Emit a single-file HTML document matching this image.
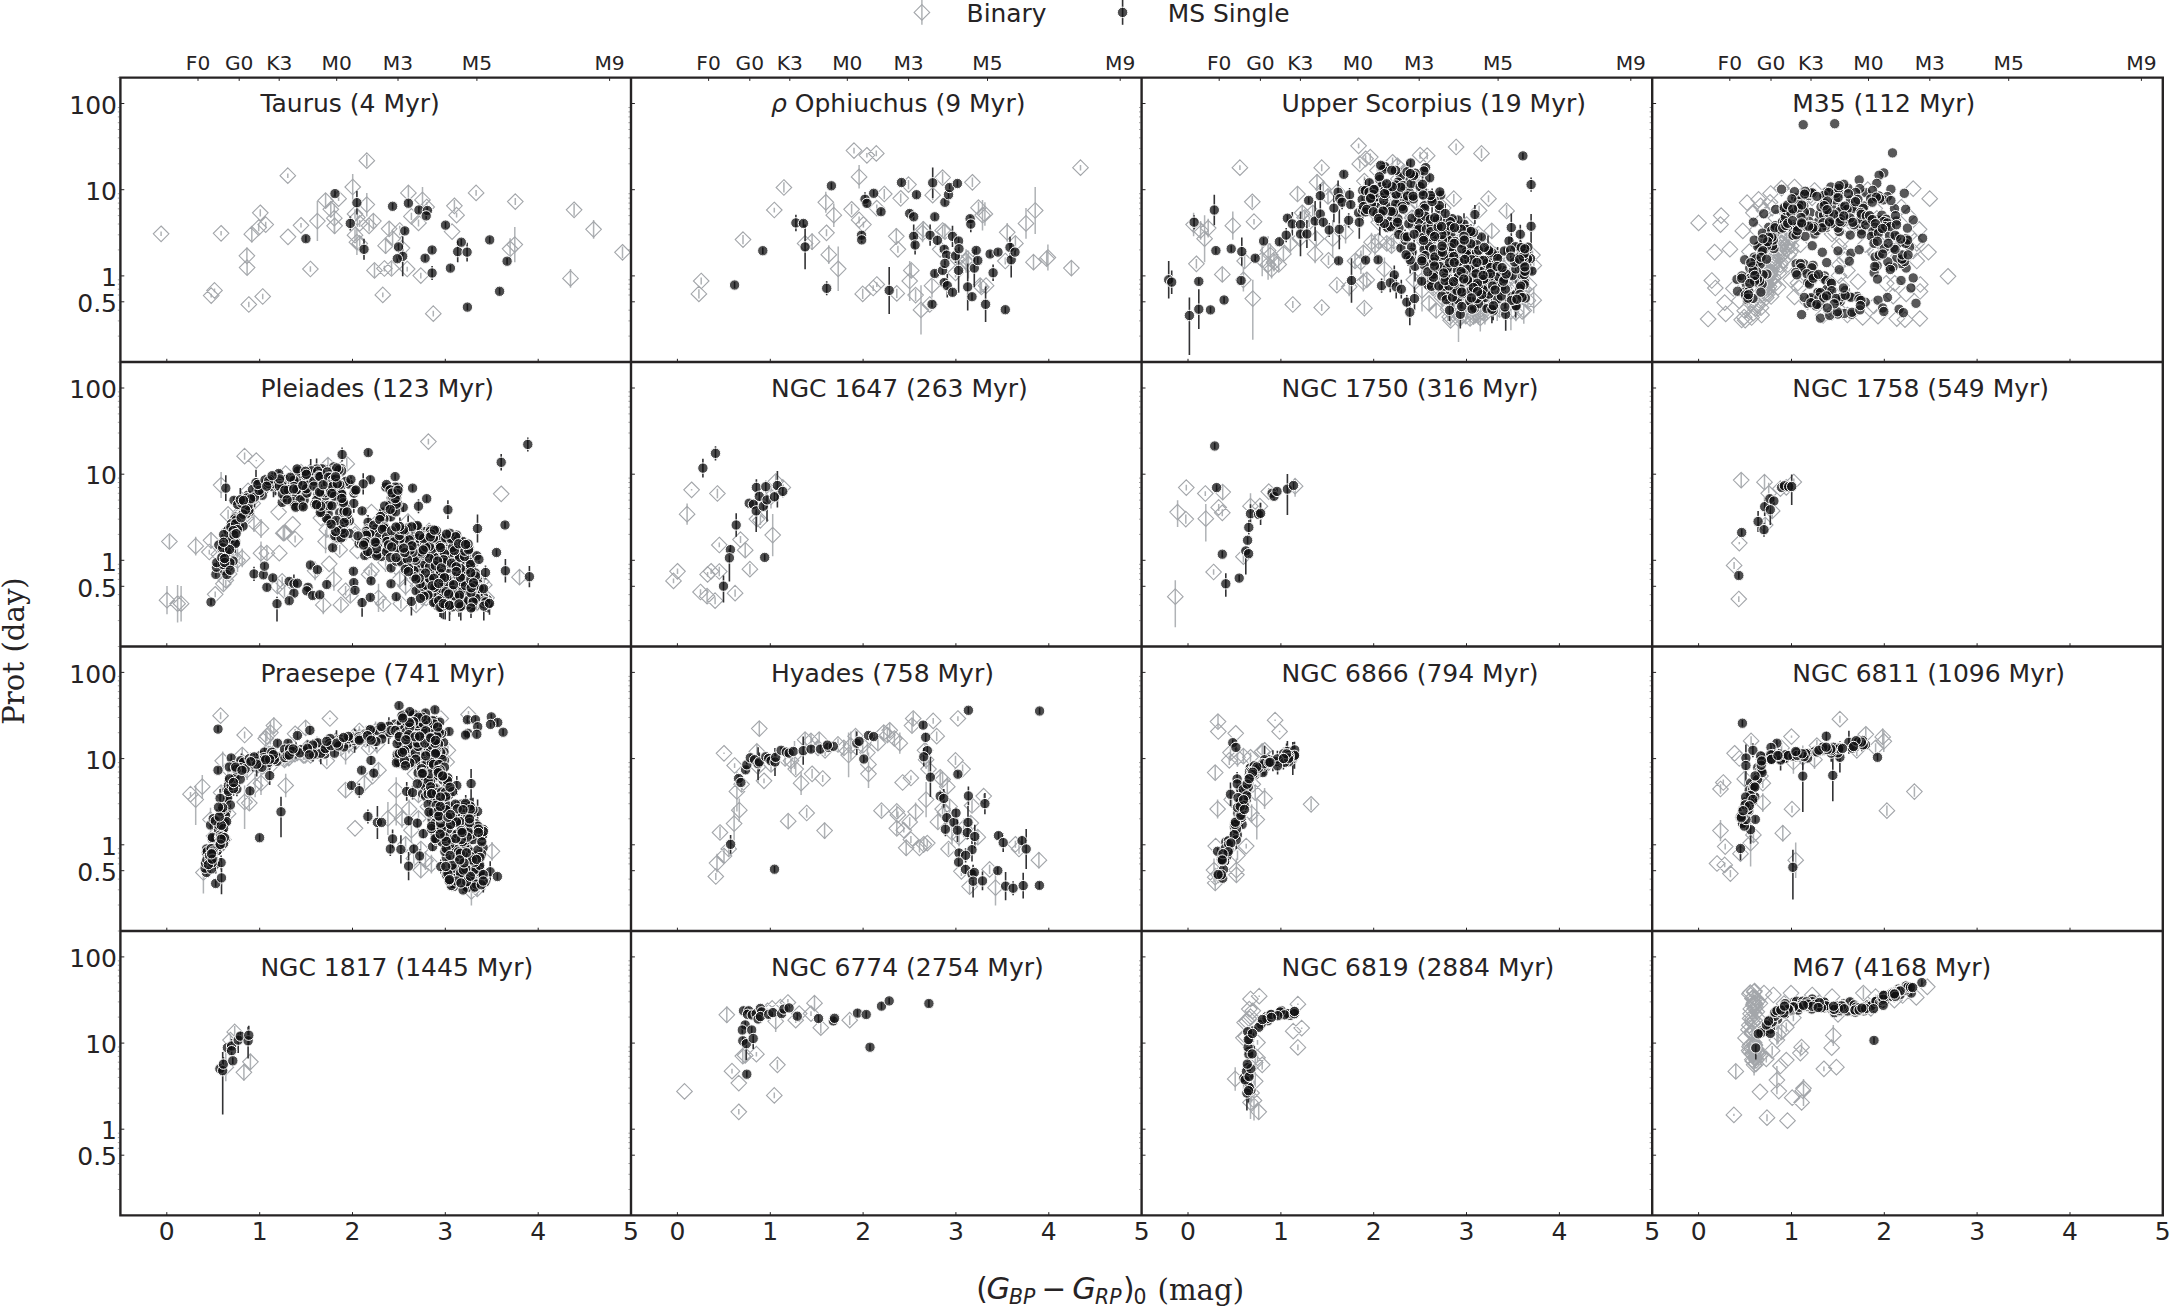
<!DOCTYPE html><html><head><meta charset="utf-8"><title>Prot vs colour</title><style>html,body{margin:0;padding:0;background:#fff}svg{display:block}text{font-family:"DejaVu Sans","Liberation Sans",sans-serif;fill:#262324}.s{font-family:"DejaVu Serif","Liberation Serif",serif}.i{font-style:italic}</style></head><body>
<svg width="2170" height="1306" viewBox="0 0 2170 1306">
<rect width="2170" height="1306" fill="#fff"/>
<path d="M161.1 231.4V236.1M221.1 230.9V235.6M211.2 293.7V297.4M214.5 288.5V292.3M248.8 301.7V307.3M262.7 293.7V299.3M246.9 247.6V264.1M247.1 260.5V274.6M251.8 226V242.4M258.7 224.1V231.2M260.3 209.3V216.4M265.7 221.8V227.4M287.8 173.4V178.1M301 222.9V227.6M310.4 266.2V271.8M317.4 201.1V241M325.6 193.6V207.7M330.8 201.1V217.5M334.3 204.1V232.3M334.6 217.5V234M338.6 196.4V201.1M352.7 174.1V199.9M355 209.3V218.7M357.4 208.1V226.9M359.7 219.9V226.9M355 229.3V241M356.9 229.3V255.1M359.7 236.3V250.4M366.8 154.8V166.5M366.8 192.9V216.4M369.1 219.9V231.6M373.4 214V228.1M374.5 263.4V277.5M382.8 292.5V297.2M384.4 265.7V271.4M385.6 237.5V254M389.1 221.8V235.9M391.5 261.5V275.6M392.6 231.6V245.7M399.7 225.8V235.2M402 243.4V252.8M407.2 266.7V271.4M408.4 185.8V199.9M411.4 212.8V219.9M418.5 219.4V226.5M420.8 272.8V278.4M422.5 187V212.8M426.7 202.3V211.7M433.3 310.8V316.5M454.4 199.9V211.7M456.6 212.8V217.5M476.1 190V195.7M510.1 238.2V259.4M515.3 198V205.1M514.8 226.9V262.2M574.1 203.9V215.7M570.5 269V287.8M593.6 219.9V238.7M622.5 246.4V258.2" stroke="#b0b3b6" stroke-width="1.5" fill="none"/><path d="M161.1 226l7.8 7.8l-7.8 7.8l-7.8 -7.8zM221.1 225.5l7.8 7.8l-7.8 7.8l-7.8 -7.8zM211.2 287.8l7.8 7.8l-7.8 7.8l-7.8 -7.8zM214.5 282.6l7.8 7.8l-7.8 7.8l-7.8 -7.8zM248.8 296.7l7.8 7.8l-7.8 7.8l-7.8 -7.8zM262.7 288.7l7.8 7.8l-7.8 7.8l-7.8 -7.8zM246.9 248l7.8 7.8l-7.8 7.8l-7.8 -7.8zM247.1 259.8l7.8 7.8l-7.8 7.8l-7.8 -7.8zM251.8 226.4l7.8 7.8l-7.8 7.8l-7.8 -7.8zM258.7 219.8l7.8 7.8l-7.8 7.8l-7.8 -7.8zM260.3 205l7.8 7.8l-7.8 7.8l-7.8 -7.8zM265.7 216.8l7.8 7.8l-7.8 7.8l-7.8 -7.8zM287.8 167.9l7.8 7.8l-7.8 7.8l-7.8 -7.8zM288 229l7.8 7.8l-7.8 7.8l-7.8 -7.8zM301 217.5l7.8 7.8l-7.8 7.8l-7.8 -7.8zM310.4 261.2l7.8 7.8l-7.8 7.8l-7.8 -7.8zM317.4 213.3l7.8 7.8l-7.8 7.8l-7.8 -7.8zM325.6 192.8l7.8 7.8l-7.8 7.8l-7.8 -7.8zM330.8 201.5l7.8 7.8l-7.8 7.8l-7.8 -7.8zM334.3 210.4l7.8 7.8l-7.8 7.8l-7.8 -7.8zM334.6 218l7.8 7.8l-7.8 7.8l-7.8 -7.8zM338.6 190.9l7.8 7.8l-7.8 7.8l-7.8 -7.8zM352.7 179.2l7.8 7.8l-7.8 7.8l-7.8 -7.8zM355 206.2l7.8 7.8l-7.8 7.8l-7.8 -7.8zM357.4 209.7l7.8 7.8l-7.8 7.8l-7.8 -7.8zM359.7 215.6l7.8 7.8l-7.8 7.8l-7.8 -7.8zM355 227.4l7.8 7.8l-7.8 7.8l-7.8 -7.8zM356.9 234.4l7.8 7.8l-7.8 7.8l-7.8 -7.8zM359.7 235.6l7.8 7.8l-7.8 7.8l-7.8 -7.8zM366.8 152.9l7.8 7.8l-7.8 7.8l-7.8 -7.8zM366.8 196.8l7.8 7.8l-7.8 7.8l-7.8 -7.8zM369.1 218l7.8 7.8l-7.8 7.8l-7.8 -7.8zM373.4 213.3l7.8 7.8l-7.8 7.8l-7.8 -7.8zM374.5 262.6l7.8 7.8l-7.8 7.8l-7.8 -7.8zM382.8 287.1l7.8 7.8l-7.8 7.8l-7.8 -7.8zM384.4 260.7l7.8 7.8l-7.8 7.8l-7.8 -7.8zM385.6 237.9l7.8 7.8l-7.8 7.8l-7.8 -7.8zM389.1 221l7.8 7.8l-7.8 7.8l-7.8 -7.8zM391.5 260.7l7.8 7.8l-7.8 7.8l-7.8 -7.8zM392.6 230.9l7.8 7.8l-7.8 7.8l-7.8 -7.8zM399.7 222.7l7.8 7.8l-7.8 7.8l-7.8 -7.8zM402 240.3l7.8 7.8l-7.8 7.8l-7.8 -7.8zM407.2 261.2l7.8 7.8l-7.8 7.8l-7.8 -7.8zM408.4 185.1l7.8 7.8l-7.8 7.8l-7.8 -7.8zM411.4 208.6l7.8 7.8l-7.8 7.8l-7.8 -7.8zM418.5 215.1l7.8 7.8l-7.8 7.8l-7.8 -7.8zM420.8 267.8l7.8 7.8l-7.8 7.8l-7.8 -7.8zM422.5 192.1l7.8 7.8l-7.8 7.8l-7.8 -7.8zM426.7 199.2l7.8 7.8l-7.8 7.8l-7.8 -7.8zM433.3 305.9l7.8 7.8l-7.8 7.8l-7.8 -7.8zM452.1 223.8l7.8 7.8l-7.8 7.8l-7.8 -7.8zM454.4 198l7.8 7.8l-7.8 7.8l-7.8 -7.8zM456.6 207.4l7.8 7.8l-7.8 7.8l-7.8 -7.8zM476.1 185.1l7.8 7.8l-7.8 7.8l-7.8 -7.8zM510.1 241l7.8 7.8l-7.8 7.8l-7.8 -7.8zM515.3 193.8l7.8 7.8l-7.8 7.8l-7.8 -7.8zM514.8 236.8l7.8 7.8l-7.8 7.8l-7.8 -7.8zM574.1 202l7.8 7.8l-7.8 7.8l-7.8 -7.8zM570.5 270.6l7.8 7.8l-7.8 7.8l-7.8 -7.8zM593.6 221.5l7.8 7.8l-7.8 7.8l-7.8 -7.8zM622.5 244.5l7.8 7.8l-7.8 7.8l-7.8 -7.8z" stroke="#a3a6aa" stroke-width="1.1" fill="none"/><path d="M335 190.4V196.8M356.9 191V214.5M350.3 216.4V230.5M305.9 235.5V241.9M364 238.7V259.8M392.6 203.1V209.5M408.4 200V206.4M418.9 206.8V213.2M427.4 207.3V213.7M426.2 212.7V219.1M404.8 227.7V234.1M398.5 243.7V250.1M402.7 236.3V276.3M397.3 255.5V261.9M425.1 255V261.4M432.1 246.8V253.2M432.1 265.9V280.1M445.5 221.9V228.3M450.4 264.9V271.3M457.7 241V262.2M461.3 239V245.4M467.1 242.7V261.5M467.4 303.9V310.3M489.7 236.7V243.1M499.6 288.1V294.5M507.1 258V264.4" stroke="#333335" stroke-width="1.6" fill="none"/><g fill="#111113" fill-opacity="0.75" stroke="#fff" stroke-width="1"><circle cx="335" cy="193.6" r="5.2"/><circle cx="356.9" cy="202.7" r="5.2"/><circle cx="350.3" cy="223.4" r="5.2"/><circle cx="305.9" cy="238.7" r="5.2"/><circle cx="364" cy="249.3" r="5.2"/><circle cx="392.6" cy="206.3" r="5.2"/><circle cx="408.4" cy="203.2" r="5.2"/><circle cx="418.9" cy="210" r="5.2"/><circle cx="427.4" cy="210.5" r="5.2"/><circle cx="426.2" cy="215.9" r="5.2"/><circle cx="404.8" cy="230.9" r="5.2"/><circle cx="398.5" cy="246.9" r="5.2"/><circle cx="402.7" cy="256.3" r="5.2"/><circle cx="397.3" cy="258.7" r="5.2"/><circle cx="425.1" cy="258.2" r="5.2"/><circle cx="432.1" cy="250" r="5.2"/><circle cx="432.1" cy="273" r="5.2"/><circle cx="445.5" cy="225.1" r="5.2"/><circle cx="450.4" cy="268.1" r="5.2"/><circle cx="457.7" cy="251.6" r="5.2"/><circle cx="461.3" cy="242.2" r="5.2"/><circle cx="467.1" cy="252.1" r="5.2"/><circle cx="467.4" cy="307.1" r="5.2"/><circle cx="489.7" cy="239.9" r="5.2"/><circle cx="499.6" cy="291.3" r="5.2"/><circle cx="507.1" cy="261.2" r="5.2"/></g>
<path d="M701.2 277.5V284.5M698.9 289.2V298.6M743 234.9V244.3M774.3 207.7V212.4M783.9 182.3V192.6M805.1 238.7V248.1M812.1 233.5V250M825.8 191.7V212.8M826.5 229.3V236.3M833.8 203.4V226.9M828.8 245.3V264.1M838.2 246.4V291.1M854 147.7V153.4M866.9 152.9V157.6M876.3 150.6V156.2M859.1 165.1V188.6M851.6 204.1V214.5M859.1 216.4V223.4M863.4 221.8V227.4M876.8 204.6V211.7M884.3 188.9V199.2M862.7 288.7V299.1M873.2 285.2V290.9M876.8 282.2V286.9M896.8 288.7V298.1M896.3 228.1V244.6M897.9 245.7V252.8M900.7 193.6V203M908.5 179.9V189.3M911.3 263.4V277.5M909.7 261V301M915.6 289.2V301M921 285.2V334.6M923.3 221.1V237.5M922.6 223.4V242.2M932 273.9V297.4M929.7 302.1V306.8M932.7 190.5V199.9M942.6 171.7V183.5M942.6 224.6V236.3M944.9 224.6V238.7M940.2 245.7V252.8M956.7 251.6V265.7M955.5 268.1V277.5M966.1 249.3V272.8M968.4 250.4V278.6M967.3 254V263.4M972.4 177.6V187M978.5 201.8V213.5M982.5 199.9V230.5M984.9 202.3V225.8M980.2 278.6V292.7M981.4 282.2V291.6M986.1 283.3V288M1007.2 222.9V241.7M1015.4 236.3V250.4M1005.3 257.5V264.5M1026 208.1V238.7M1035.2 187V234M1033.5 255.1V269.2M1046.7 251.6V265.7M1047.9 244.6V270.4M1071.4 261V275.1M1080.5 164.9V170.5" stroke="#b0b3b6" stroke-width="1.5" fill="none"/><path d="M701.2 273.2l7.8 7.8l-7.8 7.8l-7.8 -7.8zM698.9 286.1l7.8 7.8l-7.8 7.8l-7.8 -7.8zM743 231.8l7.8 7.8l-7.8 7.8l-7.8 -7.8zM774.3 202.2l7.8 7.8l-7.8 7.8l-7.8 -7.8zM783.9 179.7l7.8 7.8l-7.8 7.8l-7.8 -7.8zM805.1 235.6l7.8 7.8l-7.8 7.8l-7.8 -7.8zM812.1 233.9l7.8 7.8l-7.8 7.8l-7.8 -7.8zM825.8 194.5l7.8 7.8l-7.8 7.8l-7.8 -7.8zM826.5 225l7.8 7.8l-7.8 7.8l-7.8 -7.8zM833.8 207.4l7.8 7.8l-7.8 7.8l-7.8 -7.8zM828.8 246.9l7.8 7.8l-7.8 7.8l-7.8 -7.8zM838.2 261l7.8 7.8l-7.8 7.8l-7.8 -7.8zM854 142.8l7.8 7.8l-7.8 7.8l-7.8 -7.8zM866.9 147.5l7.8 7.8l-7.8 7.8l-7.8 -7.8zM876.3 145.6l7.8 7.8l-7.8 7.8l-7.8 -7.8zM859.1 169.1l7.8 7.8l-7.8 7.8l-7.8 -7.8zM851.6 201.5l7.8 7.8l-7.8 7.8l-7.8 -7.8zM859.1 212.1l7.8 7.8l-7.8 7.8l-7.8 -7.8zM863.4 216.8l7.8 7.8l-7.8 7.8l-7.8 -7.8zM876.8 200.3l7.8 7.8l-7.8 7.8l-7.8 -7.8zM884.3 186.2l7.8 7.8l-7.8 7.8l-7.8 -7.8zM862.7 286.1l7.8 7.8l-7.8 7.8l-7.8 -7.8zM873.2 280.2l7.8 7.8l-7.8 7.8l-7.8 -7.8zM876.8 276.7l7.8 7.8l-7.8 7.8l-7.8 -7.8zM896.8 285.6l7.8 7.8l-7.8 7.8l-7.8 -7.8zM896.3 228.5l7.8 7.8l-7.8 7.8l-7.8 -7.8zM897.9 241.5l7.8 7.8l-7.8 7.8l-7.8 -7.8zM900.7 190.5l7.8 7.8l-7.8 7.8l-7.8 -7.8zM908.5 176.8l7.8 7.8l-7.8 7.8l-7.8 -7.8zM911.3 262.6l7.8 7.8l-7.8 7.8l-7.8 -7.8zM909.7 273.2l7.8 7.8l-7.8 7.8l-7.8 -7.8zM915.6 287.3l7.8 7.8l-7.8 7.8l-7.8 -7.8zM921 302.1l7.8 7.8l-7.8 7.8l-7.8 -7.8zM923.3 221.5l7.8 7.8l-7.8 7.8l-7.8 -7.8zM922.6 225l7.8 7.8l-7.8 7.8l-7.8 -7.8zM932 277.9l7.8 7.8l-7.8 7.8l-7.8 -7.8zM929.7 296.7l7.8 7.8l-7.8 7.8l-7.8 -7.8zM932.7 187.4l7.8 7.8l-7.8 7.8l-7.8 -7.8zM942.6 169.8l7.8 7.8l-7.8 7.8l-7.8 -7.8zM942.6 222.7l7.8 7.8l-7.8 7.8l-7.8 -7.8zM944.9 223.8l7.8 7.8l-7.8 7.8l-7.8 -7.8zM940.2 241.5l7.8 7.8l-7.8 7.8l-7.8 -7.8zM956.7 250.9l7.8 7.8l-7.8 7.8l-7.8 -7.8zM955.5 265l7.8 7.8l-7.8 7.8l-7.8 -7.8zM966.1 253.2l7.8 7.8l-7.8 7.8l-7.8 -7.8zM968.4 256.7l7.8 7.8l-7.8 7.8l-7.8 -7.8zM967.3 250.9l7.8 7.8l-7.8 7.8l-7.8 -7.8zM972.4 174.5l7.8 7.8l-7.8 7.8l-7.8 -7.8zM978.5 199.9l7.8 7.8l-7.8 7.8l-7.8 -7.8zM982.5 207.4l7.8 7.8l-7.8 7.8l-7.8 -7.8zM984.9 206.2l7.8 7.8l-7.8 7.8l-7.8 -7.8zM980.2 277.9l7.8 7.8l-7.8 7.8l-7.8 -7.8zM981.4 279.1l7.8 7.8l-7.8 7.8l-7.8 -7.8zM986.1 277.9l7.8 7.8l-7.8 7.8l-7.8 -7.8zM1007.2 224.5l7.8 7.8l-7.8 7.8l-7.8 -7.8zM1015.4 235.6l7.8 7.8l-7.8 7.8l-7.8 -7.8zM1005.3 253.2l7.8 7.8l-7.8 7.8l-7.8 -7.8zM1026 215.6l7.8 7.8l-7.8 7.8l-7.8 -7.8zM1035.2 202.7l7.8 7.8l-7.8 7.8l-7.8 -7.8zM1033.5 254.4l7.8 7.8l-7.8 7.8l-7.8 -7.8zM1046.7 250.9l7.8 7.8l-7.8 7.8l-7.8 -7.8zM1047.9 249.7l7.8 7.8l-7.8 7.8l-7.8 -7.8zM1071.4 260.3l7.8 7.8l-7.8 7.8l-7.8 -7.8zM1080.5 159.9l7.8 7.8l-7.8 7.8l-7.8 -7.8z" stroke="#a3a6aa" stroke-width="1.1" fill="none"/><path d="M734.6 281.8V288.2M762.8 247.5V253.9M795.9 214.7V231.2M803.4 219.9V226.9M805.1 224.6V269.2M826.7 281.2V295.3M831.4 182.6V189M861.5 231.6V238.7M861.7 236.7V243.1M865 192.2V206.3M866.9 199.9V207M873.7 190.1V196.5M881 208.5V214.9M889.2 266.9V313.9M901.5 179.3V185.7M909.7 210.3V216.7M913.7 213.6V220M913.7 224.6V248.1M915.1 235.6V254.4M916.5 191.5V197.9M930.1 224.6V245.7M932 301.1V307.5M932.7 167.5V198M934.8 213.6V220M934.8 270.3V276.7M937.4 235.6V245M942.6 266.9V273.9M944.2 245.7V252.8M944.9 199.1V205.5M946.6 251.6V258.7M944.9 259.8V266.9M944.2 279.1V286.2M947.3 273.9V297.4M948.5 191.5V197.9M949.6 184.3V190.7M952.5 288.7V295.8M952.5 225.8V246.9M955.5 248.8V262.9M957.4 180.3V186.7M958.6 237.5V244.6M959 245.3V252.3M958.6 248.1V292.7M967.7 263.4V310.4M970.1 215.2V222.2M970.8 215.9V232.3M972 293.2V300.3M974.3 249.3V286.9M976.2 247.2V253.6M977.8 257.3V263.7M985.6 286.6V321.9M990.1 250.8V257.2M993.1 264.5V281M998 248.9V255.3M1005.3 306.5V312.9M1010 236.8V258M1011.2 242.2V277.5M1015 248.9V255.3" stroke="#333335" stroke-width="1.6" fill="none"/><g fill="#111113" fill-opacity="0.75" stroke="#fff" stroke-width="1"><circle cx="734.6" cy="285" r="5.2"/><circle cx="762.8" cy="250.7" r="5.2"/><circle cx="795.9" cy="222.9" r="5.2"/><circle cx="803.4" cy="223.4" r="5.2"/><circle cx="805.1" cy="246.9" r="5.2"/><circle cx="826.7" cy="288.3" r="5.2"/><circle cx="831.4" cy="185.8" r="5.2"/><circle cx="861.5" cy="235.2" r="5.2"/><circle cx="861.7" cy="239.9" r="5.2"/><circle cx="865" cy="199.2" r="5.2"/><circle cx="866.9" cy="203.4" r="5.2"/><circle cx="873.7" cy="193.3" r="5.2"/><circle cx="881" cy="211.7" r="5.2"/><circle cx="889.2" cy="290.4" r="5.2"/><circle cx="901.5" cy="182.5" r="5.2"/><circle cx="909.7" cy="213.5" r="5.2"/><circle cx="913.7" cy="216.8" r="5.2"/><circle cx="913.7" cy="236.3" r="5.2"/><circle cx="915.1" cy="245" r="5.2"/><circle cx="916.5" cy="194.7" r="5.2"/><circle cx="930.1" cy="235.2" r="5.2"/><circle cx="932" cy="304.3" r="5.2"/><circle cx="932.7" cy="182.8" r="5.2"/><circle cx="934.8" cy="216.8" r="5.2"/><circle cx="934.8" cy="273.5" r="5.2"/><circle cx="937.4" cy="240.3" r="5.2"/><circle cx="942.6" cy="270.4" r="5.2"/><circle cx="944.2" cy="249.3" r="5.2"/><circle cx="944.9" cy="202.3" r="5.2"/><circle cx="946.6" cy="255.1" r="5.2"/><circle cx="944.9" cy="263.4" r="5.2"/><circle cx="944.2" cy="282.6" r="5.2"/><circle cx="947.3" cy="285.7" r="5.2"/><circle cx="948.5" cy="194.7" r="5.2"/><circle cx="949.6" cy="187.5" r="5.2"/><circle cx="952.5" cy="292.3" r="5.2"/><circle cx="952.5" cy="236.3" r="5.2"/><circle cx="955.5" cy="255.8" r="5.2"/><circle cx="957.4" cy="183.5" r="5.2"/><circle cx="958.6" cy="241" r="5.2"/><circle cx="959" cy="248.8" r="5.2"/><circle cx="958.6" cy="270.4" r="5.2"/><circle cx="967.7" cy="286.9" r="5.2"/><circle cx="970.1" cy="218.7" r="5.2"/><circle cx="970.8" cy="224.1" r="5.2"/><circle cx="972" cy="296.7" r="5.2"/><circle cx="974.3" cy="268.1" r="5.2"/><circle cx="976.2" cy="250.4" r="5.2"/><circle cx="977.8" cy="260.5" r="5.2"/><circle cx="985.6" cy="304.3" r="5.2"/><circle cx="990.1" cy="254" r="5.2"/><circle cx="993.1" cy="272.8" r="5.2"/><circle cx="998" cy="252.1" r="5.2"/><circle cx="1005.3" cy="309.7" r="5.2"/><circle cx="1010" cy="247.4" r="5.2"/><circle cx="1011.2" cy="259.8" r="5.2"/><circle cx="1015" cy="252.1" r="5.2"/></g>
<path d="M1239.9 165.3V170M1252.3 195.9V207.6M1254 218.9V224.6M1232.8 211.6V239.8M1196.4 259.1V268.5M1193.6 212.8V236.3M1200.6 221V239.8M1208.2 218.7V237.5M1204.6 215.2V262.2M1222.3 267.3V281.4M1243.4 268V291.5M1252.8 279.8V339.7M1244.6 253.9V268M1262.2 243.4V276.3M1268.1 236.3V264.5M1270.4 243.4V266.9M1274 252.8V271.6M1268.1 249.2V279.8M1271.6 259.8V278.6M1278.7 257.5V271.6M1283.4 246.9V261M1292.8 300.9V308M1321.7 304V311.1M1364.4 302.4V314.1M1336.9 280.5V289.9M1328.5 255.6V265M1315.1 244.5V263.3M1316.3 231.6V245.7M1297.5 187V201.1M1302.2 205.8V219.9M1317 174V190.5M1321.7 164.2V171.2M1323.3 179.9V198.7M1328 189.3V203.4M1337.4 184.6V198.7M1358.6 143.5V148.2M1359.7 159.2V168.6M1365.6 155.2V162.3M1370.3 153.6V160.6M1364.4 176.4V185.8M1392.6 157.6V167M1397.4 159.9V171.7M1377.4 165.8V175.2M1420.1 151.7V158.8M1427.2 152.2V159.2M1456.1 143.5V150.5M1481.5 148.6V158.1M1453.8 194V203.4M1488.5 195.2V202.2M1506.6 205.1V216.8M1479.1 205.8V215.2M1443.2 203.4V212.8M1466.7 219.9V229.3M1491.8 223.9V238M1478.4 229.3V238.7M1532.5 250.4V259.8M1533.7 287.3V313.2M1526.6 262.2V276.3M1518.4 276.3V290.4M1516 281V295.1M1436.1 303.3V317.4M1429.1 296.2V310.3M1422 269.2V311.5M1413.8 270.4V289.2M1458.5 295.1V342.1M1478.4 305.6V324.4M1483.1 305.6V319.7M1497.2 292.7V320.9M1510.9 292.7V330.3M1447.9 297.4V320.9M1442 288V306.8M1438.5 278.6V297.4M1349.2 277.4V296.2M1363.3 272.7V291.5M1366.8 272.7V286.8M1355 253.9V268M1360.9 250.4V273.9M1363.3 245.7V259.8M1384.4 257.5V281M1371.5 232.8V251.6M1375 234V257.5M1378.5 234V248.1M1386.8 236.3V250.4M1391.5 238.7V252.8M1393.8 234V248.1M1332.7 219.9V257.5M1345.6 219.9V243.4M1290.4 234V252.8M1299.8 231.6V245.7M1309.2 217.5V226.9M1312.7 205.8V219.9M1304.5 210.5V224.6M1381.3 208.5V225.2M1427.7 191.3V202.7M1379.3 194.8V211.6M1397.4 187.3V203.5M1417 214.5V236.4M1369.3 197.9V214.5M1391 208.7V220.2M1394.7 184.9V207.2M1401.9 197.4V212.2M1373.7 206.2V217.5M1420.4 217.9V229.9M1399.9 184V194.7M1416.7 176.2V196M1415.1 221.5V233.6M1377.3 187.4V208M1398.3 170.6V187.3M1416.7 193.9V209.2M1385.1 199.6V217.3M1393.7 195.6V206M1380.2 213V226.1M1411.7 174.7V184.3M1379.6 183.3V192.8M1456.8 223.2V233.5M1462 270.8V291.5M1424.8 231.7V253.5M1434.1 236.3V259.6M1471.6 230.7V242.2M1450 234.7V247.3M1455.9 237.7V254.7M1503.1 257.4V277.7M1490.7 281.3V298M1503.3 276.3V292.3M1439 228.9V240.4M1432.9 269.2V281M1462.6 281.9V292.5M1480.9 254.4V270.8M1444.7 247V266.5M1493.3 281.4V298.7M1483 260.1V279M1484 273.7V284.9M1485.5 266.2V287.4M1445.1 255.6V272.8M1475 260.2V279.2M1484.3 244.6V254M1460.2 228.8V239.9M1465.5 230.8V252.2M1533.8 260.4V270.3M1516.5 267.2V278.2M1450.2 269.3V281.1M1487.4 283.5V299.4M1516.9 268.4V286.1M1529 278.4V291.5M1473.5 307.6V324.7M1457.5 272.2V295.2M1523.8 297.3V323.7M1456.2 277.9V287.9M1480.3 304.3V331.6M1468.2 273.7V283.7M1459.7 296.8V318.2M1453.9 298.1V315.8M1474 269.1V285.4M1460.9 307.2V317.1M1459.8 286V304.8M1497.1 261.7V280.4M1523.9 279.7V298.7M1489.1 297.3V309.5M1439 269.8V296M1474.9 289.1V303.5M1476.9 271.4V280.8M1478.4 266.4V277.6M1499.6 302.7V316M1449.7 312.2V321.6M1494.5 280.9V291M1460.9 309.4V325.6M1498.1 264V278.2M1462.1 286.1V295.9M1454.5 301.1V319.9M1450.6 314V326.6M1433.2 281.5V294.7M1515.9 303.6V321.2M1466.2 296.7V310M1476.8 306V320.9M1484.9 303.8V324.6M1527.9 294.3V306.4M1475.3 309.3V321M1517.2 259.3V283.5M1423.7 272.9V284.4M1465.8 308.2V324.1M1470.1 311.1V325.5M1432 265.6V293.6M1455.4 269.3V279.8" stroke="#b0b3b6" stroke-width="1.5" fill="none"/><path d="M1239.9 159.9l7.8 7.8l-7.8 7.8l-7.8 -7.8zM1252.3 194l7.8 7.8l-7.8 7.8l-7.8 -7.8zM1254 213.9l7.8 7.8l-7.8 7.8l-7.8 -7.8zM1232.8 217.9l7.8 7.8l-7.8 7.8l-7.8 -7.8zM1196.4 256l7.8 7.8l-7.8 7.8l-7.8 -7.8zM1193.6 216.8l7.8 7.8l-7.8 7.8l-7.8 -7.8zM1200.6 222.6l7.8 7.8l-7.8 7.8l-7.8 -7.8zM1208.2 220.3l7.8 7.8l-7.8 7.8l-7.8 -7.8zM1204.6 230.9l7.8 7.8l-7.8 7.8l-7.8 -7.8zM1222.3 266.6l7.8 7.8l-7.8 7.8l-7.8 -7.8zM1243.4 272l7.8 7.8l-7.8 7.8l-7.8 -7.8zM1252.8 290.8l7.8 7.8l-7.8 7.8l-7.8 -7.8zM1244.6 253.2l7.8 7.8l-7.8 7.8l-7.8 -7.8zM1262.2 252l7.8 7.8l-7.8 7.8l-7.8 -7.8zM1268.1 242.6l7.8 7.8l-7.8 7.8l-7.8 -7.8zM1270.4 247.3l7.8 7.8l-7.8 7.8l-7.8 -7.8zM1274 254.4l7.8 7.8l-7.8 7.8l-7.8 -7.8zM1268.1 256.7l7.8 7.8l-7.8 7.8l-7.8 -7.8zM1271.6 261.4l7.8 7.8l-7.8 7.8l-7.8 -7.8zM1278.7 256.7l7.8 7.8l-7.8 7.8l-7.8 -7.8zM1283.4 246.1l7.8 7.8l-7.8 7.8l-7.8 -7.8zM1292.8 296.7l7.8 7.8l-7.8 7.8l-7.8 -7.8zM1321.7 299.7l7.8 7.8l-7.8 7.8l-7.8 -7.8zM1364.4 300.4l7.8 7.8l-7.8 7.8l-7.8 -7.8zM1336.9 277.4l7.8 7.8l-7.8 7.8l-7.8 -7.8zM1328.5 252.5l7.8 7.8l-7.8 7.8l-7.8 -7.8zM1315.1 246.1l7.8 7.8l-7.8 7.8l-7.8 -7.8zM1316.3 230.9l7.8 7.8l-7.8 7.8l-7.8 -7.8zM1297.5 186.2l7.8 7.8l-7.8 7.8l-7.8 -7.8zM1302.2 205l7.8 7.8l-7.8 7.8l-7.8 -7.8zM1317 174.5l7.8 7.8l-7.8 7.8l-7.8 -7.8zM1321.7 159.9l7.8 7.8l-7.8 7.8l-7.8 -7.8zM1323.3 181.5l7.8 7.8l-7.8 7.8l-7.8 -7.8zM1328 188.6l7.8 7.8l-7.8 7.8l-7.8 -7.8zM1337.4 183.9l7.8 7.8l-7.8 7.8l-7.8 -7.8zM1358.6 138l7.8 7.8l-7.8 7.8l-7.8 -7.8zM1359.7 156.1l7.8 7.8l-7.8 7.8l-7.8 -7.8zM1365.6 151l7.8 7.8l-7.8 7.8l-7.8 -7.8zM1370.3 149.3l7.8 7.8l-7.8 7.8l-7.8 -7.8zM1364.4 173.3l7.8 7.8l-7.8 7.8l-7.8 -7.8zM1392.6 154.5l7.8 7.8l-7.8 7.8l-7.8 -7.8zM1397.4 158l7.8 7.8l-7.8 7.8l-7.8 -7.8zM1377.4 162.7l7.8 7.8l-7.8 7.8l-7.8 -7.8zM1420.1 147.4l7.8 7.8l-7.8 7.8l-7.8 -7.8zM1427.2 147.9l7.8 7.8l-7.8 7.8l-7.8 -7.8zM1456.1 139.2l7.8 7.8l-7.8 7.8l-7.8 -7.8zM1481.5 145.6l7.8 7.8l-7.8 7.8l-7.8 -7.8zM1453.8 190.9l7.8 7.8l-7.8 7.8l-7.8 -7.8zM1488.5 190.9l7.8 7.8l-7.8 7.8l-7.8 -7.8zM1506.6 203.1l7.8 7.8l-7.8 7.8l-7.8 -7.8zM1479.1 202.7l7.8 7.8l-7.8 7.8l-7.8 -7.8zM1443.2 200.3l7.8 7.8l-7.8 7.8l-7.8 -7.8zM1466.7 216.8l7.8 7.8l-7.8 7.8l-7.8 -7.8zM1491.8 223.1l7.8 7.8l-7.8 7.8l-7.8 -7.8zM1478.4 226.2l7.8 7.8l-7.8 7.8l-7.8 -7.8zM1532.5 247.3l7.8 7.8l-7.8 7.8l-7.8 -7.8zM1533.7 292.4l7.8 7.8l-7.8 7.8l-7.8 -7.8zM1526.6 261.4l7.8 7.8l-7.8 7.8l-7.8 -7.8zM1518.4 275.5l7.8 7.8l-7.8 7.8l-7.8 -7.8zM1516 280.2l7.8 7.8l-7.8 7.8l-7.8 -7.8zM1436.1 302.5l7.8 7.8l-7.8 7.8l-7.8 -7.8zM1429.1 295.5l7.8 7.8l-7.8 7.8l-7.8 -7.8zM1422 282.6l7.8 7.8l-7.8 7.8l-7.8 -7.8zM1413.8 272l7.8 7.8l-7.8 7.8l-7.8 -7.8zM1458.5 310.8l7.8 7.8l-7.8 7.8l-7.8 -7.8zM1478.4 307.2l7.8 7.8l-7.8 7.8l-7.8 -7.8zM1483.1 304.9l7.8 7.8l-7.8 7.8l-7.8 -7.8zM1497.2 299l7.8 7.8l-7.8 7.8l-7.8 -7.8zM1510.9 303.7l7.8 7.8l-7.8 7.8l-7.8 -7.8zM1447.9 301.4l7.8 7.8l-7.8 7.8l-7.8 -7.8zM1442 289.6l7.8 7.8l-7.8 7.8l-7.8 -7.8zM1438.5 280.2l7.8 7.8l-7.8 7.8l-7.8 -7.8zM1349.2 279l7.8 7.8l-7.8 7.8l-7.8 -7.8zM1363.3 274.3l7.8 7.8l-7.8 7.8l-7.8 -7.8zM1366.8 272l7.8 7.8l-7.8 7.8l-7.8 -7.8zM1355 253.2l7.8 7.8l-7.8 7.8l-7.8 -7.8zM1360.9 254.4l7.8 7.8l-7.8 7.8l-7.8 -7.8zM1363.3 245l7.8 7.8l-7.8 7.8l-7.8 -7.8zM1384.4 261.4l7.8 7.8l-7.8 7.8l-7.8 -7.8zM1371.5 234.4l7.8 7.8l-7.8 7.8l-7.8 -7.8zM1375 237.9l7.8 7.8l-7.8 7.8l-7.8 -7.8zM1378.5 233.2l7.8 7.8l-7.8 7.8l-7.8 -7.8zM1386.8 235.6l7.8 7.8l-7.8 7.8l-7.8 -7.8zM1391.5 237.9l7.8 7.8l-7.8 7.8l-7.8 -7.8zM1393.8 233.2l7.8 7.8l-7.8 7.8l-7.8 -7.8zM1332.7 230.9l7.8 7.8l-7.8 7.8l-7.8 -7.8zM1345.6 223.8l7.8 7.8l-7.8 7.8l-7.8 -7.8zM1290.4 235.6l7.8 7.8l-7.8 7.8l-7.8 -7.8zM1299.8 230.9l7.8 7.8l-7.8 7.8l-7.8 -7.8zM1309.2 214.4l7.8 7.8l-7.8 7.8l-7.8 -7.8zM1312.7 205l7.8 7.8l-7.8 7.8l-7.8 -7.8zM1304.5 209.7l7.8 7.8l-7.8 7.8l-7.8 -7.8zM1381.3 209l7.8 7.8l-7.8 7.8l-7.8 -7.8zM1400.6 190.1l7.8 7.8l-7.8 7.8l-7.8 -7.8zM1422 174.5l7.8 7.8l-7.8 7.8l-7.8 -7.8zM1403.7 166.5l7.8 7.8l-7.8 7.8l-7.8 -7.8zM1427.7 189.2l7.8 7.8l-7.8 7.8l-7.8 -7.8zM1379.3 195.4l7.8 7.8l-7.8 7.8l-7.8 -7.8zM1412 174.6l7.8 7.8l-7.8 7.8l-7.8 -7.8zM1397.4 187.6l7.8 7.8l-7.8 7.8l-7.8 -7.8zM1413.5 210.5l7.8 7.8l-7.8 7.8l-7.8 -7.8zM1390.2 196.1l7.8 7.8l-7.8 7.8l-7.8 -7.8zM1417 217.7l7.8 7.8l-7.8 7.8l-7.8 -7.8zM1369.3 198.4l7.8 7.8l-7.8 7.8l-7.8 -7.8zM1391 206.6l7.8 7.8l-7.8 7.8l-7.8 -7.8zM1394.7 188.2l7.8 7.8l-7.8 7.8l-7.8 -7.8zM1401.9 197l7.8 7.8l-7.8 7.8l-7.8 -7.8zM1419.3 205.7l7.8 7.8l-7.8 7.8l-7.8 -7.8zM1407.7 185.4l7.8 7.8l-7.8 7.8l-7.8 -7.8zM1373.7 204l7.8 7.8l-7.8 7.8l-7.8 -7.8zM1420.4 216.1l7.8 7.8l-7.8 7.8l-7.8 -7.8zM1399.9 181.5l7.8 7.8l-7.8 7.8l-7.8 -7.8zM1378.7 214.5l7.8 7.8l-7.8 7.8l-7.8 -7.8zM1416.7 178.3l7.8 7.8l-7.8 7.8l-7.8 -7.8zM1415.1 219.7l7.8 7.8l-7.8 7.8l-7.8 -7.8zM1391.8 188.1l7.8 7.8l-7.8 7.8l-7.8 -7.8zM1411.9 210l7.8 7.8l-7.8 7.8l-7.8 -7.8zM1380.7 201l7.8 7.8l-7.8 7.8l-7.8 -7.8zM1377.3 189.9l7.8 7.8l-7.8 7.8l-7.8 -7.8zM1398.3 171.1l7.8 7.8l-7.8 7.8l-7.8 -7.8zM1404 164.4l7.8 7.8l-7.8 7.8l-7.8 -7.8zM1409.7 203.7l7.8 7.8l-7.8 7.8l-7.8 -7.8zM1416.7 193.8l7.8 7.8l-7.8 7.8l-7.8 -7.8zM1371.5 191.6l7.8 7.8l-7.8 7.8l-7.8 -7.8zM1381.5 187.5l7.8 7.8l-7.8 7.8l-7.8 -7.8zM1385.1 200.6l7.8 7.8l-7.8 7.8l-7.8 -7.8zM1382.3 189.1l7.8 7.8l-7.8 7.8l-7.8 -7.8zM1420.5 174l7.8 7.8l-7.8 7.8l-7.8 -7.8zM1393.7 193l7.8 7.8l-7.8 7.8l-7.8 -7.8zM1380.2 211.7l7.8 7.8l-7.8 7.8l-7.8 -7.8zM1411.7 171.7l7.8 7.8l-7.8 7.8l-7.8 -7.8zM1379.6 180.3l7.8 7.8l-7.8 7.8l-7.8 -7.8zM1456.1 252l7.8 7.8l-7.8 7.8l-7.8 -7.8zM1456.8 220.6l7.8 7.8l-7.8 7.8l-7.8 -7.8zM1504.1 280.1l7.8 7.8l-7.8 7.8l-7.8 -7.8zM1467.6 232.5l7.8 7.8l-7.8 7.8l-7.8 -7.8zM1424.6 251.7l7.8 7.8l-7.8 7.8l-7.8 -7.8zM1462 273.3l7.8 7.8l-7.8 7.8l-7.8 -7.8zM1424.8 234.8l7.8 7.8l-7.8 7.8l-7.8 -7.8zM1421.8 230l7.8 7.8l-7.8 7.8l-7.8 -7.8zM1434.1 240.2l7.8 7.8l-7.8 7.8l-7.8 -7.8zM1486.1 238.9l7.8 7.8l-7.8 7.8l-7.8 -7.8zM1471.6 228.6l7.8 7.8l-7.8 7.8l-7.8 -7.8zM1500.1 265.9l7.8 7.8l-7.8 7.8l-7.8 -7.8zM1495 247.2l7.8 7.8l-7.8 7.8l-7.8 -7.8zM1469.2 265.8l7.8 7.8l-7.8 7.8l-7.8 -7.8zM1504.8 268.8l7.8 7.8l-7.8 7.8l-7.8 -7.8zM1450 233.2l7.8 7.8l-7.8 7.8l-7.8 -7.8zM1434 213.2l7.8 7.8l-7.8 7.8l-7.8 -7.8zM1455.9 238.4l7.8 7.8l-7.8 7.8l-7.8 -7.8zM1503.1 259.8l7.8 7.8l-7.8 7.8l-7.8 -7.8zM1433.3 253.9l7.8 7.8l-7.8 7.8l-7.8 -7.8zM1490.7 281.9l7.8 7.8l-7.8 7.8l-7.8 -7.8zM1503.3 276.5l7.8 7.8l-7.8 7.8l-7.8 -7.8zM1439 226.8l7.8 7.8l-7.8 7.8l-7.8 -7.8zM1445.6 263.3l7.8 7.8l-7.8 7.8l-7.8 -7.8zM1432.9 267.3l7.8 7.8l-7.8 7.8l-7.8 -7.8zM1462.6 279.4l7.8 7.8l-7.8 7.8l-7.8 -7.8zM1480.9 254.8l7.8 7.8l-7.8 7.8l-7.8 -7.8zM1444.7 248.9l7.8 7.8l-7.8 7.8l-7.8 -7.8zM1493.3 282.2l7.8 7.8l-7.8 7.8l-7.8 -7.8zM1483 261.8l7.8 7.8l-7.8 7.8l-7.8 -7.8zM1497.3 252.9l7.8 7.8l-7.8 7.8l-7.8 -7.8zM1445.1 245l7.8 7.8l-7.8 7.8l-7.8 -7.8zM1440.9 275.5l7.8 7.8l-7.8 7.8l-7.8 -7.8zM1430.1 240.8l7.8 7.8l-7.8 7.8l-7.8 -7.8zM1484 271.5l7.8 7.8l-7.8 7.8l-7.8 -7.8zM1430.9 219.4l7.8 7.8l-7.8 7.8l-7.8 -7.8zM1485.5 269l7.8 7.8l-7.8 7.8l-7.8 -7.8zM1506 256.8l7.8 7.8l-7.8 7.8l-7.8 -7.8zM1445.1 256.4l7.8 7.8l-7.8 7.8l-7.8 -7.8zM1491.4 260l7.8 7.8l-7.8 7.8l-7.8 -7.8zM1465.2 254.6l7.8 7.8l-7.8 7.8l-7.8 -7.8zM1428.1 240.1l7.8 7.8l-7.8 7.8l-7.8 -7.8zM1481.6 286.3l7.8 7.8l-7.8 7.8l-7.8 -7.8zM1475 261.9l7.8 7.8l-7.8 7.8l-7.8 -7.8zM1446.4 243.6l7.8 7.8l-7.8 7.8l-7.8 -7.8zM1417.5 216.1l7.8 7.8l-7.8 7.8l-7.8 -7.8zM1484.3 241.5l7.8 7.8l-7.8 7.8l-7.8 -7.8zM1432.1 267.9l7.8 7.8l-7.8 7.8l-7.8 -7.8zM1460.2 226.5l7.8 7.8l-7.8 7.8l-7.8 -7.8zM1465.5 233.7l7.8 7.8l-7.8 7.8l-7.8 -7.8zM1522.2 303.5l7.8 7.8l-7.8 7.8l-7.8 -7.8zM1533.8 257.6l7.8 7.8l-7.8 7.8l-7.8 -7.8zM1516.5 264.9l7.8 7.8l-7.8 7.8l-7.8 -7.8zM1444.7 275l7.8 7.8l-7.8 7.8l-7.8 -7.8zM1450.2 267.4l7.8 7.8l-7.8 7.8l-7.8 -7.8zM1487.4 283.6l7.8 7.8l-7.8 7.8l-7.8 -7.8zM1516.9 269.5l7.8 7.8l-7.8 7.8l-7.8 -7.8zM1529 277.1l7.8 7.8l-7.8 7.8l-7.8 -7.8zM1473.5 308.3l7.8 7.8l-7.8 7.8l-7.8 -7.8zM1457.5 275.9l7.8 7.8l-7.8 7.8l-7.8 -7.8zM1523.8 302.7l7.8 7.8l-7.8 7.8l-7.8 -7.8zM1456.2 275.1l7.8 7.8l-7.8 7.8l-7.8 -7.8zM1480.3 310.1l7.8 7.8l-7.8 7.8l-7.8 -7.8zM1468.2 270.9l7.8 7.8l-7.8 7.8l-7.8 -7.8zM1459.7 299.7l7.8 7.8l-7.8 7.8l-7.8 -7.8zM1453.9 299.2l7.8 7.8l-7.8 7.8l-7.8 -7.8zM1474 269.4l7.8 7.8l-7.8 7.8l-7.8 -7.8zM1460.9 304.3l7.8 7.8l-7.8 7.8l-7.8 -7.8zM1459.8 287.6l7.8 7.8l-7.8 7.8l-7.8 -7.8zM1497.1 263.3l7.8 7.8l-7.8 7.8l-7.8 -7.8zM1523.9 281.4l7.8 7.8l-7.8 7.8l-7.8 -7.8zM1489.1 295.6l7.8 7.8l-7.8 7.8l-7.8 -7.8zM1439 275.1l7.8 7.8l-7.8 7.8l-7.8 -7.8zM1474.9 288.5l7.8 7.8l-7.8 7.8l-7.8 -7.8zM1476.9 268.3l7.8 7.8l-7.8 7.8l-7.8 -7.8zM1521.7 287.2l7.8 7.8l-7.8 7.8l-7.8 -7.8zM1478.4 264.2l7.8 7.8l-7.8 7.8l-7.8 -7.8zM1499.6 301.5l7.8 7.8l-7.8 7.8l-7.8 -7.8zM1498.3 278.9l7.8 7.8l-7.8 7.8l-7.8 -7.8zM1524.1 281.2l7.8 7.8l-7.8 7.8l-7.8 -7.8zM1449.7 309.1l7.8 7.8l-7.8 7.8l-7.8 -7.8zM1494.5 278.1l7.8 7.8l-7.8 7.8l-7.8 -7.8zM1460.9 309.7l7.8 7.8l-7.8 7.8l-7.8 -7.8zM1498.1 263.3l7.8 7.8l-7.8 7.8l-7.8 -7.8zM1462.1 283.2l7.8 7.8l-7.8 7.8l-7.8 -7.8zM1454.5 302.7l7.8 7.8l-7.8 7.8l-7.8 -7.8zM1450.6 312.5l7.8 7.8l-7.8 7.8l-7.8 -7.8zM1433.2 280.3l7.8 7.8l-7.8 7.8l-7.8 -7.8zM1515.9 304.6l7.8 7.8l-7.8 7.8l-7.8 -7.8zM1466.2 295.6l7.8 7.8l-7.8 7.8l-7.8 -7.8zM1503.8 276.2l7.8 7.8l-7.8 7.8l-7.8 -7.8zM1476.8 305.6l7.8 7.8l-7.8 7.8l-7.8 -7.8zM1484.9 306.4l7.8 7.8l-7.8 7.8l-7.8 -7.8zM1527.9 292.6l7.8 7.8l-7.8 7.8l-7.8 -7.8zM1475.3 307.3l7.8 7.8l-7.8 7.8l-7.8 -7.8zM1506.3 298.1l7.8 7.8l-7.8 7.8l-7.8 -7.8zM1491.8 300l7.8 7.8l-7.8 7.8l-7.8 -7.8zM1514.5 291.9l7.8 7.8l-7.8 7.8l-7.8 -7.8zM1517.2 263.6l7.8 7.8l-7.8 7.8l-7.8 -7.8zM1484.6 301.1l7.8 7.8l-7.8 7.8l-7.8 -7.8zM1423.7 270.9l7.8 7.8l-7.8 7.8l-7.8 -7.8zM1465.8 308.4l7.8 7.8l-7.8 7.8l-7.8 -7.8zM1470.1 310.5l7.8 7.8l-7.8 7.8l-7.8 -7.8zM1432 271.8l7.8 7.8l-7.8 7.8l-7.8 -7.8zM1455.4 266.8l7.8 7.8l-7.8 7.8l-7.8 -7.8z" stroke="#a3a6aa" stroke-width="1.1" fill="none"/><path d="M1168.7 261V298.6M1171.7 270.4V293.9M1189.4 297.4V355M1198.8 278.2V284.6M1198.8 289.2V329.1M1210.5 306.7V313.1M1224.1 296.8V303.2M1194.1 215.2V229.3M1214.3 194.7V225.3M1215.9 247.4V253.8M1231.2 245.6V252M1241.8 237.5V265.7M1241.1 277.3V283.7M1255.2 255V261.4M1263.6 237.8V244.2M1279.4 238.2V245.2M1286.2 228.1V242.2M1287.4 214.7V221.7M1292.3 212.1V235.6M1300.5 215.2V234M1300.5 211.6V256.3M1306.9 219.9V248.1M1308.7 197.2V203.6M1315.1 201.1V241M1320.3 183.9V207.4M1320.3 206.9V221M1323.3 217.5V226.9M1329.2 222.9V237M1333.9 194V222.2M1338.1 180.4V203.9M1339.3 209.3V249.2M1339.8 194V203.4M1342.1 195.2V209.3M1343.8 171.1V177.5M1348.7 213.3V227.4M1349.6 187.9V202M1350.8 201.1V208.1M1338.6 257.6V264M1351.5 258.2V302.8M1358.6 205.8V219.9M1359.3 205.8V238.7M1362.8 187V194M1365.6 256.9V263.3M1378.1 256.6V263M1381.6 278.6V292.7M1394.3 265.5V284.3M1390.3 273.4V292.2M1396.2 275.1V298.6M1401.3 279.8V298.6M1406.8 295.1V309.2M1414.5 286.8V310.3M1409.8 299.3V325.2M1400.9 244.9V251.3M1522.9 152.7V159.1M1531.1 177.6V191.7M1531.1 214V244.5M1511.3 213.5V241.7M1520.3 224.8V243.6M1509 236.3V245.7M1474.9 205.1V223.9M1532 267.9V274.3M1525.4 294.6V301.6M1515.6 293.9V317.4M1505.7 297.9V330.8M1493.2 301.4V320.2M1460.3 300.2V328.4M1449.5 299.8V320.9M1503.9 268.6V275M1412.2 249V255.4M1433.5 217.1V223.5M1453.2 224.8V231.2M1439.4 205.8V212.2M1362.7 199.5V220.5M1497.1 268.4V274.8M1491.3 276.7V283.1M1450.8 231.6V238M1445.7 283V289.4M1512.1 293.2V299.6M1457.3 296.3V302.7M1415 251.1V281.5M1481.4 233.8V240.2M1471.9 246.3V252.7M1521 240.8V268.9M1484.8 284.5V310.7M1406.1 192V198.4M1432.1 259.8V278M1362.2 196.4V202.8M1385.9 185.5V191.9M1425.6 164.4V170.8M1384.9 163.4V169.8M1465.6 263.9V281.7M1491.8 269.2V275.6M1490 287.6V294M1440.8 191.8V198.2M1413.6 173.3V179.7M1464 213.3V235.2M1383 162V177.3M1399 224.8V231.2M1461.4 251.8V258.2M1432.1 233.1V247.4M1429.7 174.6V181M1400.5 168V184.2M1516.2 302.8V309.2M1434 234.8V241.2M1422.3 236V242.4M1376.2 203.9V210.3M1437.1 219.7V226.1M1371.4 200.7V207.1M1458 216.8V223.2M1379.7 165V193.8M1470.1 302.3V308.7M1493.7 266.7V273.1M1420.8 226.7V233.1M1405.3 237.1V243.5M1524.6 278.9V285.3M1398.9 231.4V237.8M1432.9 260.1V266.5M1460.5 275.1V293.2M1530.5 250V267.2M1448.4 265.5V271.9M1462.1 283.3V304.2M1442.5 218.8V225.2M1521.5 264V270.4M1488.2 257V263.4M1474.6 304.9V311.3M1482.3 290.8V297.2M1522.6 267.6V274M1516 280.2V308.2M1488 235.5V263.1M1434.1 196.1V202.5M1439.8 188.7V195.1M1443 283.8V290.2M1405 229.5V244M1489.1 275.9V282.3M1476 276.3V282.7M1382 182.4V188.8M1439.4 194.5V216.4M1452.1 215.4V221.8M1471.5 230.7V237.1M1471 277.6V284M1426.6 237.7V244.1M1497.3 252.5V258.9M1398.9 199.6V206M1424.5 212.7V219.1M1387.5 224.4V230.8M1514.2 296.5V302.9M1469.8 297.7V304.1M1375.9 184.6V209.2M1428.2 281.8V288.2M1511.4 297.2V303.6M1478.6 300.6V307M1521.3 271.2V277.6M1409.3 251.5V257.9M1422.5 204.7V236.4M1420.1 229.6V236M1380.7 162.1V168.5M1512.2 272.5V278.9M1408.1 248.3V265.8M1383.3 188.6V195M1431.7 195.5V201.9M1401.4 194V200.4M1417.1 214V220.4M1369.3 179.6V186M1433.3 267.6V288.9M1492.2 249.7V256.1M1441 251.1V257.5M1504.3 247.8V254.2M1476.8 290.1V307.4M1377 206.3V221.4M1527.5 243.7V273.8M1477.2 282.5V303.1M1377.4 185V201M1424.5 251.6V258M1515.8 265.8V272.2M1424.2 202.6V209M1497.3 280V286.4M1480.1 249.2V271M1393.7 187.1V193.5M1470.8 252V258.4M1501.7 283.6V290M1365.2 178.8V202.4M1409.3 189.3V195.7M1515.5 243.5V249.9M1437.8 247.7V272.9M1395.9 208V214.4M1492.9 262.2V268.6M1436.4 226.3V232.7M1465.7 257V263.4M1410.6 159.8V166.2M1393 205V211.4M1418.2 224.2V230.6M1423.9 167.7V174.1M1517.6 254.9V261.3M1497.8 290.3V307.5M1510.6 246.8V253.2M1395.6 167.2V173.6M1426.6 223.5V229.9M1426.7 229.3V235.7M1396 191.6V198M1523 249.9V275.2M1428.4 228V249M1449 275.6V282M1481.2 264.5V278.7M1383.2 206.3V212.7M1473.4 229.1V235.5M1420.3 209.1V215.5M1523.4 253.6V260M1452.5 249.6V256M1431.5 272.9V287.2M1461.7 303.3V309.7M1399.2 180.2V199.1M1448.6 237.3V243.7M1432.8 227.1V233.5M1527.9 243.9V250.3M1435.1 223.7V230.1M1497.6 247.1V269.9M1380.8 201.3V226.5M1432.1 188.5V214.8M1524.2 281.4V287.8M1363.4 203.4V209.8M1457.5 251.6V277M1455.3 238.3V244.7M1524.2 271.4V277.8M1446.5 293V299.4M1467.1 226.3V232.7M1465.8 273.1V279.5M1421.7 278V284.4M1429 255.2V261.6M1514.5 258.7V265.1M1463.8 257.2V285.6M1415.2 170V176.4M1444.4 259.7V277.4M1441.8 292.9V299.3M1510.8 254V260.4M1387.4 203.5V209.9M1457.4 267.1V273.5M1407.2 233.7V240.1M1429.1 229V235.4M1389.9 187.7V194.1M1519.4 284.8V291.2M1390.7 217.4V223.8M1411.6 243.8V250.2M1450.2 278.1V284.5M1394.8 212.6V235.1M1365.4 208.7V215.1M1385.3 192.3V198.7M1469 278.9V285.3M1379.3 173.5V179.9M1446.3 296.5V302.9M1524.2 250.3V256.7M1525 260.4V282.2M1469.7 266.1V272.5M1486.9 305.5V311.9M1501.3 292.9V299.3M1458 269.4V287.1M1374.3 186V192.4M1519.5 256.1V262.5M1431.8 267.9V284.6M1452.5 283V311.4M1473.7 251.3V257.7M1418.5 217.1V223.5M1398 178.9V185.3M1520.7 278.5V293.7M1424.7 199.9V216.6M1404.9 189.2V210.3M1431 230.6V237M1491.9 295.5V323.2M1450.2 244.4V250.8M1519.9 291.2V297.6M1445.8 228.6V235M1500.3 268.4V274.8M1486.7 249.7V276.9M1485 277V283.4M1521.2 244.3V250.7M1407 188.8V212.1M1470.9 224.3V238.6M1435.9 259.5V265.9M1366.8 206.2V212.6M1397.9 215.5V221.9M1410.2 246.3V273.6M1431.5 283.1V289.5M1472 272V278.4M1522.1 294.3V300.7M1483.9 285.3V291.7M1475.3 256.8V263.2M1400.8 190.4V196.8M1524.8 245.6V252M1395.7 189.8V217.8M1456.9 256.2V262.6M1493.4 302.5V308.9M1432.6 247.4V268.8M1438.8 249.2V255.6M1423.8 256V262.4M1393.5 208.7V215.1M1516.9 296.1V302.5M1498.9 273.7V280.1M1472.1 305.9V312.3M1504.9 303.8V310.2M1387.8 187.1V193.5M1505.4 286V292.4M1406.1 251.6V258M1424.1 234.9V263.9M1435.6 231V237.4M1438.4 222.5V228.9M1474.5 264.7V271.1M1470.5 278.9V303.1M1450.3 213.2V230.2M1489 290.9V297.3M1433.8 267.8V274.2M1369 189V195.4M1445.2 203.8V223.2M1454.6 280.6V297.6M1442.5 236.7V243.1M1450.4 255.7V262.1M1438.8 278.3V293.7M1391.1 208.2V214.6M1464.9 249.4V255.8M1370.3 195.5V201.9M1524.8 253.1V280.8M1391.8 167.1V173.5M1443.1 248.9V255.3M1407.5 192.8V199.2M1403 182.3V188.7M1422.8 188.2V194.6M1413.5 195.7V202.1M1425.4 213.1V219.5M1430.5 192.2V198.6M1408.8 220.6V227M1419.1 225.8V232.2M1411.1 180.5V186.9M1390.6 223.5V229.9M1373.5 208.6V215M1383.7 197.3V203.7M1420.1 183.4V189.8M1402.2 203.2V209.6M1396.1 191V197.4M1373.1 191.4V197.8M1413.7 172.2V178.6M1397.5 219V225.4M1403.2 205.9V212.3M1379.8 206.9V235.3M1412 214.9V221.3M1383.1 207.9V214.3M1384.6 190.3V196.7M1384.3 216.4V230.5M1378.6 215.3V221.7M1419 209.8V216.2M1407 162.3V181.4M1374 186.3V192.7M1413.1 193V199.4M1370.6 187.5V208.9M1423.2 191.8V198.2M1395.7 181.8V188.2M1400.8 184V190.4M1392.2 183.5V189.9M1386.7 180.6V187M1410.3 165.8V181.4M1422.5 168.6V199.9M1461.3 239.8V246.2M1439.3 253V259.4M1471.2 278.8V285.2M1461.3 226V232.4M1467.8 256.1V262.5M1423.1 234.2V240.6M1476.1 260.3V287.3M1460.7 285.9V292.3M1466.5 248.2V254.6M1487.5 270.1V276.5M1440.1 263.4V269.8M1461.7 274.6V281M1457 287.5V293.9M1443.4 244.9V251.3M1483.1 286.6V293M1466.4 265.9V272.3M1466.5 251.2V257.6M1426.4 225.9V232.3M1454.1 236.2V250.5M1436.1 218.2V224.6M1429.6 243.6V250M1478.2 282.5V288.9M1431.2 221.9V228.3M1445.6 274.3V280.7M1476.8 241.6V248M1458.8 258.2V264.6M1441.9 231.4V237.8M1433.7 246.2V252.6M1423.6 230.1V250.9M1424.6 256.9V263.3M1449.6 253.6V260M1483.6 269.2V289.3M1477.4 280V286.4M1504.5 275.7V282.1M1490.7 264.3V270.7M1467.5 276.8V283.2M1454.4 279.9V286.3M1481.7 291.3V297.7M1430.8 222V241.3M1448.9 276.7V295.1M1450.1 222.9V229.3M1439.1 217.5V233.4M1414.1 221.3V247.1M1483.4 257.2V263.6M1433.6 258.7V265.1M1433.4 271V277.4M1461.7 245.8V252.2M1444.1 252.4V258.8M1447.2 265.1V271.5M1503.1 267.2V273.6M1425.2 252.4V258.8M1440.7 248.7V255.1M1488.7 243.5V257.8M1470.8 240.6V247M1438 218.1V236.1M1454.5 224.5V230.9M1433.4 274.1V280.5M1430.3 216.1V222.5M1463.1 269.8V276.2M1445.1 277.5V283.9M1424.2 261.8V268.2M1434.6 233.3V239.7M1422.1 255.6V262M1434.8 253.8V260.2M1437.4 215.9V222.3M1473.3 284.3V290.7M1427.8 268.6V275M1463.9 233.1V239.5M1492.5 282.8V289.2M1453.7 242.5V270.6M1503.4 277.9V284.3M1471.8 256.5V262.9M1456.9 270.8V285.1M1434.5 262.8V269.2M1464.7 256.3V262.7M1458.5 273.4V279.8M1443.7 269.8V276.2M1434.7 214.5V220.9M1453.5 278.4V284.8M1476.9 259.3V265.7M1442.4 249.1V255.5M1441.5 223.3V229.7M1464.3 236.9V243.3M1478.7 247.1V253.5M1490.5 270.5V276.9M1449.4 251.2V274.4M1506.2 270.8V277.2M1421.9 257.7V264.1M1477.5 288.4V294.8M1461.8 288.9V295.3M1497.1 263.3V269.7M1471.4 294.7V301.1M1454.2 259.3V265.7M1461.1 268.3V274.7M1502.1 264.4V270.8M1495.1 286.8V293.2M1484.3 244.2V250.6M1463.8 275.8V282.2M1442.1 242.8V249.2M1483.1 272.2V278.6" stroke="#333335" stroke-width="1.6" fill="none"/><g fill="#111113" fill-opacity="0.75" stroke="#fff" stroke-width="1"><circle cx="1168.7" cy="279.8" r="5.2"/><circle cx="1171.7" cy="282.1" r="5.2"/><circle cx="1189.4" cy="315.5" r="5.2"/><circle cx="1198.8" cy="281.4" r="5.2"/><circle cx="1198.8" cy="309.2" r="5.2"/><circle cx="1210.5" cy="309.9" r="5.2"/><circle cx="1224.1" cy="300" r="5.2"/><circle cx="1194.1" cy="222.2" r="5.2"/><circle cx="1214.3" cy="210" r="5.2"/><circle cx="1215.9" cy="250.6" r="5.2"/><circle cx="1231.2" cy="248.8" r="5.2"/><circle cx="1241.8" cy="251.6" r="5.2"/><circle cx="1241.1" cy="280.5" r="5.2"/><circle cx="1255.2" cy="258.2" r="5.2"/><circle cx="1263.6" cy="241" r="5.2"/><circle cx="1279.4" cy="241.7" r="5.2"/><circle cx="1286.2" cy="235.1" r="5.2"/><circle cx="1287.4" cy="218.2" r="5.2"/><circle cx="1292.3" cy="223.9" r="5.2"/><circle cx="1300.5" cy="224.6" r="5.2"/><circle cx="1300.5" cy="234" r="5.2"/><circle cx="1306.9" cy="234" r="5.2"/><circle cx="1308.7" cy="200.4" r="5.2"/><circle cx="1315.1" cy="221" r="5.2"/><circle cx="1320.3" cy="195.7" r="5.2"/><circle cx="1320.3" cy="214" r="5.2"/><circle cx="1323.3" cy="222.2" r="5.2"/><circle cx="1329.2" cy="230" r="5.2"/><circle cx="1333.9" cy="208.1" r="5.2"/><circle cx="1338.1" cy="192.1" r="5.2"/><circle cx="1339.3" cy="229.3" r="5.2"/><circle cx="1339.8" cy="198.7" r="5.2"/><circle cx="1342.1" cy="202.2" r="5.2"/><circle cx="1343.8" cy="174.3" r="5.2"/><circle cx="1348.7" cy="220.3" r="5.2"/><circle cx="1349.6" cy="194.9" r="5.2"/><circle cx="1350.8" cy="204.6" r="5.2"/><circle cx="1338.6" cy="260.8" r="5.2"/><circle cx="1351.5" cy="280.5" r="5.2"/><circle cx="1358.6" cy="212.8" r="5.2"/><circle cx="1359.3" cy="222.2" r="5.2"/><circle cx="1362.8" cy="190.5" r="5.2"/><circle cx="1365.6" cy="260.1" r="5.2"/><circle cx="1378.1" cy="259.8" r="5.2"/><circle cx="1381.6" cy="285.7" r="5.2"/><circle cx="1394.3" cy="274.9" r="5.2"/><circle cx="1390.3" cy="282.8" r="5.2"/><circle cx="1396.2" cy="286.8" r="5.2"/><circle cx="1401.3" cy="289.2" r="5.2"/><circle cx="1406.8" cy="302.1" r="5.2"/><circle cx="1414.5" cy="298.6" r="5.2"/><circle cx="1409.8" cy="312.2" r="5.2"/><circle cx="1400.9" cy="248.1" r="5.2"/><circle cx="1522.9" cy="155.9" r="5.2"/><circle cx="1531.1" cy="184.6" r="5.2"/><circle cx="1531.1" cy="226.2" r="5.2"/><circle cx="1511.3" cy="227.6" r="5.2"/><circle cx="1520.3" cy="234.2" r="5.2"/><circle cx="1509" cy="241" r="5.2"/><circle cx="1474.9" cy="214.5" r="5.2"/><circle cx="1532" cy="271.1" r="5.2"/><circle cx="1525.4" cy="298.1" r="5.2"/><circle cx="1515.6" cy="305.6" r="5.2"/><circle cx="1505.7" cy="314.3" r="5.2"/><circle cx="1493.2" cy="310.8" r="5.2"/><circle cx="1460.3" cy="314.3" r="5.2"/><circle cx="1449.5" cy="310.3" r="5.2"/><circle cx="1503.9" cy="271.8" r="5.2"/><circle cx="1412.2" cy="252.2" r="5.2"/><circle cx="1433.5" cy="220.3" r="5.2"/><circle cx="1453.2" cy="228" r="5.2"/><circle cx="1439.4" cy="209" r="5.2"/><circle cx="1362.7" cy="210" r="5.2"/><circle cx="1497.1" cy="271.6" r="5.2"/><circle cx="1491.3" cy="279.9" r="5.2"/><circle cx="1450.8" cy="234.8" r="5.2"/><circle cx="1445.7" cy="286.2" r="5.2"/><circle cx="1512.1" cy="296.4" r="5.2"/><circle cx="1457.3" cy="299.5" r="5.2"/><circle cx="1415" cy="266.3" r="5.2"/><circle cx="1481.4" cy="237" r="5.2"/><circle cx="1471.9" cy="249.5" r="5.2"/><circle cx="1521" cy="254.9" r="5.2"/><circle cx="1484.8" cy="297.6" r="5.2"/><circle cx="1406.1" cy="195.2" r="5.2"/><circle cx="1432.1" cy="268.9" r="5.2"/><circle cx="1362.2" cy="199.6" r="5.2"/><circle cx="1385.9" cy="188.7" r="5.2"/><circle cx="1425.6" cy="167.6" r="5.2"/><circle cx="1384.9" cy="166.6" r="5.2"/><circle cx="1465.6" cy="272.8" r="5.2"/><circle cx="1491.8" cy="272.4" r="5.2"/><circle cx="1490" cy="290.8" r="5.2"/><circle cx="1440.8" cy="195" r="5.2"/><circle cx="1413.6" cy="176.5" r="5.2"/><circle cx="1464" cy="224.2" r="5.2"/><circle cx="1383" cy="169.6" r="5.2"/><circle cx="1399" cy="228" r="5.2"/><circle cx="1461.4" cy="255" r="5.2"/><circle cx="1432.1" cy="240.3" r="5.2"/><circle cx="1429.7" cy="177.8" r="5.2"/><circle cx="1400.5" cy="176.1" r="5.2"/><circle cx="1516.2" cy="306" r="5.2"/><circle cx="1434" cy="238" r="5.2"/><circle cx="1422.3" cy="239.2" r="5.2"/><circle cx="1376.2" cy="207.1" r="5.2"/><circle cx="1437.1" cy="222.9" r="5.2"/><circle cx="1371.4" cy="203.9" r="5.2"/><circle cx="1458" cy="220" r="5.2"/><circle cx="1379.7" cy="179.4" r="5.2"/><circle cx="1470.1" cy="305.5" r="5.2"/><circle cx="1493.7" cy="269.9" r="5.2"/><circle cx="1420.8" cy="229.9" r="5.2"/><circle cx="1405.3" cy="240.3" r="5.2"/><circle cx="1524.6" cy="282.1" r="5.2"/><circle cx="1398.9" cy="234.6" r="5.2"/><circle cx="1432.9" cy="263.3" r="5.2"/><circle cx="1460.5" cy="284.1" r="5.2"/><circle cx="1530.5" cy="258.6" r="5.2"/><circle cx="1448.4" cy="268.7" r="5.2"/><circle cx="1462.1" cy="293.7" r="5.2"/><circle cx="1442.5" cy="222" r="5.2"/><circle cx="1521.5" cy="267.2" r="5.2"/><circle cx="1488.2" cy="260.2" r="5.2"/><circle cx="1474.6" cy="308.1" r="5.2"/><circle cx="1482.3" cy="294" r="5.2"/><circle cx="1522.6" cy="270.8" r="5.2"/><circle cx="1516" cy="294.2" r="5.2"/><circle cx="1488" cy="249.3" r="5.2"/><circle cx="1434.1" cy="199.3" r="5.2"/><circle cx="1439.8" cy="191.9" r="5.2"/><circle cx="1443" cy="287" r="5.2"/><circle cx="1405" cy="236.7" r="5.2"/><circle cx="1489.1" cy="279.1" r="5.2"/><circle cx="1476" cy="279.5" r="5.2"/><circle cx="1382" cy="185.6" r="5.2"/><circle cx="1439.4" cy="205.5" r="5.2"/><circle cx="1452.1" cy="218.6" r="5.2"/><circle cx="1471.5" cy="233.9" r="5.2"/><circle cx="1471" cy="280.8" r="5.2"/><circle cx="1426.6" cy="240.9" r="5.2"/><circle cx="1497.3" cy="255.7" r="5.2"/><circle cx="1398.9" cy="202.8" r="5.2"/><circle cx="1424.5" cy="215.9" r="5.2"/><circle cx="1387.5" cy="227.6" r="5.2"/><circle cx="1514.2" cy="299.7" r="5.2"/><circle cx="1469.8" cy="300.9" r="5.2"/><circle cx="1375.9" cy="196.9" r="5.2"/><circle cx="1428.2" cy="285" r="5.2"/><circle cx="1511.4" cy="300.4" r="5.2"/><circle cx="1478.6" cy="303.8" r="5.2"/><circle cx="1521.3" cy="274.4" r="5.2"/><circle cx="1409.3" cy="254.7" r="5.2"/><circle cx="1422.5" cy="220.5" r="5.2"/><circle cx="1420.1" cy="232.8" r="5.2"/><circle cx="1380.7" cy="165.3" r="5.2"/><circle cx="1512.2" cy="275.7" r="5.2"/><circle cx="1408.1" cy="257" r="5.2"/><circle cx="1383.3" cy="191.8" r="5.2"/><circle cx="1431.7" cy="198.7" r="5.2"/><circle cx="1401.4" cy="197.2" r="5.2"/><circle cx="1417.1" cy="217.2" r="5.2"/><circle cx="1369.3" cy="182.8" r="5.2"/><circle cx="1433.3" cy="278.2" r="5.2"/><circle cx="1492.2" cy="252.9" r="5.2"/><circle cx="1441" cy="254.3" r="5.2"/><circle cx="1504.3" cy="251" r="5.2"/><circle cx="1476.8" cy="298.7" r="5.2"/><circle cx="1377" cy="213.8" r="5.2"/><circle cx="1527.5" cy="258.8" r="5.2"/><circle cx="1477.2" cy="292.8" r="5.2"/><circle cx="1377.4" cy="193" r="5.2"/><circle cx="1424.5" cy="254.8" r="5.2"/><circle cx="1515.8" cy="269" r="5.2"/><circle cx="1424.2" cy="205.8" r="5.2"/><circle cx="1497.3" cy="283.2" r="5.2"/><circle cx="1480.1" cy="260.1" r="5.2"/><circle cx="1393.7" cy="190.3" r="5.2"/><circle cx="1470.8" cy="255.2" r="5.2"/><circle cx="1501.7" cy="286.8" r="5.2"/><circle cx="1365.2" cy="190.6" r="5.2"/><circle cx="1409.3" cy="192.5" r="5.2"/><circle cx="1515.5" cy="246.7" r="5.2"/><circle cx="1437.8" cy="260.3" r="5.2"/><circle cx="1395.9" cy="211.2" r="5.2"/><circle cx="1492.9" cy="265.4" r="5.2"/><circle cx="1436.4" cy="229.5" r="5.2"/><circle cx="1465.7" cy="260.2" r="5.2"/><circle cx="1410.6" cy="163" r="5.2"/><circle cx="1393" cy="208.2" r="5.2"/><circle cx="1418.2" cy="227.4" r="5.2"/><circle cx="1423.9" cy="170.9" r="5.2"/><circle cx="1517.6" cy="258.1" r="5.2"/><circle cx="1497.8" cy="298.9" r="5.2"/><circle cx="1510.6" cy="250" r="5.2"/><circle cx="1395.6" cy="170.4" r="5.2"/><circle cx="1426.6" cy="226.7" r="5.2"/><circle cx="1426.7" cy="232.5" r="5.2"/><circle cx="1396" cy="194.8" r="5.2"/><circle cx="1523" cy="262.6" r="5.2"/><circle cx="1428.4" cy="238.5" r="5.2"/><circle cx="1449" cy="278.8" r="5.2"/><circle cx="1481.2" cy="271.6" r="5.2"/><circle cx="1383.2" cy="209.5" r="5.2"/><circle cx="1473.4" cy="232.3" r="5.2"/><circle cx="1420.3" cy="212.3" r="5.2"/><circle cx="1523.4" cy="256.8" r="5.2"/><circle cx="1452.5" cy="252.8" r="5.2"/><circle cx="1431.5" cy="280" r="5.2"/><circle cx="1461.7" cy="306.5" r="5.2"/><circle cx="1399.2" cy="189.7" r="5.2"/><circle cx="1448.6" cy="240.5" r="5.2"/><circle cx="1432.8" cy="230.3" r="5.2"/><circle cx="1527.9" cy="247.1" r="5.2"/><circle cx="1435.1" cy="226.9" r="5.2"/><circle cx="1497.6" cy="258.5" r="5.2"/><circle cx="1380.8" cy="213.9" r="5.2"/><circle cx="1432.1" cy="201.6" r="5.2"/><circle cx="1524.2" cy="284.6" r="5.2"/><circle cx="1363.4" cy="206.6" r="5.2"/><circle cx="1457.5" cy="264.3" r="5.2"/><circle cx="1455.3" cy="241.5" r="5.2"/><circle cx="1524.2" cy="274.6" r="5.2"/><circle cx="1446.5" cy="296.2" r="5.2"/><circle cx="1467.1" cy="229.5" r="5.2"/><circle cx="1465.8" cy="276.3" r="5.2"/><circle cx="1421.7" cy="281.2" r="5.2"/><circle cx="1429" cy="258.4" r="5.2"/><circle cx="1514.5" cy="261.9" r="5.2"/><circle cx="1463.8" cy="271.4" r="5.2"/><circle cx="1415.2" cy="173.2" r="5.2"/><circle cx="1444.4" cy="268.5" r="5.2"/><circle cx="1441.8" cy="296.1" r="5.2"/><circle cx="1510.8" cy="257.2" r="5.2"/><circle cx="1387.4" cy="206.7" r="5.2"/><circle cx="1457.4" cy="270.3" r="5.2"/><circle cx="1407.2" cy="236.9" r="5.2"/><circle cx="1429.1" cy="232.2" r="5.2"/><circle cx="1389.9" cy="190.9" r="5.2"/><circle cx="1519.4" cy="288" r="5.2"/><circle cx="1390.7" cy="220.6" r="5.2"/><circle cx="1411.6" cy="247" r="5.2"/><circle cx="1450.2" cy="281.3" r="5.2"/><circle cx="1394.8" cy="223.8" r="5.2"/><circle cx="1365.4" cy="211.9" r="5.2"/><circle cx="1385.3" cy="195.5" r="5.2"/><circle cx="1469" cy="282.1" r="5.2"/><circle cx="1379.3" cy="176.7" r="5.2"/><circle cx="1446.3" cy="299.7" r="5.2"/><circle cx="1524.2" cy="253.5" r="5.2"/><circle cx="1525" cy="271.3" r="5.2"/><circle cx="1469.7" cy="269.3" r="5.2"/><circle cx="1486.9" cy="308.7" r="5.2"/><circle cx="1501.3" cy="296.1" r="5.2"/><circle cx="1458" cy="278.3" r="5.2"/><circle cx="1374.3" cy="189.2" r="5.2"/><circle cx="1519.5" cy="259.3" r="5.2"/><circle cx="1431.8" cy="276.3" r="5.2"/><circle cx="1452.5" cy="297.2" r="5.2"/><circle cx="1473.7" cy="254.5" r="5.2"/><circle cx="1418.5" cy="220.3" r="5.2"/><circle cx="1398" cy="182.1" r="5.2"/><circle cx="1520.7" cy="286.1" r="5.2"/><circle cx="1424.7" cy="208.3" r="5.2"/><circle cx="1404.9" cy="199.7" r="5.2"/><circle cx="1431" cy="233.8" r="5.2"/><circle cx="1491.9" cy="309.3" r="5.2"/><circle cx="1450.2" cy="247.6" r="5.2"/><circle cx="1519.9" cy="294.4" r="5.2"/><circle cx="1445.8" cy="231.8" r="5.2"/><circle cx="1500.3" cy="271.6" r="5.2"/><circle cx="1486.7" cy="263.3" r="5.2"/><circle cx="1485" cy="280.2" r="5.2"/><circle cx="1521.2" cy="247.5" r="5.2"/><circle cx="1407" cy="200.5" r="5.2"/><circle cx="1470.9" cy="231.4" r="5.2"/><circle cx="1435.9" cy="262.7" r="5.2"/><circle cx="1366.8" cy="209.4" r="5.2"/><circle cx="1397.9" cy="218.7" r="5.2"/><circle cx="1410.2" cy="260" r="5.2"/><circle cx="1431.5" cy="286.3" r="5.2"/><circle cx="1472" cy="275.2" r="5.2"/><circle cx="1522.1" cy="297.5" r="5.2"/><circle cx="1483.9" cy="288.5" r="5.2"/><circle cx="1475.3" cy="260" r="5.2"/><circle cx="1400.8" cy="193.6" r="5.2"/><circle cx="1524.8" cy="248.8" r="5.2"/><circle cx="1395.7" cy="203.8" r="5.2"/><circle cx="1456.9" cy="259.4" r="5.2"/><circle cx="1493.4" cy="305.7" r="5.2"/><circle cx="1432.6" cy="258.1" r="5.2"/><circle cx="1438.8" cy="252.4" r="5.2"/><circle cx="1423.8" cy="259.2" r="5.2"/><circle cx="1393.5" cy="211.9" r="5.2"/><circle cx="1516.9" cy="299.3" r="5.2"/><circle cx="1498.9" cy="276.9" r="5.2"/><circle cx="1472.1" cy="309.1" r="5.2"/><circle cx="1504.9" cy="307" r="5.2"/><circle cx="1387.8" cy="190.3" r="5.2"/><circle cx="1505.4" cy="289.2" r="5.2"/><circle cx="1406.1" cy="254.8" r="5.2"/><circle cx="1424.1" cy="249.4" r="5.2"/><circle cx="1435.6" cy="234.2" r="5.2"/><circle cx="1438.4" cy="225.7" r="5.2"/><circle cx="1474.5" cy="267.9" r="5.2"/><circle cx="1470.5" cy="291" r="5.2"/><circle cx="1450.3" cy="221.7" r="5.2"/><circle cx="1489" cy="294.1" r="5.2"/><circle cx="1433.8" cy="271" r="5.2"/><circle cx="1369" cy="192.2" r="5.2"/><circle cx="1445.2" cy="213.5" r="5.2"/><circle cx="1454.6" cy="289.1" r="5.2"/><circle cx="1442.5" cy="239.9" r="5.2"/><circle cx="1450.4" cy="258.9" r="5.2"/><circle cx="1438.8" cy="286" r="5.2"/><circle cx="1391.1" cy="211.4" r="5.2"/><circle cx="1464.9" cy="252.6" r="5.2"/><circle cx="1370.3" cy="198.7" r="5.2"/><circle cx="1524.8" cy="266.9" r="5.2"/><circle cx="1391.8" cy="170.3" r="5.2"/><circle cx="1443.1" cy="252.1" r="5.2"/><circle cx="1407.5" cy="196" r="5.2"/><circle cx="1403" cy="185.5" r="5.2"/><circle cx="1422.8" cy="191.4" r="5.2"/><circle cx="1413.5" cy="198.9" r="5.2"/><circle cx="1425.4" cy="216.3" r="5.2"/><circle cx="1430.5" cy="195.4" r="5.2"/><circle cx="1408.8" cy="223.8" r="5.2"/><circle cx="1419.1" cy="229" r="5.2"/><circle cx="1411.1" cy="183.7" r="5.2"/><circle cx="1390.6" cy="226.7" r="5.2"/><circle cx="1373.5" cy="211.8" r="5.2"/><circle cx="1383.7" cy="200.5" r="5.2"/><circle cx="1420.1" cy="186.6" r="5.2"/><circle cx="1402.2" cy="206.4" r="5.2"/><circle cx="1396.1" cy="194.2" r="5.2"/><circle cx="1373.1" cy="194.6" r="5.2"/><circle cx="1413.7" cy="175.4" r="5.2"/><circle cx="1397.5" cy="222.2" r="5.2"/><circle cx="1403.2" cy="209.1" r="5.2"/><circle cx="1379.8" cy="221.1" r="5.2"/><circle cx="1412" cy="218.1" r="5.2"/><circle cx="1383.1" cy="211.1" r="5.2"/><circle cx="1384.6" cy="193.5" r="5.2"/><circle cx="1384.3" cy="223.4" r="5.2"/><circle cx="1378.6" cy="218.5" r="5.2"/><circle cx="1419" cy="213" r="5.2"/><circle cx="1407" cy="171.8" r="5.2"/><circle cx="1374" cy="189.5" r="5.2"/><circle cx="1413.1" cy="196.2" r="5.2"/><circle cx="1370.6" cy="198.2" r="5.2"/><circle cx="1423.2" cy="195" r="5.2"/><circle cx="1395.7" cy="185" r="5.2"/><circle cx="1400.8" cy="187.2" r="5.2"/><circle cx="1392.2" cy="186.7" r="5.2"/><circle cx="1386.7" cy="183.8" r="5.2"/><circle cx="1410.3" cy="173.6" r="5.2"/><circle cx="1422.5" cy="184.2" r="5.2"/><circle cx="1461.3" cy="243" r="5.2"/><circle cx="1439.3" cy="256.2" r="5.2"/><circle cx="1471.2" cy="282" r="5.2"/><circle cx="1461.3" cy="229.2" r="5.2"/><circle cx="1467.8" cy="259.3" r="5.2"/><circle cx="1423.1" cy="237.4" r="5.2"/><circle cx="1476.1" cy="273.8" r="5.2"/><circle cx="1460.7" cy="289.1" r="5.2"/><circle cx="1466.5" cy="251.4" r="5.2"/><circle cx="1487.5" cy="273.3" r="5.2"/><circle cx="1440.1" cy="266.6" r="5.2"/><circle cx="1461.7" cy="277.8" r="5.2"/><circle cx="1457" cy="290.7" r="5.2"/><circle cx="1443.4" cy="248.1" r="5.2"/><circle cx="1483.1" cy="289.8" r="5.2"/><circle cx="1466.4" cy="269.1" r="5.2"/><circle cx="1466.5" cy="254.4" r="5.2"/><circle cx="1426.4" cy="229.1" r="5.2"/><circle cx="1454.1" cy="243.4" r="5.2"/><circle cx="1436.1" cy="221.4" r="5.2"/><circle cx="1429.6" cy="246.8" r="5.2"/><circle cx="1478.2" cy="285.7" r="5.2"/><circle cx="1431.2" cy="225.1" r="5.2"/><circle cx="1445.6" cy="277.5" r="5.2"/><circle cx="1476.8" cy="244.8" r="5.2"/><circle cx="1458.8" cy="261.4" r="5.2"/><circle cx="1441.9" cy="234.6" r="5.2"/><circle cx="1433.7" cy="249.4" r="5.2"/><circle cx="1423.6" cy="240.5" r="5.2"/><circle cx="1424.6" cy="260.1" r="5.2"/><circle cx="1449.6" cy="256.8" r="5.2"/><circle cx="1483.6" cy="279.3" r="5.2"/><circle cx="1477.4" cy="283.2" r="5.2"/><circle cx="1504.5" cy="278.9" r="5.2"/><circle cx="1490.7" cy="267.5" r="5.2"/><circle cx="1467.5" cy="280" r="5.2"/><circle cx="1454.4" cy="283.1" r="5.2"/><circle cx="1481.7" cy="294.5" r="5.2"/><circle cx="1430.8" cy="231.7" r="5.2"/><circle cx="1448.9" cy="285.9" r="5.2"/><circle cx="1450.1" cy="226.1" r="5.2"/><circle cx="1439.1" cy="225.4" r="5.2"/><circle cx="1414.1" cy="234.2" r="5.2"/><circle cx="1483.4" cy="260.4" r="5.2"/><circle cx="1433.6" cy="261.9" r="5.2"/><circle cx="1433.4" cy="274.2" r="5.2"/><circle cx="1461.7" cy="249" r="5.2"/><circle cx="1444.1" cy="255.6" r="5.2"/><circle cx="1447.2" cy="268.3" r="5.2"/><circle cx="1503.1" cy="270.4" r="5.2"/><circle cx="1425.2" cy="255.6" r="5.2"/><circle cx="1440.7" cy="251.9" r="5.2"/><circle cx="1488.7" cy="250.6" r="5.2"/><circle cx="1470.8" cy="243.8" r="5.2"/><circle cx="1438" cy="227.1" r="5.2"/><circle cx="1454.5" cy="227.7" r="5.2"/><circle cx="1433.4" cy="277.3" r="5.2"/><circle cx="1430.3" cy="219.3" r="5.2"/><circle cx="1463.1" cy="273" r="5.2"/><circle cx="1445.1" cy="280.7" r="5.2"/><circle cx="1424.2" cy="265" r="5.2"/><circle cx="1434.6" cy="236.5" r="5.2"/><circle cx="1422.1" cy="258.8" r="5.2"/><circle cx="1434.8" cy="257" r="5.2"/><circle cx="1437.4" cy="219.1" r="5.2"/><circle cx="1473.3" cy="287.5" r="5.2"/><circle cx="1427.8" cy="271.8" r="5.2"/><circle cx="1463.9" cy="236.3" r="5.2"/><circle cx="1492.5" cy="286" r="5.2"/><circle cx="1453.7" cy="256.5" r="5.2"/><circle cx="1503.4" cy="281.1" r="5.2"/><circle cx="1471.8" cy="259.7" r="5.2"/><circle cx="1456.9" cy="278" r="5.2"/><circle cx="1434.5" cy="266" r="5.2"/><circle cx="1464.7" cy="259.5" r="5.2"/><circle cx="1458.5" cy="276.6" r="5.2"/><circle cx="1443.7" cy="273" r="5.2"/><circle cx="1434.7" cy="217.7" r="5.2"/><circle cx="1453.5" cy="281.6" r="5.2"/><circle cx="1476.9" cy="262.5" r="5.2"/><circle cx="1442.4" cy="252.3" r="5.2"/><circle cx="1441.5" cy="226.5" r="5.2"/><circle cx="1464.3" cy="240.1" r="5.2"/><circle cx="1478.7" cy="250.3" r="5.2"/><circle cx="1490.5" cy="273.7" r="5.2"/><circle cx="1449.4" cy="262.8" r="5.2"/><circle cx="1506.2" cy="274" r="5.2"/><circle cx="1421.9" cy="260.9" r="5.2"/><circle cx="1477.5" cy="291.6" r="5.2"/><circle cx="1461.8" cy="292.1" r="5.2"/><circle cx="1497.1" cy="266.5" r="5.2"/><circle cx="1471.4" cy="297.9" r="5.2"/><circle cx="1454.2" cy="262.5" r="5.2"/><circle cx="1461.1" cy="271.5" r="5.2"/><circle cx="1502.1" cy="267.6" r="5.2"/><circle cx="1495.1" cy="290" r="5.2"/><circle cx="1484.3" cy="247.4" r="5.2"/><circle cx="1463.8" cy="279" r="5.2"/><circle cx="1442.1" cy="246" r="5.2"/><circle cx="1483.1" cy="275.4" r="5.2"/></g>
<path d="" stroke="#b0b3b6" stroke-width="1.5" fill="none"/><path d="M1698.6 215.1l7.8 7.8l-7.8 7.8l-7.8 -7.8zM1721.2 207.8l7.8 7.8l-7.8 7.8l-7.8 -7.8zM1720.5 216.8l7.8 7.8l-7.8 7.8l-7.8 -7.8zM1714.6 244.3l7.8 7.8l-7.8 7.8l-7.8 -7.8zM1729.9 241.4l7.8 7.8l-7.8 7.8l-7.8 -7.8zM1742.8 223.1l7.8 7.8l-7.8 7.8l-7.8 -7.8zM1747.1 194.9l7.8 7.8l-7.8 7.8l-7.8 -7.8zM1758.6 191.6l7.8 7.8l-7.8 7.8l-7.8 -7.8zM1760.5 198l7.8 7.8l-7.8 7.8l-7.8 -7.8zM1753.4 205l7.8 7.8l-7.8 7.8l-7.8 -7.8zM1764 202.7l7.8 7.8l-7.8 7.8l-7.8 -7.8zM1772.2 200.3l7.8 7.8l-7.8 7.8l-7.8 -7.8zM1781.6 180.3l7.8 7.8l-7.8 7.8l-7.8 -7.8zM1794.5 179.2l7.8 7.8l-7.8 7.8l-7.8 -7.8zM1711.8 272.7l7.8 7.8l-7.8 7.8l-7.8 -7.8zM1715.3 280.2l7.8 7.8l-7.8 7.8l-7.8 -7.8zM1733.4 280.7l7.8 7.8l-7.8 7.8l-7.8 -7.8zM1724.7 294.8l7.8 7.8l-7.8 7.8l-7.8 -7.8zM1725.7 306.1l7.8 7.8l-7.8 7.8l-7.8 -7.8zM1708.1 311.2l7.8 7.8l-7.8 7.8l-7.8 -7.8zM1739.3 293.1l7.8 7.8l-7.8 7.8l-7.8 -7.8zM1745.2 312.4l7.8 7.8l-7.8 7.8l-7.8 -7.8zM1761.6 307.2l7.8 7.8l-7.8 7.8l-7.8 -7.8zM1766.3 289.6l7.8 7.8l-7.8 7.8l-7.8 -7.8zM1794.5 289.1l7.8 7.8l-7.8 7.8l-7.8 -7.8zM1913.2 180.8l7.8 7.8l-7.8 7.8l-7.8 -7.8zM1929.7 190.9l7.8 7.8l-7.8 7.8l-7.8 -7.8zM1919.1 221.5l7.8 7.8l-7.8 7.8l-7.8 -7.8zM1928.5 244.3l7.8 7.8l-7.8 7.8l-7.8 -7.8zM1916.8 253.2l7.8 7.8l-7.8 7.8l-7.8 -7.8zM1920.3 276.7l7.8 7.8l-7.8 7.8l-7.8 -7.8zM1948 268.5l7.8 7.8l-7.8 7.8l-7.8 -7.8zM1919.8 310.8l7.8 7.8l-7.8 7.8l-7.8 -7.8zM1905 311.9l7.8 7.8l-7.8 7.8l-7.8 -7.8zM1896.8 310.8l7.8 7.8l-7.8 7.8l-7.8 -7.8zM1878 308.4l7.8 7.8l-7.8 7.8l-7.8 -7.8zM1862.7 309.6l7.8 7.8l-7.8 7.8l-7.8 -7.8zM1847.4 307.2l7.8 7.8l-7.8 7.8l-7.8 -7.8zM1858 273.9l7.8 7.8l-7.8 7.8l-7.8 -7.8zM1886.2 275.5l7.8 7.8l-7.8 7.8l-7.8 -7.8zM1893.2 288.4l7.8 7.8l-7.8 7.8l-7.8 -7.8zM1906.2 286.1l7.8 7.8l-7.8 7.8l-7.8 -7.8zM1847.4 262.6l7.8 7.8l-7.8 7.8l-7.8 -7.8zM1832.1 226.2l7.8 7.8l-7.8 7.8l-7.8 -7.8zM1839.2 238.4l7.8 7.8l-7.8 7.8l-7.8 -7.8zM1914.4 233.2l7.8 7.8l-7.8 7.8l-7.8 -7.8zM1916.8 235.6l7.8 7.8l-7.8 7.8l-7.8 -7.8zM1814.5 182.7l7.8 7.8l-7.8 7.8l-7.8 -7.8zM1751.6 309.7l7.8 7.8l-7.8 7.8l-7.8 -7.8zM1753.2 305.4l7.8 7.8l-7.8 7.8l-7.8 -7.8zM1755.2 300.9l7.8 7.8l-7.8 7.8l-7.8 -7.8zM1757 296.6l7.8 7.8l-7.8 7.8l-7.8 -7.8zM1759.1 292.2l7.8 7.8l-7.8 7.8l-7.8 -7.8zM1760.9 287.6l7.8 7.8l-7.8 7.8l-7.8 -7.8zM1762.5 283l7.8 7.8l-7.8 7.8l-7.8 -7.8zM1764.6 278.6l7.8 7.8l-7.8 7.8l-7.8 -7.8zM1765.9 274.7l7.8 7.8l-7.8 7.8l-7.8 -7.8zM1768.3 270.5l7.8 7.8l-7.8 7.8l-7.8 -7.8zM1769.7 266l7.8 7.8l-7.8 7.8l-7.8 -7.8zM1771.8 261.4l7.8 7.8l-7.8 7.8l-7.8 -7.8zM1773.7 257.5l7.8 7.8l-7.8 7.8l-7.8 -7.8zM1775.3 252.7l7.8 7.8l-7.8 7.8l-7.8 -7.8zM1777.4 248.4l7.8 7.8l-7.8 7.8l-7.8 -7.8zM1779.4 244l7.8 7.8l-7.8 7.8l-7.8 -7.8zM1780.9 239.8l7.8 7.8l-7.8 7.8l-7.8 -7.8zM1782.5 235.4l7.8 7.8l-7.8 7.8l-7.8 -7.8zM1784.3 231l7.8 7.8l-7.8 7.8l-7.8 -7.8zM1786.3 226.4l7.8 7.8l-7.8 7.8l-7.8 -7.8zM1788.6 222.5l7.8 7.8l-7.8 7.8l-7.8 -7.8zM1783 252.9l7.8 7.8l-7.8 7.8l-7.8 -7.8zM1783.6 244.7l7.8 7.8l-7.8 7.8l-7.8 -7.8zM1741.7 312l7.8 7.8l-7.8 7.8l-7.8 -7.8zM1791.9 228.7l7.8 7.8l-7.8 7.8l-7.8 -7.8zM1758.6 270.6l7.8 7.8l-7.8 7.8l-7.8 -7.8zM1757.7 297.8l7.8 7.8l-7.8 7.8l-7.8 -7.8zM1787.8 256.7l7.8 7.8l-7.8 7.8l-7.8 -7.8zM1769.8 264.9l7.8 7.8l-7.8 7.8l-7.8 -7.8zM1750.8 295.6l7.8 7.8l-7.8 7.8l-7.8 -7.8zM1769.1 278.8l7.8 7.8l-7.8 7.8l-7.8 -7.8zM1773.2 252.1l7.8 7.8l-7.8 7.8l-7.8 -7.8zM1765.8 285.9l7.8 7.8l-7.8 7.8l-7.8 -7.8zM1768.5 261.8l7.8 7.8l-7.8 7.8l-7.8 -7.8zM1791.2 238l7.8 7.8l-7.8 7.8l-7.8 -7.8zM1781.4 247.9l7.8 7.8l-7.8 7.8l-7.8 -7.8zM1767.1 277.8l7.8 7.8l-7.8 7.8l-7.8 -7.8zM1790.4 244.2l7.8 7.8l-7.8 7.8l-7.8 -7.8zM1800.5 236.9l7.8 7.8l-7.8 7.8l-7.8 -7.8zM1767.9 281.3l7.8 7.8l-7.8 7.8l-7.8 -7.8zM1744.2 309.4l7.8 7.8l-7.8 7.8l-7.8 -7.8zM1788.2 234.9l7.8 7.8l-7.8 7.8l-7.8 -7.8zM1764.8 279.7l7.8 7.8l-7.8 7.8l-7.8 -7.8zM1761 299.9l7.8 7.8l-7.8 7.8l-7.8 -7.8zM1767.9 285.8l7.8 7.8l-7.8 7.8l-7.8 -7.8zM1765.2 272.2l7.8 7.8l-7.8 7.8l-7.8 -7.8zM1780.3 256.9l7.8 7.8l-7.8 7.8l-7.8 -7.8zM1778.7 265.4l7.8 7.8l-7.8 7.8l-7.8 -7.8zM1760.3 276.6l7.8 7.8l-7.8 7.8l-7.8 -7.8zM1773.8 256.5l7.8 7.8l-7.8 7.8l-7.8 -7.8zM1787.4 237.3l7.8 7.8l-7.8 7.8l-7.8 -7.8zM1772.4 271.6l7.8 7.8l-7.8 7.8l-7.8 -7.8zM1779.6 260l7.8 7.8l-7.8 7.8l-7.8 -7.8zM1785.3 239l7.8 7.8l-7.8 7.8l-7.8 -7.8zM1773.8 277.2l7.8 7.8l-7.8 7.8l-7.8 -7.8zM1764.3 276.8l7.8 7.8l-7.8 7.8l-7.8 -7.8zM1744.7 302.9l7.8 7.8l-7.8 7.8l-7.8 -7.8zM1760.1 267.8l7.8 7.8l-7.8 7.8l-7.8 -7.8zM1762.1 273.6l7.8 7.8l-7.8 7.8l-7.8 -7.8zM1786.4 241l7.8 7.8l-7.8 7.8l-7.8 -7.8zM1778 242.7l7.8 7.8l-7.8 7.8l-7.8 -7.8zM1794.4 228.7l7.8 7.8l-7.8 7.8l-7.8 -7.8zM1799.5 217.4l7.8 7.8l-7.8 7.8l-7.8 -7.8zM1771.1 288.7l7.8 7.8l-7.8 7.8l-7.8 -7.8zM1777.2 251.1l7.8 7.8l-7.8 7.8l-7.8 -7.8zM1773.3 269.7l7.8 7.8l-7.8 7.8l-7.8 -7.8zM1842.4 231.3l7.8 7.8l-7.8 7.8l-7.8 -7.8zM1759.4 253.1l7.8 7.8l-7.8 7.8l-7.8 -7.8zM1797.9 275.2l7.8 7.8l-7.8 7.8l-7.8 -7.8zM1770.9 232.5l7.8 7.8l-7.8 7.8l-7.8 -7.8zM1775.3 234.3l7.8 7.8l-7.8 7.8l-7.8 -7.8zM1845 195.3l7.8 7.8l-7.8 7.8l-7.8 -7.8zM1749.4 243.8l7.8 7.8l-7.8 7.8l-7.8 -7.8zM1776.3 246.8l7.8 7.8l-7.8 7.8l-7.8 -7.8zM1770 194.5l7.8 7.8l-7.8 7.8l-7.8 -7.8zM1837.8 300.8l7.8 7.8l-7.8 7.8l-7.8 -7.8zM1898.5 248.1l7.8 7.8l-7.8 7.8l-7.8 -7.8zM1812.1 190.1l7.8 7.8l-7.8 7.8l-7.8 -7.8zM1790 222.1l7.8 7.8l-7.8 7.8l-7.8 -7.8zM1913.1 243.1l7.8 7.8l-7.8 7.8l-7.8 -7.8zM1818.9 215.4l7.8 7.8l-7.8 7.8l-7.8 -7.8zM1844 247.5l7.8 7.8l-7.8 7.8l-7.8 -7.8zM1775.9 210.3l7.8 7.8l-7.8 7.8l-7.8 -7.8zM1920 283.7l7.8 7.8l-7.8 7.8l-7.8 -7.8zM1873.8 298.2l7.8 7.8l-7.8 7.8l-7.8 -7.8zM1757.4 272.5l7.8 7.8l-7.8 7.8l-7.8 -7.8zM1876.9 210.6l7.8 7.8l-7.8 7.8l-7.8 -7.8zM1823.1 307.5l7.8 7.8l-7.8 7.8l-7.8 -7.8zM1799.2 280.1l7.8 7.8l-7.8 7.8l-7.8 -7.8zM1769.6 267.8l7.8 7.8l-7.8 7.8l-7.8 -7.8zM1788.7 247.3l7.8 7.8l-7.8 7.8l-7.8 -7.8zM1807.6 294l7.8 7.8l-7.8 7.8l-7.8 -7.8zM1875.9 246.7l7.8 7.8l-7.8 7.8l-7.8 -7.8zM1865.3 236.8l7.8 7.8l-7.8 7.8l-7.8 -7.8zM1886.7 214.8l7.8 7.8l-7.8 7.8l-7.8 -7.8zM1839.1 257.2l7.8 7.8l-7.8 7.8l-7.8 -7.8zM1810.5 187.5l7.8 7.8l-7.8 7.8l-7.8 -7.8zM1770.5 264.3l7.8 7.8l-7.8 7.8l-7.8 -7.8zM1778.1 279.5l7.8 7.8l-7.8 7.8l-7.8 -7.8zM1831.9 304.7l7.8 7.8l-7.8 7.8l-7.8 -7.8zM1894.7 275.5l7.8 7.8l-7.8 7.8l-7.8 -7.8zM1807.6 187.1l7.8 7.8l-7.8 7.8l-7.8 -7.8zM1841.4 277.9l7.8 7.8l-7.8 7.8l-7.8 -7.8zM1908.2 207.7l7.8 7.8l-7.8 7.8l-7.8 -7.8zM1874.9 244.2l7.8 7.8l-7.8 7.8l-7.8 -7.8zM1874.7 200.8l7.8 7.8l-7.8 7.8l-7.8 -7.8zM1839 267.9l7.8 7.8l-7.8 7.8l-7.8 -7.8zM1850 202.3l7.8 7.8l-7.8 7.8l-7.8 -7.8zM1764.4 262.3l7.8 7.8l-7.8 7.8l-7.8 -7.8zM1901.4 199.4l7.8 7.8l-7.8 7.8l-7.8 -7.8zM1883.3 232l7.8 7.8l-7.8 7.8l-7.8 -7.8zM1851.3 215.5l7.8 7.8l-7.8 7.8l-7.8 -7.8zM1867.8 181.8l7.8 7.8l-7.8 7.8l-7.8 -7.8zM1790.9 271.8l7.8 7.8l-7.8 7.8l-7.8 -7.8zM1770.6 185.7l7.8 7.8l-7.8 7.8l-7.8 -7.8zM1834.3 223.9l7.8 7.8l-7.8 7.8l-7.8 -7.8zM1886.4 231.7l7.8 7.8l-7.8 7.8l-7.8 -7.8zM1887 239l7.8 7.8l-7.8 7.8l-7.8 -7.8zM1861.7 223.7l7.8 7.8l-7.8 7.8l-7.8 -7.8zM1780.5 240l7.8 7.8l-7.8 7.8l-7.8 -7.8zM1886 226.1l7.8 7.8l-7.8 7.8l-7.8 -7.8zM1781.5 235.3l7.8 7.8l-7.8 7.8l-7.8 -7.8zM1756.9 222.3l7.8 7.8l-7.8 7.8l-7.8 -7.8zM1844.3 252l7.8 7.8l-7.8 7.8l-7.8 -7.8zM1848.8 219l7.8 7.8l-7.8 7.8l-7.8 -7.8zM1801.5 206.9l7.8 7.8l-7.8 7.8l-7.8 -7.8z" stroke="#a3a6aa" stroke-width="1.1" fill="none"/><path d="" stroke="#333335" stroke-width="1.6" fill="none"/><g fill="#111113" fill-opacity="0.7" stroke="#fff" stroke-width="1"><circle cx="1803.2" cy="124.7" r="5.2"/><circle cx="1834.7" cy="123.7" r="5.2"/><circle cx="1892.5" cy="152.9" r="5.2"/><circle cx="1883.8" cy="172.9" r="5.2"/><circle cx="1879.1" cy="175.2" r="5.2"/><circle cx="1876.8" cy="183.4" r="5.2"/><circle cx="1859.2" cy="179.9" r="5.2"/><circle cx="1890.9" cy="189.3" r="5.2"/><circle cx="1904.3" cy="193.3" r="5.2"/><circle cx="1905.7" cy="209.3" r="5.2"/><circle cx="1913.2" cy="219.9" r="5.2"/><circle cx="1907.4" cy="228.1" r="5.2"/><circle cx="1922.6" cy="238.2" r="5.2"/><circle cx="1909.7" cy="246.9" r="5.2"/><circle cx="1906.2" cy="238.7" r="5.2"/><circle cx="1902.6" cy="259.8" r="5.2"/><circle cx="1906.2" cy="268" r="5.2"/><circle cx="1913.2" cy="277.9" r="5.2"/><circle cx="1910.9" cy="288" r="5.2"/><circle cx="1901" cy="280.5" r="5.2"/><circle cx="1916" cy="303.3" r="5.2"/><circle cx="1899.1" cy="309.2" r="5.2"/><circle cx="1903.4" cy="312.7" r="5.2"/><circle cx="1887.4" cy="297.4" r="5.2"/><circle cx="1878" cy="300.2" r="5.2"/><circle cx="1882.7" cy="308" r="5.2"/><circle cx="1883.8" cy="311.5" r="5.2"/><circle cx="1801.6" cy="314.6" r="5.2"/><circle cx="1820.4" cy="318.1" r="5.2"/><circle cx="1737" cy="279.3" r="5.2"/><circle cx="1744.7" cy="259.8" r="5.2"/><circle cx="1753.4" cy="222.2" r="5.2"/><circle cx="1781.6" cy="189.3" r="5.2"/><circle cx="1814.5" cy="234" r="5.2"/><circle cx="1812.2" cy="245.7" r="5.2"/><circle cx="1822.3" cy="252.3" r="5.2"/><circle cx="1826.7" cy="262.6" r="5.2"/><circle cx="1838" cy="250.9" r="5.2"/><circle cx="1850.9" cy="253.2" r="5.2"/><circle cx="1859.2" cy="249.7" r="5.2"/><circle cx="1849.3" cy="261.2" r="5.2"/><circle cx="1839.2" cy="269.7" r="5.2"/><circle cx="1850.2" cy="235.1" r="5.2"/><circle cx="1839.2" cy="231.6" r="5.2"/><circle cx="1838" cy="228.1" r="5.2"/><circle cx="1861.5" cy="230.4" r="5.2"/><circle cx="1861.5" cy="234" r="5.2"/><circle cx="1846.2" cy="221" r="5.2"/><circle cx="1826.3" cy="218.7" r="5.2"/><circle cx="1818" cy="222.2" r="5.2"/><circle cx="1811" cy="226.9" r="5.2"/><circle cx="1805.1" cy="236.3" r="5.2"/><circle cx="1748.5" cy="275.8" r="5.2"/><circle cx="1764.1" cy="243.7" r="5.2"/><circle cx="1747.5" cy="292.6" r="5.2"/><circle cx="1759.4" cy="277.4" r="5.2"/><circle cx="1768.7" cy="227.3" r="5.2"/><circle cx="1741.8" cy="275.9" r="5.2"/><circle cx="1762" cy="244" r="5.2"/><circle cx="1746.3" cy="284.2" r="5.2"/><circle cx="1767" cy="274.1" r="5.2"/><circle cx="1759.1" cy="245.7" r="5.2"/><circle cx="1774.9" cy="233.2" r="5.2"/><circle cx="1762.4" cy="233.1" r="5.2"/><circle cx="1781.1" cy="224.6" r="5.2"/><circle cx="1758.1" cy="277.6" r="5.2"/><circle cx="1764.4" cy="249.3" r="5.2"/><circle cx="1754.7" cy="270.3" r="5.2"/><circle cx="1771.4" cy="242.1" r="5.2"/><circle cx="1791.3" cy="205.8" r="5.2"/><circle cx="1773.9" cy="248.6" r="5.2"/><circle cx="1788.3" cy="211.8" r="5.2"/><circle cx="1772.6" cy="245.7" r="5.2"/><circle cx="1779.6" cy="224.7" r="5.2"/><circle cx="1771.7" cy="230.5" r="5.2"/><circle cx="1757.5" cy="261.8" r="5.2"/><circle cx="1744.5" cy="292.2" r="5.2"/><circle cx="1764.9" cy="245.2" r="5.2"/><circle cx="1763.7" cy="213.8" r="5.2"/><circle cx="1763.1" cy="274.7" r="5.2"/><circle cx="1747.3" cy="299.7" r="5.2"/><circle cx="1766.6" cy="245.9" r="5.2"/><circle cx="1772.8" cy="236.3" r="5.2"/><circle cx="1775.3" cy="225.7" r="5.2"/><circle cx="1757.8" cy="246.6" r="5.2"/><circle cx="1754.2" cy="240.1" r="5.2"/><circle cx="1754.2" cy="257.1" r="5.2"/><circle cx="1748.8" cy="291.4" r="5.2"/><circle cx="1761.6" cy="252" r="5.2"/><circle cx="1758.8" cy="261.3" r="5.2"/><circle cx="1755.6" cy="258.9" r="5.2"/><circle cx="1753" cy="298.4" r="5.2"/><circle cx="1782.4" cy="221.9" r="5.2"/><circle cx="1762.8" cy="250.7" r="5.2"/><circle cx="1751.8" cy="276.4" r="5.2"/><circle cx="1749.7" cy="278.6" r="5.2"/><circle cx="1737.5" cy="291.2" r="5.2"/><circle cx="1758.3" cy="280.9" r="5.2"/><circle cx="1755.8" cy="282.5" r="5.2"/><circle cx="1773.3" cy="240" r="5.2"/><circle cx="1760.3" cy="264.1" r="5.2"/><circle cx="1779.8" cy="229" r="5.2"/><circle cx="1771.9" cy="237.3" r="5.2"/><circle cx="1757.7" cy="282.8" r="5.2"/><circle cx="1768.8" cy="237.2" r="5.2"/><circle cx="1745.4" cy="295" r="5.2"/><circle cx="1752.1" cy="279.3" r="5.2"/><circle cx="1749.7" cy="268" r="5.2"/><circle cx="1762.2" cy="284" r="5.2"/><circle cx="1784.5" cy="222.4" r="5.2"/><circle cx="1785.3" cy="215.3" r="5.2"/><circle cx="1761.1" cy="257.2" r="5.2"/><circle cx="1759.6" cy="281.1" r="5.2"/><circle cx="1756.6" cy="271.8" r="5.2"/><circle cx="1775.7" cy="209.4" r="5.2"/><circle cx="1785.3" cy="217.4" r="5.2"/><circle cx="1752.9" cy="266.5" r="5.2"/><circle cx="1766.6" cy="259.2" r="5.2"/><circle cx="1757.4" cy="279.2" r="5.2"/><circle cx="1741.7" cy="278.3" r="5.2"/><circle cx="1753.2" cy="270.7" r="5.2"/><circle cx="1774.9" cy="227.8" r="5.2"/><circle cx="1767.6" cy="241.7" r="5.2"/><circle cx="1754.5" cy="281.2" r="5.2"/><circle cx="1750.8" cy="262.7" r="5.2"/><circle cx="1747.9" cy="298.2" r="5.2"/><circle cx="1760.9" cy="292.2" r="5.2"/><circle cx="1782.8" cy="228.1" r="5.2"/><circle cx="1754.8" cy="275.4" r="5.2"/><circle cx="1762.9" cy="238.8" r="5.2"/><circle cx="1749.8" cy="283.4" r="5.2"/><circle cx="1748.4" cy="294.7" r="5.2"/><circle cx="1826.3" cy="227.4" r="5.2"/><circle cx="1854.8" cy="206.6" r="5.2"/><circle cx="1825.4" cy="210.2" r="5.2"/><circle cx="1864.2" cy="206" r="5.2"/><circle cx="1863.2" cy="208.3" r="5.2"/><circle cx="1810.4" cy="212.5" r="5.2"/><circle cx="1831.5" cy="206.3" r="5.2"/><circle cx="1874.6" cy="197" r="5.2"/><circle cx="1836.2" cy="189.2" r="5.2"/><circle cx="1877.2" cy="219.6" r="5.2"/><circle cx="1885.9" cy="227" r="5.2"/><circle cx="1860.1" cy="223.6" r="5.2"/><circle cx="1847.9" cy="188.1" r="5.2"/><circle cx="1798.5" cy="225.9" r="5.2"/><circle cx="1793.3" cy="231.9" r="5.2"/><circle cx="1880.8" cy="220.2" r="5.2"/><circle cx="1785.9" cy="225.5" r="5.2"/><circle cx="1841.7" cy="222.6" r="5.2"/><circle cx="1794.2" cy="224.5" r="5.2"/><circle cx="1819.7" cy="214.1" r="5.2"/><circle cx="1878.9" cy="195.9" r="5.2"/><circle cx="1802.7" cy="196.4" r="5.2"/><circle cx="1854" cy="224.8" r="5.2"/><circle cx="1827.9" cy="203" r="5.2"/><circle cx="1830.8" cy="187" r="5.2"/><circle cx="1830.1" cy="224.4" r="5.2"/><circle cx="1800.5" cy="221.2" r="5.2"/><circle cx="1870.5" cy="220.3" r="5.2"/><circle cx="1842.4" cy="209.5" r="5.2"/><circle cx="1842.4" cy="207.2" r="5.2"/><circle cx="1866.1" cy="192.8" r="5.2"/><circle cx="1813" cy="193.5" r="5.2"/><circle cx="1850.4" cy="200" r="5.2"/><circle cx="1808.9" cy="221.2" r="5.2"/><circle cx="1881.9" cy="215.2" r="5.2"/><circle cx="1784.3" cy="209.3" r="5.2"/><circle cx="1826.6" cy="192" r="5.2"/><circle cx="1824" cy="200.4" r="5.2"/><circle cx="1872.6" cy="190.4" r="5.2"/><circle cx="1852" cy="208.7" r="5.2"/><circle cx="1879.7" cy="228.6" r="5.2"/><circle cx="1847.1" cy="209.4" r="5.2"/><circle cx="1828.6" cy="223.6" r="5.2"/><circle cx="1894.5" cy="208.6" r="5.2"/><circle cx="1808.6" cy="195.5" r="5.2"/><circle cx="1865.9" cy="220.4" r="5.2"/><circle cx="1810.1" cy="193" r="5.2"/><circle cx="1812" cy="192.8" r="5.2"/><circle cx="1887.3" cy="196.6" r="5.2"/><circle cx="1883.3" cy="199.9" r="5.2"/><circle cx="1831.4" cy="223.4" r="5.2"/><circle cx="1879.6" cy="198.7" r="5.2"/><circle cx="1823.5" cy="215" r="5.2"/><circle cx="1821" cy="206.9" r="5.2"/><circle cx="1838.7" cy="194.1" r="5.2"/><circle cx="1827.6" cy="213" r="5.2"/><circle cx="1795.6" cy="197.8" r="5.2"/><circle cx="1859.8" cy="188.6" r="5.2"/><circle cx="1793" cy="235.4" r="5.2"/><circle cx="1825.6" cy="225.8" r="5.2"/><circle cx="1870.6" cy="198.9" r="5.2"/><circle cx="1861" cy="219.2" r="5.2"/><circle cx="1876.3" cy="197.2" r="5.2"/><circle cx="1860.7" cy="212.5" r="5.2"/><circle cx="1794.9" cy="210.1" r="5.2"/><circle cx="1823" cy="222.8" r="5.2"/><circle cx="1861.3" cy="214.2" r="5.2"/><circle cx="1803" cy="218.7" r="5.2"/><circle cx="1855.7" cy="192.4" r="5.2"/><circle cx="1886.2" cy="219.2" r="5.2"/><circle cx="1796.1" cy="234.8" r="5.2"/><circle cx="1798.2" cy="201" r="5.2"/><circle cx="1866.3" cy="216" r="5.2"/><circle cx="1846.8" cy="218.8" r="5.2"/><circle cx="1835.4" cy="199.9" r="5.2"/><circle cx="1865.7" cy="224.8" r="5.2"/><circle cx="1823.8" cy="197.3" r="5.2"/><circle cx="1786.6" cy="210.7" r="5.2"/><circle cx="1810.7" cy="225.6" r="5.2"/><circle cx="1829" cy="212.8" r="5.2"/><circle cx="1872.3" cy="202.2" r="5.2"/><circle cx="1794.9" cy="226.2" r="5.2"/><circle cx="1803.8" cy="205.8" r="5.2"/><circle cx="1869.6" cy="215.6" r="5.2"/><circle cx="1798.8" cy="204.7" r="5.2"/><circle cx="1804.4" cy="212" r="5.2"/><circle cx="1848.4" cy="193.7" r="5.2"/><circle cx="1850.1" cy="218" r="5.2"/><circle cx="1896.4" cy="221" r="5.2"/><circle cx="1816.8" cy="230.8" r="5.2"/><circle cx="1838.5" cy="216.2" r="5.2"/><circle cx="1872.2" cy="219.6" r="5.2"/><circle cx="1839.4" cy="211.8" r="5.2"/><circle cx="1835.7" cy="193.2" r="5.2"/><circle cx="1843.8" cy="184.3" r="5.2"/><circle cx="1840.4" cy="218.7" r="5.2"/><circle cx="1833.8" cy="214.2" r="5.2"/><circle cx="1797.5" cy="227" r="5.2"/><circle cx="1823.9" cy="195.4" r="5.2"/><circle cx="1790.8" cy="212.7" r="5.2"/><circle cx="1890.9" cy="200.5" r="5.2"/><circle cx="1883.9" cy="221.4" r="5.2"/><circle cx="1797.4" cy="230.7" r="5.2"/><circle cx="1822" cy="227.8" r="5.2"/><circle cx="1838.6" cy="188.4" r="5.2"/><circle cx="1805.2" cy="191.3" r="5.2"/><circle cx="1840" cy="221.7" r="5.2"/><circle cx="1844.8" cy="206.1" r="5.2"/><circle cx="1857.9" cy="199.4" r="5.2"/><circle cx="1828.8" cy="192.4" r="5.2"/><circle cx="1887.3" cy="222.9" r="5.2"/><circle cx="1824.7" cy="203.2" r="5.2"/><circle cx="1843.8" cy="215.9" r="5.2"/><circle cx="1806.2" cy="226.4" r="5.2"/><circle cx="1798.5" cy="208.2" r="5.2"/><circle cx="1804.6" cy="194.1" r="5.2"/><circle cx="1801.7" cy="205" r="5.2"/><circle cx="1794.5" cy="191.7" r="5.2"/><circle cx="1839.2" cy="185.6" r="5.2"/><circle cx="1784.2" cy="207.5" r="5.2"/><circle cx="1829.5" cy="221.9" r="5.2"/><circle cx="1787.6" cy="205" r="5.2"/><circle cx="1792.7" cy="209" r="5.2"/><circle cx="1801" cy="217.4" r="5.2"/><circle cx="1787.7" cy="223.3" r="5.2"/><circle cx="1813.9" cy="226.7" r="5.2"/><circle cx="1816.9" cy="196.4" r="5.2"/><circle cx="1812.8" cy="228.2" r="5.2"/><circle cx="1855.5" cy="201.7" r="5.2"/><circle cx="1792.6" cy="220.7" r="5.2"/><circle cx="1895.5" cy="215.7" r="5.2"/><circle cx="1791.9" cy="198.8" r="5.2"/><circle cx="1827.4" cy="201.1" r="5.2"/><circle cx="1802.1" cy="224" r="5.2"/><circle cx="1824.2" cy="205.7" r="5.2"/><circle cx="1808.6" cy="226.2" r="5.2"/><circle cx="1838.1" cy="197.5" r="5.2"/><circle cx="1801.6" cy="222.9" r="5.2"/><circle cx="1852.8" cy="222.3" r="5.2"/><circle cx="1827.1" cy="209.7" r="5.2"/><circle cx="1877.1" cy="265.6" r="5.2"/><circle cx="1901.2" cy="263.6" r="5.2"/><circle cx="1874.8" cy="236.7" r="5.2"/><circle cx="1904.6" cy="261.5" r="5.2"/><circle cx="1900.2" cy="242.6" r="5.2"/><circle cx="1885.7" cy="226.6" r="5.2"/><circle cx="1875.1" cy="257" r="5.2"/><circle cx="1875.3" cy="227.2" r="5.2"/><circle cx="1896.9" cy="236.9" r="5.2"/><circle cx="1872.9" cy="231.5" r="5.2"/><circle cx="1896.7" cy="258" r="5.2"/><circle cx="1871.4" cy="236.3" r="5.2"/><circle cx="1893.4" cy="247.9" r="5.2"/><circle cx="1902.1" cy="259.1" r="5.2"/><circle cx="1902.4" cy="254.9" r="5.2"/><circle cx="1878.4" cy="233.1" r="5.2"/><circle cx="1874.1" cy="272.7" r="5.2"/><circle cx="1875.4" cy="223.7" r="5.2"/><circle cx="1889.5" cy="235.8" r="5.2"/><circle cx="1905.7" cy="243.4" r="5.2"/><circle cx="1895" cy="249.4" r="5.2"/><circle cx="1879.2" cy="255.2" r="5.2"/><circle cx="1889.5" cy="266.7" r="5.2"/><circle cx="1874" cy="243.4" r="5.2"/><circle cx="1890.3" cy="226.6" r="5.2"/><circle cx="1893" cy="267.1" r="5.2"/><circle cx="1887.8" cy="261.8" r="5.2"/><circle cx="1895.1" cy="235.3" r="5.2"/><circle cx="1884.3" cy="248.5" r="5.2"/><circle cx="1877.5" cy="279.1" r="5.2"/><circle cx="1908.1" cy="254.9" r="5.2"/><circle cx="1890.3" cy="269.5" r="5.2"/><circle cx="1907.7" cy="240.1" r="5.2"/><circle cx="1874.8" cy="266.4" r="5.2"/><circle cx="1882.7" cy="254" r="5.2"/><circle cx="1896.5" cy="224.7" r="5.2"/><circle cx="1900.7" cy="239.1" r="5.2"/><circle cx="1888.2" cy="243.3" r="5.2"/><circle cx="1882.4" cy="228.5" r="5.2"/><circle cx="1877.4" cy="241.3" r="5.2"/><circle cx="1809.3" cy="279.5" r="5.2"/><circle cx="1812.9" cy="274" r="5.2"/><circle cx="1812.4" cy="279.8" r="5.2"/><circle cx="1796.1" cy="263.8" r="5.2"/><circle cx="1823.7" cy="294.4" r="5.2"/><circle cx="1803.8" cy="263.9" r="5.2"/><circle cx="1813" cy="265.3" r="5.2"/><circle cx="1802.6" cy="270.3" r="5.2"/><circle cx="1824.5" cy="275.9" r="5.2"/><circle cx="1800.3" cy="263.6" r="5.2"/><circle cx="1807.8" cy="282.8" r="5.2"/><circle cx="1818.8" cy="292.2" r="5.2"/><circle cx="1823.9" cy="278.9" r="5.2"/><circle cx="1825.8" cy="280.3" r="5.2"/><circle cx="1801.1" cy="267.7" r="5.2"/><circle cx="1809.5" cy="284.1" r="5.2"/><circle cx="1830.1" cy="288.9" r="5.2"/><circle cx="1815.6" cy="275.8" r="5.2"/><circle cx="1811.8" cy="267.8" r="5.2"/><circle cx="1806.9" cy="273.7" r="5.2"/><circle cx="1795.6" cy="272.5" r="5.2"/><circle cx="1812" cy="275.7" r="5.2"/><circle cx="1826.7" cy="289.4" r="5.2"/><circle cx="1830.3" cy="282.3" r="5.2"/><circle cx="1813.2" cy="278.2" r="5.2"/><circle cx="1818.5" cy="274.4" r="5.2"/><circle cx="1831.5" cy="283.3" r="5.2"/><circle cx="1796.8" cy="274.8" r="5.2"/><circle cx="1857.3" cy="296.4" r="5.2"/><circle cx="1828.6" cy="295.3" r="5.2"/><circle cx="1817.9" cy="292.5" r="5.2"/><circle cx="1808" cy="303.6" r="5.2"/><circle cx="1851.7" cy="314.2" r="5.2"/><circle cx="1844.3" cy="313.5" r="5.2"/><circle cx="1820.4" cy="302.1" r="5.2"/><circle cx="1820.4" cy="304.3" r="5.2"/><circle cx="1845.3" cy="290.5" r="5.2"/><circle cx="1838" cy="298.7" r="5.2"/><circle cx="1809.8" cy="299" r="5.2"/><circle cx="1811.1" cy="297.7" r="5.2"/><circle cx="1818.9" cy="297.7" r="5.2"/><circle cx="1865.3" cy="302.2" r="5.2"/><circle cx="1849.1" cy="296.3" r="5.2"/><circle cx="1804.2" cy="297.4" r="5.2"/><circle cx="1852" cy="312.3" r="5.2"/><circle cx="1840.2" cy="301.5" r="5.2"/><circle cx="1838.2" cy="300.7" r="5.2"/><circle cx="1837.9" cy="314.1" r="5.2"/><circle cx="1816" cy="305.9" r="5.2"/><circle cx="1820.3" cy="292.6" r="5.2"/><circle cx="1829.7" cy="315.4" r="5.2"/><circle cx="1837.3" cy="311.8" r="5.2"/><circle cx="1831.8" cy="290.7" r="5.2"/><circle cx="1842.3" cy="296.7" r="5.2"/><circle cx="1836.1" cy="298.4" r="5.2"/><circle cx="1823.7" cy="297.9" r="5.2"/><circle cx="1810.9" cy="302.7" r="5.2"/><circle cx="1850.9" cy="297.3" r="5.2"/><circle cx="1845.2" cy="295.3" r="5.2"/><circle cx="1834.2" cy="303.8" r="5.2"/><circle cx="1843.4" cy="288" r="5.2"/><circle cx="1859" cy="298.8" r="5.2"/><circle cx="1816.9" cy="304.4" r="5.2"/><circle cx="1860.9" cy="300.4" r="5.2"/><circle cx="1859.9" cy="309.9" r="5.2"/><circle cx="1826.6" cy="295.9" r="5.2"/><circle cx="1827.3" cy="307.9" r="5.2"/><circle cx="1860.4" cy="305.6" r="5.2"/></g>
<path d="M169.4 534.4V548.5M195.7 536.8V555.6M211 532.1V548.5M209.3 549.7V554.4M218.7 545V563.8M167 586.1V614.3M177.6 584.9V622.5M181.1 586.1V621.4M215.2 591.5V597.2M223.4 576.7V590.8M225.8 573.2V587.3M244.6 452.6V459.7M256.3 459.9V461.3M221.1 472.1V498M248.1 488.6V493.3M228.1 509.7V519.1M428.4 438.8V444.4M519.5 570.1V584.2M295.1 535.6V542.6M284.5 524.5V541M283.3 526.2V540.3M261 519.1V537.9M254 513.3V532.1M261 541.5V565M266.9 546.2V560.3M232.8 543.8V572M237.5 548.5V572M242.2 548.5V567.3M228.1 550.9V574.4M325.6 529.7V553.2M326.8 522.7V536.8M339.7 545V554.4M315.1 561.4V580.2M333.9 567.3V590.8M282.2 576.7V586.1M277.5 579.1V593.2M284.5 584.9V596.7M323.3 595.5V614.3M340.9 599V610.8M378.5 583.8V612M383.2 599V608.4M400.9 599V608.4M416.1 600.2V609.6M345.6 586.1V595.5M350.3 588.5V602.6M371.5 563.8V577.9M369.1 569.7V579.1M385.6 553.2V572M399.7 569.7V588.5M405.6 576.7V595.5M407.9 516.8V526.2M429.1 527.4V534.4M484.3 573.2V596.7M328 458V472.1M346.8 456.9V471M355 529.7V539.1M486.6 586.3V609.2M457.4 568V579.4M451.8 584.4V606.3M422.4 591.4V603.6M415.4 551.8V561.3M470.9 590.3V611.4M424.3 587.4V603.7M436.9 571.2V582.5M453 541.7V555.9M418.2 572.1V585.6M436.8 563.8V581.4M469.9 579.1V602M444 588.8V600.5M404.1 540V557.7M459 571.1V582.7M430.3 588.5V599.2M440.3 575.5V591.9M437.6 554.8V564.2M427.2 567.3V588.7M419.8 563.2V584.5M425.1 572V584.6M410.3 528.7V547.8M432.9 579.6V599.3M481.5 570.1V592.9M421 552.7V564.3M228.6 539.3V549.3M228 550.4V568.3M226.7 548.8V567M228.3 524.8V537.2M302.6 474.2V484.1M236 519.1V536M228.1 531.4V550M245.9 507.5V528.8M286 479.7V491.4M309.2 470.3V491.6M249.4 494.7V504.8M228.5 539.3V548.8M249.7 496.5V508M244.5 499.4V509.3M300.4 474.9V491.2M312.2 471.6V482.4M246.9 501.6V511.5M328.4 471.7V485.3M231.3 555.1V567.2M338.3 473.1V486.8M240 505.9V519.6M309.5 465.6V479.5M308.3 467.3V485.7" stroke="#b0b3b6" stroke-width="1.5" fill="none"/><path d="M169.4 533.7l7.8 7.8l-7.8 7.8l-7.8 -7.8zM195.7 538.4l7.8 7.8l-7.8 7.8l-7.8 -7.8zM211 532.5l7.8 7.8l-7.8 7.8l-7.8 -7.8zM209.3 544.2l7.8 7.8l-7.8 7.8l-7.8 -7.8zM218.7 546.6l7.8 7.8l-7.8 7.8l-7.8 -7.8zM167 592.4l7.8 7.8l-7.8 7.8l-7.8 -7.8zM177.6 595.9l7.8 7.8l-7.8 7.8l-7.8 -7.8zM181.1 595.9l7.8 7.8l-7.8 7.8l-7.8 -7.8zM215.2 586.5l7.8 7.8l-7.8 7.8l-7.8 -7.8zM223.4 576l7.8 7.8l-7.8 7.8l-7.8 -7.8zM225.8 572.4l7.8 7.8l-7.8 7.8l-7.8 -7.8zM244.6 448.4l7.8 7.8l-7.8 7.8l-7.8 -7.8zM256.3 452.8l7.8 7.8l-7.8 7.8l-7.8 -7.8zM221.1 477.3l7.8 7.8l-7.8 7.8l-7.8 -7.8zM248.1 483.1l7.8 7.8l-7.8 7.8l-7.8 -7.8zM228.1 506.6l7.8 7.8l-7.8 7.8l-7.8 -7.8zM428.4 433.8l7.8 7.8l-7.8 7.8l-7.8 -7.8zM501.2 486l7.8 7.8l-7.8 7.8l-7.8 -7.8zM519.5 569.4l7.8 7.8l-7.8 7.8l-7.8 -7.8zM295.1 531.3l7.8 7.8l-7.8 7.8l-7.8 -7.8zM284.5 525l7.8 7.8l-7.8 7.8l-7.8 -7.8zM283.3 525.4l7.8 7.8l-7.8 7.8l-7.8 -7.8zM292.7 516.5l7.8 7.8l-7.8 7.8l-7.8 -7.8zM278.6 504.3l7.8 7.8l-7.8 7.8l-7.8 -7.8zM261 520.7l7.8 7.8l-7.8 7.8l-7.8 -7.8zM254 514.9l7.8 7.8l-7.8 7.8l-7.8 -7.8zM261 545.4l7.8 7.8l-7.8 7.8l-7.8 -7.8zM266.9 545.4l7.8 7.8l-7.8 7.8l-7.8 -7.8zM279.3 545.4l7.8 7.8l-7.8 7.8l-7.8 -7.8zM232.8 550.1l7.8 7.8l-7.8 7.8l-7.8 -7.8zM237.5 552.5l7.8 7.8l-7.8 7.8l-7.8 -7.8zM242.2 550.1l7.8 7.8l-7.8 7.8l-7.8 -7.8zM228.1 554.8l7.8 7.8l-7.8 7.8l-7.8 -7.8zM329.2 556l7.8 7.8l-7.8 7.8l-7.8 -7.8zM325.6 533.7l7.8 7.8l-7.8 7.8l-7.8 -7.8zM326.8 521.9l7.8 7.8l-7.8 7.8l-7.8 -7.8zM339.7 541.9l7.8 7.8l-7.8 7.8l-7.8 -7.8zM357.4 543.1l7.8 7.8l-7.8 7.8l-7.8 -7.8zM315.1 563l7.8 7.8l-7.8 7.8l-7.8 -7.8zM333.9 571.3l7.8 7.8l-7.8 7.8l-7.8 -7.8zM282.2 573.6l7.8 7.8l-7.8 7.8l-7.8 -7.8zM277.5 578.3l7.8 7.8l-7.8 7.8l-7.8 -7.8zM284.5 583l7.8 7.8l-7.8 7.8l-7.8 -7.8zM323.3 597.1l7.8 7.8l-7.8 7.8l-7.8 -7.8zM340.9 597.1l7.8 7.8l-7.8 7.8l-7.8 -7.8zM378.5 590.1l7.8 7.8l-7.8 7.8l-7.8 -7.8zM383.2 595.9l7.8 7.8l-7.8 7.8l-7.8 -7.8zM400.9 595.9l7.8 7.8l-7.8 7.8l-7.8 -7.8zM416.1 597.1l7.8 7.8l-7.8 7.8l-7.8 -7.8zM345.6 583l7.8 7.8l-7.8 7.8l-7.8 -7.8zM350.3 587.7l7.8 7.8l-7.8 7.8l-7.8 -7.8zM371.5 563l7.8 7.8l-7.8 7.8l-7.8 -7.8zM369.1 566.6l7.8 7.8l-7.8 7.8l-7.8 -7.8zM385.6 554.8l7.8 7.8l-7.8 7.8l-7.8 -7.8zM399.7 571.3l7.8 7.8l-7.8 7.8l-7.8 -7.8zM405.6 578.3l7.8 7.8l-7.8 7.8l-7.8 -7.8zM407.9 513.7l7.8 7.8l-7.8 7.8l-7.8 -7.8zM429.1 523.1l7.8 7.8l-7.8 7.8l-7.8 -7.8zM484.3 577.1l7.8 7.8l-7.8 7.8l-7.8 -7.8zM301 464.3l7.8 7.8l-7.8 7.8l-7.8 -7.8zM328 457.3l7.8 7.8l-7.8 7.8l-7.8 -7.8zM346.8 456.1l7.8 7.8l-7.8 7.8l-7.8 -7.8zM371.5 504.3l7.8 7.8l-7.8 7.8l-7.8 -7.8zM320.9 510.2l7.8 7.8l-7.8 7.8l-7.8 -7.8zM352.7 521.9l7.8 7.8l-7.8 7.8l-7.8 -7.8zM355 526.6l7.8 7.8l-7.8 7.8l-7.8 -7.8zM428.6 555.6l7.8 7.8l-7.8 7.8l-7.8 -7.8zM486.6 590l7.8 7.8l-7.8 7.8l-7.8 -7.8zM455.3 554.4l7.8 7.8l-7.8 7.8l-7.8 -7.8zM457.4 565.9l7.8 7.8l-7.8 7.8l-7.8 -7.8zM418 578l7.8 7.8l-7.8 7.8l-7.8 -7.8zM451.8 587.5l7.8 7.8l-7.8 7.8l-7.8 -7.8zM422.4 589.7l7.8 7.8l-7.8 7.8l-7.8 -7.8zM432.1 571.2l7.8 7.8l-7.8 7.8l-7.8 -7.8zM415.4 548.8l7.8 7.8l-7.8 7.8l-7.8 -7.8zM410.8 541.4l7.8 7.8l-7.8 7.8l-7.8 -7.8zM417.8 548.2l7.8 7.8l-7.8 7.8l-7.8 -7.8zM470.9 593l7.8 7.8l-7.8 7.8l-7.8 -7.8zM460.2 575.7l7.8 7.8l-7.8 7.8l-7.8 -7.8zM424.3 587.7l7.8 7.8l-7.8 7.8l-7.8 -7.8zM437.6 574.6l7.8 7.8l-7.8 7.8l-7.8 -7.8zM410.9 535.3l7.8 7.8l-7.8 7.8l-7.8 -7.8zM472.1 555.1l7.8 7.8l-7.8 7.8l-7.8 -7.8zM436.9 569l7.8 7.8l-7.8 7.8l-7.8 -7.8zM453 541l7.8 7.8l-7.8 7.8l-7.8 -7.8zM395.9 559l7.8 7.8l-7.8 7.8l-7.8 -7.8zM434.8 556.8l7.8 7.8l-7.8 7.8l-7.8 -7.8zM418.2 571l7.8 7.8l-7.8 7.8l-7.8 -7.8zM452.9 592.7l7.8 7.8l-7.8 7.8l-7.8 -7.8zM416.7 525.6l7.8 7.8l-7.8 7.8l-7.8 -7.8zM436.8 564.8l7.8 7.8l-7.8 7.8l-7.8 -7.8zM469.9 582.7l7.8 7.8l-7.8 7.8l-7.8 -7.8zM444 586.8l7.8 7.8l-7.8 7.8l-7.8 -7.8zM441.2 590.5l7.8 7.8l-7.8 7.8l-7.8 -7.8zM426.2 571.2l7.8 7.8l-7.8 7.8l-7.8 -7.8zM426.1 590.1l7.8 7.8l-7.8 7.8l-7.8 -7.8zM404.1 541l7.8 7.8l-7.8 7.8l-7.8 -7.8zM459 569.1l7.8 7.8l-7.8 7.8l-7.8 -7.8zM430.3 586l7.8 7.8l-7.8 7.8l-7.8 -7.8zM441.6 576.2l7.8 7.8l-7.8 7.8l-7.8 -7.8zM440.3 575.9l7.8 7.8l-7.8 7.8l-7.8 -7.8zM437.6 551.7l7.8 7.8l-7.8 7.8l-7.8 -7.8zM415.4 535.8l7.8 7.8l-7.8 7.8l-7.8 -7.8zM429.4 573.5l7.8 7.8l-7.8 7.8l-7.8 -7.8zM407.5 527l7.8 7.8l-7.8 7.8l-7.8 -7.8zM455 581.5l7.8 7.8l-7.8 7.8l-7.8 -7.8zM446 562.9l7.8 7.8l-7.8 7.8l-7.8 -7.8zM441.4 532.4l7.8 7.8l-7.8 7.8l-7.8 -7.8zM427.2 570.2l7.8 7.8l-7.8 7.8l-7.8 -7.8zM419.8 566.1l7.8 7.8l-7.8 7.8l-7.8 -7.8zM431.8 559l7.8 7.8l-7.8 7.8l-7.8 -7.8zM431.9 544.5l7.8 7.8l-7.8 7.8l-7.8 -7.8zM425.1 570.5l7.8 7.8l-7.8 7.8l-7.8 -7.8zM431.1 576.3l7.8 7.8l-7.8 7.8l-7.8 -7.8zM457.3 545.6l7.8 7.8l-7.8 7.8l-7.8 -7.8zM440.8 538.4l7.8 7.8l-7.8 7.8l-7.8 -7.8zM406.4 546.2l7.8 7.8l-7.8 7.8l-7.8 -7.8zM461.2 555.4l7.8 7.8l-7.8 7.8l-7.8 -7.8zM470.1 583.2l7.8 7.8l-7.8 7.8l-7.8 -7.8zM424.6 573.1l7.8 7.8l-7.8 7.8l-7.8 -7.8zM410.3 530.4l7.8 7.8l-7.8 7.8l-7.8 -7.8zM432.9 581.6l7.8 7.8l-7.8 7.8l-7.8 -7.8zM481.5 573.7l7.8 7.8l-7.8 7.8l-7.8 -7.8zM416.7 549.4l7.8 7.8l-7.8 7.8l-7.8 -7.8zM421 550.7l7.8 7.8l-7.8 7.8l-7.8 -7.8zM406.1 557.5l7.8 7.8l-7.8 7.8l-7.8 -7.8zM228.6 536.5l7.8 7.8l-7.8 7.8l-7.8 -7.8zM228 551.5l7.8 7.8l-7.8 7.8l-7.8 -7.8zM285.6 465.8l7.8 7.8l-7.8 7.8l-7.8 -7.8zM226.7 550.1l7.8 7.8l-7.8 7.8l-7.8 -7.8zM228.3 523.2l7.8 7.8l-7.8 7.8l-7.8 -7.8zM302.6 471.4l7.8 7.8l-7.8 7.8l-7.8 -7.8zM236 519.8l7.8 7.8l-7.8 7.8l-7.8 -7.8zM228.4 532.5l7.8 7.8l-7.8 7.8l-7.8 -7.8zM228.1 532.9l7.8 7.8l-7.8 7.8l-7.8 -7.8zM328 465.1l7.8 7.8l-7.8 7.8l-7.8 -7.8zM245.9 510.4l7.8 7.8l-7.8 7.8l-7.8 -7.8zM320.4 466.3l7.8 7.8l-7.8 7.8l-7.8 -7.8zM286 477.8l7.8 7.8l-7.8 7.8l-7.8 -7.8zM309.2 473.1l7.8 7.8l-7.8 7.8l-7.8 -7.8zM249.4 491.9l7.8 7.8l-7.8 7.8l-7.8 -7.8zM228.5 536.2l7.8 7.8l-7.8 7.8l-7.8 -7.8zM324.6 464.4l7.8 7.8l-7.8 7.8l-7.8 -7.8zM317.5 470.7l7.8 7.8l-7.8 7.8l-7.8 -7.8zM277.3 475.4l7.8 7.8l-7.8 7.8l-7.8 -7.8zM249.7 494.4l7.8 7.8l-7.8 7.8l-7.8 -7.8zM244.5 496.5l7.8 7.8l-7.8 7.8l-7.8 -7.8zM300.4 475.2l7.8 7.8l-7.8 7.8l-7.8 -7.8zM243.1 498.7l7.8 7.8l-7.8 7.8l-7.8 -7.8zM230.4 522.9l7.8 7.8l-7.8 7.8l-7.8 -7.8zM301.9 469.7l7.8 7.8l-7.8 7.8l-7.8 -7.8zM243.1 493l7.8 7.8l-7.8 7.8l-7.8 -7.8zM312.2 469.2l7.8 7.8l-7.8 7.8l-7.8 -7.8zM241.9 505.3l7.8 7.8l-7.8 7.8l-7.8 -7.8zM229.1 566.1l7.8 7.8l-7.8 7.8l-7.8 -7.8zM275.5 478.9l7.8 7.8l-7.8 7.8l-7.8 -7.8zM246.9 498.8l7.8 7.8l-7.8 7.8l-7.8 -7.8zM328.4 470.7l7.8 7.8l-7.8 7.8l-7.8 -7.8zM231.3 553.3l7.8 7.8l-7.8 7.8l-7.8 -7.8zM252.7 495.6l7.8 7.8l-7.8 7.8l-7.8 -7.8zM334 463.5l7.8 7.8l-7.8 7.8l-7.8 -7.8zM338.3 472.2l7.8 7.8l-7.8 7.8l-7.8 -7.8zM296.4 473.4l7.8 7.8l-7.8 7.8l-7.8 -7.8zM240 504.9l7.8 7.8l-7.8 7.8l-7.8 -7.8zM309.5 464.7l7.8 7.8l-7.8 7.8l-7.8 -7.8zM308.3 468.7l7.8 7.8l-7.8 7.8l-7.8 -7.8z" stroke="#a3a6aa" stroke-width="1.1" fill="none"/><path d="M254 566.8V580.9M263.4 571.6V578M272.8 574.7V581.1M266.9 584.1V590.5M289.2 578.2V584.6M293.9 574.4V593.2M297.4 580.1V586.5M308 584.1V590.5M306.8 587.6V594M312.7 592.3V598.7M319.8 591.6V598M326.8 581.3V587.7M293.9 590V596.4M289.2 597.5V603.9M277 596.7V621.4M211 598.9V605.3M215.9 571.2V577.6M223.4 561.8V568.2M224.6 567.6V574M264.5 562.9V569.3M310.4 561.8V568.2M317.4 566.5V572.9M332.7 544.6V551M353.4 568.1V574.5M353.8 579.4V585.8M355 587.2V593.6M362.1 597.9V616.7M370.3 594.2V600.6M371 577.7V584.1M391 564.8V571.2M391 580.6V587M396.2 593.5V599.9M411.4 596.7V615.5M416.1 587.6V594M342.1 447.5V461.6M368.2 449.4V455.8M527.8 437.4V451.5M501.2 454V470.5M505 521.8V528.2M477.5 514.4V542.6M496.5 549.3V555.7M505.4 559.1V582.6M529.4 566.1V587.3M485.5 565.4V579.5M447.9 500.3V519.1M426.7 495.5V501.9M412.6 484.9V491.3M398.5 484.2V490.6M418.5 499.2V513.3M403.2 502.7V512.1M370.3 476.1V483.2M363.2 473.3V494.5M362.1 507.7V514.1M353.8 494V512.8M225.8 475.2V501M234 497.1V503.5M235.6 513.8V520.2M257.1 480.9V497.4M230 544.4V550.8M227.5 558.9V565.3M226.6 534.9V541.3M249.6 508.6V515M266.7 479.4V489.7M263.7 487V493.4M225.3 528.8V546.6M258.2 491.1V497.5M216.5 564V570.4M240.2 513.4V519.8M230.6 529.1V535.5M228.4 564V570.4M232.3 526.3V532.7M243.6 509.3V515.7M221.3 544.8V551.2M234.3 516.6V537.3M229.5 535.6V542M234.7 515.7V522.1M218.8 541.7V548.1M246.2 510.6V517M228.7 530.3V536.7M239.3 523.1V529.5M234.3 526.5V532.9M225.7 563.5V569.9M265.3 481.4V487.8M231.4 520.4V526.8M241.8 503V509.4M226 557.4V563.8M237.7 501.3V507.7M256 469.7V495.5M262.3 492.1V498.5M248.9 506.9V513.3M225.3 546.9V558.1M233.1 557.8V564.2M248.1 491.9V498.3M227.8 527.1V533.5M248.1 502.4V508.8M222.8 558.5V570.4M236.2 516.9V523.3M242 500.3V506.7M231.7 529.4V535.8M230.9 524.1V530.5M249.4 494.5V500.9M273.5 473.2V497.2M259.7 489.7V496.1M247 492.5V503.2M227.1 548.8V555.2M252.3 495.6V502M243.1 520.6V531.7M252.6 486.3V492.7M254.5 487V507.2M216.8 559.4V565.8M243 511V517.4M259.1 487.2V493.6M235.6 520.6V527M235.8 539V545.4M240.3 488.1V511.6M237.3 516.4V542.7M222.7 544.6V551M250.7 494V503.7M230.5 529.4V548.4M235.3 534.6V552.7M233.2 523.4V537.7M243.5 497.2V503.6M229.6 546.3V552.7M241.1 504.2V531.3M230 559.5V565.9M223.7 531.4V537.8M257.8 481.2V487.6M226.9 571.4V577.8M221.8 554.3V560.7M234 531.6V538M224.7 559.3V565.7M236.1 530.4V536.8M245.6 506.6V513M223.6 539.1V545.5M230.2 567.1V573.5M224.6 555.3V561.7M322 465.6V472M271.5 483V489.4M269.8 476.2V482.6M306 472.2V487.5M288.7 478.1V488.1M278.7 470.3V476.7M316.5 466.8V473.2M314.4 468.4V474.8M324.5 471.4V477.8M323.7 477.3V483.7M332.3 475V481.4M285.1 476.2V482.6M317.4 470V476.4M299.2 473V479.4M301.5 475.8V482.2M313.4 469.5V475.9M300.6 474.4V480.8M335.2 471.6V478M341.1 465.3V471.7M291.9 477.3V483.7M333.7 463.7V470.1M282.2 480.5V486.9M298 467.8V474.2M335.9 483.4V489.8M277.5 483.3V489.7M332.8 468.9V475.3M349.1 480.9V487.3M327.2 476.7V483.1M345.5 476.3V487M305.6 479V485.4M279.8 471V490.8M316.6 458.6V479.3M312.9 473.3V479.7M312.8 477.7V484.1M275.5 471.8V495.3M310.7 459V485.6M341.7 467.8V474.2M278.8 480.1V486.5M329.8 479.3V485.7M297.1 465.7V472.1M266.4 478.4V484.8M297.7 471.8V494.1M265 474.6V485.3M354 485.4V500.8M274.2 480.6V487M308.1 478.7V485.1M294 477.1V483.5M329.4 477.8V484.2M313 470.8V477.2M337.1 469.3V475.7M268.3 480.2V486.6M332.8 474.1V480.5M317.9 475.9V482.3M322 470.8V477.2M305.7 472.2V478.6M335.8 478.1V484.5M338.3 481V487.4M290.4 474V480.4M334.2 477.7V484.1M308 481.9V488.3M311.6 467.6V474M326.9 465.5V486.4M320.9 470.3V476.7M336.5 466.5V472.9M305.4 468.1V474.5M354.8 487.5V493.9M332.4 467.7V474.1M306.4 471.1V477.5M338.9 466.6V473M313.9 478V484.4M268.7 477.6V484M281.9 482.3V488.7M336.7 464.8V471.2M266.7 483V489.4M317.7 467.9V474.3M318.9 470V481.9M355.9 486.8V493.2M279.3 482.8V489.2M319.9 473.4V479.8M331.8 472.1V497.6M329.9 471.6V478M279.7 472.8V485.2M350.9 476.3V482.7M272.1 472.5V478.9M327.3 468.7V475.1M296.8 496.7V503.1M282.2 499.2V505.6M295.9 490.6V497M293.9 483.3V489.7M284.6 494.6V501M302 495.7V502.1M305.5 491.5V497.9M304.2 496.9V503.3M289.3 486.6V493M301.9 502.4V508.8M286.4 490.2V496.6M282.4 490.7V497.1M288.1 486.5V492.9M296.8 486.4V492.8M292.3 498.4V504.8M284.8 486.9V493.3M300.2 496.5V502.9M293.6 485.8V492.2M294.8 502.6V509M306.9 489.9V496.3M306.4 485.6V492M295.8 504V510.4M287.1 496.6V503M302.8 482.3V488.7M303.2 503.7V510.1M323.7 485.5V491.9M341.1 498.4V504.8M336 531.6V538M318 491V497.4M332.3 522.2V528.6M335.6 486.4V492.8M313.9 483V489.4M336.9 535V541.4M345.2 504.6V511M341 492.4V498.8M331.8 472.2V485.5M329.8 480V486.4M338.7 525.3V534.9M321.8 491.1V517.3M326 507.5V513.9M337.1 492.6V499M328.2 507.8V519.3M340.7 529.1V535.5M325.6 483.2V489.6M316.5 497.1V503.5M338.2 534.6V541M342.5 515.5V533M321.8 509V515.4M327.9 517.3V523.7M349.4 530.2V536.6M349.3 517.6V524M326.6 515.2V521.6M339.6 492.9V499.3M330.2 470.2V484M340.7 483.2V489.6M327.2 470V496M346.5 511.2V530.3M344.5 507.7V529.6M343.2 498.2V504.6M324.7 488.4V494.8M325.7 492.5V498.9M330.1 502.1V508.5M342.8 533.5V539.9M341.5 527.7V534.1M347.4 511.3V517.7M334.8 532.7V539.1M341.1 484.9V501.8M341.7 482.8V505.9M315 501.1V507.5M340.8 522.7V533M339.3 515.8V534.3M325.5 489.5V495.9M339.7 509.6V516M321 489.5V495.9M328.5 502.4V508.8M328.4 474V480.4M332.1 484V490.4M330.6 488.9V495.3M319.5 488.9V495.3M338.9 479.6V486M343.6 509.1V515.5M337.1 525.3V531.7M344.1 507.7V514.1M338.4 525V531.4M332.5 476.4V482.8M339.7 481.6V488M331.2 480.4V486.8M331.9 502.5V508.9M342.7 529.7V539.8M341.1 531.8V543.9M320.3 509.3V515.7M320.7 502.9V509.3M334.6 492.9V499.3M333.7 479.6V486M343.4 492.5V513.1M341.7 526.4V532.8M336.1 517.2V523.6M344.2 515.3V529.7M344.2 530V536.4M341.8 495.2V501.6M335.7 475.8V482.2M332.7 483.2V489.6M347.1 508.7V515.1M316.5 501.5V507.9M337.3 480.5V486.9M335.6 473.6V480M331.9 490.2V496.6M323.1 481.5V487.9M335.6 528.3V534.7M331.1 521V527.4M383.4 524.1V530.5M391.2 494.7V501.1M397.1 490.7V497.1M390.8 511.8V521.8M383.1 508.8V515.2M389.6 500.9V507.3M389.9 502V508.4M392.3 507.5V513.9M395.4 483.8V490.2M384.6 502.8V509.2M376.7 546.8V553.2M369.6 539.1V550.2M368.1 515V529.6M391.4 486.6V493M367.9 525.6V532M368.9 526.8V533.2M366.3 528.1V534.5M397.2 488V499.4M368.7 548.4V554.8M385.8 483.9V490.3M359.1 540.3V546.7M392.9 494V500.4M397.7 500.5V506.9M376.5 525.5V531.9M379.8 517V523.4M396.8 495V501.4M370.6 542.1V548.5M383.9 515.7V522.1M386.5 481.3V487.7M395.7 508.6V515M395.1 473.4V479.8M361.5 539V545.4M371.1 542.6V549M396.6 494.7V501.1M396.2 499.1V509.4M367.7 537.5V543.9M390 486.6V493M380.5 508.6V524.4M395.2 495.4V501.8M392.1 489.8V496.2M366.8 540.9V547.3M373.1 527.3V537.1M373.7 522.1V528.5M379.8 516.4V522.8M398 487V493.4M390.2 506.2V512.6M364.8 552.3V558.7M370.3 531.1V537.5M376.5 537.3V543.7M370.7 550.1V556.5M365.9 530.7V537.1M384.8 532V538.4M384.2 523.6V530M366.4 532V538.4M384.8 536.4V542.8M379.5 533.2V539.6M374 540.3V546.7M366.3 538.5V544.9M365.3 540.3V546.7M381.3 553.3V559.7M382.8 538.9V545.3M375.1 549.4V555.8M377.7 540.8V547.2M387.3 545.6V552M378.1 550.8V557.2M376.7 552.6V559M386.5 548.6V555M384.3 524.9V531.3M358 532.7V539.1M364.8 539.4V545.8M376.3 539.5V545.9M382.4 526.1V532.5M376.5 545.6V552M386.6 533.8V540.2M375.2 538.9V545.3M367.7 548.3V554.7M387 538.2V544.6M363.5 541.8V548.2M441.3 548.9V555.3M450 552V570.8M453.7 577.8V584.2M425 528.3V534.7M436.9 585.2V591.6M472.1 596.2V602.6M417.9 533V553.3M475.1 603.1V609.5M477.5 576.9V583.3M430.3 553.5V559.9M428.8 535.2V549.5M416.9 532.2V558.2M431.3 547.5V553.9M411.4 546.7V553.1M440 553.2V559.6M458.5 575.9V582.3M438.3 574.8V581.2M449.8 551.2V557.6M435.1 594.8V609.8M443.4 553V576.8M415.9 531.5V537.9M442.2 593.5V599.9M454.6 559.3V565.7M459.8 587.8V594.2M426.3 547.8V554.2M472 583.2V589.6M454.8 566.3V572.7M429 575V596.6M417.8 523.7V530.1M469.1 562.6V569M477.7 580V586.4M439.2 550.3V556.7M488.1 597.9V604.3M417.5 573.1V579.5M432.5 526.5V532.9M450 594.2V600.6M483.9 596.5V611.3M423.1 565.8V572.2M466 559.8V566.2M460.3 598.2V604.6M467.9 567.8V574.2M427.2 552V558.4M463.9 575.9V582.3M438.8 586V592.4M481.9 585.7V592.1M472.5 603.9V610.3M408.8 529.5V535.9M477.9 589V595.4M432.7 568.5V574.9M435.2 549.7V556.1M461.3 567.5V577.7M426.7 556V562.4M458.4 599V605.4M440.2 556.7V582.5M416 566.9V573.3M452.4 585.9V597.8M449.9 578.4V588.3M425.4 526.9V559.7M462.9 579.4V585.8M479.1 583.9V590.3M437.9 538.2V544.6M444.3 581.5V594.1M416.1 554V560.4M447.1 599.5V605.9M471.3 564.8V571.2M418.9 538.7V545.1M420.1 550V556.4M440.3 533.7V540.1M438.8 584.3V601.2M448.7 556.5V566.7M487.5 596.5V602.9M426.6 587.8V594.2M458.5 547.1V557.9M448.7 538.6V545M440.2 571.4V577.8M414.8 561.1V567.5M436.8 544.2V550.6M412.9 544.2V554.1M407.6 542.3V548.7M442.5 577.3V601.1M403 535.2V541.6M448.3 565.2V571.6M408.2 515.5V539.6M447.7 551.6V558M421.1 552.6V559M467.2 601.7V608.1M434.4 577.8V584.2M475.4 587.8V594.2M439.8 541.1V547.5M421.6 568.4V586.9M433.4 547.3V575.8M437.7 570.4V576.8M442.4 534.5V540.9M457.7 553.7V560.1M437.7 533.3V539.7M424.3 575.4V581.8M423.7 532.7V539.1M432 554V560.4M454.8 553.5V568M446.8 575.4V581.8M457.6 563.1V587.4M483.6 593.8V600.2M465.6 562.3V584.3M405.6 527.7V541M453.1 539.5V545.9M478.7 593.7V600.1M443 547.4V553.8M444 580.4V586.8M418.3 535V541.4M475.2 590.5V596.9M430.2 530.9V537.3M463.5 552.2V558.6M469 598.1V604.5M410.8 524.8V553.1M431.9 591V597.4M422.5 548.2V554.6M433.2 584.7V591.1M427.2 550.5V556.9M479.2 585.3V591.7M451.1 546.3V559.6M472.2 587.8V594.2M443.9 596.5V611.9M435.3 568.6V575M423 562V568.4M458.8 548.7V560.7M461.1 578.6V585M467.8 597.3V603.7M472 589.5V595.9M444.4 550.5V556.9M461.9 589V595.4M465.5 580.4V590.7M449.3 560.4V566.8M423.2 583.4V589.8M430.4 526.4V532.8M446.5 535.9V542.3M447.8 592.8V604.3M405.8 525.8V532.2M426.2 582.1V588.5M448.9 596.8V603.2M438.3 561.3V567.7M424.3 540.6V550.5M412 553.3V559.7M469.9 554.4V570.1M424.5 538.9V545.3M404.1 526.6V538.2M454.5 590V608M473.4 577.5V583.9M426.5 541.9V548.3M452.2 537.5V543.9M415.6 554.7V581.8M434.4 541V573.8M429.7 576.9V583.3M446.5 551.7V568.7M452.6 587.3V593.7M458.8 594.1V600.5M462.6 572.8V579.2M425.7 544.7V561.5M441.1 578.3V584.7M424.1 534.1V540.5M484.2 597.7V604.1M431.7 546V552.4M404 541V547.4M419.8 570.1V576.5M473.2 589.9V609.1M439.4 567.4V573.8M460.3 566.5V587.8M486.3 599V605.4M475.9 595.1V601.5M444.7 559.5V565.9M455.8 541.3V552.1M440.5 570.2V576.6M466.8 566.2V572.6M404.7 537V543.4M415.9 557V563.4M429.4 563.8V570.2M429.3 555.1V561.5M430.3 528V534.4M470.8 576.5V582.9M434.8 584.1V590.5M429.3 531.2V561.6M435.3 562.6V569M470.9 589.7V596.1M429.6 570.5V586.7M452.3 603.7V610.1M440.2 534.8V556M414.7 550.4V565.3M459.5 554.4V560.8M421.3 550.5V556.9M470.6 561.3V567.7M453.5 579V590.4M441.5 574.3V580.7M475.3 561.4V584.6M421.2 548.8V555.2M475.5 572.8V579.2M441.8 595.3V601.7M433.6 596.8V608.2M454.6 592.8V599.2M452.7 544.2V550.6M454 562.1V568.5M425.5 569.9V576.3M411.1 541.3V547.7M433.8 575V581.4M433.4 534.8V541.2M425.7 544V550.4M423.2 546.7V553.1M409.2 536.7V543.1M405.3 548.5V554.9M443.6 556.5V562.9M423.5 535.4V541.8M445.3 534.7V541.1M409.7 536.9V569.7M414 567.5V573.9M410.6 547.8V554.2M437.6 557.8V564.2M454.4 547.3V553.7M412.9 543.2V561.5M438.7 597.5V603.9M459.4 603.9V610.3M446 585V598.4M440.4 544.4V550.8M474.8 582.6V589M464.6 544.3V568.6M471.2 584.6V591M444.5 574.4V580.8M420.1 568.3V599.3M460.8 592.2V620.5M451.5 559.9V566.3M470.8 569.5V575.9M441.4 560.2V575.8M410.1 539V561.3M417.2 522.3V528.7M473.5 579.6V586M436.3 527.4V533.8M460.3 565.2V571.6M411.7 523.6V530M431.2 530.8V537.2M432.1 582.7V589.1M456.2 563.6V570M430.3 533.7V540.1M464.8 548V554.4M428 591.8V598.2M419.2 573V583.5M483.6 585.5V591.9M419.6 532.3V538.7M434.3 526.9V533.3M412 542.6V549M456.3 568.4V574.8M438.7 576V590.9M448.7 590.8V597.2M459.5 591.9V598.3M397.8 545.6V552M414 571.4V582M394.9 535.2V541.6M415.9 575.8V582.2M396.3 558V564.4M400 535.7V542.1M393.9 533.4V550.3M399.2 532.3V538.7M424 593V599.4M401.3 558.7V565.1M407.4 556.1V562.5M408.5 564.9V571.3M405.3 553.4V585.3M420.4 595.2V601.6M399.9 517.6V541.1M403.5 526.6V533M388.5 541.7V548.1M391.7 539.9V553.9M399.6 523.3V529.7M390.4 554.4V560.8M408.4 568.4V574.8M391.5 527.5V533.9M396 554.4V560.8M395.9 523.8V530.2M404.8 546.9V558.3M403.6 545V551.4M451.7 534.5V540.9M476.8 552.6V559M462.7 538.2V544.6M451.1 535.7V542.1M456.7 531.9V538.3M449.9 530.1V536.5M469.3 545.7V552.1M455.7 533.5V539.9M468.5 546.6V553M478.9 556.2V562.6M458.6 540.6V547M468.1 540.7V547.1M446.5 530.9V537.3M465.7 541.3V547.7M441.5 604.2V618.3M473.1 598.8V609.4M489.5 599.9V614.7M488.1 600.8V612.5M449.8 601.5V614.8M471 604.8V618M440 604.2V617.1M485.8 598.6V612M445.2 601.8V619.5M443.3 600.3V619.2M483.8 602.9V620.5M489.4 600.2V612.1M449.5 602.3V620.9M458.9 600.7V616.8" stroke="#333335" stroke-width="1.6" fill="none"/><g fill="#111113" fill-opacity="0.75" stroke="#fff" stroke-width="1"><circle cx="254" cy="573.9" r="5.2"/><circle cx="263.4" cy="574.8" r="5.2"/><circle cx="272.8" cy="577.9" r="5.2"/><circle cx="266.9" cy="587.3" r="5.2"/><circle cx="289.2" cy="581.4" r="5.2"/><circle cx="293.9" cy="583.8" r="5.2"/><circle cx="297.4" cy="583.3" r="5.2"/><circle cx="308" cy="587.3" r="5.2"/><circle cx="306.8" cy="590.8" r="5.2"/><circle cx="312.7" cy="595.5" r="5.2"/><circle cx="319.8" cy="594.8" r="5.2"/><circle cx="326.8" cy="584.5" r="5.2"/><circle cx="293.9" cy="593.2" r="5.2"/><circle cx="289.2" cy="600.7" r="5.2"/><circle cx="277" cy="603.7" r="5.2"/><circle cx="211" cy="602.1" r="5.2"/><circle cx="215.9" cy="574.4" r="5.2"/><circle cx="223.4" cy="565" r="5.2"/><circle cx="224.6" cy="570.8" r="5.2"/><circle cx="264.5" cy="566.1" r="5.2"/><circle cx="310.4" cy="565" r="5.2"/><circle cx="317.4" cy="569.7" r="5.2"/><circle cx="332.7" cy="547.8" r="5.2"/><circle cx="353.4" cy="571.3" r="5.2"/><circle cx="353.8" cy="582.6" r="5.2"/><circle cx="355" cy="590.4" r="5.2"/><circle cx="362.1" cy="602.6" r="5.2"/><circle cx="370.3" cy="597.4" r="5.2"/><circle cx="371" cy="580.9" r="5.2"/><circle cx="391" cy="568" r="5.2"/><circle cx="391" cy="583.8" r="5.2"/><circle cx="396.2" cy="596.7" r="5.2"/><circle cx="411.4" cy="601.4" r="5.2"/><circle cx="416.1" cy="590.8" r="5.2"/><circle cx="342.1" cy="454.5" r="5.2"/><circle cx="368.2" cy="452.6" r="5.2"/><circle cx="527.8" cy="444.4" r="5.2"/><circle cx="501.2" cy="462.3" r="5.2"/><circle cx="505" cy="525" r="5.2"/><circle cx="477.5" cy="528.5" r="5.2"/><circle cx="496.5" cy="552.5" r="5.2"/><circle cx="505.4" cy="570.8" r="5.2"/><circle cx="529.4" cy="576.7" r="5.2"/><circle cx="485.5" cy="572.5" r="5.2"/><circle cx="447.9" cy="509.7" r="5.2"/><circle cx="426.7" cy="498.7" r="5.2"/><circle cx="412.6" cy="488.1" r="5.2"/><circle cx="398.5" cy="487.4" r="5.2"/><circle cx="418.5" cy="506.2" r="5.2"/><circle cx="403.2" cy="507.4" r="5.2"/><circle cx="370.3" cy="479.7" r="5.2"/><circle cx="363.2" cy="483.9" r="5.2"/><circle cx="362.1" cy="510.9" r="5.2"/><circle cx="353.8" cy="503.4" r="5.2"/><circle cx="225.8" cy="488.1" r="5.2"/><circle cx="234" cy="500.3" r="5.2"/><circle cx="235.6" cy="517" r="5.2"/><circle cx="257.1" cy="489.1" r="5.2"/><circle cx="230" cy="547.6" r="5.2"/><circle cx="227.5" cy="562.1" r="5.2"/><circle cx="226.6" cy="538.1" r="5.2"/><circle cx="249.6" cy="511.8" r="5.2"/><circle cx="266.7" cy="484.5" r="5.2"/><circle cx="263.7" cy="490.2" r="5.2"/><circle cx="225.3" cy="537.7" r="5.2"/><circle cx="258.2" cy="494.3" r="5.2"/><circle cx="216.5" cy="567.2" r="5.2"/><circle cx="240.2" cy="516.6" r="5.2"/><circle cx="230.6" cy="532.3" r="5.2"/><circle cx="228.4" cy="567.2" r="5.2"/><circle cx="232.3" cy="529.5" r="5.2"/><circle cx="243.6" cy="512.5" r="5.2"/><circle cx="221.3" cy="548" r="5.2"/><circle cx="234.3" cy="527" r="5.2"/><circle cx="229.5" cy="538.8" r="5.2"/><circle cx="234.7" cy="518.9" r="5.2"/><circle cx="218.8" cy="544.9" r="5.2"/><circle cx="246.2" cy="513.8" r="5.2"/><circle cx="228.7" cy="533.5" r="5.2"/><circle cx="239.3" cy="526.3" r="5.2"/><circle cx="234.3" cy="529.7" r="5.2"/><circle cx="225.7" cy="566.7" r="5.2"/><circle cx="265.3" cy="484.6" r="5.2"/><circle cx="231.4" cy="523.6" r="5.2"/><circle cx="241.8" cy="506.2" r="5.2"/><circle cx="226" cy="560.6" r="5.2"/><circle cx="237.7" cy="504.5" r="5.2"/><circle cx="256" cy="482.6" r="5.2"/><circle cx="262.3" cy="495.3" r="5.2"/><circle cx="248.9" cy="510.1" r="5.2"/><circle cx="225.3" cy="552.5" r="5.2"/><circle cx="233.1" cy="561" r="5.2"/><circle cx="248.1" cy="495.1" r="5.2"/><circle cx="227.8" cy="530.3" r="5.2"/><circle cx="248.1" cy="505.6" r="5.2"/><circle cx="222.8" cy="564.4" r="5.2"/><circle cx="236.2" cy="520.1" r="5.2"/><circle cx="242" cy="503.5" r="5.2"/><circle cx="231.7" cy="532.6" r="5.2"/><circle cx="230.9" cy="527.3" r="5.2"/><circle cx="249.4" cy="497.7" r="5.2"/><circle cx="273.5" cy="485.2" r="5.2"/><circle cx="259.7" cy="492.9" r="5.2"/><circle cx="247" cy="497.9" r="5.2"/><circle cx="227.1" cy="552" r="5.2"/><circle cx="252.3" cy="498.8" r="5.2"/><circle cx="243.1" cy="526.1" r="5.2"/><circle cx="252.6" cy="489.5" r="5.2"/><circle cx="254.5" cy="497.1" r="5.2"/><circle cx="216.8" cy="562.6" r="5.2"/><circle cx="243" cy="514.2" r="5.2"/><circle cx="259.1" cy="490.4" r="5.2"/><circle cx="235.6" cy="523.8" r="5.2"/><circle cx="235.8" cy="542.2" r="5.2"/><circle cx="240.3" cy="499.8" r="5.2"/><circle cx="237.3" cy="529.6" r="5.2"/><circle cx="222.7" cy="547.8" r="5.2"/><circle cx="250.7" cy="498.8" r="5.2"/><circle cx="230.5" cy="538.9" r="5.2"/><circle cx="235.3" cy="543.6" r="5.2"/><circle cx="233.2" cy="530.5" r="5.2"/><circle cx="243.5" cy="500.4" r="5.2"/><circle cx="229.6" cy="549.5" r="5.2"/><circle cx="241.1" cy="517.8" r="5.2"/><circle cx="230" cy="562.7" r="5.2"/><circle cx="223.7" cy="534.6" r="5.2"/><circle cx="257.8" cy="484.4" r="5.2"/><circle cx="226.9" cy="574.6" r="5.2"/><circle cx="221.8" cy="557.5" r="5.2"/><circle cx="234" cy="534.8" r="5.2"/><circle cx="224.7" cy="562.5" r="5.2"/><circle cx="236.1" cy="533.6" r="5.2"/><circle cx="245.6" cy="509.8" r="5.2"/><circle cx="223.6" cy="542.3" r="5.2"/><circle cx="230.2" cy="570.3" r="5.2"/><circle cx="224.6" cy="558.5" r="5.2"/><circle cx="322" cy="468.8" r="5.2"/><circle cx="271.5" cy="486.2" r="5.2"/><circle cx="269.8" cy="479.4" r="5.2"/><circle cx="306" cy="479.9" r="5.2"/><circle cx="288.7" cy="483.1" r="5.2"/><circle cx="278.7" cy="473.5" r="5.2"/><circle cx="316.5" cy="470" r="5.2"/><circle cx="314.4" cy="471.6" r="5.2"/><circle cx="324.5" cy="474.6" r="5.2"/><circle cx="323.7" cy="480.5" r="5.2"/><circle cx="332.3" cy="478.2" r="5.2"/><circle cx="285.1" cy="479.4" r="5.2"/><circle cx="317.4" cy="473.2" r="5.2"/><circle cx="299.2" cy="476.2" r="5.2"/><circle cx="301.5" cy="479" r="5.2"/><circle cx="313.4" cy="472.7" r="5.2"/><circle cx="300.6" cy="477.6" r="5.2"/><circle cx="335.2" cy="474.8" r="5.2"/><circle cx="341.1" cy="468.5" r="5.2"/><circle cx="291.9" cy="480.5" r="5.2"/><circle cx="333.7" cy="466.9" r="5.2"/><circle cx="282.2" cy="483.7" r="5.2"/><circle cx="298" cy="471" r="5.2"/><circle cx="335.9" cy="486.6" r="5.2"/><circle cx="277.5" cy="486.5" r="5.2"/><circle cx="332.8" cy="472.1" r="5.2"/><circle cx="349.1" cy="484.1" r="5.2"/><circle cx="327.2" cy="479.9" r="5.2"/><circle cx="345.5" cy="481.6" r="5.2"/><circle cx="305.6" cy="482.2" r="5.2"/><circle cx="279.8" cy="480.9" r="5.2"/><circle cx="316.6" cy="469" r="5.2"/><circle cx="312.9" cy="476.5" r="5.2"/><circle cx="312.8" cy="480.9" r="5.2"/><circle cx="275.5" cy="483.5" r="5.2"/><circle cx="310.7" cy="472.3" r="5.2"/><circle cx="341.7" cy="471" r="5.2"/><circle cx="278.8" cy="483.3" r="5.2"/><circle cx="329.8" cy="482.5" r="5.2"/><circle cx="297.1" cy="468.9" r="5.2"/><circle cx="266.4" cy="481.6" r="5.2"/><circle cx="297.7" cy="483" r="5.2"/><circle cx="265" cy="479.9" r="5.2"/><circle cx="354" cy="493.1" r="5.2"/><circle cx="274.2" cy="483.8" r="5.2"/><circle cx="308.1" cy="481.9" r="5.2"/><circle cx="294" cy="480.3" r="5.2"/><circle cx="329.4" cy="481" r="5.2"/><circle cx="313" cy="474" r="5.2"/><circle cx="337.1" cy="472.5" r="5.2"/><circle cx="268.3" cy="483.4" r="5.2"/><circle cx="332.8" cy="477.3" r="5.2"/><circle cx="317.9" cy="479.1" r="5.2"/><circle cx="322" cy="474" r="5.2"/><circle cx="305.7" cy="475.4" r="5.2"/><circle cx="335.8" cy="481.3" r="5.2"/><circle cx="338.3" cy="484.2" r="5.2"/><circle cx="290.4" cy="477.2" r="5.2"/><circle cx="334.2" cy="480.9" r="5.2"/><circle cx="308" cy="485.1" r="5.2"/><circle cx="311.6" cy="470.8" r="5.2"/><circle cx="326.9" cy="475.9" r="5.2"/><circle cx="320.9" cy="473.5" r="5.2"/><circle cx="336.5" cy="469.7" r="5.2"/><circle cx="305.4" cy="471.3" r="5.2"/><circle cx="354.8" cy="490.7" r="5.2"/><circle cx="332.4" cy="470.9" r="5.2"/><circle cx="306.4" cy="474.3" r="5.2"/><circle cx="338.9" cy="469.8" r="5.2"/><circle cx="313.9" cy="481.2" r="5.2"/><circle cx="268.7" cy="480.8" r="5.2"/><circle cx="281.9" cy="485.5" r="5.2"/><circle cx="336.7" cy="468" r="5.2"/><circle cx="266.7" cy="486.2" r="5.2"/><circle cx="317.7" cy="471.1" r="5.2"/><circle cx="318.9" cy="476" r="5.2"/><circle cx="355.9" cy="490" r="5.2"/><circle cx="279.3" cy="486" r="5.2"/><circle cx="319.9" cy="476.6" r="5.2"/><circle cx="331.8" cy="484.9" r="5.2"/><circle cx="329.9" cy="474.8" r="5.2"/><circle cx="279.7" cy="479" r="5.2"/><circle cx="350.9" cy="479.5" r="5.2"/><circle cx="272.1" cy="475.7" r="5.2"/><circle cx="327.3" cy="471.9" r="5.2"/><circle cx="296.8" cy="499.9" r="5.2"/><circle cx="282.2" cy="502.4" r="5.2"/><circle cx="295.9" cy="493.8" r="5.2"/><circle cx="293.9" cy="486.5" r="5.2"/><circle cx="284.6" cy="497.8" r="5.2"/><circle cx="302" cy="498.9" r="5.2"/><circle cx="305.5" cy="494.7" r="5.2"/><circle cx="304.2" cy="500.1" r="5.2"/><circle cx="289.3" cy="489.8" r="5.2"/><circle cx="301.9" cy="505.6" r="5.2"/><circle cx="286.4" cy="493.4" r="5.2"/><circle cx="282.4" cy="493.9" r="5.2"/><circle cx="288.1" cy="489.7" r="5.2"/><circle cx="296.8" cy="489.6" r="5.2"/><circle cx="292.3" cy="501.6" r="5.2"/><circle cx="284.8" cy="490.1" r="5.2"/><circle cx="300.2" cy="499.7" r="5.2"/><circle cx="293.6" cy="489" r="5.2"/><circle cx="294.8" cy="505.8" r="5.2"/><circle cx="306.9" cy="493.1" r="5.2"/><circle cx="306.4" cy="488.8" r="5.2"/><circle cx="295.8" cy="507.2" r="5.2"/><circle cx="287.1" cy="499.8" r="5.2"/><circle cx="302.8" cy="485.5" r="5.2"/><circle cx="303.2" cy="506.9" r="5.2"/><circle cx="323.7" cy="488.7" r="5.2"/><circle cx="341.1" cy="501.6" r="5.2"/><circle cx="336" cy="534.8" r="5.2"/><circle cx="318" cy="494.2" r="5.2"/><circle cx="332.3" cy="525.4" r="5.2"/><circle cx="335.6" cy="489.6" r="5.2"/><circle cx="313.9" cy="486.2" r="5.2"/><circle cx="336.9" cy="538.2" r="5.2"/><circle cx="345.2" cy="507.8" r="5.2"/><circle cx="341" cy="495.6" r="5.2"/><circle cx="331.8" cy="478.9" r="5.2"/><circle cx="329.8" cy="483.2" r="5.2"/><circle cx="338.7" cy="530.1" r="5.2"/><circle cx="321.8" cy="504.2" r="5.2"/><circle cx="326" cy="510.7" r="5.2"/><circle cx="337.1" cy="495.8" r="5.2"/><circle cx="328.2" cy="513.6" r="5.2"/><circle cx="340.7" cy="532.3" r="5.2"/><circle cx="325.6" cy="486.4" r="5.2"/><circle cx="316.5" cy="500.3" r="5.2"/><circle cx="338.2" cy="537.8" r="5.2"/><circle cx="342.5" cy="524.2" r="5.2"/><circle cx="321.8" cy="512.2" r="5.2"/><circle cx="327.9" cy="520.5" r="5.2"/><circle cx="349.4" cy="533.4" r="5.2"/><circle cx="349.3" cy="520.8" r="5.2"/><circle cx="326.6" cy="518.4" r="5.2"/><circle cx="339.6" cy="496.1" r="5.2"/><circle cx="330.2" cy="477.1" r="5.2"/><circle cx="340.7" cy="486.4" r="5.2"/><circle cx="327.2" cy="483" r="5.2"/><circle cx="346.5" cy="520.8" r="5.2"/><circle cx="344.5" cy="518.7" r="5.2"/><circle cx="343.2" cy="501.4" r="5.2"/><circle cx="324.7" cy="491.6" r="5.2"/><circle cx="325.7" cy="495.7" r="5.2"/><circle cx="330.1" cy="505.3" r="5.2"/><circle cx="342.8" cy="536.7" r="5.2"/><circle cx="341.5" cy="530.9" r="5.2"/><circle cx="347.4" cy="514.5" r="5.2"/><circle cx="334.8" cy="535.9" r="5.2"/><circle cx="341.1" cy="493.3" r="5.2"/><circle cx="341.7" cy="494.3" r="5.2"/><circle cx="315" cy="504.3" r="5.2"/><circle cx="340.8" cy="527.9" r="5.2"/><circle cx="339.3" cy="525" r="5.2"/><circle cx="325.5" cy="492.7" r="5.2"/><circle cx="339.7" cy="512.8" r="5.2"/><circle cx="321" cy="492.7" r="5.2"/><circle cx="328.5" cy="505.6" r="5.2"/><circle cx="328.4" cy="477.2" r="5.2"/><circle cx="332.1" cy="487.2" r="5.2"/><circle cx="330.6" cy="492.1" r="5.2"/><circle cx="319.5" cy="492.1" r="5.2"/><circle cx="338.9" cy="482.8" r="5.2"/><circle cx="343.6" cy="512.3" r="5.2"/><circle cx="337.1" cy="528.5" r="5.2"/><circle cx="344.1" cy="510.9" r="5.2"/><circle cx="338.4" cy="528.2" r="5.2"/><circle cx="332.5" cy="479.6" r="5.2"/><circle cx="339.7" cy="484.8" r="5.2"/><circle cx="331.2" cy="483.6" r="5.2"/><circle cx="331.9" cy="505.7" r="5.2"/><circle cx="342.7" cy="534.8" r="5.2"/><circle cx="341.1" cy="537.9" r="5.2"/><circle cx="320.3" cy="512.5" r="5.2"/><circle cx="320.7" cy="506.1" r="5.2"/><circle cx="334.6" cy="496.1" r="5.2"/><circle cx="333.7" cy="482.8" r="5.2"/><circle cx="343.4" cy="502.8" r="5.2"/><circle cx="341.7" cy="529.6" r="5.2"/><circle cx="336.1" cy="520.4" r="5.2"/><circle cx="344.2" cy="522.5" r="5.2"/><circle cx="344.2" cy="533.2" r="5.2"/><circle cx="341.8" cy="498.4" r="5.2"/><circle cx="335.7" cy="479" r="5.2"/><circle cx="332.7" cy="486.4" r="5.2"/><circle cx="347.1" cy="511.9" r="5.2"/><circle cx="316.5" cy="504.7" r="5.2"/><circle cx="337.3" cy="483.7" r="5.2"/><circle cx="335.6" cy="476.8" r="5.2"/><circle cx="331.9" cy="493.4" r="5.2"/><circle cx="323.1" cy="484.7" r="5.2"/><circle cx="335.6" cy="531.5" r="5.2"/><circle cx="331.1" cy="524.2" r="5.2"/><circle cx="383.4" cy="527.3" r="5.2"/><circle cx="391.2" cy="497.9" r="5.2"/><circle cx="397.1" cy="493.9" r="5.2"/><circle cx="390.8" cy="516.8" r="5.2"/><circle cx="383.1" cy="512" r="5.2"/><circle cx="389.6" cy="504.1" r="5.2"/><circle cx="389.9" cy="505.2" r="5.2"/><circle cx="392.3" cy="510.7" r="5.2"/><circle cx="395.4" cy="487" r="5.2"/><circle cx="384.6" cy="506" r="5.2"/><circle cx="376.7" cy="550" r="5.2"/><circle cx="369.6" cy="544.6" r="5.2"/><circle cx="368.1" cy="522.3" r="5.2"/><circle cx="391.4" cy="489.8" r="5.2"/><circle cx="367.9" cy="528.8" r="5.2"/><circle cx="368.9" cy="530" r="5.2"/><circle cx="366.3" cy="531.3" r="5.2"/><circle cx="397.2" cy="493.7" r="5.2"/><circle cx="368.7" cy="551.6" r="5.2"/><circle cx="385.8" cy="487.1" r="5.2"/><circle cx="359.1" cy="543.5" r="5.2"/><circle cx="392.9" cy="497.2" r="5.2"/><circle cx="397.7" cy="503.7" r="5.2"/><circle cx="376.5" cy="528.7" r="5.2"/><circle cx="379.8" cy="520.2" r="5.2"/><circle cx="396.8" cy="498.2" r="5.2"/><circle cx="370.6" cy="545.3" r="5.2"/><circle cx="383.9" cy="518.9" r="5.2"/><circle cx="386.5" cy="484.5" r="5.2"/><circle cx="395.7" cy="511.8" r="5.2"/><circle cx="395.1" cy="476.6" r="5.2"/><circle cx="361.5" cy="542.2" r="5.2"/><circle cx="371.1" cy="545.8" r="5.2"/><circle cx="396.6" cy="497.9" r="5.2"/><circle cx="396.2" cy="504.2" r="5.2"/><circle cx="367.7" cy="540.7" r="5.2"/><circle cx="390" cy="489.8" r="5.2"/><circle cx="380.5" cy="516.5" r="5.2"/><circle cx="395.2" cy="498.6" r="5.2"/><circle cx="392.1" cy="493" r="5.2"/><circle cx="366.8" cy="544.1" r="5.2"/><circle cx="373.1" cy="532.2" r="5.2"/><circle cx="373.7" cy="525.3" r="5.2"/><circle cx="379.8" cy="519.6" r="5.2"/><circle cx="398" cy="490.2" r="5.2"/><circle cx="390.2" cy="509.4" r="5.2"/><circle cx="364.8" cy="555.5" r="5.2"/><circle cx="370.3" cy="534.3" r="5.2"/><circle cx="376.5" cy="540.5" r="5.2"/><circle cx="370.7" cy="553.3" r="5.2"/><circle cx="365.9" cy="533.9" r="5.2"/><circle cx="384.8" cy="535.2" r="5.2"/><circle cx="384.2" cy="526.8" r="5.2"/><circle cx="366.4" cy="535.2" r="5.2"/><circle cx="384.8" cy="539.6" r="5.2"/><circle cx="379.5" cy="536.4" r="5.2"/><circle cx="374" cy="543.5" r="5.2"/><circle cx="366.3" cy="541.7" r="5.2"/><circle cx="365.3" cy="543.5" r="5.2"/><circle cx="381.3" cy="556.5" r="5.2"/><circle cx="382.8" cy="542.1" r="5.2"/><circle cx="375.1" cy="552.6" r="5.2"/><circle cx="377.7" cy="544" r="5.2"/><circle cx="387.3" cy="548.8" r="5.2"/><circle cx="378.1" cy="554" r="5.2"/><circle cx="376.7" cy="555.8" r="5.2"/><circle cx="386.5" cy="551.8" r="5.2"/><circle cx="384.3" cy="528.1" r="5.2"/><circle cx="358" cy="535.9" r="5.2"/><circle cx="364.8" cy="542.6" r="5.2"/><circle cx="376.3" cy="542.7" r="5.2"/><circle cx="382.4" cy="529.3" r="5.2"/><circle cx="376.5" cy="548.8" r="5.2"/><circle cx="386.6" cy="537" r="5.2"/><circle cx="375.2" cy="542.1" r="5.2"/><circle cx="367.7" cy="551.5" r="5.2"/><circle cx="387" cy="541.4" r="5.2"/><circle cx="363.5" cy="545" r="5.2"/><circle cx="441.3" cy="552.1" r="5.2"/><circle cx="450" cy="561.4" r="5.2"/><circle cx="453.7" cy="581" r="5.2"/><circle cx="425" cy="531.5" r="5.2"/><circle cx="436.9" cy="588.4" r="5.2"/><circle cx="472.1" cy="599.4" r="5.2"/><circle cx="417.9" cy="543.2" r="5.2"/><circle cx="475.1" cy="606.3" r="5.2"/><circle cx="477.5" cy="580.1" r="5.2"/><circle cx="430.3" cy="556.7" r="5.2"/><circle cx="428.8" cy="542.4" r="5.2"/><circle cx="416.9" cy="545.2" r="5.2"/><circle cx="431.3" cy="550.7" r="5.2"/><circle cx="411.4" cy="549.9" r="5.2"/><circle cx="440" cy="556.4" r="5.2"/><circle cx="458.5" cy="579.1" r="5.2"/><circle cx="438.3" cy="578" r="5.2"/><circle cx="449.8" cy="554.4" r="5.2"/><circle cx="435.1" cy="602.3" r="5.2"/><circle cx="443.4" cy="564.9" r="5.2"/><circle cx="415.9" cy="534.7" r="5.2"/><circle cx="442.2" cy="596.7" r="5.2"/><circle cx="454.6" cy="562.5" r="5.2"/><circle cx="459.8" cy="591" r="5.2"/><circle cx="426.3" cy="551" r="5.2"/><circle cx="472" cy="586.4" r="5.2"/><circle cx="454.8" cy="569.5" r="5.2"/><circle cx="429" cy="585.8" r="5.2"/><circle cx="417.8" cy="526.9" r="5.2"/><circle cx="469.1" cy="565.8" r="5.2"/><circle cx="477.7" cy="583.2" r="5.2"/><circle cx="439.2" cy="553.5" r="5.2"/><circle cx="488.1" cy="601.1" r="5.2"/><circle cx="417.5" cy="576.3" r="5.2"/><circle cx="432.5" cy="529.7" r="5.2"/><circle cx="450" cy="597.4" r="5.2"/><circle cx="483.9" cy="603.9" r="5.2"/><circle cx="423.1" cy="569" r="5.2"/><circle cx="466" cy="563" r="5.2"/><circle cx="460.3" cy="601.4" r="5.2"/><circle cx="467.9" cy="571" r="5.2"/><circle cx="427.2" cy="555.2" r="5.2"/><circle cx="463.9" cy="579.1" r="5.2"/><circle cx="438.8" cy="589.2" r="5.2"/><circle cx="481.9" cy="588.9" r="5.2"/><circle cx="472.5" cy="607.1" r="5.2"/><circle cx="408.8" cy="532.7" r="5.2"/><circle cx="477.9" cy="592.2" r="5.2"/><circle cx="432.7" cy="571.7" r="5.2"/><circle cx="435.2" cy="552.9" r="5.2"/><circle cx="461.3" cy="572.6" r="5.2"/><circle cx="426.7" cy="559.2" r="5.2"/><circle cx="458.4" cy="602.2" r="5.2"/><circle cx="440.2" cy="569.6" r="5.2"/><circle cx="416" cy="570.1" r="5.2"/><circle cx="452.4" cy="591.9" r="5.2"/><circle cx="449.9" cy="583.3" r="5.2"/><circle cx="425.4" cy="543.3" r="5.2"/><circle cx="462.9" cy="582.6" r="5.2"/><circle cx="479.1" cy="587.1" r="5.2"/><circle cx="437.9" cy="541.4" r="5.2"/><circle cx="444.3" cy="587.8" r="5.2"/><circle cx="416.1" cy="557.2" r="5.2"/><circle cx="447.1" cy="602.7" r="5.2"/><circle cx="471.3" cy="568" r="5.2"/><circle cx="418.9" cy="541.9" r="5.2"/><circle cx="420.1" cy="553.2" r="5.2"/><circle cx="440.3" cy="536.9" r="5.2"/><circle cx="438.8" cy="592.7" r="5.2"/><circle cx="448.7" cy="561.6" r="5.2"/><circle cx="487.5" cy="599.7" r="5.2"/><circle cx="426.6" cy="591" r="5.2"/><circle cx="458.5" cy="552.5" r="5.2"/><circle cx="448.7" cy="541.8" r="5.2"/><circle cx="440.2" cy="574.6" r="5.2"/><circle cx="414.8" cy="564.3" r="5.2"/><circle cx="436.8" cy="547.4" r="5.2"/><circle cx="412.9" cy="549.1" r="5.2"/><circle cx="407.6" cy="545.5" r="5.2"/><circle cx="442.5" cy="589.2" r="5.2"/><circle cx="403" cy="538.4" r="5.2"/><circle cx="448.3" cy="568.4" r="5.2"/><circle cx="408.2" cy="527.5" r="5.2"/><circle cx="447.7" cy="554.8" r="5.2"/><circle cx="421.1" cy="555.8" r="5.2"/><circle cx="467.2" cy="604.9" r="5.2"/><circle cx="434.4" cy="581" r="5.2"/><circle cx="475.4" cy="591" r="5.2"/><circle cx="439.8" cy="544.3" r="5.2"/><circle cx="421.6" cy="577.6" r="5.2"/><circle cx="433.4" cy="561.6" r="5.2"/><circle cx="437.7" cy="573.6" r="5.2"/><circle cx="442.4" cy="537.7" r="5.2"/><circle cx="457.7" cy="556.9" r="5.2"/><circle cx="437.7" cy="536.5" r="5.2"/><circle cx="424.3" cy="578.6" r="5.2"/><circle cx="423.7" cy="535.9" r="5.2"/><circle cx="432" cy="557.2" r="5.2"/><circle cx="454.8" cy="560.7" r="5.2"/><circle cx="446.8" cy="578.6" r="5.2"/><circle cx="457.6" cy="575.2" r="5.2"/><circle cx="483.6" cy="597" r="5.2"/><circle cx="465.6" cy="573.3" r="5.2"/><circle cx="405.6" cy="534.3" r="5.2"/><circle cx="453.1" cy="542.7" r="5.2"/><circle cx="478.7" cy="596.9" r="5.2"/><circle cx="443" cy="550.6" r="5.2"/><circle cx="444" cy="583.6" r="5.2"/><circle cx="418.3" cy="538.2" r="5.2"/><circle cx="475.2" cy="593.7" r="5.2"/><circle cx="430.2" cy="534.1" r="5.2"/><circle cx="463.5" cy="555.4" r="5.2"/><circle cx="469" cy="601.3" r="5.2"/><circle cx="410.8" cy="539" r="5.2"/><circle cx="431.9" cy="594.2" r="5.2"/><circle cx="422.5" cy="551.4" r="5.2"/><circle cx="433.2" cy="587.9" r="5.2"/><circle cx="427.2" cy="553.7" r="5.2"/><circle cx="479.2" cy="588.5" r="5.2"/><circle cx="451.1" cy="552.9" r="5.2"/><circle cx="472.2" cy="591" r="5.2"/><circle cx="443.9" cy="604.2" r="5.2"/><circle cx="435.3" cy="571.8" r="5.2"/><circle cx="423" cy="565.2" r="5.2"/><circle cx="458.8" cy="554.7" r="5.2"/><circle cx="461.1" cy="581.8" r="5.2"/><circle cx="467.8" cy="600.5" r="5.2"/><circle cx="472" cy="592.7" r="5.2"/><circle cx="444.4" cy="553.7" r="5.2"/><circle cx="461.9" cy="592.2" r="5.2"/><circle cx="465.5" cy="585.6" r="5.2"/><circle cx="449.3" cy="563.6" r="5.2"/><circle cx="423.2" cy="586.6" r="5.2"/><circle cx="430.4" cy="529.6" r="5.2"/><circle cx="446.5" cy="539.1" r="5.2"/><circle cx="447.8" cy="598.6" r="5.2"/><circle cx="405.8" cy="529" r="5.2"/><circle cx="426.2" cy="585.3" r="5.2"/><circle cx="448.9" cy="600" r="5.2"/><circle cx="438.3" cy="564.5" r="5.2"/><circle cx="424.3" cy="545.6" r="5.2"/><circle cx="412" cy="556.5" r="5.2"/><circle cx="469.9" cy="562.2" r="5.2"/><circle cx="424.5" cy="542.1" r="5.2"/><circle cx="404.1" cy="532.4" r="5.2"/><circle cx="454.5" cy="599" r="5.2"/><circle cx="473.4" cy="580.7" r="5.2"/><circle cx="426.5" cy="545.1" r="5.2"/><circle cx="452.2" cy="540.7" r="5.2"/><circle cx="415.6" cy="568.2" r="5.2"/><circle cx="434.4" cy="557.4" r="5.2"/><circle cx="429.7" cy="580.1" r="5.2"/><circle cx="446.5" cy="560.2" r="5.2"/><circle cx="452.6" cy="590.5" r="5.2"/><circle cx="458.8" cy="597.3" r="5.2"/><circle cx="462.6" cy="576" r="5.2"/><circle cx="425.7" cy="553.1" r="5.2"/><circle cx="441.1" cy="581.5" r="5.2"/><circle cx="424.1" cy="537.3" r="5.2"/><circle cx="484.2" cy="600.9" r="5.2"/><circle cx="431.7" cy="549.2" r="5.2"/><circle cx="404" cy="544.2" r="5.2"/><circle cx="419.8" cy="573.3" r="5.2"/><circle cx="473.2" cy="599.5" r="5.2"/><circle cx="439.4" cy="570.6" r="5.2"/><circle cx="460.3" cy="577.2" r="5.2"/><circle cx="486.3" cy="602.2" r="5.2"/><circle cx="475.9" cy="598.3" r="5.2"/><circle cx="444.7" cy="562.7" r="5.2"/><circle cx="455.8" cy="546.7" r="5.2"/><circle cx="440.5" cy="573.4" r="5.2"/><circle cx="466.8" cy="569.4" r="5.2"/><circle cx="404.7" cy="540.2" r="5.2"/><circle cx="415.9" cy="560.2" r="5.2"/><circle cx="429.4" cy="567" r="5.2"/><circle cx="429.3" cy="558.3" r="5.2"/><circle cx="430.3" cy="531.2" r="5.2"/><circle cx="470.8" cy="579.7" r="5.2"/><circle cx="434.8" cy="587.3" r="5.2"/><circle cx="429.3" cy="546.4" r="5.2"/><circle cx="435.3" cy="565.8" r="5.2"/><circle cx="470.9" cy="592.9" r="5.2"/><circle cx="429.6" cy="578.6" r="5.2"/><circle cx="452.3" cy="606.9" r="5.2"/><circle cx="440.2" cy="545.4" r="5.2"/><circle cx="414.7" cy="557.8" r="5.2"/><circle cx="459.5" cy="557.6" r="5.2"/><circle cx="421.3" cy="553.7" r="5.2"/><circle cx="470.6" cy="564.5" r="5.2"/><circle cx="453.5" cy="584.7" r="5.2"/><circle cx="441.5" cy="577.5" r="5.2"/><circle cx="475.3" cy="573" r="5.2"/><circle cx="421.2" cy="552" r="5.2"/><circle cx="475.5" cy="576" r="5.2"/><circle cx="441.8" cy="598.5" r="5.2"/><circle cx="433.6" cy="602.5" r="5.2"/><circle cx="454.6" cy="596" r="5.2"/><circle cx="452.7" cy="547.4" r="5.2"/><circle cx="454" cy="565.3" r="5.2"/><circle cx="425.5" cy="573.1" r="5.2"/><circle cx="411.1" cy="544.5" r="5.2"/><circle cx="433.8" cy="578.2" r="5.2"/><circle cx="433.4" cy="538" r="5.2"/><circle cx="425.7" cy="547.2" r="5.2"/><circle cx="423.2" cy="549.9" r="5.2"/><circle cx="409.2" cy="539.9" r="5.2"/><circle cx="405.3" cy="551.7" r="5.2"/><circle cx="443.6" cy="559.7" r="5.2"/><circle cx="423.5" cy="538.6" r="5.2"/><circle cx="445.3" cy="537.9" r="5.2"/><circle cx="409.7" cy="553.3" r="5.2"/><circle cx="414" cy="570.7" r="5.2"/><circle cx="410.6" cy="551" r="5.2"/><circle cx="437.6" cy="561" r="5.2"/><circle cx="454.4" cy="550.5" r="5.2"/><circle cx="412.9" cy="552.3" r="5.2"/><circle cx="438.7" cy="600.7" r="5.2"/><circle cx="459.4" cy="607.1" r="5.2"/><circle cx="446" cy="591.7" r="5.2"/><circle cx="440.4" cy="547.6" r="5.2"/><circle cx="474.8" cy="585.8" r="5.2"/><circle cx="464.6" cy="556.5" r="5.2"/><circle cx="471.2" cy="587.8" r="5.2"/><circle cx="444.5" cy="577.6" r="5.2"/><circle cx="420.1" cy="583.8" r="5.2"/><circle cx="460.8" cy="606.3" r="5.2"/><circle cx="451.5" cy="563.1" r="5.2"/><circle cx="470.8" cy="572.7" r="5.2"/><circle cx="441.4" cy="568" r="5.2"/><circle cx="410.1" cy="550.2" r="5.2"/><circle cx="417.2" cy="525.5" r="5.2"/><circle cx="473.5" cy="582.8" r="5.2"/><circle cx="436.3" cy="530.6" r="5.2"/><circle cx="460.3" cy="568.4" r="5.2"/><circle cx="411.7" cy="526.8" r="5.2"/><circle cx="431.2" cy="534" r="5.2"/><circle cx="432.1" cy="585.9" r="5.2"/><circle cx="456.2" cy="566.8" r="5.2"/><circle cx="430.3" cy="536.9" r="5.2"/><circle cx="464.8" cy="551.2" r="5.2"/><circle cx="428" cy="595" r="5.2"/><circle cx="419.2" cy="578.2" r="5.2"/><circle cx="483.6" cy="588.7" r="5.2"/><circle cx="419.6" cy="535.5" r="5.2"/><circle cx="434.3" cy="530.1" r="5.2"/><circle cx="412" cy="545.8" r="5.2"/><circle cx="456.3" cy="571.6" r="5.2"/><circle cx="438.7" cy="583.5" r="5.2"/><circle cx="448.7" cy="594" r="5.2"/><circle cx="459.5" cy="595.1" r="5.2"/><circle cx="397.8" cy="548.8" r="5.2"/><circle cx="414" cy="576.7" r="5.2"/><circle cx="394.9" cy="538.4" r="5.2"/><circle cx="415.9" cy="579" r="5.2"/><circle cx="396.3" cy="561.2" r="5.2"/><circle cx="400" cy="538.9" r="5.2"/><circle cx="393.9" cy="541.9" r="5.2"/><circle cx="399.2" cy="535.5" r="5.2"/><circle cx="424" cy="596.2" r="5.2"/><circle cx="401.3" cy="561.9" r="5.2"/><circle cx="407.4" cy="559.3" r="5.2"/><circle cx="408.5" cy="568.1" r="5.2"/><circle cx="405.3" cy="569.3" r="5.2"/><circle cx="420.4" cy="598.4" r="5.2"/><circle cx="399.9" cy="529.3" r="5.2"/><circle cx="403.5" cy="529.8" r="5.2"/><circle cx="388.5" cy="544.9" r="5.2"/><circle cx="391.7" cy="546.9" r="5.2"/><circle cx="399.6" cy="526.5" r="5.2"/><circle cx="390.4" cy="557.6" r="5.2"/><circle cx="408.4" cy="571.6" r="5.2"/><circle cx="391.5" cy="530.7" r="5.2"/><circle cx="396" cy="557.6" r="5.2"/><circle cx="395.9" cy="527" r="5.2"/><circle cx="404.8" cy="552.6" r="5.2"/><circle cx="403.6" cy="548.2" r="5.2"/><circle cx="451.7" cy="537.7" r="5.2"/><circle cx="476.8" cy="555.8" r="5.2"/><circle cx="462.7" cy="541.4" r="5.2"/><circle cx="451.1" cy="538.9" r="5.2"/><circle cx="456.7" cy="535.1" r="5.2"/><circle cx="449.9" cy="533.3" r="5.2"/><circle cx="469.3" cy="548.9" r="5.2"/><circle cx="455.7" cy="536.7" r="5.2"/><circle cx="468.5" cy="549.8" r="5.2"/><circle cx="478.9" cy="559.4" r="5.2"/><circle cx="458.6" cy="543.8" r="5.2"/><circle cx="468.1" cy="543.9" r="5.2"/><circle cx="446.5" cy="534.1" r="5.2"/><circle cx="465.7" cy="544.5" r="5.2"/><circle cx="441.5" cy="607.4" r="5.2"/><circle cx="473.1" cy="602" r="5.2"/><circle cx="489.5" cy="603.1" r="5.2"/><circle cx="488.1" cy="604" r="5.2"/><circle cx="449.8" cy="604.7" r="5.2"/><circle cx="471" cy="608" r="5.2"/><circle cx="440" cy="607.4" r="5.2"/><circle cx="485.8" cy="601.8" r="5.2"/><circle cx="445.2" cy="605" r="5.2"/><circle cx="443.3" cy="603.5" r="5.2"/><circle cx="483.8" cy="606.1" r="5.2"/><circle cx="489.4" cy="603.4" r="5.2"/><circle cx="449.5" cy="605.5" r="5.2"/><circle cx="458.9" cy="603.9" r="5.2"/></g>
<path d="M691.6 489.1V490.5M717.4 488.8V498.2M687.1 503.6V524.8M677.5 568.5V574.1M673.5 578.6V583.3M707.6 572V576.7M711.1 568.5V574.1M719.3 566.8V576.2M700.5 589.2V594.8M707.1 589.2V603.3M715.1 597.2V604.2M735.1 589.6V596.7M719.3 542.6V547.3M740.5 536.1V543.1M745.2 543.1V557.2M749.9 564V574.4M772.7 514V556.3M760.4 515.6V525M756.9 512.1V526.2M775.7 474.5V488.6M782.8 483.9V490.9M771 485.1V508.6M761.6 499.2V508.6" stroke="#b0b3b6" stroke-width="1.5" fill="none"/><path d="M691.6 482l7.8 7.8l-7.8 7.8l-7.8 -7.8zM717.4 485.7l7.8 7.8l-7.8 7.8l-7.8 -7.8zM687.1 506.4l7.8 7.8l-7.8 7.8l-7.8 -7.8zM677.5 563.5l7.8 7.8l-7.8 7.8l-7.8 -7.8zM673.5 573.1l7.8 7.8l-7.8 7.8l-7.8 -7.8zM707.6 566.6l7.8 7.8l-7.8 7.8l-7.8 -7.8zM711.1 563.5l7.8 7.8l-7.8 7.8l-7.8 -7.8zM719.3 563.7l7.8 7.8l-7.8 7.8l-7.8 -7.8zM700.5 584.2l7.8 7.8l-7.8 7.8l-7.8 -7.8zM707.1 588.4l7.8 7.8l-7.8 7.8l-7.8 -7.8zM715.1 592.9l7.8 7.8l-7.8 7.8l-7.8 -7.8zM735.1 585.4l7.8 7.8l-7.8 7.8l-7.8 -7.8zM719.3 537.2l7.8 7.8l-7.8 7.8l-7.8 -7.8zM740.5 531.8l7.8 7.8l-7.8 7.8l-7.8 -7.8zM745.2 542.4l7.8 7.8l-7.8 7.8l-7.8 -7.8zM749.9 561.4l7.8 7.8l-7.8 7.8l-7.8 -7.8zM772.7 527.3l7.8 7.8l-7.8 7.8l-7.8 -7.8zM760.4 512.5l7.8 7.8l-7.8 7.8l-7.8 -7.8zM756.9 511.3l7.8 7.8l-7.8 7.8l-7.8 -7.8zM775.7 473.7l7.8 7.8l-7.8 7.8l-7.8 -7.8zM782.8 479.6l7.8 7.8l-7.8 7.8l-7.8 -7.8zM771 489l7.8 7.8l-7.8 7.8l-7.8 -7.8zM761.6 496.1l7.8 7.8l-7.8 7.8l-7.8 -7.8z" stroke="#a3a6aa" stroke-width="1.1" fill="none"/><path d="M702.9 458.7V477.5M715.5 446.3V460.4M736.2 513.3V536.8M730.4 545V554.4M729.4 548.5V581.4M723.5 575.5V602.6M764.7 554.2V560.6M749.2 500V506.4M753.4 500.8V507.9M756.2 501.5V532.1M756.4 479.2V495.6M759.3 491.6V501M763.3 501.5V510.9M765.8 480.8V492.6M767 494V521.5M774.5 492.1V501.5M777.4 471V507.4M782.8 485.5V497.3" stroke="#333335" stroke-width="1.6" fill="none"/><g fill="#111113" fill-opacity="0.75" stroke="#fff" stroke-width="1"><circle cx="702.9" cy="468.1" r="5.2"/><circle cx="715.5" cy="453.3" r="5.2"/><circle cx="736.2" cy="525" r="5.2"/><circle cx="730.4" cy="549.7" r="5.2"/><circle cx="729.4" cy="557.9" r="5.2"/><circle cx="723.5" cy="586.1" r="5.2"/><circle cx="764.7" cy="557.4" r="5.2"/><circle cx="749.2" cy="503.2" r="5.2"/><circle cx="753.4" cy="504.3" r="5.2"/><circle cx="756.2" cy="510.9" r="5.2"/><circle cx="756.4" cy="487.4" r="5.2"/><circle cx="759.3" cy="496.3" r="5.2"/><circle cx="763.3" cy="506.2" r="5.2"/><circle cx="765.8" cy="486.7" r="5.2"/><circle cx="767" cy="499.9" r="5.2"/><circle cx="774.5" cy="496.8" r="5.2"/><circle cx="777.4" cy="485.5" r="5.2"/><circle cx="782.8" cy="491.4" r="5.2"/></g>
<path d="M1186.3 484.8V490.5M1205.3 491.2V495.9M1222.7 485.1V499.2M1218.7 503.9V510.9M1222.3 509.3V516.3M1177.6 500.3V526.9M1185.8 514.4V523.8M1205.8 503.9V541.5M1175.3 580.2V627.2M1213.6 569.2V574.8M1243.4 550.9V562.6M1250.5 493.3V514.4M1259.9 502.7V509.7M1268.8 488.1V495.2M1295.1 479.2V496.8" stroke="#b0b3b6" stroke-width="1.5" fill="none"/><path d="M1186.3 479.8l7.8 7.8l-7.8 7.8l-7.8 -7.8zM1205.3 485.7l7.8 7.8l-7.8 7.8l-7.8 -7.8zM1222.7 484.3l7.8 7.8l-7.8 7.8l-7.8 -7.8zM1218.7 499.6l7.8 7.8l-7.8 7.8l-7.8 -7.8zM1222.3 505l7.8 7.8l-7.8 7.8l-7.8 -7.8zM1177.6 504.3l7.8 7.8l-7.8 7.8l-7.8 -7.8zM1185.8 511.3l7.8 7.8l-7.8 7.8l-7.8 -7.8zM1205.8 510.9l7.8 7.8l-7.8 7.8l-7.8 -7.8zM1175.3 588.9l7.8 7.8l-7.8 7.8l-7.8 -7.8zM1213.6 564.2l7.8 7.8l-7.8 7.8l-7.8 -7.8zM1243.4 548.9l7.8 7.8l-7.8 7.8l-7.8 -7.8zM1250.5 498.4l7.8 7.8l-7.8 7.8l-7.8 -7.8zM1259.9 498.4l7.8 7.8l-7.8 7.8l-7.8 -7.8zM1268.8 483.8l7.8 7.8l-7.8 7.8l-7.8 -7.8zM1295.1 478.4l7.8 7.8l-7.8 7.8l-7.8 -7.8z" stroke="#a3a6aa" stroke-width="1.1" fill="none"/><path d="M1214.7 442.8V449.2M1216.6 484.4V490.8M1222.3 551V557.4M1225.8 573.2V596.7M1239.2 574.9V581.3M1245.8 547.7V574.4M1248.6 550.5V556.9M1247.6 536.8V543.8M1248.8 520.3V534.4M1250.5 504.3V523.1M1258.7 510.9V518M1260.6 502.7V525M1272.1 489.8V496.8M1274 492.8V499.9M1277 488.2V494.6M1287.4 474V515.1M1293.5 482V489.1" stroke="#333335" stroke-width="1.6" fill="none"/><g fill="#111113" fill-opacity="0.75" stroke="#fff" stroke-width="1"><circle cx="1214.7" cy="446" r="5.2"/><circle cx="1216.6" cy="487.6" r="5.2"/><circle cx="1222.3" cy="554.2" r="5.2"/><circle cx="1225.8" cy="583.8" r="5.2"/><circle cx="1239.2" cy="578.1" r="5.2"/><circle cx="1245.8" cy="550.9" r="5.2"/><circle cx="1248.6" cy="553.7" r="5.2"/><circle cx="1247.6" cy="540.3" r="5.2"/><circle cx="1248.8" cy="527.4" r="5.2"/><circle cx="1250.5" cy="513.7" r="5.2"/><circle cx="1258.7" cy="514.4" r="5.2"/><circle cx="1260.6" cy="513.3" r="5.2"/><circle cx="1272.1" cy="493.3" r="5.2"/><circle cx="1274" cy="496.3" r="5.2"/><circle cx="1277" cy="491.4" r="5.2"/><circle cx="1287.4" cy="489.1" r="5.2"/><circle cx="1293.5" cy="485.5" r="5.2"/></g>
<path d="M1741.2 473.1V487.2M1764.5 475.2V489.3M1768.7 482.7V503.9M1793.8 478.5V485.5M1739.3 541.9V544.3M1734.1 561.9V569M1738.8 596.2V601.9M1772.2 503.9V518M1765.2 518V532.1M1780.4 485.1V492.1M1786.3 483.9V490.9" stroke="#b0b3b6" stroke-width="1.5" fill="none"/><path d="M1741.2 472.3l7.8 7.8l-7.8 7.8l-7.8 -7.8zM1764.5 474.4l7.8 7.8l-7.8 7.8l-7.8 -7.8zM1768.7 485.5l7.8 7.8l-7.8 7.8l-7.8 -7.8zM1793.8 474.2l7.8 7.8l-7.8 7.8l-7.8 -7.8zM1739.3 535.3l7.8 7.8l-7.8 7.8l-7.8 -7.8zM1734.1 557.6l7.8 7.8l-7.8 7.8l-7.8 -7.8zM1738.8 591.2l7.8 7.8l-7.8 7.8l-7.8 -7.8zM1772.2 503.1l7.8 7.8l-7.8 7.8l-7.8 -7.8zM1765.2 517.2l7.8 7.8l-7.8 7.8l-7.8 -7.8zM1780.4 480.8l7.8 7.8l-7.8 7.8l-7.8 -7.8zM1786.3 479.6l7.8 7.8l-7.8 7.8l-7.8 -7.8z" stroke="#a3a6aa" stroke-width="1.1" fill="none"/><path d="M1741.7 529.3V535.7M1738.8 572.3V578.7M1758.1 510.9V532.1M1764 522.7V536.8M1764.7 497.3V516.1M1769.9 495.2V502.2M1773.9 497.5V504.6M1770.3 503.9V525M1781.6 483.9V490.9M1784.4 482.2V489.3M1788.7 483.2V490.2M1791.7 474.5V505" stroke="#333335" stroke-width="1.6" fill="none"/><g fill="#111113" fill-opacity="0.75" stroke="#fff" stroke-width="1"><circle cx="1741.7" cy="532.5" r="5.2"/><circle cx="1738.8" cy="575.5" r="5.2"/><circle cx="1758.1" cy="521.5" r="5.2"/><circle cx="1764" cy="529.7" r="5.2"/><circle cx="1764.7" cy="506.7" r="5.2"/><circle cx="1769.9" cy="498.7" r="5.2"/><circle cx="1773.9" cy="501" r="5.2"/><circle cx="1770.3" cy="509.7" r="5.2"/><circle cx="1781.6" cy="487.4" r="5.2"/><circle cx="1784.4" cy="485.8" r="5.2"/><circle cx="1788.7" cy="486.7" r="5.2"/><circle cx="1791.7" cy="486.5" r="5.2"/></g>
<path d="M220.6 712.2V719.2M190.5 791.9V796.6M195.7 785.5V825M202.3 774.9V798.4M222.7 751.4V770.2M244.6 731.5V738.5M266.9 731.5V740.9M273.9 717.4V733.8M270.4 720.9V744.4M265.7 729.1V747.9M305.7 720.9V735M295.1 729.1V738.5M329.9 717.8V719.2M359.3 726.3V735.7M468.5 711V718.1M440.8 716.2V720.9M285.7 773.8V797.3M326.8 756.1V765.5M345.6 740.9V764.4M340.9 740.9V755M369.1 743.2V752.6M378.5 763.2V777.3M372.6 771.4V780.8M364.4 773.8V792.6M345.6 783.2V797.3M396.2 777.3V803.1M396.2 797.3V825.5M387.9 802V834.9M402 809V827.8M409.1 799.6V818.4M411.4 818.4V841.9M418.5 811.4V825.5M405.6 837.2V851.3M420.8 841.9V856M413.8 849V867.8M425.5 851.3V870.1M431.4 854.8V873.6M420.8 863.1V877.2M492 841.9V860.7M477.2 881.9V896M471.4 877.2V905.4M203.4 867.8V893.6M210.5 807.8V831.3M214 826.6V845.4M244.6 785.5V829M249.3 796.1V810.2M255.1 773.8V797.3M261 771.4V794.9M228.1 762V776.1M242.2 747.9V762M447.9 745.6V755M446.7 755V769.1M415 766.7V780.8M418.5 787.9V802M427.9 799.6V813.7M221.1 785.5V799.6M228.1 809V818.4M223.4 832.5V846.6M453.7 813.7V823.1M289.4 753V761.6M377 735.1V753.5M241.2 764.7V776.3M359.4 728.1V746.1M268.8 754.2V768.7M257.5 758.8V768.2M258.5 759.3V770.6M319.9 742.5V756.5M283.5 752.6V765.4M347.7 734.1V750.6M307.2 744.2V751.3M270.9 751.5V766.5M335.6 736.1V745.7M242.6 757.7V766.5M297.3 748.7V757.1M303.4 751.1V759.9M305 751V760.1M375.6 721.6V740.7M326.5 739.6V746.7M284.5 756.2V763.5M296.5 745.9V759.1M355.8 737.4V746M247.1 760.1V780.1M281 748.9V756.5M291.9 750.3V759M308.8 742.3V754.5M317 736.6V757.5M264.6 761.8V769.4M247.1 758.1V774.1M375.8 729.7V741.9M365.8 735.4V743.5M307.3 742.8V756.3M256.9 760.5V769.9M269.1 754.1V766.9M348.9 735V753.4" stroke="#b0b3b6" stroke-width="1.5" fill="none"/><path d="M220.6 707.9l7.8 7.8l-7.8 7.8l-7.8 -7.8zM190.5 786.4l7.8 7.8l-7.8 7.8l-7.8 -7.8zM195.7 791.8l7.8 7.8l-7.8 7.8l-7.8 -7.8zM202.3 778.9l7.8 7.8l-7.8 7.8l-7.8 -7.8zM222.7 753l7.8 7.8l-7.8 7.8l-7.8 -7.8zM244.6 727.2l7.8 7.8l-7.8 7.8l-7.8 -7.8zM266.9 728.4l7.8 7.8l-7.8 7.8l-7.8 -7.8zM273.9 717.8l7.8 7.8l-7.8 7.8l-7.8 -7.8zM270.4 724.8l7.8 7.8l-7.8 7.8l-7.8 -7.8zM265.7 730.7l7.8 7.8l-7.8 7.8l-7.8 -7.8zM305.7 720.1l7.8 7.8l-7.8 7.8l-7.8 -7.8zM295.1 726l7.8 7.8l-7.8 7.8l-7.8 -7.8zM329.9 710.7l7.8 7.8l-7.8 7.8l-7.8 -7.8zM359.3 723.2l7.8 7.8l-7.8 7.8l-7.8 -7.8zM468.5 706.7l7.8 7.8l-7.8 7.8l-7.8 -7.8zM440.8 710.7l7.8 7.8l-7.8 7.8l-7.8 -7.8zM285.7 777.7l7.8 7.8l-7.8 7.8l-7.8 -7.8zM326.8 753l7.8 7.8l-7.8 7.8l-7.8 -7.8zM345.6 744.8l7.8 7.8l-7.8 7.8l-7.8 -7.8zM340.9 740.1l7.8 7.8l-7.8 7.8l-7.8 -7.8zM369.1 740.1l7.8 7.8l-7.8 7.8l-7.8 -7.8zM378.5 762.4l7.8 7.8l-7.8 7.8l-7.8 -7.8zM372.6 768.3l7.8 7.8l-7.8 7.8l-7.8 -7.8zM364.4 775.4l7.8 7.8l-7.8 7.8l-7.8 -7.8zM345.6 782.4l7.8 7.8l-7.8 7.8l-7.8 -7.8zM355 820.5l7.8 7.8l-7.8 7.8l-7.8 -7.8zM396.2 782.4l7.8 7.8l-7.8 7.8l-7.8 -7.8zM396.2 803.6l7.8 7.8l-7.8 7.8l-7.8 -7.8zM387.9 810.6l7.8 7.8l-7.8 7.8l-7.8 -7.8zM402 810.6l7.8 7.8l-7.8 7.8l-7.8 -7.8zM409.1 801.2l7.8 7.8l-7.8 7.8l-7.8 -7.8zM411.4 822.4l7.8 7.8l-7.8 7.8l-7.8 -7.8zM418.5 810.6l7.8 7.8l-7.8 7.8l-7.8 -7.8zM405.6 836.5l7.8 7.8l-7.8 7.8l-7.8 -7.8zM420.8 841.2l7.8 7.8l-7.8 7.8l-7.8 -7.8zM413.8 850.6l7.8 7.8l-7.8 7.8l-7.8 -7.8zM425.5 852.9l7.8 7.8l-7.8 7.8l-7.8 -7.8zM431.4 856.4l7.8 7.8l-7.8 7.8l-7.8 -7.8zM420.8 862.3l7.8 7.8l-7.8 7.8l-7.8 -7.8zM492 843.5l7.8 7.8l-7.8 7.8l-7.8 -7.8zM477.2 881.1l7.8 7.8l-7.8 7.8l-7.8 -7.8zM471.4 883.5l7.8 7.8l-7.8 7.8l-7.8 -7.8zM203.4 864.7l7.8 7.8l-7.8 7.8l-7.8 -7.8zM210.5 811.8l7.8 7.8l-7.8 7.8l-7.8 -7.8zM214 828.2l7.8 7.8l-7.8 7.8l-7.8 -7.8zM244.6 794.2l7.8 7.8l-7.8 7.8l-7.8 -7.8zM249.3 795.3l7.8 7.8l-7.8 7.8l-7.8 -7.8zM255.1 777.7l7.8 7.8l-7.8 7.8l-7.8 -7.8zM261 775.4l7.8 7.8l-7.8 7.8l-7.8 -7.8zM228.1 761.3l7.8 7.8l-7.8 7.8l-7.8 -7.8zM242.2 747.2l7.8 7.8l-7.8 7.8l-7.8 -7.8zM447.9 742.5l7.8 7.8l-7.8 7.8l-7.8 -7.8zM446.7 754.2l7.8 7.8l-7.8 7.8l-7.8 -7.8zM415 766l7.8 7.8l-7.8 7.8l-7.8 -7.8zM418.5 787.1l7.8 7.8l-7.8 7.8l-7.8 -7.8zM427.9 798.9l7.8 7.8l-7.8 7.8l-7.8 -7.8zM221.1 784.8l7.8 7.8l-7.8 7.8l-7.8 -7.8zM228.1 805.9l7.8 7.8l-7.8 7.8l-7.8 -7.8zM223.4 831.8l7.8 7.8l-7.8 7.8l-7.8 -7.8zM453.7 810.6l7.8 7.8l-7.8 7.8l-7.8 -7.8zM289.4 749.5l7.8 7.8l-7.8 7.8l-7.8 -7.8zM377 736.5l7.8 7.8l-7.8 7.8l-7.8 -7.8zM241.2 762.7l7.8 7.8l-7.8 7.8l-7.8 -7.8zM359.4 729.3l7.8 7.8l-7.8 7.8l-7.8 -7.8zM270.2 746.2l7.8 7.8l-7.8 7.8l-7.8 -7.8zM268.8 753.7l7.8 7.8l-7.8 7.8l-7.8 -7.8zM257.5 755.7l7.8 7.8l-7.8 7.8l-7.8 -7.8zM258.5 757.1l7.8 7.8l-7.8 7.8l-7.8 -7.8zM319.9 741.7l7.8 7.8l-7.8 7.8l-7.8 -7.8zM283.5 751.2l7.8 7.8l-7.8 7.8l-7.8 -7.8zM347.7 734.5l7.8 7.8l-7.8 7.8l-7.8 -7.8zM307.2 740l7.8 7.8l-7.8 7.8l-7.8 -7.8zM270.9 751.2l7.8 7.8l-7.8 7.8l-7.8 -7.8zM335.6 733.1l7.8 7.8l-7.8 7.8l-7.8 -7.8zM294.9 746.4l7.8 7.8l-7.8 7.8l-7.8 -7.8zM242.6 754.3l7.8 7.8l-7.8 7.8l-7.8 -7.8zM297.3 745.1l7.8 7.8l-7.8 7.8l-7.8 -7.8zM303.4 747.7l7.8 7.8l-7.8 7.8l-7.8 -7.8zM305 747.7l7.8 7.8l-7.8 7.8l-7.8 -7.8zM248.1 753.8l7.8 7.8l-7.8 7.8l-7.8 -7.8zM288.8 750.4l7.8 7.8l-7.8 7.8l-7.8 -7.8zM317.9 740.8l7.8 7.8l-7.8 7.8l-7.8 -7.8zM375.6 723.3l7.8 7.8l-7.8 7.8l-7.8 -7.8zM326.5 735.3l7.8 7.8l-7.8 7.8l-7.8 -7.8zM284.5 752.1l7.8 7.8l-7.8 7.8l-7.8 -7.8zM296.5 744.7l7.8 7.8l-7.8 7.8l-7.8 -7.8zM355.8 733.9l7.8 7.8l-7.8 7.8l-7.8 -7.8zM247.1 762.3l7.8 7.8l-7.8 7.8l-7.8 -7.8zM281 744.9l7.8 7.8l-7.8 7.8l-7.8 -7.8zM291.9 746.9l7.8 7.8l-7.8 7.8l-7.8 -7.8zM308.8 740.6l7.8 7.8l-7.8 7.8l-7.8 -7.8zM317 739.2l7.8 7.8l-7.8 7.8l-7.8 -7.8zM264.6 757.8l7.8 7.8l-7.8 7.8l-7.8 -7.8zM247.1 758.3l7.8 7.8l-7.8 7.8l-7.8 -7.8zM268.5 746.2l7.8 7.8l-7.8 7.8l-7.8 -7.8zM310.6 747.6l7.8 7.8l-7.8 7.8l-7.8 -7.8zM375.8 728l7.8 7.8l-7.8 7.8l-7.8 -7.8zM365.8 731.7l7.8 7.8l-7.8 7.8l-7.8 -7.8zM373.9 726.5l7.8 7.8l-7.8 7.8l-7.8 -7.8zM307.3 741.7l7.8 7.8l-7.8 7.8l-7.8 -7.8zM256.9 757.4l7.8 7.8l-7.8 7.8l-7.8 -7.8zM269.1 752.7l7.8 7.8l-7.8 7.8l-7.8 -7.8zM262.7 758.5l7.8 7.8l-7.8 7.8l-7.8 -7.8zM271.5 757.2l7.8 7.8l-7.8 7.8l-7.8 -7.8zM348.9 736.4l7.8 7.8l-7.8 7.8l-7.8 -7.8z" stroke="#a3a6aa" stroke-width="1.1" fill="none"/><path d="M399 702.4V708.8M434.9 706.6V713M449 728.3V734.7M467.4 716.5V722.9M475.4 716.5V722.9M477.7 723.6V730M467.8 730.1V736.5M476.8 731.1V737.5M465.5 731.8V738.2M491.3 713.7V720.1M497.7 719.3V725.7M490.6 721.2V727.6M503.1 729V735.4M218 725.9V732.3M218 767V773.4M231.2 754.8V761.2M309.9 725.6V735M297.4 732.3V738.7M277.5 740V746.4M288 740V746.4M269.7 766.2V785M250 786.2V795.6M281 796.8V837.2M259.6 834.5V840.9M371 755.7V765.1M373.8 768.4V777.8M361.6 767V773.4M351.5 782V789M359.3 783.6V797.7M367.9 809.5V823.6M377.4 806V838.9M381.6 819.2V825.6M392.6 829.5V848.3M390.3 841.9V856M400.9 835.3V863.5M408.6 816.1V825.5M417.3 818.4V827.8M413.8 844.3V853.7M419.7 849V863.1M408.6 852V880.2M423.2 829V838.4M406.7 782V800.8M412.6 785.5V799.6M456.8 776.1V794.9M471.1 769.1V802M490.2 861.2V882.3M497.4 873.3V879.7M440.8 859.5V873.6M432.6 841.9V851.3M215.7 880.3V886.7M221.5 861.4V894.3M206.5 869.3V875.7M205.8 859.9V866.3M206.5 845.8V852.2M210.5 821.8V828.2M215.7 854.8V873.6M221.1 855.5V869.6M234.3 762.4V768.8M212.1 835.3V841.7M226.1 808.1V814.5M205.1 865V871.4M210.7 853.1V859.5M218 817.5V823.9M207.5 857.1V867.9M227.1 794.8V804.9M205.4 859.8V866.2M220.8 843.6V850M206.4 849.4V855.8M207.3 848.1V854.5M217.3 847.4V853.8M241.4 753.4V770.5M213.2 815.5V821.9M209 855.7V862.1M218.5 826.4V832.8M236.9 781.8V796.2M225.4 833V844.5M206.8 855.1V864.6M214 839V857.3M225.5 809.9V821.7M222.2 829V835.4M212.3 834.1V840.5M224.9 819.6V826M226.6 818.4V824.8M219.5 831.7V843.5M229.1 777.6V784M232.9 776V782.4M218.7 843.1V849.5M229.3 763.8V770.2M210 846.1V871.5M218.5 821.8V828.2M223.6 840.3V846.7M223.6 825.3V831.7M234.8 779.1V785.5M220.2 831.7V838.1M220.6 832V841.8M235.7 777.8V784.2M209.5 852.3V858.7M222.2 833.1V839.5M222.8 806.5V812.9M227.7 790.5V805.6M224.3 834.4V840.8M240.7 757.5V763.9M227 786.4V792.8M228.4 782.3V788.7M211.1 845.4V851.8M213.4 847.9V854.3M230.4 799.1V810.9M243.5 759V765.4M211.5 865.7V872.1M220.8 801.6V820.8M215.3 817.6V824M228.5 786.1V796.8M220.2 834.3V854.8M231.1 782.1V788.5M240.3 764.5V770.9M212.8 849.9V856.3M221.2 830.8V847.3M235.7 780.9V787.3M213.4 856.1V862.5M212.3 859.5V865.9M220.1 789V807.7M235 774.9V781.3M222.7 804.5V810.9M245.2 765.6V772M221.3 822.2V828.6M219.3 813.6V820M236.5 765.9V772.3M218.5 804V810.4M208.4 861.4V867.8M233.5 781.5V795.7M240.3 776V782.4M235.6 763.9V770.3M229.5 775.6V782M233.5 773.8V791.3M212.2 856V862.4M211.5 850.6V857M242 767.1V773.5M284 754.1V760.5M269.5 750.7V760.6M316.7 745.5V751.9M393.8 725.8V732.2M362 732.7V739.1M284.9 747.9V757.3M331.7 738.7V745.1M300.4 746.4V752.8M312.2 749.2V755.6M314.2 745.7V755.2M371.6 732.6V739M260.5 752.2V758.6M355.6 729.4V749.2M396.2 723.4V729.8M350.6 732.5V746.5M296 742.2V758.5M368.9 726.7V733.1M282 751.9V758.3M268.2 759.4V765.8M313 738.9V761.5M384.2 722.6V733M325.9 748.2V754.6M388.6 719.9V743.9M394.8 720.9V727.3M383.8 730.9V737.3M336.3 741.4V747.8M372.5 727.6V734M355.6 734.9V741.3M281 752.5V758.9M342.1 739.3V745.7M325 750.8V757.2M284.5 746V752.4M296.9 747.6V754M277.1 758.1V764.5M347 740.6V747M394.7 725.3V731.7M330.5 741.1V747.5M259.5 758V764.4M398.6 729.4V735.8M306.8 747.6V754M363 734.1V740.5M277.6 753.3V759.7M308 747.7V757.6M306 748.5V754.9M354.6 728.4V752.8M276.7 753.8V760.2M264.4 746.4V757.9M366.8 729.5V735.9M252.7 753.9V771.5M353 733.1V739.5M377.2 727.4V733.8M249.3 755.5V761.9M271.9 749V755.4M253.9 761V767.4M365.7 734.7V741.1M307.5 740.4V758.6M367.4 734.3V740.7M311 745.6V760.5M351.8 733.6V740M326.2 742.2V748.6M260 759.6V769.1M260.5 757.3V763.7M364.6 728.9V739.1M381.8 735.8V742.2M390 726.5V739M365.6 730.7V737.1M388.9 717.2V734.9M336.5 730.2V750.2M274.3 756.4V762.8M392.7 727.5V733.9M341 736V742.4M273.3 745.6V763.8M382.1 725V731.4M316.7 750.9V757.3M285 754.5V760.9M334.5 750V756.4M347 736.2V742.6M263.8 754.5V760.9M330.1 735.2V741.6M366.5 731.8V738.2M287.2 749.6V761.5M263.3 756.7V763.1M329.5 740.3V746.7M399 722.2V728.6M343.8 743.8V750.2M324 747.7V754.1M391.1 725.6V735.2M320.8 742.4V764.2M351.2 735.1V741.5M251.3 752.5V768.6M381.1 723.3V729.7M349.4 735.5V741.9M255.9 758.1V764.5M289.5 745.8V752.2M353.3 731.7V744.6M358.2 736.4V742.8M376 734V749M317.9 739.6V746M358.8 733.6V740M261.9 764.1V770.5M292.4 743.3V759.6M339.8 738.8V745.2M254.2 753.7V760.1M269.7 756.1V762.5M361.4 735.8V742.2M312.7 741.8V748.2M299.9 749.7V756.1M325.3 745.3V751.7M330.9 742.5V748.9M359.1 735.8V742.2M338 741.4V747.8M265.6 756.5V762.9M396.5 721V738.1M338.6 742.7V749.1M348.3 733.2V739.6M370.2 733.8V740.2M289.2 751.9V758.3M336.8 739.9V746.3M359.3 735.6V745M326.8 738.1V744.5M256.7 751.9V776.5M293.2 745.7V752.1M313.3 750.9V757.3M307.4 745V751.4M370.3 726.5V732.9M250.8 758.5V764.9M309.3 751.6V758M343.6 734.3V740.7M367.5 725.4V746M371.2 737V743.4M398.9 753.8V760.2M399.6 754.6V761M401.2 719.9V726.3M437.7 722.7V729.1M416.4 744.6V751M420.5 732.1V738.5M412.8 755.9V762.3M398.4 728.2V734.6M433.2 734V740.4M436.3 754.4V760.8M437.7 720.8V727.2M419.6 731.4V737.8M408.2 712.7V719.1M397.2 755.4V761.8M437.3 743.8V750.2M425.9 728.6V735M399.1 760V766.4M434.9 717.4V723.8M426.9 722.5V728.9M400.3 727.3V733.7M429.5 744.5V750.9M428.7 755.3V761.7M443.6 739.3V745.7M441.6 730.3V736.7M419.6 742.3V748.7M415.6 718.1V724.5M399.1 755.5V761.9M405.3 746.7V753.1M413.7 743V749.4M429.9 740.6V747M444 748.7V755.1M427.4 716.9V723.3M414.2 752.5V758.9M423.8 751.3V757.7M407.9 745.9V752.3M404.8 725.2V731.6M419.6 727V733.4M402.6 732.3V738.7M411 748V754.4M432.8 741.1V747.5M419.1 757.3V763.7M418.8 712.6V719M430.9 728.6V735M436.4 751V757.4M428.5 740.9V747.3M406.6 742.5V748.9M398.5 758.9V765.3M404.1 711.2V717.6M404.7 760V766.4M431.5 724.1V730.5M439 753.6V760M409.3 745.4V751.8M397.2 751.2V757.6M424.9 748.3V754.7M413 712.4V718.8M421.3 734.4V740.8M401 744.1V750.5M400.6 746.3V752.7M433 753.3V759.7M417.8 745.4V751.8M439.3 729.3V735.7M418 744.2V750.6M399.3 737.3V743.7M430.8 747.2V753.6M437.1 759V765.4M413.7 710.9V717.3M410.6 756.7V763.1M438.9 747.6V754M395.1 727.3V733.7M419 732.4V738.8M439.8 718.9V725.3M423.5 723.4V729.8M435.5 760V766.4M432.5 717.6V724M407.1 731.7V738.1M396.4 759.6V766M430 750.7V757.1M422.9 727.4V733.8M426.5 742.9V749.3M412.2 741.7V748.1M416.9 715.7V722.1M423.4 716.3V722.7M433.6 738.7V745.1M410.3 737V743.4M429.3 742.6V749M412.3 759V765.4M433.9 720.8V727.2M415.3 749.8V756.2M403 738.7V745.1M408.9 736.6V743M399.5 732V738.4M436.9 733.1V739.5M435.9 747.4V753.8M417.3 722.7V729.1M399.2 750.3V756.7M434.8 757.2V763.6M427.4 718.1V724.5M444.4 757.1V763.5M433.3 750.3V756.7M441 760.5V766.9M408.5 741.7V748.1M418.1 720.3V726.7M428.8 746V752.4M425.5 709.8V716.2M397.1 740.4V746.8M415.7 756V762.4M418.1 743.2V749.6M423.3 720.4V726.8M404.4 747.4V753.8M440.2 753.9V760.3M422.3 714V720.4M406.8 718.8V725.2M418.5 714V720.4M413.7 718.6V725M441.9 751.3V757.7M409.9 759.7V766.1M437.6 723.8V730.2M406.1 729V735.4M410.3 720.9V727.3M430.1 748.8V755.2M425.7 727.6V734M431.6 742.1V748.5M438.6 740.9V747.3M399.3 733.4V739.8M440.8 749.1V755.5M442.1 756.1V762.5M417.4 739.8V746.2M436.8 747.9V754.3M409.8 724.1V730.5M407.1 733.6V740M404.4 757V763.4M436.2 749.4V755.8M429.5 734.8V741.2M420 734.1V740.5M409.8 708.4V714.8M408.7 731.5V737.9M409.3 719.3V725.7M435.1 740.1V746.5M405.4 762.5V768.9M402.4 749.1V755.5M415 733.6V740M435.4 750.5V756.9M401.9 712.7V719.1M426 716.6V723M424.8 739.9V746.3M430.7 734.7V741.1M419.6 733.1V739.5M402.7 714.8V721.2M435.6 737.2V743.6M405.9 736.6V743M425.1 777.1V783.5M438.7 804.7V811.1M431.3 793.2V799.6M430.2 784.5V790.9M435.6 784.7V791.1M434.6 771.8V778.2M434.7 792.4V798.8M437.7 800.5V806.9M430.7 773.9V780.3M436 801.2V807.6M428.4 787.9V794.3M434.4 804.3V810.7M435.9 788.1V794.5M431.9 772.7V779.1M441.9 799.4V805.8M437.6 808.5V814.9M426 773.6V780M442.9 791V797.4M421.4 763.3V769.7M427.8 779.3V785.7M422.3 779.5V785.9M418.1 769.6V776M435.7 773.6V780M422.6 790.7V797.1M427.8 789V795.4M436.4 794.1V800.5M438.6 793V799.4M436.8 799.3V805.7M431.9 798.3V804.7M433.4 793.1V799.5M427.5 775V781.4M428.8 764.8V771.2M436.9 799.6V806M425.7 760.3V766.7M424.7 782.6V789M426.9 760.1V766.5M433.3 785.3V791.7M430.6 783.8V790.2M430.4 806.4V812.8M434 784.4V790.8M445.4 809.9V816.3M425.6 793V799.4M434.3 793.1V799.5M431.3 797.4V803.8M433.4 798.9V805.3M432 792.4V798.8M433.7 763.3V769.7M438.2 799.8V806.2M433.7 795.4V801.8M423.8 772.5V778.9M428 788.1V794.5M428.1 790.8V797.2M430.4 778.4V784.8M438.6 803.2V809.6M442.9 796.2V802.6M437.8 796.3V802.7M423.6 772.6V779M428.2 777.4V783.8M431.4 759.2V765.6M431.5 787.4V793.8M430.6 783.6V790M432.1 790.4V796.8M424.6 767V773.4M440.2 803.2V809.6M429.8 770.7V777.1M417.3 780.6V787M433.5 761.2V767.6M421.6 765.5V771.9M425.7 752.7V759.1M422.9 769.5V775.9M436.6 789.6V796M431.5 790.5V796.9M433.5 805.9V812.3M436.8 807.7V814.1M422.2 770.4V776.8M444.9 789.6V796M438.4 772.5V778.9M448.1 782V788.4M448.5 791.9V798.3M448.6 788.1V794.5M446.7 780.2V786.6M446.9 782V788.4M439 761.3V767.7M449.5 788.2V794.6M446.6 789.4V795.8M448.3 788.3V794.7M449.4 791.2V797.6M441.6 788.8V795.2M446.5 791.6V798M445.5 789V795.4M444.5 763.9V770.3M438 769.3V775.7M443.1 776.8V783.2M447.5 780V786.4M447.8 774.5V780.9M447.5 777.5V783.9M440.1 766.6V773M452.6 788.4V794.8M438 767.4V773.8M445.8 793.7V800.1M440.4 793.9V800.3M442.3 773V779.4M450 784V790.4M438.3 769.5V775.9M442.7 772.7V779.1M473.8 884.9V891.3M476.4 873.6V880M437.1 831.4V837.8M450.2 822.5V828.9M468.1 839.5V845.9M455.8 831V837.4M442.1 812.1V818.5M434.8 799V818.8M456.6 855.3V861.7M485.1 878.8V885.2M458.6 830.2V836.6M468.5 846.4V852.8M461.7 810.5V816.9M455.1 847.9V854.3M454.1 840.1V846.5M477.3 869.1V885.4M442.6 815.2V834.6M461.3 801V807.4M462.1 870.4V876.8M474.9 825.3V831.7M452 846.4V852.8M436.6 835.3V845.5M475.9 820.6V827M434.5 827.3V836.7M446.4 871.6V878M464.9 844.1V850.5M471.8 825.8V832.2M464.6 821.4V827.8M471.2 848.9V855.3M453.8 883.2V889.6M477.6 799.5V823.2M468.8 810.4V816.8M442.8 808.5V814.9M472.9 826.2V841.7M464 862.5V868.9M432.1 816.5V822.9M454.5 872.7V879.1M483.1 844.4V850.8M477.2 850.9V857.3M431 807.2V813.6M446.3 835.2V841.6M468.4 856.2V862.6M452.4 878.8V891.2M442.5 803.2V809.6M436.2 835.7V842.1M470.5 819.4V825.8M481.9 873.1V879.5M474 875.7V887.1M465.9 835V845.7M458.4 850.6V857M465.2 849.3V855.7M461.3 814.4V820.8M454.6 874.4V880.8M481.2 837.4V843.8M474.7 856V862.4M466.9 862.7V869.1M461.2 829.8V840.1M465.5 811.8V818.2M435.5 819.4V825.8M431.4 825.4V831.8M428.1 801.2V807.6M446.3 854.6V861M446.6 805.2V811.6M479.3 856.6V877.1M436.2 800.5V810M465.6 883.5V889.9M468.1 821.4V834.4M458.3 841.3V847.7M469.4 875.4V881.8M477.7 880.6V887M450.5 807.2V813.6M472.4 833.6V840M480.3 869.1V875.5M431.6 822.9V829.3M463.3 818V824.4M481.7 850.8V857.2M457.6 861.9V868.3M467.2 884.5V890.9M473.1 836.4V842.8M444.5 809.9V816.3M447.9 817.6V840.8M473.1 868.3V874.7M475.8 866V872.4M457 832.2V846.4M460.9 872.2V878.6M483.3 826.2V832.6M476.1 879.4V888.8M461.8 850.9V857.3M469.6 832.1V838.5M472.1 807V813.4M457.5 853.3V859.7M462.1 846.5V852.9M440.7 823.4V829.8M453 865.4V871.8M466.7 829.1V835.5M458 818.6V825M460.4 869.9V876.3M453 880.3V886.7M472 853.2V862.9M431.1 810.6V817M450.6 832.3V858.1M453.8 836.4V847.9M442.6 830.8V840.7M444.4 804.6V811M450.9 840.4V846.8M474.6 883.9V890.3M464.5 854.9V861.3M471.6 798.5V816.2M459.9 818.3V824.7M481.9 833.5V839.9M449.2 805.8V812.2M450.7 876.8V883.2M465.8 865.6V872M433.3 809.2V815.6M452.7 805.7V829.2M441.4 825.1V831.5M470.9 811.5V817.9M452.2 857.3V873M455.8 846.4V852.8M482.5 832.1V838.5M479.7 862.1V868.5M440 813V822.8M448.9 802.9V809.3M444.9 848.3V854.7M463.1 886.8V893.2M445.9 806.5V812.9M477.9 823V829.4M467.9 812.4V818.8M440.6 819.9V826.3M449.7 841.1V847.5M442 838.9V845.3M451.4 835.9V842.3M462.6 838.5V844.9M481.3 881.5V887.9M464.2 853.1V859.5M439.8 813.7V820.1M474.6 859.1V865.5M472.9 854.3V860.7M456.5 817.3V826.8M465.4 804.2V810.6M466.6 878.5V884.9M471.7 831.5V837.9M475.1 852.7V859.1M437.5 808.5V814.9M478 846.6V853M481.8 838.6V845M451.3 882.3V888.7M456.5 877.8V884.2M480 854.2V860.6M464.3 832.8V839.2M447.9 870.5V876.9M455.4 800.9V807.3M438.8 805.2V826.8M472.3 855.2V864.7M468.1 828.5V834.9M470.4 873.1V879.5M458.4 848.7V855.1M467.3 833.9V840.3M449.1 877.6V884M444.3 823V850.4M483.4 828.3V834.7M465.7 795.1V814.4M457.1 830.7V837.1M460.3 850V856.4M469.5 819.5V825.9M473 797.8V821.5M470.2 802.9V809.3M450.5 821.2V827.6M462 830.3V836.7M460.9 879.7V886.1M478.5 825.9V832.3M461.3 836.3V842.7M464.2 804.4V810.8M455.8 835.4V841.8M447.9 814V820.4M461.3 827.3V833.7M463.3 866.8V873.2M428.9 808.9V815.3M446.1 840.1V857M435.1 835.4V841.8M478.4 829.3V835.7M464 859.7V866.1M446.2 838.1V844.5M449.4 876.4V882.8M483.2 871.3V877.7M466.6 849.6V856M465.5 800.1V806.5M476.5 856.2V862.6M445.8 857.2V875.9M459.7 856.7V863.1M470.3 798.4V820.2M457.3 805.6V812M483.3 869.5V892.5M450.1 852.3V858.7M462.1 829.3V835.7M440.2 830.9V837.3M450.3 811.3V817.7M463 806.5V812.9M469.5 809.3V828.4M440.2 803.3V809.7" stroke="#333335" stroke-width="1.6" fill="none"/><g fill="#111113" fill-opacity="0.75" stroke="#fff" stroke-width="1"><circle cx="399" cy="705.6" r="5.2"/><circle cx="434.9" cy="709.8" r="5.2"/><circle cx="449" cy="731.5" r="5.2"/><circle cx="467.4" cy="719.7" r="5.2"/><circle cx="475.4" cy="719.7" r="5.2"/><circle cx="477.7" cy="726.8" r="5.2"/><circle cx="467.8" cy="733.3" r="5.2"/><circle cx="476.8" cy="734.3" r="5.2"/><circle cx="465.5" cy="735" r="5.2"/><circle cx="491.3" cy="716.9" r="5.2"/><circle cx="497.7" cy="722.5" r="5.2"/><circle cx="490.6" cy="724.4" r="5.2"/><circle cx="503.1" cy="732.2" r="5.2"/><circle cx="218" cy="729.1" r="5.2"/><circle cx="218" cy="770.2" r="5.2"/><circle cx="231.2" cy="758" r="5.2"/><circle cx="309.9" cy="730.3" r="5.2"/><circle cx="297.4" cy="735.5" r="5.2"/><circle cx="277.5" cy="743.2" r="5.2"/><circle cx="288" cy="743.2" r="5.2"/><circle cx="269.7" cy="775.6" r="5.2"/><circle cx="250" cy="790.9" r="5.2"/><circle cx="281" cy="811.8" r="5.2"/><circle cx="259.6" cy="837.7" r="5.2"/><circle cx="371" cy="760.4" r="5.2"/><circle cx="373.8" cy="773.1" r="5.2"/><circle cx="361.6" cy="770.2" r="5.2"/><circle cx="351.5" cy="785.5" r="5.2"/><circle cx="359.3" cy="790.7" r="5.2"/><circle cx="367.9" cy="816.5" r="5.2"/><circle cx="377.4" cy="822.4" r="5.2"/><circle cx="381.6" cy="822.4" r="5.2"/><circle cx="392.6" cy="838.9" r="5.2"/><circle cx="390.3" cy="849" r="5.2"/><circle cx="400.9" cy="849.4" r="5.2"/><circle cx="408.6" cy="820.8" r="5.2"/><circle cx="417.3" cy="823.1" r="5.2"/><circle cx="413.8" cy="849" r="5.2"/><circle cx="419.7" cy="856" r="5.2"/><circle cx="408.6" cy="866.1" r="5.2"/><circle cx="423.2" cy="833.7" r="5.2"/><circle cx="406.7" cy="791.4" r="5.2"/><circle cx="412.6" cy="792.6" r="5.2"/><circle cx="456.8" cy="785.5" r="5.2"/><circle cx="471.1" cy="783.6" r="5.2"/><circle cx="490.2" cy="871.8" r="5.2"/><circle cx="497.4" cy="876.5" r="5.2"/><circle cx="440.8" cy="866.6" r="5.2"/><circle cx="432.6" cy="846.6" r="5.2"/><circle cx="215.7" cy="883.5" r="5.2"/><circle cx="221.5" cy="877.9" r="5.2"/><circle cx="206.5" cy="872.5" r="5.2"/><circle cx="205.8" cy="863.1" r="5.2"/><circle cx="206.5" cy="849" r="5.2"/><circle cx="210.5" cy="825" r="5.2"/><circle cx="215.7" cy="864.2" r="5.2"/><circle cx="221.1" cy="862.6" r="5.2"/><circle cx="234.3" cy="765.6" r="5.2"/><circle cx="212.1" cy="838.5" r="5.2"/><circle cx="226.1" cy="811.3" r="5.2"/><circle cx="205.1" cy="868.2" r="5.2"/><circle cx="210.7" cy="856.3" r="5.2"/><circle cx="218" cy="820.7" r="5.2"/><circle cx="207.5" cy="862.5" r="5.2"/><circle cx="227.1" cy="799.9" r="5.2"/><circle cx="205.4" cy="863" r="5.2"/><circle cx="220.8" cy="846.8" r="5.2"/><circle cx="206.4" cy="852.6" r="5.2"/><circle cx="207.3" cy="851.3" r="5.2"/><circle cx="217.3" cy="850.6" r="5.2"/><circle cx="241.4" cy="762" r="5.2"/><circle cx="213.2" cy="818.7" r="5.2"/><circle cx="209" cy="858.9" r="5.2"/><circle cx="218.5" cy="829.6" r="5.2"/><circle cx="236.9" cy="789" r="5.2"/><circle cx="225.4" cy="838.7" r="5.2"/><circle cx="206.8" cy="859.9" r="5.2"/><circle cx="214" cy="848.2" r="5.2"/><circle cx="225.5" cy="815.8" r="5.2"/><circle cx="222.2" cy="832.2" r="5.2"/><circle cx="212.3" cy="837.3" r="5.2"/><circle cx="224.9" cy="822.8" r="5.2"/><circle cx="226.6" cy="821.6" r="5.2"/><circle cx="219.5" cy="837.6" r="5.2"/><circle cx="229.1" cy="780.8" r="5.2"/><circle cx="232.9" cy="779.2" r="5.2"/><circle cx="218.7" cy="846.3" r="5.2"/><circle cx="229.3" cy="767" r="5.2"/><circle cx="210" cy="858.8" r="5.2"/><circle cx="218.5" cy="825" r="5.2"/><circle cx="223.6" cy="843.5" r="5.2"/><circle cx="223.6" cy="828.5" r="5.2"/><circle cx="234.8" cy="782.3" r="5.2"/><circle cx="220.2" cy="834.9" r="5.2"/><circle cx="220.6" cy="836.9" r="5.2"/><circle cx="235.7" cy="781" r="5.2"/><circle cx="209.5" cy="855.5" r="5.2"/><circle cx="222.2" cy="836.3" r="5.2"/><circle cx="222.8" cy="809.7" r="5.2"/><circle cx="227.7" cy="798.1" r="5.2"/><circle cx="224.3" cy="837.6" r="5.2"/><circle cx="240.7" cy="760.7" r="5.2"/><circle cx="227" cy="789.6" r="5.2"/><circle cx="228.4" cy="785.5" r="5.2"/><circle cx="211.1" cy="848.6" r="5.2"/><circle cx="213.4" cy="851.1" r="5.2"/><circle cx="230.4" cy="805" r="5.2"/><circle cx="243.5" cy="762.2" r="5.2"/><circle cx="211.5" cy="868.9" r="5.2"/><circle cx="220.8" cy="811.2" r="5.2"/><circle cx="215.3" cy="820.8" r="5.2"/><circle cx="228.5" cy="791.4" r="5.2"/><circle cx="220.2" cy="844.5" r="5.2"/><circle cx="231.1" cy="785.3" r="5.2"/><circle cx="240.3" cy="767.7" r="5.2"/><circle cx="212.8" cy="853.1" r="5.2"/><circle cx="221.2" cy="839.1" r="5.2"/><circle cx="235.7" cy="784.1" r="5.2"/><circle cx="213.4" cy="859.3" r="5.2"/><circle cx="212.3" cy="862.7" r="5.2"/><circle cx="220.1" cy="798.3" r="5.2"/><circle cx="235" cy="778.1" r="5.2"/><circle cx="222.7" cy="807.7" r="5.2"/><circle cx="245.2" cy="768.8" r="5.2"/><circle cx="221.3" cy="825.4" r="5.2"/><circle cx="219.3" cy="816.8" r="5.2"/><circle cx="236.5" cy="769.1" r="5.2"/><circle cx="218.5" cy="807.2" r="5.2"/><circle cx="208.4" cy="864.6" r="5.2"/><circle cx="233.5" cy="788.6" r="5.2"/><circle cx="240.3" cy="779.2" r="5.2"/><circle cx="235.6" cy="767.1" r="5.2"/><circle cx="229.5" cy="778.8" r="5.2"/><circle cx="233.5" cy="782.5" r="5.2"/><circle cx="212.2" cy="859.2" r="5.2"/><circle cx="211.5" cy="853.8" r="5.2"/><circle cx="242" cy="770.3" r="5.2"/><circle cx="284" cy="757.3" r="5.2"/><circle cx="269.5" cy="755.7" r="5.2"/><circle cx="316.7" cy="748.7" r="5.2"/><circle cx="393.8" cy="729" r="5.2"/><circle cx="362" cy="735.9" r="5.2"/><circle cx="284.9" cy="752.6" r="5.2"/><circle cx="331.7" cy="741.9" r="5.2"/><circle cx="300.4" cy="749.6" r="5.2"/><circle cx="312.2" cy="752.4" r="5.2"/><circle cx="314.2" cy="750.5" r="5.2"/><circle cx="371.6" cy="735.8" r="5.2"/><circle cx="260.5" cy="755.4" r="5.2"/><circle cx="355.6" cy="739.3" r="5.2"/><circle cx="396.2" cy="726.6" r="5.2"/><circle cx="350.6" cy="739.5" r="5.2"/><circle cx="296" cy="750.3" r="5.2"/><circle cx="368.9" cy="729.9" r="5.2"/><circle cx="282" cy="755.1" r="5.2"/><circle cx="268.2" cy="762.6" r="5.2"/><circle cx="313" cy="750.2" r="5.2"/><circle cx="384.2" cy="727.8" r="5.2"/><circle cx="325.9" cy="751.4" r="5.2"/><circle cx="388.6" cy="731.9" r="5.2"/><circle cx="394.8" cy="724.1" r="5.2"/><circle cx="383.8" cy="734.1" r="5.2"/><circle cx="336.3" cy="744.6" r="5.2"/><circle cx="372.5" cy="730.8" r="5.2"/><circle cx="355.6" cy="738.1" r="5.2"/><circle cx="281" cy="755.7" r="5.2"/><circle cx="342.1" cy="742.5" r="5.2"/><circle cx="325" cy="754" r="5.2"/><circle cx="284.5" cy="749.2" r="5.2"/><circle cx="296.9" cy="750.8" r="5.2"/><circle cx="277.1" cy="761.3" r="5.2"/><circle cx="347" cy="743.8" r="5.2"/><circle cx="394.7" cy="728.5" r="5.2"/><circle cx="330.5" cy="744.3" r="5.2"/><circle cx="259.5" cy="761.2" r="5.2"/><circle cx="398.6" cy="732.6" r="5.2"/><circle cx="306.8" cy="750.8" r="5.2"/><circle cx="363" cy="737.3" r="5.2"/><circle cx="277.6" cy="756.5" r="5.2"/><circle cx="308" cy="752.7" r="5.2"/><circle cx="306" cy="751.7" r="5.2"/><circle cx="354.6" cy="740.6" r="5.2"/><circle cx="276.7" cy="757" r="5.2"/><circle cx="264.4" cy="752.1" r="5.2"/><circle cx="366.8" cy="732.7" r="5.2"/><circle cx="252.7" cy="762.7" r="5.2"/><circle cx="353" cy="736.3" r="5.2"/><circle cx="377.2" cy="730.6" r="5.2"/><circle cx="249.3" cy="758.7" r="5.2"/><circle cx="271.9" cy="752.2" r="5.2"/><circle cx="253.9" cy="764.2" r="5.2"/><circle cx="365.7" cy="737.9" r="5.2"/><circle cx="307.5" cy="749.5" r="5.2"/><circle cx="367.4" cy="737.5" r="5.2"/><circle cx="311" cy="753" r="5.2"/><circle cx="351.8" cy="736.8" r="5.2"/><circle cx="326.2" cy="745.4" r="5.2"/><circle cx="260" cy="764.3" r="5.2"/><circle cx="260.5" cy="760.5" r="5.2"/><circle cx="364.6" cy="734" r="5.2"/><circle cx="381.8" cy="739" r="5.2"/><circle cx="390" cy="732.8" r="5.2"/><circle cx="365.6" cy="733.9" r="5.2"/><circle cx="388.9" cy="726.1" r="5.2"/><circle cx="336.5" cy="740.2" r="5.2"/><circle cx="274.3" cy="759.6" r="5.2"/><circle cx="392.7" cy="730.7" r="5.2"/><circle cx="341" cy="739.2" r="5.2"/><circle cx="273.3" cy="754.7" r="5.2"/><circle cx="382.1" cy="728.2" r="5.2"/><circle cx="316.7" cy="754.1" r="5.2"/><circle cx="285" cy="757.7" r="5.2"/><circle cx="334.5" cy="753.2" r="5.2"/><circle cx="347" cy="739.4" r="5.2"/><circle cx="263.8" cy="757.7" r="5.2"/><circle cx="330.1" cy="738.4" r="5.2"/><circle cx="366.5" cy="735" r="5.2"/><circle cx="287.2" cy="755.5" r="5.2"/><circle cx="263.3" cy="759.9" r="5.2"/><circle cx="329.5" cy="743.5" r="5.2"/><circle cx="399" cy="725.4" r="5.2"/><circle cx="343.8" cy="747" r="5.2"/><circle cx="324" cy="750.9" r="5.2"/><circle cx="391.1" cy="730.4" r="5.2"/><circle cx="320.8" cy="753.3" r="5.2"/><circle cx="351.2" cy="738.3" r="5.2"/><circle cx="251.3" cy="760.6" r="5.2"/><circle cx="381.1" cy="726.5" r="5.2"/><circle cx="349.4" cy="738.7" r="5.2"/><circle cx="255.9" cy="761.3" r="5.2"/><circle cx="289.5" cy="749" r="5.2"/><circle cx="353.3" cy="738.1" r="5.2"/><circle cx="358.2" cy="739.6" r="5.2"/><circle cx="376" cy="741.5" r="5.2"/><circle cx="317.9" cy="742.8" r="5.2"/><circle cx="358.8" cy="736.8" r="5.2"/><circle cx="261.9" cy="767.3" r="5.2"/><circle cx="292.4" cy="751.5" r="5.2"/><circle cx="339.8" cy="742" r="5.2"/><circle cx="254.2" cy="756.9" r="5.2"/><circle cx="269.7" cy="759.3" r="5.2"/><circle cx="361.4" cy="739" r="5.2"/><circle cx="312.7" cy="745" r="5.2"/><circle cx="299.9" cy="752.9" r="5.2"/><circle cx="325.3" cy="748.5" r="5.2"/><circle cx="330.9" cy="745.7" r="5.2"/><circle cx="359.1" cy="739" r="5.2"/><circle cx="338" cy="744.6" r="5.2"/><circle cx="265.6" cy="759.7" r="5.2"/><circle cx="396.5" cy="729.6" r="5.2"/><circle cx="338.6" cy="745.9" r="5.2"/><circle cx="348.3" cy="736.4" r="5.2"/><circle cx="370.2" cy="737" r="5.2"/><circle cx="289.2" cy="755.1" r="5.2"/><circle cx="336.8" cy="743.1" r="5.2"/><circle cx="359.3" cy="740.3" r="5.2"/><circle cx="326.8" cy="741.3" r="5.2"/><circle cx="256.7" cy="764.2" r="5.2"/><circle cx="293.2" cy="748.9" r="5.2"/><circle cx="313.3" cy="754.1" r="5.2"/><circle cx="307.4" cy="748.2" r="5.2"/><circle cx="370.3" cy="729.7" r="5.2"/><circle cx="250.8" cy="761.7" r="5.2"/><circle cx="309.3" cy="754.8" r="5.2"/><circle cx="343.6" cy="737.5" r="5.2"/><circle cx="367.5" cy="735.7" r="5.2"/><circle cx="371.2" cy="740.2" r="5.2"/><circle cx="398.9" cy="757" r="5.2"/><circle cx="399.6" cy="757.8" r="5.2"/><circle cx="401.2" cy="723.1" r="5.2"/><circle cx="437.7" cy="725.9" r="5.2"/><circle cx="416.4" cy="747.8" r="5.2"/><circle cx="420.5" cy="735.3" r="5.2"/><circle cx="412.8" cy="759.1" r="5.2"/><circle cx="398.4" cy="731.4" r="5.2"/><circle cx="433.2" cy="737.2" r="5.2"/><circle cx="436.3" cy="757.6" r="5.2"/><circle cx="437.7" cy="724" r="5.2"/><circle cx="419.6" cy="734.6" r="5.2"/><circle cx="408.2" cy="715.9" r="5.2"/><circle cx="397.2" cy="758.6" r="5.2"/><circle cx="437.3" cy="747" r="5.2"/><circle cx="425.9" cy="731.8" r="5.2"/><circle cx="399.1" cy="763.2" r="5.2"/><circle cx="434.9" cy="720.6" r="5.2"/><circle cx="426.9" cy="725.7" r="5.2"/><circle cx="400.3" cy="730.5" r="5.2"/><circle cx="429.5" cy="747.7" r="5.2"/><circle cx="428.7" cy="758.5" r="5.2"/><circle cx="443.6" cy="742.5" r="5.2"/><circle cx="441.6" cy="733.5" r="5.2"/><circle cx="419.6" cy="745.5" r="5.2"/><circle cx="415.6" cy="721.3" r="5.2"/><circle cx="399.1" cy="758.7" r="5.2"/><circle cx="405.3" cy="749.9" r="5.2"/><circle cx="413.7" cy="746.2" r="5.2"/><circle cx="429.9" cy="743.8" r="5.2"/><circle cx="444" cy="751.9" r="5.2"/><circle cx="427.4" cy="720.1" r="5.2"/><circle cx="414.2" cy="755.7" r="5.2"/><circle cx="423.8" cy="754.5" r="5.2"/><circle cx="407.9" cy="749.1" r="5.2"/><circle cx="404.8" cy="728.4" r="5.2"/><circle cx="419.6" cy="730.2" r="5.2"/><circle cx="402.6" cy="735.5" r="5.2"/><circle cx="411" cy="751.2" r="5.2"/><circle cx="432.8" cy="744.3" r="5.2"/><circle cx="419.1" cy="760.5" r="5.2"/><circle cx="418.8" cy="715.8" r="5.2"/><circle cx="430.9" cy="731.8" r="5.2"/><circle cx="436.4" cy="754.2" r="5.2"/><circle cx="428.5" cy="744.1" r="5.2"/><circle cx="406.6" cy="745.7" r="5.2"/><circle cx="398.5" cy="762.1" r="5.2"/><circle cx="404.1" cy="714.4" r="5.2"/><circle cx="404.7" cy="763.2" r="5.2"/><circle cx="431.5" cy="727.3" r="5.2"/><circle cx="439" cy="756.8" r="5.2"/><circle cx="409.3" cy="748.6" r="5.2"/><circle cx="397.2" cy="754.4" r="5.2"/><circle cx="424.9" cy="751.5" r="5.2"/><circle cx="413" cy="715.6" r="5.2"/><circle cx="421.3" cy="737.6" r="5.2"/><circle cx="401" cy="747.3" r="5.2"/><circle cx="400.6" cy="749.5" r="5.2"/><circle cx="433" cy="756.5" r="5.2"/><circle cx="417.8" cy="748.6" r="5.2"/><circle cx="439.3" cy="732.5" r="5.2"/><circle cx="418" cy="747.4" r="5.2"/><circle cx="399.3" cy="740.5" r="5.2"/><circle cx="430.8" cy="750.4" r="5.2"/><circle cx="437.1" cy="762.2" r="5.2"/><circle cx="413.7" cy="714.1" r="5.2"/><circle cx="410.6" cy="759.9" r="5.2"/><circle cx="438.9" cy="750.8" r="5.2"/><circle cx="395.1" cy="730.5" r="5.2"/><circle cx="419" cy="735.6" r="5.2"/><circle cx="439.8" cy="722.1" r="5.2"/><circle cx="423.5" cy="726.6" r="5.2"/><circle cx="435.5" cy="763.2" r="5.2"/><circle cx="432.5" cy="720.8" r="5.2"/><circle cx="407.1" cy="734.9" r="5.2"/><circle cx="396.4" cy="762.8" r="5.2"/><circle cx="430" cy="753.9" r="5.2"/><circle cx="422.9" cy="730.6" r="5.2"/><circle cx="426.5" cy="746.1" r="5.2"/><circle cx="412.2" cy="744.9" r="5.2"/><circle cx="416.9" cy="718.9" r="5.2"/><circle cx="423.4" cy="719.5" r="5.2"/><circle cx="433.6" cy="741.9" r="5.2"/><circle cx="410.3" cy="740.2" r="5.2"/><circle cx="429.3" cy="745.8" r="5.2"/><circle cx="412.3" cy="762.2" r="5.2"/><circle cx="433.9" cy="724" r="5.2"/><circle cx="415.3" cy="753" r="5.2"/><circle cx="403" cy="741.9" r="5.2"/><circle cx="408.9" cy="739.8" r="5.2"/><circle cx="399.5" cy="735.2" r="5.2"/><circle cx="436.9" cy="736.3" r="5.2"/><circle cx="435.9" cy="750.6" r="5.2"/><circle cx="417.3" cy="725.9" r="5.2"/><circle cx="399.2" cy="753.5" r="5.2"/><circle cx="434.8" cy="760.4" r="5.2"/><circle cx="427.4" cy="721.3" r="5.2"/><circle cx="444.4" cy="760.3" r="5.2"/><circle cx="433.3" cy="753.5" r="5.2"/><circle cx="441" cy="763.7" r="5.2"/><circle cx="408.5" cy="744.9" r="5.2"/><circle cx="418.1" cy="723.5" r="5.2"/><circle cx="428.8" cy="749.2" r="5.2"/><circle cx="425.5" cy="713" r="5.2"/><circle cx="397.1" cy="743.6" r="5.2"/><circle cx="415.7" cy="759.2" r="5.2"/><circle cx="418.1" cy="746.4" r="5.2"/><circle cx="423.3" cy="723.6" r="5.2"/><circle cx="404.4" cy="750.6" r="5.2"/><circle cx="440.2" cy="757.1" r="5.2"/><circle cx="422.3" cy="717.2" r="5.2"/><circle cx="406.8" cy="722" r="5.2"/><circle cx="418.5" cy="717.2" r="5.2"/><circle cx="413.7" cy="721.8" r="5.2"/><circle cx="441.9" cy="754.5" r="5.2"/><circle cx="409.9" cy="762.9" r="5.2"/><circle cx="437.6" cy="727" r="5.2"/><circle cx="406.1" cy="732.2" r="5.2"/><circle cx="410.3" cy="724.1" r="5.2"/><circle cx="430.1" cy="752" r="5.2"/><circle cx="425.7" cy="730.8" r="5.2"/><circle cx="431.6" cy="745.3" r="5.2"/><circle cx="438.6" cy="744.1" r="5.2"/><circle cx="399.3" cy="736.6" r="5.2"/><circle cx="440.8" cy="752.3" r="5.2"/><circle cx="442.1" cy="759.3" r="5.2"/><circle cx="417.4" cy="743" r="5.2"/><circle cx="436.8" cy="751.1" r="5.2"/><circle cx="409.8" cy="727.3" r="5.2"/><circle cx="407.1" cy="736.8" r="5.2"/><circle cx="404.4" cy="760.2" r="5.2"/><circle cx="436.2" cy="752.6" r="5.2"/><circle cx="429.5" cy="738" r="5.2"/><circle cx="420" cy="737.3" r="5.2"/><circle cx="409.8" cy="711.6" r="5.2"/><circle cx="408.7" cy="734.7" r="5.2"/><circle cx="409.3" cy="722.5" r="5.2"/><circle cx="435.1" cy="743.3" r="5.2"/><circle cx="405.4" cy="765.7" r="5.2"/><circle cx="402.4" cy="752.3" r="5.2"/><circle cx="415" cy="736.8" r="5.2"/><circle cx="435.4" cy="753.7" r="5.2"/><circle cx="401.9" cy="715.9" r="5.2"/><circle cx="426" cy="719.8" r="5.2"/><circle cx="424.8" cy="743.1" r="5.2"/><circle cx="430.7" cy="737.9" r="5.2"/><circle cx="419.6" cy="736.3" r="5.2"/><circle cx="402.7" cy="718" r="5.2"/><circle cx="435.6" cy="740.4" r="5.2"/><circle cx="405.9" cy="739.8" r="5.2"/><circle cx="425.1" cy="780.3" r="5.2"/><circle cx="438.7" cy="807.9" r="5.2"/><circle cx="431.3" cy="796.4" r="5.2"/><circle cx="430.2" cy="787.7" r="5.2"/><circle cx="435.6" cy="787.9" r="5.2"/><circle cx="434.6" cy="775" r="5.2"/><circle cx="434.7" cy="795.6" r="5.2"/><circle cx="437.7" cy="803.7" r="5.2"/><circle cx="430.7" cy="777.1" r="5.2"/><circle cx="436" cy="804.4" r="5.2"/><circle cx="428.4" cy="791.1" r="5.2"/><circle cx="434.4" cy="807.5" r="5.2"/><circle cx="435.9" cy="791.3" r="5.2"/><circle cx="431.9" cy="775.9" r="5.2"/><circle cx="441.9" cy="802.6" r="5.2"/><circle cx="437.6" cy="811.7" r="5.2"/><circle cx="426" cy="776.8" r="5.2"/><circle cx="442.9" cy="794.2" r="5.2"/><circle cx="421.4" cy="766.5" r="5.2"/><circle cx="427.8" cy="782.5" r="5.2"/><circle cx="422.3" cy="782.7" r="5.2"/><circle cx="418.1" cy="772.8" r="5.2"/><circle cx="435.7" cy="776.8" r="5.2"/><circle cx="422.6" cy="793.9" r="5.2"/><circle cx="427.8" cy="792.2" r="5.2"/><circle cx="436.4" cy="797.3" r="5.2"/><circle cx="438.6" cy="796.2" r="5.2"/><circle cx="436.8" cy="802.5" r="5.2"/><circle cx="431.9" cy="801.5" r="5.2"/><circle cx="433.4" cy="796.3" r="5.2"/><circle cx="427.5" cy="778.2" r="5.2"/><circle cx="428.8" cy="768" r="5.2"/><circle cx="436.9" cy="802.8" r="5.2"/><circle cx="425.7" cy="763.5" r="5.2"/><circle cx="424.7" cy="785.8" r="5.2"/><circle cx="426.9" cy="763.3" r="5.2"/><circle cx="433.3" cy="788.5" r="5.2"/><circle cx="430.6" cy="787" r="5.2"/><circle cx="430.4" cy="809.6" r="5.2"/><circle cx="434" cy="787.6" r="5.2"/><circle cx="445.4" cy="813.1" r="5.2"/><circle cx="425.6" cy="796.2" r="5.2"/><circle cx="434.3" cy="796.3" r="5.2"/><circle cx="431.3" cy="800.6" r="5.2"/><circle cx="433.4" cy="802.1" r="5.2"/><circle cx="432" cy="795.6" r="5.2"/><circle cx="433.7" cy="766.5" r="5.2"/><circle cx="438.2" cy="803" r="5.2"/><circle cx="433.7" cy="798.6" r="5.2"/><circle cx="423.8" cy="775.7" r="5.2"/><circle cx="428" cy="791.3" r="5.2"/><circle cx="428.1" cy="794" r="5.2"/><circle cx="430.4" cy="781.6" r="5.2"/><circle cx="438.6" cy="806.4" r="5.2"/><circle cx="442.9" cy="799.4" r="5.2"/><circle cx="437.8" cy="799.5" r="5.2"/><circle cx="423.6" cy="775.8" r="5.2"/><circle cx="428.2" cy="780.6" r="5.2"/><circle cx="431.4" cy="762.4" r="5.2"/><circle cx="431.5" cy="790.6" r="5.2"/><circle cx="430.6" cy="786.8" r="5.2"/><circle cx="432.1" cy="793.6" r="5.2"/><circle cx="424.6" cy="770.2" r="5.2"/><circle cx="440.2" cy="806.4" r="5.2"/><circle cx="429.8" cy="773.9" r="5.2"/><circle cx="417.3" cy="783.8" r="5.2"/><circle cx="433.5" cy="764.4" r="5.2"/><circle cx="421.6" cy="768.7" r="5.2"/><circle cx="425.7" cy="755.9" r="5.2"/><circle cx="422.9" cy="772.7" r="5.2"/><circle cx="436.6" cy="792.8" r="5.2"/><circle cx="431.5" cy="793.7" r="5.2"/><circle cx="433.5" cy="809.1" r="5.2"/><circle cx="436.8" cy="810.9" r="5.2"/><circle cx="422.2" cy="773.6" r="5.2"/><circle cx="444.9" cy="792.8" r="5.2"/><circle cx="438.4" cy="775.7" r="5.2"/><circle cx="448.1" cy="785.2" r="5.2"/><circle cx="448.5" cy="795.1" r="5.2"/><circle cx="448.6" cy="791.3" r="5.2"/><circle cx="446.7" cy="783.4" r="5.2"/><circle cx="446.9" cy="785.2" r="5.2"/><circle cx="439" cy="764.5" r="5.2"/><circle cx="449.5" cy="791.4" r="5.2"/><circle cx="446.6" cy="792.6" r="5.2"/><circle cx="448.3" cy="791.5" r="5.2"/><circle cx="449.4" cy="794.4" r="5.2"/><circle cx="441.6" cy="792" r="5.2"/><circle cx="446.5" cy="794.8" r="5.2"/><circle cx="445.5" cy="792.2" r="5.2"/><circle cx="444.5" cy="767.1" r="5.2"/><circle cx="438" cy="772.5" r="5.2"/><circle cx="443.1" cy="780" r="5.2"/><circle cx="447.5" cy="783.2" r="5.2"/><circle cx="447.8" cy="777.7" r="5.2"/><circle cx="447.5" cy="780.7" r="5.2"/><circle cx="440.1" cy="769.8" r="5.2"/><circle cx="452.6" cy="791.6" r="5.2"/><circle cx="438" cy="770.6" r="5.2"/><circle cx="445.8" cy="796.9" r="5.2"/><circle cx="440.4" cy="797.1" r="5.2"/><circle cx="442.3" cy="776.2" r="5.2"/><circle cx="450" cy="787.2" r="5.2"/><circle cx="438.3" cy="772.7" r="5.2"/><circle cx="442.7" cy="775.9" r="5.2"/><circle cx="473.8" cy="888.1" r="5.2"/><circle cx="476.4" cy="876.8" r="5.2"/><circle cx="437.1" cy="834.6" r="5.2"/><circle cx="450.2" cy="825.7" r="5.2"/><circle cx="468.1" cy="842.7" r="5.2"/><circle cx="455.8" cy="834.2" r="5.2"/><circle cx="442.1" cy="815.3" r="5.2"/><circle cx="434.8" cy="808.9" r="5.2"/><circle cx="456.6" cy="858.5" r="5.2"/><circle cx="485.1" cy="882" r="5.2"/><circle cx="458.6" cy="833.4" r="5.2"/><circle cx="468.5" cy="849.6" r="5.2"/><circle cx="461.7" cy="813.7" r="5.2"/><circle cx="455.1" cy="851.1" r="5.2"/><circle cx="454.1" cy="843.3" r="5.2"/><circle cx="477.3" cy="877.2" r="5.2"/><circle cx="442.6" cy="824.9" r="5.2"/><circle cx="461.3" cy="804.2" r="5.2"/><circle cx="462.1" cy="873.6" r="5.2"/><circle cx="474.9" cy="828.5" r="5.2"/><circle cx="452" cy="849.6" r="5.2"/><circle cx="436.6" cy="840.4" r="5.2"/><circle cx="475.9" cy="823.8" r="5.2"/><circle cx="434.5" cy="832" r="5.2"/><circle cx="446.4" cy="874.8" r="5.2"/><circle cx="464.9" cy="847.3" r="5.2"/><circle cx="471.8" cy="829" r="5.2"/><circle cx="464.6" cy="824.6" r="5.2"/><circle cx="471.2" cy="852.1" r="5.2"/><circle cx="453.8" cy="886.4" r="5.2"/><circle cx="477.6" cy="811.4" r="5.2"/><circle cx="468.8" cy="813.6" r="5.2"/><circle cx="442.8" cy="811.7" r="5.2"/><circle cx="472.9" cy="833.9" r="5.2"/><circle cx="464" cy="865.7" r="5.2"/><circle cx="432.1" cy="819.7" r="5.2"/><circle cx="454.5" cy="875.9" r="5.2"/><circle cx="483.1" cy="847.6" r="5.2"/><circle cx="477.2" cy="854.1" r="5.2"/><circle cx="431" cy="810.4" r="5.2"/><circle cx="446.3" cy="838.4" r="5.2"/><circle cx="468.4" cy="859.4" r="5.2"/><circle cx="452.4" cy="885" r="5.2"/><circle cx="442.5" cy="806.4" r="5.2"/><circle cx="436.2" cy="838.9" r="5.2"/><circle cx="470.5" cy="822.6" r="5.2"/><circle cx="481.9" cy="876.3" r="5.2"/><circle cx="474" cy="881.4" r="5.2"/><circle cx="465.9" cy="840.3" r="5.2"/><circle cx="458.4" cy="853.8" r="5.2"/><circle cx="465.2" cy="852.5" r="5.2"/><circle cx="461.3" cy="817.6" r="5.2"/><circle cx="454.6" cy="877.6" r="5.2"/><circle cx="481.2" cy="840.6" r="5.2"/><circle cx="474.7" cy="859.2" r="5.2"/><circle cx="466.9" cy="865.9" r="5.2"/><circle cx="461.2" cy="834.9" r="5.2"/><circle cx="465.5" cy="815" r="5.2"/><circle cx="435.5" cy="822.6" r="5.2"/><circle cx="431.4" cy="828.6" r="5.2"/><circle cx="428.1" cy="804.4" r="5.2"/><circle cx="446.3" cy="857.8" r="5.2"/><circle cx="446.6" cy="808.4" r="5.2"/><circle cx="479.3" cy="866.9" r="5.2"/><circle cx="436.2" cy="805.3" r="5.2"/><circle cx="465.6" cy="886.7" r="5.2"/><circle cx="468.1" cy="827.9" r="5.2"/><circle cx="458.3" cy="844.5" r="5.2"/><circle cx="469.4" cy="878.6" r="5.2"/><circle cx="477.7" cy="883.8" r="5.2"/><circle cx="450.5" cy="810.4" r="5.2"/><circle cx="472.4" cy="836.8" r="5.2"/><circle cx="480.3" cy="872.3" r="5.2"/><circle cx="431.6" cy="826.1" r="5.2"/><circle cx="463.3" cy="821.2" r="5.2"/><circle cx="481.7" cy="854" r="5.2"/><circle cx="457.6" cy="865.1" r="5.2"/><circle cx="467.2" cy="887.7" r="5.2"/><circle cx="473.1" cy="839.6" r="5.2"/><circle cx="444.5" cy="813.1" r="5.2"/><circle cx="447.9" cy="829.2" r="5.2"/><circle cx="473.1" cy="871.5" r="5.2"/><circle cx="475.8" cy="869.2" r="5.2"/><circle cx="457" cy="839.3" r="5.2"/><circle cx="460.9" cy="875.4" r="5.2"/><circle cx="483.3" cy="829.4" r="5.2"/><circle cx="476.1" cy="884.1" r="5.2"/><circle cx="461.8" cy="854.1" r="5.2"/><circle cx="469.6" cy="835.3" r="5.2"/><circle cx="472.1" cy="810.2" r="5.2"/><circle cx="457.5" cy="856.5" r="5.2"/><circle cx="462.1" cy="849.7" r="5.2"/><circle cx="440.7" cy="826.6" r="5.2"/><circle cx="453" cy="868.6" r="5.2"/><circle cx="466.7" cy="832.3" r="5.2"/><circle cx="458" cy="821.8" r="5.2"/><circle cx="460.4" cy="873.1" r="5.2"/><circle cx="453" cy="883.5" r="5.2"/><circle cx="472" cy="858" r="5.2"/><circle cx="431.1" cy="813.8" r="5.2"/><circle cx="450.6" cy="845.2" r="5.2"/><circle cx="453.8" cy="842.1" r="5.2"/><circle cx="442.6" cy="835.8" r="5.2"/><circle cx="444.4" cy="807.8" r="5.2"/><circle cx="450.9" cy="843.6" r="5.2"/><circle cx="474.6" cy="887.1" r="5.2"/><circle cx="464.5" cy="858.1" r="5.2"/><circle cx="471.6" cy="807.4" r="5.2"/><circle cx="459.9" cy="821.5" r="5.2"/><circle cx="481.9" cy="836.7" r="5.2"/><circle cx="449.2" cy="809" r="5.2"/><circle cx="450.7" cy="880" r="5.2"/><circle cx="465.8" cy="868.8" r="5.2"/><circle cx="433.3" cy="812.4" r="5.2"/><circle cx="452.7" cy="817.4" r="5.2"/><circle cx="441.4" cy="828.3" r="5.2"/><circle cx="470.9" cy="814.7" r="5.2"/><circle cx="452.2" cy="865.2" r="5.2"/><circle cx="455.8" cy="849.6" r="5.2"/><circle cx="482.5" cy="835.3" r="5.2"/><circle cx="479.7" cy="865.3" r="5.2"/><circle cx="440" cy="817.9" r="5.2"/><circle cx="448.9" cy="806.1" r="5.2"/><circle cx="444.9" cy="851.5" r="5.2"/><circle cx="463.1" cy="890" r="5.2"/><circle cx="445.9" cy="809.7" r="5.2"/><circle cx="477.9" cy="826.2" r="5.2"/><circle cx="467.9" cy="815.6" r="5.2"/><circle cx="440.6" cy="823.1" r="5.2"/><circle cx="449.7" cy="844.3" r="5.2"/><circle cx="442" cy="842.1" r="5.2"/><circle cx="451.4" cy="839.1" r="5.2"/><circle cx="462.6" cy="841.7" r="5.2"/><circle cx="481.3" cy="884.7" r="5.2"/><circle cx="464.2" cy="856.3" r="5.2"/><circle cx="439.8" cy="816.9" r="5.2"/><circle cx="474.6" cy="862.3" r="5.2"/><circle cx="472.9" cy="857.5" r="5.2"/><circle cx="456.5" cy="822" r="5.2"/><circle cx="465.4" cy="807.4" r="5.2"/><circle cx="466.6" cy="881.7" r="5.2"/><circle cx="471.7" cy="834.7" r="5.2"/><circle cx="475.1" cy="855.9" r="5.2"/><circle cx="437.5" cy="811.7" r="5.2"/><circle cx="478" cy="849.8" r="5.2"/><circle cx="481.8" cy="841.8" r="5.2"/><circle cx="451.3" cy="885.5" r="5.2"/><circle cx="456.5" cy="881" r="5.2"/><circle cx="480" cy="857.4" r="5.2"/><circle cx="464.3" cy="836" r="5.2"/><circle cx="447.9" cy="873.7" r="5.2"/><circle cx="455.4" cy="804.1" r="5.2"/><circle cx="438.8" cy="816" r="5.2"/><circle cx="472.3" cy="860" r="5.2"/><circle cx="468.1" cy="831.7" r="5.2"/><circle cx="470.4" cy="876.3" r="5.2"/><circle cx="458.4" cy="851.9" r="5.2"/><circle cx="467.3" cy="837.1" r="5.2"/><circle cx="449.1" cy="880.8" r="5.2"/><circle cx="444.3" cy="836.7" r="5.2"/><circle cx="483.4" cy="831.5" r="5.2"/><circle cx="465.7" cy="804.8" r="5.2"/><circle cx="457.1" cy="833.9" r="5.2"/><circle cx="460.3" cy="853.2" r="5.2"/><circle cx="469.5" cy="822.7" r="5.2"/><circle cx="473" cy="809.7" r="5.2"/><circle cx="470.2" cy="806.1" r="5.2"/><circle cx="450.5" cy="824.4" r="5.2"/><circle cx="462" cy="833.5" r="5.2"/><circle cx="460.9" cy="882.9" r="5.2"/><circle cx="478.5" cy="829.1" r="5.2"/><circle cx="461.3" cy="839.5" r="5.2"/><circle cx="464.2" cy="807.6" r="5.2"/><circle cx="455.8" cy="838.6" r="5.2"/><circle cx="447.9" cy="817.2" r="5.2"/><circle cx="461.3" cy="830.5" r="5.2"/><circle cx="463.3" cy="870" r="5.2"/><circle cx="428.9" cy="812.1" r="5.2"/><circle cx="446.1" cy="848.6" r="5.2"/><circle cx="435.1" cy="838.6" r="5.2"/><circle cx="478.4" cy="832.5" r="5.2"/><circle cx="464" cy="862.9" r="5.2"/><circle cx="446.2" cy="841.3" r="5.2"/><circle cx="449.4" cy="879.6" r="5.2"/><circle cx="483.2" cy="874.5" r="5.2"/><circle cx="466.6" cy="852.8" r="5.2"/><circle cx="465.5" cy="803.3" r="5.2"/><circle cx="476.5" cy="859.4" r="5.2"/><circle cx="445.8" cy="866.5" r="5.2"/><circle cx="459.7" cy="859.9" r="5.2"/><circle cx="470.3" cy="809.3" r="5.2"/><circle cx="457.3" cy="808.8" r="5.2"/><circle cx="483.3" cy="881" r="5.2"/><circle cx="450.1" cy="855.5" r="5.2"/><circle cx="462.1" cy="832.5" r="5.2"/><circle cx="440.2" cy="834.1" r="5.2"/><circle cx="450.3" cy="814.5" r="5.2"/><circle cx="463" cy="809.7" r="5.2"/><circle cx="469.5" cy="818.9" r="5.2"/><circle cx="440.2" cy="806.5" r="5.2"/></g>
<path d="M724 752.6V754M734.6 763.2V767.9M759.3 721.6V735.7M715.8 872.9V880M717 853.7V872.5M724 849V863.1M728.7 841.9V856M720 826.6V838.4M734.1 807.1V840M739.3 798.4V821.9M736.9 771.4V811.4M741.6 777.3V791.4M756.9 744.4V758.5M758.1 750.3V783.2M764 778.5V783.2M771 757.3V771.4M785.1 751.4V765.5M791 749.1V772.6M794.5 740.9V769.1M795.7 763.2V774.9M801.1 771.4V794.9M805.1 732.6V746.7M811 733.8V747.9M812.1 769.1V778.5M819.2 732.6V746.7M822.7 774.9V782M818 742V753.8M825.1 744.4V756.1M788.2 814.2V828.3M806.7 808.3V817.7M824.6 822.4V838.9M838 738.5V750.3M843.9 740.9V755M848.6 732.6V777.3M850.9 731.5V759.7M855.6 730.3V742M862.7 738.5V752.6M867.4 743.2V762M868.5 752.6V776.1M868.5 759.7V787.9M877.9 736.2V750.3M883.8 725.6V739.7M887.4 727.9V742M889.7 723.2V737.3M894.4 731.5V745.6M899.8 732.6V753.8M913.2 711.5V725.6M912 718.5V732.6M933.2 718.1V723.7M936.7 731.5V740.9M957.9 716.2V720.9M955.5 755.7V765.1M962.6 764.4V773.8M910.9 775.6V780.3M925 740.9V759.7M926.1 750.3V769.1M928.5 759.7V778.5M940.2 770.2V784.3M942.6 772.6V786.7M947.3 777.3V796.1M926.1 782V817.2M915.6 802.4V821.2M896.8 805.5V817.2M897.9 811.4V818.4M881.5 804.8V816.5M909.7 817.2V826.6M896.8 821.2V835.3M903.8 827.8V832.5M910.9 836V843.1M906.2 839.6V856M919.5 843.1V852.5M923.8 838.4V850.1M927.3 839.6V846.6M948.5 843.1V854.8M937.9 814.9V829M942.6 799.6V818.4M944.9 800.8V824.3M949.6 799.6V813.7M952 820.8V844.3M959 827.8V846.6M963.7 818.4V837.2M970.8 816.1V830.2M977.8 830.2V844.3M972 798.4V812.5M983.7 793.7V798.4M989.6 864.7V874.1M969.6 879.5V893.6M961.4 866.6V876M995.5 870.1V905.4M1038.9 852V868.5M1015.4 840.7V847.8M1019 844.3V853.7" stroke="#b0b3b6" stroke-width="1.5" fill="none"/><path d="M724 745.5l7.8 7.8l-7.8 7.8l-7.8 -7.8zM734.6 757.7l7.8 7.8l-7.8 7.8l-7.8 -7.8zM759.3 720.8l7.8 7.8l-7.8 7.8l-7.8 -7.8zM715.8 868.7l7.8 7.8l-7.8 7.8l-7.8 -7.8zM717 855.3l7.8 7.8l-7.8 7.8l-7.8 -7.8zM724 848.2l7.8 7.8l-7.8 7.8l-7.8 -7.8zM728.7 841.2l7.8 7.8l-7.8 7.8l-7.8 -7.8zM720 824.7l7.8 7.8l-7.8 7.8l-7.8 -7.8zM734.1 815.8l7.8 7.8l-7.8 7.8l-7.8 -7.8zM739.3 802.4l7.8 7.8l-7.8 7.8l-7.8 -7.8zM736.9 783.6l7.8 7.8l-7.8 7.8l-7.8 -7.8zM741.6 776.5l7.8 7.8l-7.8 7.8l-7.8 -7.8zM756.9 743.6l7.8 7.8l-7.8 7.8l-7.8 -7.8zM758.1 758.9l7.8 7.8l-7.8 7.8l-7.8 -7.8zM764 773l7.8 7.8l-7.8 7.8l-7.8 -7.8zM771 756.6l7.8 7.8l-7.8 7.8l-7.8 -7.8zM785.1 750.7l7.8 7.8l-7.8 7.8l-7.8 -7.8zM791 753l7.8 7.8l-7.8 7.8l-7.8 -7.8zM794.5 747.2l7.8 7.8l-7.8 7.8l-7.8 -7.8zM795.7 761.3l7.8 7.8l-7.8 7.8l-7.8 -7.8zM801.1 775.4l7.8 7.8l-7.8 7.8l-7.8 -7.8zM805.1 731.9l7.8 7.8l-7.8 7.8l-7.8 -7.8zM811 733.1l7.8 7.8l-7.8 7.8l-7.8 -7.8zM812.1 766l7.8 7.8l-7.8 7.8l-7.8 -7.8zM819.2 731.9l7.8 7.8l-7.8 7.8l-7.8 -7.8zM822.7 770.7l7.8 7.8l-7.8 7.8l-7.8 -7.8zM818 740.1l7.8 7.8l-7.8 7.8l-7.8 -7.8zM825.1 742.5l7.8 7.8l-7.8 7.8l-7.8 -7.8zM788.2 813.4l7.8 7.8l-7.8 7.8l-7.8 -7.8zM806.7 805.2l7.8 7.8l-7.8 7.8l-7.8 -7.8zM824.6 822.8l7.8 7.8l-7.8 7.8l-7.8 -7.8zM838 736.6l7.8 7.8l-7.8 7.8l-7.8 -7.8zM843.9 740.1l7.8 7.8l-7.8 7.8l-7.8 -7.8zM848.6 747.2l7.8 7.8l-7.8 7.8l-7.8 -7.8zM850.9 737.8l7.8 7.8l-7.8 7.8l-7.8 -7.8zM855.6 728.4l7.8 7.8l-7.8 7.8l-7.8 -7.8zM862.7 737.8l7.8 7.8l-7.8 7.8l-7.8 -7.8zM867.4 744.8l7.8 7.8l-7.8 7.8l-7.8 -7.8zM868.5 756.6l7.8 7.8l-7.8 7.8l-7.8 -7.8zM868.5 766l7.8 7.8l-7.8 7.8l-7.8 -7.8zM877.9 735.4l7.8 7.8l-7.8 7.8l-7.8 -7.8zM883.8 724.8l7.8 7.8l-7.8 7.8l-7.8 -7.8zM887.4 727.2l7.8 7.8l-7.8 7.8l-7.8 -7.8zM889.7 722.5l7.8 7.8l-7.8 7.8l-7.8 -7.8zM894.4 730.7l7.8 7.8l-7.8 7.8l-7.8 -7.8zM899.8 735.4l7.8 7.8l-7.8 7.8l-7.8 -7.8zM913.2 710.7l7.8 7.8l-7.8 7.8l-7.8 -7.8zM912 717.8l7.8 7.8l-7.8 7.8l-7.8 -7.8zM933.2 713.1l7.8 7.8l-7.8 7.8l-7.8 -7.8zM936.7 728.4l7.8 7.8l-7.8 7.8l-7.8 -7.8zM957.9 710.7l7.8 7.8l-7.8 7.8l-7.8 -7.8zM955.5 752.6l7.8 7.8l-7.8 7.8l-7.8 -7.8zM962.6 761.3l7.8 7.8l-7.8 7.8l-7.8 -7.8zM910.9 770.2l7.8 7.8l-7.8 7.8l-7.8 -7.8zM902.6 774.7l7.8 7.8l-7.8 7.8l-7.8 -7.8zM925 742.5l7.8 7.8l-7.8 7.8l-7.8 -7.8zM926.1 751.9l7.8 7.8l-7.8 7.8l-7.8 -7.8zM928.5 761.3l7.8 7.8l-7.8 7.8l-7.8 -7.8zM940.2 769.5l7.8 7.8l-7.8 7.8l-7.8 -7.8zM942.6 771.8l7.8 7.8l-7.8 7.8l-7.8 -7.8zM947.3 778.9l7.8 7.8l-7.8 7.8l-7.8 -7.8zM926.1 791.8l7.8 7.8l-7.8 7.8l-7.8 -7.8zM915.6 804l7.8 7.8l-7.8 7.8l-7.8 -7.8zM896.8 803.6l7.8 7.8l-7.8 7.8l-7.8 -7.8zM897.9 807.1l7.8 7.8l-7.8 7.8l-7.8 -7.8zM881.5 802.9l7.8 7.8l-7.8 7.8l-7.8 -7.8zM909.7 814.1l7.8 7.8l-7.8 7.8l-7.8 -7.8zM896.8 820.5l7.8 7.8l-7.8 7.8l-7.8 -7.8zM903.8 822.4l7.8 7.8l-7.8 7.8l-7.8 -7.8zM910.9 831.8l7.8 7.8l-7.8 7.8l-7.8 -7.8zM906.2 840l7.8 7.8l-7.8 7.8l-7.8 -7.8zM919.5 840l7.8 7.8l-7.8 7.8l-7.8 -7.8zM923.8 836.5l7.8 7.8l-7.8 7.8l-7.8 -7.8zM927.3 835.3l7.8 7.8l-7.8 7.8l-7.8 -7.8zM948.5 841.2l7.8 7.8l-7.8 7.8l-7.8 -7.8zM937.9 814.1l7.8 7.8l-7.8 7.8l-7.8 -7.8zM942.6 801.2l7.8 7.8l-7.8 7.8l-7.8 -7.8zM944.9 804.7l7.8 7.8l-7.8 7.8l-7.8 -7.8zM949.6 798.9l7.8 7.8l-7.8 7.8l-7.8 -7.8zM952 824.7l7.8 7.8l-7.8 7.8l-7.8 -7.8zM959 829.4l7.8 7.8l-7.8 7.8l-7.8 -7.8zM963.7 820l7.8 7.8l-7.8 7.8l-7.8 -7.8zM970.8 815.3l7.8 7.8l-7.8 7.8l-7.8 -7.8zM977.8 829.4l7.8 7.8l-7.8 7.8l-7.8 -7.8zM972 797.7l7.8 7.8l-7.8 7.8l-7.8 -7.8zM983.7 788.3l7.8 7.8l-7.8 7.8l-7.8 -7.8zM989.6 861.6l7.8 7.8l-7.8 7.8l-7.8 -7.8zM969.6 878.8l7.8 7.8l-7.8 7.8l-7.8 -7.8zM961.4 863.5l7.8 7.8l-7.8 7.8l-7.8 -7.8zM995.5 879.9l7.8 7.8l-7.8 7.8l-7.8 -7.8zM1038.9 852.4l7.8 7.8l-7.8 7.8l-7.8 -7.8zM1015.4 836.5l7.8 7.8l-7.8 7.8l-7.8 -7.8zM1019 841.2l7.8 7.8l-7.8 7.8l-7.8 -7.8z" stroke="#a3a6aa" stroke-width="1.1" fill="none"/><path d="M730.6 834.9V853.7M774.5 866V872.4M738.6 774.9V782M740.9 779.3V785.7M745.6 766.2V773.3M746.8 761.3V768.4M750.3 754.6V761M754.6 756.1V763.2M758.1 747.2V780.1M759.3 752.6V771.4M765.8 753.3V760.4M768.7 755V762M771 756.1V765.5M775 747.9V776.1M775.7 753.8V760.8M781.1 747.1V753.5M786.3 748.6V755.7M789.1 749.6V756.6M793.3 747.9V755M803.2 736.6V764.8M811 745.6V752.6M820.4 744.4V753.8M828.6 743.9V751M833.3 743.1V749.5M827.4 741.9V748.3M856.8 731.5V755M859.1 737.8V744.9M863.8 755.4V762.5M868.5 732.3V738.7M873.7 733.4V739.8M923.1 721.6V728.6M925.7 732.6V742M927.3 746V755.4M923.8 747.4V766.2M930.4 757.1V797M940.2 790.2V802M943.8 789V807.8M946.8 811.8V823.6M945.4 822.2V836.3M953.9 817.7V827.1M956 807.1V818.9M957.4 818.4V841.9M957.9 771V777.4M968.4 707.1V713.5M1039.6 707.8V714.2M968.4 786.5V805.3M984.9 793V814.2M968 806V838.9M967.3 825.5V839.6M974.8 824.8V848.3M972 837.9V861.4M959 848.3V857.7M965.6 848.3V862.4M958.6 857.4V866.8M965.6 864.7V874.1M972 869.4V878.8M974.3 868.9V876M973.1 864.7V897.6M982.5 871.5V890.3M997.8 867.1V874.1M998.5 832V839.1M1003.2 833.2V852M1022 834.9V846.6M1026.2 829V868.9M1005.6 872V900.2M1013.1 881.2V895.3M1023.2 872.7V898.6M1039.4 881.9V888.9" stroke="#333335" stroke-width="1.6" fill="none"/><g fill="#111113" fill-opacity="0.75" stroke="#fff" stroke-width="1"><circle cx="730.6" cy="844.3" r="5.2"/><circle cx="774.5" cy="869.2" r="5.2"/><circle cx="738.6" cy="778.5" r="5.2"/><circle cx="740.9" cy="782.5" r="5.2"/><circle cx="745.6" cy="769.8" r="5.2"/><circle cx="746.8" cy="764.8" r="5.2"/><circle cx="750.3" cy="757.8" r="5.2"/><circle cx="754.6" cy="759.7" r="5.2"/><circle cx="758.1" cy="763.7" r="5.2"/><circle cx="759.3" cy="762" r="5.2"/><circle cx="765.8" cy="756.8" r="5.2"/><circle cx="768.7" cy="758.5" r="5.2"/><circle cx="771" cy="760.8" r="5.2"/><circle cx="775" cy="762" r="5.2"/><circle cx="775.7" cy="757.3" r="5.2"/><circle cx="781.1" cy="750.3" r="5.2"/><circle cx="786.3" cy="752.1" r="5.2"/><circle cx="789.1" cy="753.1" r="5.2"/><circle cx="793.3" cy="751.4" r="5.2"/><circle cx="803.2" cy="750.7" r="5.2"/><circle cx="811" cy="749.1" r="5.2"/><circle cx="820.4" cy="749.1" r="5.2"/><circle cx="828.6" cy="747.4" r="5.2"/><circle cx="833.3" cy="746.3" r="5.2"/><circle cx="827.4" cy="745.1" r="5.2"/><circle cx="856.8" cy="743.2" r="5.2"/><circle cx="859.1" cy="741.3" r="5.2"/><circle cx="863.8" cy="759" r="5.2"/><circle cx="868.5" cy="735.5" r="5.2"/><circle cx="873.7" cy="736.6" r="5.2"/><circle cx="923.1" cy="725.1" r="5.2"/><circle cx="925.7" cy="737.3" r="5.2"/><circle cx="927.3" cy="750.7" r="5.2"/><circle cx="923.8" cy="756.8" r="5.2"/><circle cx="930.4" cy="777.1" r="5.2"/><circle cx="940.2" cy="796.1" r="5.2"/><circle cx="943.8" cy="798.4" r="5.2"/><circle cx="946.8" cy="817.7" r="5.2"/><circle cx="945.4" cy="829.2" r="5.2"/><circle cx="953.9" cy="822.4" r="5.2"/><circle cx="956" cy="813" r="5.2"/><circle cx="957.4" cy="830.2" r="5.2"/><circle cx="957.9" cy="774.2" r="5.2"/><circle cx="968.4" cy="710.3" r="5.2"/><circle cx="1039.6" cy="711" r="5.2"/><circle cx="968.4" cy="795.9" r="5.2"/><circle cx="984.9" cy="803.6" r="5.2"/><circle cx="968" cy="822.4" r="5.2"/><circle cx="967.3" cy="832.5" r="5.2"/><circle cx="974.8" cy="836.5" r="5.2"/><circle cx="972" cy="849.7" r="5.2"/><circle cx="959" cy="853" r="5.2"/><circle cx="965.6" cy="855.3" r="5.2"/><circle cx="958.6" cy="862.1" r="5.2"/><circle cx="965.6" cy="869.4" r="5.2"/><circle cx="972" cy="874.1" r="5.2"/><circle cx="974.3" cy="872.5" r="5.2"/><circle cx="973.1" cy="881.2" r="5.2"/><circle cx="982.5" cy="880.9" r="5.2"/><circle cx="997.8" cy="870.6" r="5.2"/><circle cx="998.5" cy="835.6" r="5.2"/><circle cx="1003.2" cy="842.6" r="5.2"/><circle cx="1022" cy="840.7" r="5.2"/><circle cx="1026.2" cy="849" r="5.2"/><circle cx="1005.6" cy="886.1" r="5.2"/><circle cx="1013.1" cy="888.2" r="5.2"/><circle cx="1023.2" cy="885.6" r="5.2"/><circle cx="1039.4" cy="885.4" r="5.2"/></g>
<path d="M1218 714.5V728.6M1275.1 719.5V720.9M1279.6 730.8V732.2M1215.2 765.5V779.6M1217.6 799.6V818.4M1311.1 798.4V810.2M1230.5 745.6V759.7M1229.3 755.7V765.1M1237.5 747.9V766.7M1243.4 749.1V763.2M1250.5 752.6V762M1262.2 744.4V758.5M1264.6 745.6V755M1264.6 787.9V809M1256.8 799.6V839.6M1251.6 804.3V823.1M1255.2 785.5V799.6M1252.8 779.6V789M1246.2 843.8V848.5M1237.5 850.6V860M1236.4 858.4V881.9M1236.4 867.8V881.9M1214 858.4V881.9M1215.2 867.8V886.6M1215.2 876V890.1M1218.7 867.8V881.9M1231.7 792.6V806.7" stroke="#b0b3b6" stroke-width="1.5" fill="none"/><path d="M1218 713.8l7.8 7.8l-7.8 7.8l-7.8 -7.8zM1218.3 723.7l7.8 7.8l-7.8 7.8l-7.8 -7.8zM1235.7 725.5l7.8 7.8l-7.8 7.8l-7.8 -7.8zM1275.1 712.4l7.8 7.8l-7.8 7.8l-7.8 -7.8zM1279.6 723.7l7.8 7.8l-7.8 7.8l-7.8 -7.8zM1215.2 764.8l7.8 7.8l-7.8 7.8l-7.8 -7.8zM1217.6 801.2l7.8 7.8l-7.8 7.8l-7.8 -7.8zM1311.1 796.5l7.8 7.8l-7.8 7.8l-7.8 -7.8zM1230.5 744.8l7.8 7.8l-7.8 7.8l-7.8 -7.8zM1229.3 752.6l7.8 7.8l-7.8 7.8l-7.8 -7.8zM1237.5 749.5l7.8 7.8l-7.8 7.8l-7.8 -7.8zM1243.4 748.3l7.8 7.8l-7.8 7.8l-7.8 -7.8zM1250.5 749.5l7.8 7.8l-7.8 7.8l-7.8 -7.8zM1262.2 743.6l7.8 7.8l-7.8 7.8l-7.8 -7.8zM1264.6 742.5l7.8 7.8l-7.8 7.8l-7.8 -7.8zM1264.6 790.6l7.8 7.8l-7.8 7.8l-7.8 -7.8zM1256.8 811.8l7.8 7.8l-7.8 7.8l-7.8 -7.8zM1251.6 805.9l7.8 7.8l-7.8 7.8l-7.8 -7.8zM1255.2 784.8l7.8 7.8l-7.8 7.8l-7.8 -7.8zM1252.8 776.5l7.8 7.8l-7.8 7.8l-7.8 -7.8zM1246.2 838.3l7.8 7.8l-7.8 7.8l-7.8 -7.8zM1237.5 847.5l7.8 7.8l-7.8 7.8l-7.8 -7.8zM1236.4 862.3l7.8 7.8l-7.8 7.8l-7.8 -7.8zM1236.4 867l7.8 7.8l-7.8 7.8l-7.8 -7.8zM1215.7 838.3l7.8 7.8l-7.8 7.8l-7.8 -7.8zM1214 862.3l7.8 7.8l-7.8 7.8l-7.8 -7.8zM1215.2 869.4l7.8 7.8l-7.8 7.8l-7.8 -7.8zM1215.2 875.2l7.8 7.8l-7.8 7.8l-7.8 -7.8zM1218.7 867l7.8 7.8l-7.8 7.8l-7.8 -7.8zM1231.7 791.8l7.8 7.8l-7.8 7.8l-7.8 -7.8z" stroke="#a3a6aa" stroke-width="1.1" fill="none"/><path d="M1232.8 739.5V745.9M1235.9 744.2V750.6M1237.1 771.9V786M1230.5 782.5V806M1217.6 848.1V854.5M1225.8 838.7V845.1M1227 852.8V859.2M1287.4 740.9V762M1292.8 742V774.9M1249.8 775.1V781.5M1224.6 858.1V864.5M1246.7 786.9V793.3M1241.1 811.3V817.7M1244.8 802.4V808.8M1229 846.7V853.1M1249.3 771.4V777.8M1239 801V807.4M1228.6 837.5V843.9M1222.6 854.9V866.8M1242.1 821.3V827.7M1234.3 823.6V830M1225.3 838.7V858M1234.7 820.4V826.8M1223.5 866.4V872.8M1237.4 831.7V838.1M1236.3 830.7V849.1M1228.7 838.1V850M1238.4 809.6V830.9M1218.5 872.6V879M1236.5 825.9V832.3M1241.5 814.3V820.7M1240.2 797.5V803.9M1240.5 780.4V798M1237.8 810V816.4M1234.2 831.4V837.8M1230.9 830.5V855.5M1222.1 857.3V863.7M1221.3 856.3V862.7M1246.7 788.1V794.5M1222.7 875V881.4M1241.9 790.8V804.3M1228.2 838.9V864.5M1240.9 808.5V814.9M1221.4 871.6V878M1218.1 871.3V877.7M1223 850.5V856.9M1245.5 784.1V790.5M1240.2 811.7V818.1M1235 821.3V827.7M1222.3 856.8V863.2M1235.4 819V825.4M1252.3 767.5V773.9M1265.3 755.8V767.8M1266.2 763.3V769.7M1250.6 764.4V770.8M1273.6 757V763.4M1283.5 747.7V759.8M1250.2 764.9V771.3M1264.5 746V773.5M1294.7 746.7V753.1M1279.1 754.7V766.7M1294.5 749.9V762.2M1268.4 760.2V766.6M1264.8 757.3V775.6M1294.5 741.8V768.8M1273.1 755V769.6M1262.9 769.4V775.8M1249.6 768.5V774.9M1251.4 772V778.4M1272.9 750.2V771.3M1287.1 748.6V760.4M1254.8 771.7V778.1M1254 764.1V770.5M1254.1 766.7V780.4M1284.1 748V766.6M1251.4 768.5V774.9M1288.7 758.5V764.9M1254.2 762.6V769M1277.6 751.1V774.6M1268.9 755V771.1M1254.6 766.5V772.9M1262.5 760.3V766.7M1283.4 749.1V769.4M1262.6 762.7V769.1M1258.5 762V774.2M1263.8 755V772.6M1256.8 763.7V770.1M1276.4 758.4V764.8M1252.8 771.4V777.8M1277.4 750.7V767.1M1284.8 759.1V765.5M1250 764.1V790M1289.1 751.9V758.3M1277.5 762.7V769.1M1268.8 759.4V765.8M1289.2 754.3V760.7M1288.5 755.5V761.9M1252.7 769V775.4M1270 755.3V769.3M1286.6 743.5V764.1M1283.6 755.3V761.7M1242 796.7V822.4M1246.3 787V812.8M1237.2 780.7V787.1M1240.9 812.4V818.8M1248.3 780.2V793.7M1239.7 799.3V805.7M1244.2 799.1V805.5M1243.3 782.1V796.5M1240.3 798.5V804.9M1244.1 802.2V808.6M1247.1 777.3V791.2M1249.2 770V787.3M1246.7 792.6V799M1237.5 804.5V810.9M1238 788.7V806.5M1240.2 800.4V812.3M1243.6 796.5V802.9M1244.4 806.2V812.6" stroke="#333335" stroke-width="1.6" fill="none"/><g fill="#111113" fill-opacity="0.75" stroke="#fff" stroke-width="1"><circle cx="1232.8" cy="742.7" r="5.2"/><circle cx="1235.9" cy="747.4" r="5.2"/><circle cx="1237.1" cy="778.9" r="5.2"/><circle cx="1230.5" cy="794.2" r="5.2"/><circle cx="1217.6" cy="851.3" r="5.2"/><circle cx="1225.8" cy="841.9" r="5.2"/><circle cx="1227" cy="856" r="5.2"/><circle cx="1287.4" cy="751.4" r="5.2"/><circle cx="1292.8" cy="758.5" r="5.2"/><circle cx="1249.8" cy="778.3" r="5.2"/><circle cx="1224.6" cy="861.3" r="5.2"/><circle cx="1246.7" cy="790.1" r="5.2"/><circle cx="1241.1" cy="814.5" r="5.2"/><circle cx="1244.8" cy="805.6" r="5.2"/><circle cx="1229" cy="849.9" r="5.2"/><circle cx="1249.3" cy="774.6" r="5.2"/><circle cx="1239" cy="804.2" r="5.2"/><circle cx="1228.6" cy="840.7" r="5.2"/><circle cx="1222.6" cy="860.9" r="5.2"/><circle cx="1242.1" cy="824.5" r="5.2"/><circle cx="1234.3" cy="826.8" r="5.2"/><circle cx="1225.3" cy="848.3" r="5.2"/><circle cx="1234.7" cy="823.6" r="5.2"/><circle cx="1223.5" cy="869.6" r="5.2"/><circle cx="1237.4" cy="834.9" r="5.2"/><circle cx="1236.3" cy="839.9" r="5.2"/><circle cx="1228.7" cy="844.1" r="5.2"/><circle cx="1238.4" cy="820.2" r="5.2"/><circle cx="1218.5" cy="875.8" r="5.2"/><circle cx="1236.5" cy="829.1" r="5.2"/><circle cx="1241.5" cy="817.5" r="5.2"/><circle cx="1240.2" cy="800.7" r="5.2"/><circle cx="1240.5" cy="789.2" r="5.2"/><circle cx="1237.8" cy="813.2" r="5.2"/><circle cx="1234.2" cy="834.6" r="5.2"/><circle cx="1230.9" cy="843" r="5.2"/><circle cx="1222.1" cy="860.5" r="5.2"/><circle cx="1221.3" cy="859.5" r="5.2"/><circle cx="1246.7" cy="791.3" r="5.2"/><circle cx="1222.7" cy="878.2" r="5.2"/><circle cx="1241.9" cy="797.6" r="5.2"/><circle cx="1228.2" cy="851.7" r="5.2"/><circle cx="1240.9" cy="811.7" r="5.2"/><circle cx="1221.4" cy="874.8" r="5.2"/><circle cx="1218.1" cy="874.5" r="5.2"/><circle cx="1223" cy="853.7" r="5.2"/><circle cx="1245.5" cy="787.3" r="5.2"/><circle cx="1240.2" cy="814.9" r="5.2"/><circle cx="1235" cy="824.5" r="5.2"/><circle cx="1222.3" cy="860" r="5.2"/><circle cx="1235.4" cy="822.2" r="5.2"/><circle cx="1252.3" cy="770.7" r="5.2"/><circle cx="1265.3" cy="761.8" r="5.2"/><circle cx="1266.2" cy="766.5" r="5.2"/><circle cx="1250.6" cy="767.6" r="5.2"/><circle cx="1273.6" cy="760.2" r="5.2"/><circle cx="1283.5" cy="753.8" r="5.2"/><circle cx="1250.2" cy="768.1" r="5.2"/><circle cx="1264.5" cy="759.8" r="5.2"/><circle cx="1294.7" cy="749.9" r="5.2"/><circle cx="1279.1" cy="760.7" r="5.2"/><circle cx="1294.5" cy="756.1" r="5.2"/><circle cx="1268.4" cy="763.4" r="5.2"/><circle cx="1264.8" cy="766.4" r="5.2"/><circle cx="1294.5" cy="755.3" r="5.2"/><circle cx="1273.1" cy="762.3" r="5.2"/><circle cx="1262.9" cy="772.6" r="5.2"/><circle cx="1249.6" cy="771.7" r="5.2"/><circle cx="1251.4" cy="775.2" r="5.2"/><circle cx="1272.9" cy="760.8" r="5.2"/><circle cx="1287.1" cy="754.5" r="5.2"/><circle cx="1254.8" cy="774.9" r="5.2"/><circle cx="1254" cy="767.3" r="5.2"/><circle cx="1254.1" cy="773.6" r="5.2"/><circle cx="1284.1" cy="757.3" r="5.2"/><circle cx="1251.4" cy="771.7" r="5.2"/><circle cx="1288.7" cy="761.7" r="5.2"/><circle cx="1254.2" cy="765.8" r="5.2"/><circle cx="1277.6" cy="762.8" r="5.2"/><circle cx="1268.9" cy="763.1" r="5.2"/><circle cx="1254.6" cy="769.7" r="5.2"/><circle cx="1262.5" cy="763.5" r="5.2"/><circle cx="1283.4" cy="759.3" r="5.2"/><circle cx="1262.6" cy="765.9" r="5.2"/><circle cx="1258.5" cy="768.1" r="5.2"/><circle cx="1263.8" cy="763.8" r="5.2"/><circle cx="1256.8" cy="766.9" r="5.2"/><circle cx="1276.4" cy="761.6" r="5.2"/><circle cx="1252.8" cy="774.6" r="5.2"/><circle cx="1277.4" cy="758.9" r="5.2"/><circle cx="1284.8" cy="762.3" r="5.2"/><circle cx="1250" cy="777" r="5.2"/><circle cx="1289.1" cy="755.1" r="5.2"/><circle cx="1277.5" cy="765.9" r="5.2"/><circle cx="1268.8" cy="762.6" r="5.2"/><circle cx="1289.2" cy="757.5" r="5.2"/><circle cx="1288.5" cy="758.7" r="5.2"/><circle cx="1252.7" cy="772.2" r="5.2"/><circle cx="1270" cy="762.3" r="5.2"/><circle cx="1286.6" cy="753.8" r="5.2"/><circle cx="1283.6" cy="758.5" r="5.2"/><circle cx="1242" cy="809.6" r="5.2"/><circle cx="1246.3" cy="799.9" r="5.2"/><circle cx="1237.2" cy="783.9" r="5.2"/><circle cx="1240.9" cy="815.6" r="5.2"/><circle cx="1248.3" cy="787" r="5.2"/><circle cx="1239.7" cy="802.5" r="5.2"/><circle cx="1244.2" cy="802.3" r="5.2"/><circle cx="1243.3" cy="789.3" r="5.2"/><circle cx="1240.3" cy="801.7" r="5.2"/><circle cx="1244.1" cy="805.4" r="5.2"/><circle cx="1247.1" cy="784.2" r="5.2"/><circle cx="1249.2" cy="778.7" r="5.2"/><circle cx="1246.7" cy="795.8" r="5.2"/><circle cx="1237.5" cy="807.7" r="5.2"/><circle cx="1238" cy="797.6" r="5.2"/><circle cx="1240.2" cy="806.4" r="5.2"/><circle cx="1243.6" cy="799.7" r="5.2"/><circle cx="1244.4" cy="809.4" r="5.2"/></g>
<path d="M1839.9 715.7V722.8M1791.5 735.5V737.8M1751.1 736.2V745.6M1723.3 779.6V785.3M1720.5 784.3V793.7M1744.7 771.9V786M1762.8 793.3V812.1M1792 805.7V812.8M1720.5 820.1V841.2M1782.8 825V841.4M1725.2 843.8V849.4M1724.7 862.6V867.3M1730.4 870.1V877.2M1750.6 819.6V866.6M1795.7 842.6V877.9M1740.5 849V858.4M1886.9 805.5V815.8M1914.4 786.5V796.8M1865.8 727.2V741.3M1882.7 728.6V745.1M1883.8 730.8V751.9M1875.6 743.2V752.6M1816.9 739.7V751.4M1802.8 745.6V769.1M1793.4 750.3V773.8M1814.5 750.3V769.1M1856.8 744.4V756.1M1781.6 743.2V752.6M1760.5 769.1V783.2M1762.8 778.5V787.9M1753.4 827.8V841.9" stroke="#b0b3b6" stroke-width="1.5" fill="none"/><path d="M1839.9 711.4l7.8 7.8l-7.8 7.8l-7.8 -7.8zM1791.5 728.8l7.8 7.8l-7.8 7.8l-7.8 -7.8zM1751.1 733.1l7.8 7.8l-7.8 7.8l-7.8 -7.8zM1734.6 745.5l7.8 7.8l-7.8 7.8l-7.8 -7.8zM1739.3 750.7l7.8 7.8l-7.8 7.8l-7.8 -7.8zM1723.3 774.7l7.8 7.8l-7.8 7.8l-7.8 -7.8zM1720.5 781.2l7.8 7.8l-7.8 7.8l-7.8 -7.8zM1744.7 771.1l7.8 7.8l-7.8 7.8l-7.8 -7.8zM1762.8 794.9l7.8 7.8l-7.8 7.8l-7.8 -7.8zM1792 801.4l7.8 7.8l-7.8 7.8l-7.8 -7.8zM1720.5 822.8l7.8 7.8l-7.8 7.8l-7.8 -7.8zM1782.8 825.4l7.8 7.8l-7.8 7.8l-7.8 -7.8zM1725.2 838.8l7.8 7.8l-7.8 7.8l-7.8 -7.8zM1717 855.7l7.8 7.8l-7.8 7.8l-7.8 -7.8zM1724.7 857.1l7.8 7.8l-7.8 7.8l-7.8 -7.8zM1730.4 865.8l7.8 7.8l-7.8 7.8l-7.8 -7.8zM1750.6 835.3l7.8 7.8l-7.8 7.8l-7.8 -7.8zM1795.7 852.4l7.8 7.8l-7.8 7.8l-7.8 -7.8zM1740.5 845.9l7.8 7.8l-7.8 7.8l-7.8 -7.8zM1886.9 802.9l7.8 7.8l-7.8 7.8l-7.8 -7.8zM1914.4 783.8l7.8 7.8l-7.8 7.8l-7.8 -7.8zM1865.8 726.5l7.8 7.8l-7.8 7.8l-7.8 -7.8zM1882.7 729.1l7.8 7.8l-7.8 7.8l-7.8 -7.8zM1883.8 733.5l7.8 7.8l-7.8 7.8l-7.8 -7.8zM1875.6 740.1l7.8 7.8l-7.8 7.8l-7.8 -7.8zM1816.9 737.8l7.8 7.8l-7.8 7.8l-7.8 -7.8zM1802.8 749.5l7.8 7.8l-7.8 7.8l-7.8 -7.8zM1793.4 754.2l7.8 7.8l-7.8 7.8l-7.8 -7.8zM1814.5 751.9l7.8 7.8l-7.8 7.8l-7.8 -7.8zM1856.8 742.5l7.8 7.8l-7.8 7.8l-7.8 -7.8zM1781.6 740.1l7.8 7.8l-7.8 7.8l-7.8 -7.8zM1760.5 768.3l7.8 7.8l-7.8 7.8l-7.8 -7.8zM1762.8 775.4l7.8 7.8l-7.8 7.8l-7.8 -7.8zM1753.4 827.1l7.8 7.8l-7.8 7.8l-7.8 -7.8z" stroke="#a3a6aa" stroke-width="1.1" fill="none"/><path d="M1742.4 720V726.4M1826.3 731.5V740.9M1877.5 754.1V760.5M1745.9 749.8V766.2M1745.9 744.4V786.7M1752.9 743.2V757.3M1776.9 740V746.4M1771 742.7V752.1M1802.8 762V812.1M1832.8 749.6V801.3M1839.9 740.9V772.6M1740.5 845.3V860.2M1792.9 849.7V899.5M1750.6 826.5V843.8M1755.3 816.2V822.6M1857.5 735.3V751.1M1762.8 752.2V765.8M1751.1 785.4V803.2M1760.5 756.2V762.6M1743.9 816.3V822.7M1800.8 751.1V757.5M1757.8 764.3V770.7M1740.1 814.1V820.5M1766.8 750.9V762.9M1834.6 745.2V754.7M1750.7 779.7V786.1M1760 766.9V773.3M1785.9 753.8V760.2M1815.3 747.6V754M1848.9 730.8V753.8M1743 819.3V825.7M1814.3 748.7V755.1M1787.2 752.7V759.1M1861.8 737.3V751.2M1754.8 791.7V801.6M1783.5 755V761.4M1749.2 787.1V793.5M1761.3 767.7V774.1M1808.6 750.8V757.2M1802.5 752.4V758.8M1824.1 746.5V752.9M1742.2 808.4V814.8M1837.8 745.2V760.6M1784.9 755.3V761.7M1767.9 754.4V760.8M1831.2 744.5V761.8M1747.6 794.4V812.1M1772.6 751.4V757.8M1780.6 749.5V770.5M1839.6 744.1V750.5M1795.8 753.6V760M1757.4 776.3V782.7M1764.3 754.7V761.1M1752.7 783.1V794.5M1839.9 744.4V750.8M1742.7 806.8V813.2M1753.9 783V789.4M1804.7 751.9V758.3M1762.1 763.5V781.8M1761.3 751.7V773.5M1807.6 754.8V761.2M1752.6 792.3V810.5M1770.8 751.6V758M1833.3 744.1V750.5M1748.9 804.2V817.5M1755.1 772.7V779.1M1763.7 757.1V763.5M1852.4 744.9V751.3M1865.4 741.5V747.9M1838.8 745.7V752.1M1822.6 747.4V753.8M1742.5 820.4V826.8M1792.1 753.2V759.6M1806.9 750.1V756.5M1793.2 752.5V758.9M1760.7 752.7V759.1M1805.6 750.4V756.8M1761.2 758.8V771.6M1862.6 737.3V743.7M1754.9 779.3V795M1778.7 748.9V762.9M1745.8 802.5V808.9M1820.6 743.5V755.7M1863.2 741.7V748.1M1785.8 751.4V757.8M1744.4 822.9V829.3M1745.9 798.4V804.8M1748.1 799.8V819.8M1746 816.4V822.8M1858 738.7V745.1M1793.1 752.8V759.2M1750.4 785.4V805.3M1749.9 799.7V806.1M1746.6 804.3V810.7M1821.8 746.6V753M1804 753.5V759.9M1788.3 752.4V758.8M1842.5 745.2V751.6M1798.1 750.6V757M1831.3 747.4V753.8M1861.4 738.9V745.3M1830.9 745.8V752.2M1856.1 737.5V743.9M1796.6 749.4V755.8M1853.6 743.3V749.7M1745.6 793.8V800.2M1742.9 813V819.4M1771 754.7V764.2M1797.2 752.2V758.6M1745.1 801.7V808.1M1771.5 756.1V762.5M1817.1 748.8V755.2M1741 813.3V819.7M1761.6 757.8V764.2M1752.9 789.1V809.7M1827.2 746.4V752.8M1822.9 743.9V750.3M1802.2 750.5V756.9M1777.9 752.3V758.7M1795.8 748.3V754.7M1818.9 747V753.4M1749.3 802.6V809M1741.3 814.6V821M1826.1 744V750.4M1743.1 807.5V813.9" stroke="#333335" stroke-width="1.6" fill="none"/><g fill="#111113" fill-opacity="0.75" stroke="#fff" stroke-width="1"><circle cx="1742.4" cy="723.2" r="5.2"/><circle cx="1826.3" cy="736.2" r="5.2"/><circle cx="1877.5" cy="757.3" r="5.2"/><circle cx="1745.9" cy="758" r="5.2"/><circle cx="1745.9" cy="765.5" r="5.2"/><circle cx="1752.9" cy="750.3" r="5.2"/><circle cx="1776.9" cy="743.2" r="5.2"/><circle cx="1771" cy="747.4" r="5.2"/><circle cx="1802.8" cy="776.1" r="5.2"/><circle cx="1832.8" cy="775.4" r="5.2"/><circle cx="1839.9" cy="757.3" r="5.2"/><circle cx="1740.5" cy="848.5" r="5.2"/><circle cx="1792.9" cy="867.3" r="5.2"/><circle cx="1750.6" cy="829.7" r="5.2"/><circle cx="1755.3" cy="819.4" r="5.2"/><circle cx="1857.5" cy="743.2" r="5.2"/><circle cx="1762.8" cy="759" r="5.2"/><circle cx="1751.1" cy="794.3" r="5.2"/><circle cx="1760.5" cy="759.4" r="5.2"/><circle cx="1743.9" cy="819.5" r="5.2"/><circle cx="1800.8" cy="754.3" r="5.2"/><circle cx="1757.8" cy="767.5" r="5.2"/><circle cx="1740.1" cy="817.3" r="5.2"/><circle cx="1766.8" cy="756.9" r="5.2"/><circle cx="1834.6" cy="749.9" r="5.2"/><circle cx="1750.7" cy="782.9" r="5.2"/><circle cx="1760" cy="770.1" r="5.2"/><circle cx="1785.9" cy="757" r="5.2"/><circle cx="1815.3" cy="750.8" r="5.2"/><circle cx="1848.9" cy="742.3" r="5.2"/><circle cx="1743" cy="822.5" r="5.2"/><circle cx="1814.3" cy="751.9" r="5.2"/><circle cx="1787.2" cy="755.9" r="5.2"/><circle cx="1861.8" cy="744.3" r="5.2"/><circle cx="1754.8" cy="796.7" r="5.2"/><circle cx="1783.5" cy="758.2" r="5.2"/><circle cx="1749.2" cy="790.3" r="5.2"/><circle cx="1761.3" cy="770.9" r="5.2"/><circle cx="1808.6" cy="754" r="5.2"/><circle cx="1802.5" cy="755.6" r="5.2"/><circle cx="1824.1" cy="749.7" r="5.2"/><circle cx="1742.2" cy="811.6" r="5.2"/><circle cx="1837.8" cy="752.9" r="5.2"/><circle cx="1784.9" cy="758.5" r="5.2"/><circle cx="1767.9" cy="757.6" r="5.2"/><circle cx="1831.2" cy="753.1" r="5.2"/><circle cx="1747.6" cy="803.3" r="5.2"/><circle cx="1772.6" cy="754.6" r="5.2"/><circle cx="1780.6" cy="760" r="5.2"/><circle cx="1839.6" cy="747.3" r="5.2"/><circle cx="1795.8" cy="756.8" r="5.2"/><circle cx="1757.4" cy="779.5" r="5.2"/><circle cx="1764.3" cy="757.9" r="5.2"/><circle cx="1752.7" cy="788.8" r="5.2"/><circle cx="1839.9" cy="747.6" r="5.2"/><circle cx="1742.7" cy="810" r="5.2"/><circle cx="1753.9" cy="786.2" r="5.2"/><circle cx="1804.7" cy="755.1" r="5.2"/><circle cx="1762.1" cy="772.6" r="5.2"/><circle cx="1761.3" cy="762.6" r="5.2"/><circle cx="1807.6" cy="758" r="5.2"/><circle cx="1752.6" cy="801.4" r="5.2"/><circle cx="1770.8" cy="754.8" r="5.2"/><circle cx="1833.3" cy="747.3" r="5.2"/><circle cx="1748.9" cy="810.8" r="5.2"/><circle cx="1755.1" cy="775.9" r="5.2"/><circle cx="1763.7" cy="760.3" r="5.2"/><circle cx="1852.4" cy="748.1" r="5.2"/><circle cx="1865.4" cy="744.7" r="5.2"/><circle cx="1838.8" cy="748.9" r="5.2"/><circle cx="1822.6" cy="750.6" r="5.2"/><circle cx="1742.5" cy="823.6" r="5.2"/><circle cx="1792.1" cy="756.4" r="5.2"/><circle cx="1806.9" cy="753.3" r="5.2"/><circle cx="1793.2" cy="755.7" r="5.2"/><circle cx="1760.7" cy="755.9" r="5.2"/><circle cx="1805.6" cy="753.6" r="5.2"/><circle cx="1761.2" cy="765.2" r="5.2"/><circle cx="1862.6" cy="740.5" r="5.2"/><circle cx="1754.9" cy="787.1" r="5.2"/><circle cx="1778.7" cy="755.9" r="5.2"/><circle cx="1745.8" cy="805.7" r="5.2"/><circle cx="1820.6" cy="749.6" r="5.2"/><circle cx="1863.2" cy="744.9" r="5.2"/><circle cx="1785.8" cy="754.6" r="5.2"/><circle cx="1744.4" cy="826.1" r="5.2"/><circle cx="1745.9" cy="801.6" r="5.2"/><circle cx="1748.1" cy="809.8" r="5.2"/><circle cx="1746" cy="819.6" r="5.2"/><circle cx="1858" cy="741.9" r="5.2"/><circle cx="1793.1" cy="756" r="5.2"/><circle cx="1750.4" cy="795.4" r="5.2"/><circle cx="1749.9" cy="802.9" r="5.2"/><circle cx="1746.6" cy="807.5" r="5.2"/><circle cx="1821.8" cy="749.8" r="5.2"/><circle cx="1804" cy="756.7" r="5.2"/><circle cx="1788.3" cy="755.6" r="5.2"/><circle cx="1842.5" cy="748.4" r="5.2"/><circle cx="1798.1" cy="753.8" r="5.2"/><circle cx="1831.3" cy="750.6" r="5.2"/><circle cx="1861.4" cy="742.1" r="5.2"/><circle cx="1830.9" cy="749" r="5.2"/><circle cx="1856.1" cy="740.7" r="5.2"/><circle cx="1796.6" cy="752.6" r="5.2"/><circle cx="1853.6" cy="746.5" r="5.2"/><circle cx="1745.6" cy="797" r="5.2"/><circle cx="1742.9" cy="816.2" r="5.2"/><circle cx="1771" cy="759.4" r="5.2"/><circle cx="1797.2" cy="755.4" r="5.2"/><circle cx="1745.1" cy="804.9" r="5.2"/><circle cx="1771.5" cy="759.3" r="5.2"/><circle cx="1817.1" cy="752" r="5.2"/><circle cx="1741" cy="816.5" r="5.2"/><circle cx="1761.6" cy="761" r="5.2"/><circle cx="1752.9" cy="799.4" r="5.2"/><circle cx="1827.2" cy="749.6" r="5.2"/><circle cx="1822.9" cy="747.1" r="5.2"/><circle cx="1802.2" cy="753.7" r="5.2"/><circle cx="1777.9" cy="755.5" r="5.2"/><circle cx="1795.8" cy="751.5" r="5.2"/><circle cx="1818.9" cy="750.2" r="5.2"/><circle cx="1749.3" cy="805.8" r="5.2"/><circle cx="1741.3" cy="817.8" r="5.2"/><circle cx="1826.1" cy="747.2" r="5.2"/><circle cx="1743.1" cy="810.7" r="5.2"/></g>
<path d="M234.7 1026V1037.8M243.9 1064.1V1080.6M250.4 1053.5V1070M225.8 1053.1V1081.3M230.5 1034.3V1046" stroke="#b0b3b6" stroke-width="1.5" fill="none"/><path d="M234.7 1024.1l7.8 7.8l-7.8 7.8l-7.8 -7.8zM243.9 1064.5l7.8 7.8l-7.8 7.8l-7.8 -7.8zM250.4 1054l7.8 7.8l-7.8 7.8l-7.8 -7.8zM225.8 1059.4l7.8 7.8l-7.8 7.8l-7.8 -7.8zM230.5 1032.3l7.8 7.8l-7.8 7.8l-7.8 -7.8z" stroke="#a3a6aa" stroke-width="1.1" fill="none"/><path d="M219.9 1065.6V1072M222.7 1051.9V1114.6M223.4 1057.1V1071.2M227.4 1044.1V1051.2M231.6 1039V1053.1M231.6 1046V1055.4M232.8 1057.6V1064M238.2 1033.1V1053.1M240.3 1031.4V1040.8M248.1 1026.7V1058.5M248.8 1025.8V1044.6" stroke="#333335" stroke-width="1.6" fill="none"/><g fill="#111113" fill-opacity="0.75" stroke="#fff" stroke-width="1"><circle cx="219.9" cy="1068.8" r="5.2"/><circle cx="222.7" cy="1070.7" r="5.2"/><circle cx="223.4" cy="1064.1" r="5.2"/><circle cx="227.4" cy="1047.7" r="5.2"/><circle cx="231.6" cy="1046" r="5.2"/><circle cx="231.6" cy="1050.7" r="5.2"/><circle cx="232.8" cy="1060.8" r="5.2"/><circle cx="238.2" cy="1040.1" r="5.2"/><circle cx="240.3" cy="1036.1" r="5.2"/><circle cx="248.1" cy="1040.8" r="5.2"/><circle cx="248.8" cy="1035.2" r="5.2"/></g>
<path d="M726.8 1006.5V1023M732 1068.8V1073.5M738.8 1109V1114.6M774.3 1092.5V1098.2M777.4 1060.1V1069.5M756.4 1051.9V1056.6M742.8 1049.1V1063.2M745.2 1049.5V1061.3M775.7 1010.8V1031.9M795.7 1017.3V1023M799.2 1011.2V1015.9M787.9 999V1006.1M811 1011.2V1015.9M814.5 996.2V1010.3M820.8 1021.8V1033.6M849.7 1015.5V1024.9M772.2 1006.1V1010.8M767.5 1008.4V1013.1M780.4 1004.9V1009.6" stroke="#b0b3b6" stroke-width="1.5" fill="none"/><path d="M684.5 1083.6l7.8 7.8l-7.8 7.8l-7.8 -7.8zM726.8 1007l7.8 7.8l-7.8 7.8l-7.8 -7.8zM732 1063.4l7.8 7.8l-7.8 7.8l-7.8 -7.8zM738.8 1075.3l7.8 7.8l-7.8 7.8l-7.8 -7.8zM738.8 1104l7.8 7.8l-7.8 7.8l-7.8 -7.8zM774.3 1087.6l7.8 7.8l-7.8 7.8l-7.8 -7.8zM777.4 1057l7.8 7.8l-7.8 7.8l-7.8 -7.8zM756.4 1046.4l7.8 7.8l-7.8 7.8l-7.8 -7.8zM742.8 1048.3l7.8 7.8l-7.8 7.8l-7.8 -7.8zM745.2 1047.6l7.8 7.8l-7.8 7.8l-7.8 -7.8zM775.7 1013.5l7.8 7.8l-7.8 7.8l-7.8 -7.8zM795.7 1012.4l7.8 7.8l-7.8 7.8l-7.8 -7.8zM799.2 1005.8l7.8 7.8l-7.8 7.8l-7.8 -7.8zM787.9 994.7l7.8 7.8l-7.8 7.8l-7.8 -7.8zM811 1005.8l7.8 7.8l-7.8 7.8l-7.8 -7.8zM814.5 995.4l7.8 7.8l-7.8 7.8l-7.8 -7.8zM820.8 1019.9l7.8 7.8l-7.8 7.8l-7.8 -7.8zM849.7 1012.4l7.8 7.8l-7.8 7.8l-7.8 -7.8zM772.2 1000.6l7.8 7.8l-7.8 7.8l-7.8 -7.8zM767.5 1003l7.8 7.8l-7.8 7.8l-7.8 -7.8zM780.4 999.4l7.8 7.8l-7.8 7.8l-7.8 -7.8z" stroke="#a3a6aa" stroke-width="1.1" fill="none"/><path d="M743.5 1007.2V1014.3M748.7 1007.2V1014.3M747.5 1011.1V1017.5M752.2 1011.8V1018.2M756.2 1010.1V1017.1M760.4 1005.2V1011.6M761.6 1008.7V1015.1M758.1 1015.5V1022.5M760.4 1013.4V1019.8M768.7 1010.8V1017.8M772.9 1009.4V1015.8M781.6 1010.4V1016.8M783.9 1005.9V1012.3M789.1 1004.7V1011.1M797.3 1013V1019.4M818.5 1015V1022M833.3 1017.7V1024.1M834.5 1015.1V1021.5M857.5 1009.6V1016.6M866.2 1011.3V1017.7M881.5 1002.5V1009.6M889.2 997.7V1004.1M928.9 999.9V1007M870 1044V1050.4M746.8 1071V1077.4M745.2 1021.3V1028.4M742.3 1026.5V1033.6M751.7 1026.5V1033.6M742.8 1037.3V1044.4M746.3 1039V1060.1M753.2 1033.8V1049.1" stroke="#333335" stroke-width="1.6" fill="none"/><g fill="#111113" fill-opacity="0.75" stroke="#fff" stroke-width="1"><circle cx="743.5" cy="1010.8" r="5.2"/><circle cx="748.7" cy="1010.8" r="5.2"/><circle cx="747.5" cy="1014.3" r="5.2"/><circle cx="752.2" cy="1015" r="5.2"/><circle cx="756.2" cy="1013.6" r="5.2"/><circle cx="760.4" cy="1008.4" r="5.2"/><circle cx="761.6" cy="1011.9" r="5.2"/><circle cx="758.1" cy="1019" r="5.2"/><circle cx="760.4" cy="1016.6" r="5.2"/><circle cx="768.7" cy="1014.3" r="5.2"/><circle cx="772.9" cy="1012.6" r="5.2"/><circle cx="781.6" cy="1013.6" r="5.2"/><circle cx="783.9" cy="1009.1" r="5.2"/><circle cx="789.1" cy="1007.9" r="5.2"/><circle cx="797.3" cy="1016.2" r="5.2"/><circle cx="818.5" cy="1018.5" r="5.2"/><circle cx="833.3" cy="1020.9" r="5.2"/><circle cx="834.5" cy="1018.3" r="5.2"/><circle cx="857.5" cy="1013.1" r="5.2"/><circle cx="866.2" cy="1014.5" r="5.2"/><circle cx="881.5" cy="1006.1" r="5.2"/><circle cx="889.2" cy="1000.9" r="5.2"/><circle cx="928.9" cy="1003.5" r="5.2"/><circle cx="870" cy="1047.2" r="5.2"/><circle cx="746.8" cy="1074.2" r="5.2"/><circle cx="745.2" cy="1024.9" r="5.2"/><circle cx="742.3" cy="1030" r="5.2"/><circle cx="751.7" cy="1030" r="5.2"/><circle cx="742.8" cy="1040.8" r="5.2"/><circle cx="746.3" cy="1043.7" r="5.2"/><circle cx="753.2" cy="1038.5" r="5.2"/></g>
<path d="M1259.2 995.5V996.9M1257.5 1040.1V1044.8M1257.5 1053.1V1062.5M1262.2 1060.1V1069.5M1255.2 1071.9V1090.7M1235.2 1067.2V1090.7M1254 1080.6V1120.5M1258.7 1103.6V1120M1250.5 1086V1118.9M1297.9 1003.5V1004.9M1301.7 1027.4V1028.9M1297.9 1044.6V1050.2M1255.2 1055.4V1069.5M1251.6 1083.6V1102.4" stroke="#b0b3b6" stroke-width="1.5" fill="none"/><path d="M1250.5 991.2l7.8 7.8l-7.8 7.8l-7.8 -7.8zM1259.2 988.4l7.8 7.8l-7.8 7.8l-7.8 -7.8zM1249.3 1001.3l7.8 7.8l-7.8 7.8l-7.8 -7.8zM1252.8 1003l7.8 7.8l-7.8 7.8l-7.8 -7.8zM1246.9 1013.5l7.8 7.8l-7.8 7.8l-7.8 -7.8zM1249.3 1011.2l7.8 7.8l-7.8 7.8l-7.8 -7.8zM1250.5 1008.8l7.8 7.8l-7.8 7.8l-7.8 -7.8zM1245.8 1028.8l7.8 7.8l-7.8 7.8l-7.8 -7.8zM1257.5 1034.7l7.8 7.8l-7.8 7.8l-7.8 -7.8zM1257.5 1050l7.8 7.8l-7.8 7.8l-7.8 -7.8zM1262.2 1057l7.8 7.8l-7.8 7.8l-7.8 -7.8zM1255.2 1073.5l7.8 7.8l-7.8 7.8l-7.8 -7.8zM1235.2 1071.1l7.8 7.8l-7.8 7.8l-7.8 -7.8zM1254 1092.7l7.8 7.8l-7.8 7.8l-7.8 -7.8zM1258.7 1104l7.8 7.8l-7.8 7.8l-7.8 -7.8zM1250.5 1094.6l7.8 7.8l-7.8 7.8l-7.8 -7.8zM1297.9 996.4l7.8 7.8l-7.8 7.8l-7.8 -7.8zM1301.7 1020.3l7.8 7.8l-7.8 7.8l-7.8 -7.8zM1293.2 1023.4l7.8 7.8l-7.8 7.8l-7.8 -7.8zM1297.9 1039.6l7.8 7.8l-7.8 7.8l-7.8 -7.8zM1255.2 1054.7l7.8 7.8l-7.8 7.8l-7.8 -7.8zM1251.6 1085.2l7.8 7.8l-7.8 7.8l-7.8 -7.8zM1244.6 1014.7l7.8 7.8l-7.8 7.8l-7.8 -7.8zM1243.4 1030l7.8 7.8l-7.8 7.8l-7.8 -7.8z" stroke="#a3a6aa" stroke-width="1.1" fill="none"/><path d="M1247.1 1078.9V1085.3M1283.4 1009.7V1016.1M1243.8 1075V1081.4M1252.9 1027.7V1034.1M1250.6 1045.2V1051.6M1248.9 1072.4V1078.8M1281.2 1007.4V1013.8M1248 1064.2V1070.6M1294.5 1009.9V1016.3M1247.8 1084.2V1090.6M1249.1 1048.2V1054.6M1290.1 1012.2V1018.6M1266.7 1013.3V1019.7M1270.6 1011.8V1018.2M1248.9 1051.2V1057.6M1294.1 1008.8V1015.2M1249.5 1032.2V1038.6M1265.3 1016.4V1022.8M1262.5 1019.2V1025.6M1248.1 1044.1V1050.5M1249.6 1084.9V1091.3M1287.9 1010.4V1016.8M1280.2 1008.7V1015.1M1250 1031.5V1037.9M1267.8 1017.5V1023.9M1247.7 1028.5V1034.9M1261 1021V1027.4M1251 1086.8V1093.2M1258.8 1024.1V1030.5M1252.2 1050.7V1057.1M1249.4 1036.5V1042.9M1246.5 1068.2V1074.6M1266.9 1015.4V1021.8M1271.1 1011.2V1017.6M1284.6 1011.6V1018M1248.1 1082.2V1088.6M1249.3 1084.3V1090.7M1262.4 1016.3V1022.7M1245.1 1076.7V1083.1M1294.3 1010.5V1016.9M1248.3 1036.4V1042.8M1277.8 1012.5V1018.9M1249.1 1073.4V1079.8M1252.4 1030.3V1036.7M1271.4 1014.2V1020.6M1294.5 1008.2V1014.6M1250.9 1065.4V1071.8M1247.3 1060.9V1067.3M1246.9 1088.3V1110.6M1248.6 1086V1102.4" stroke="#333335" stroke-width="1.6" fill="none"/><g fill="#111113" fill-opacity="0.75" stroke="#fff" stroke-width="1"><circle cx="1247.1" cy="1082.1" r="5.2"/><circle cx="1283.4" cy="1012.9" r="5.2"/><circle cx="1243.8" cy="1078.2" r="5.2"/><circle cx="1252.9" cy="1030.9" r="5.2"/><circle cx="1250.6" cy="1048.4" r="5.2"/><circle cx="1248.9" cy="1075.6" r="5.2"/><circle cx="1281.2" cy="1010.6" r="5.2"/><circle cx="1248" cy="1067.4" r="5.2"/><circle cx="1294.5" cy="1013.1" r="5.2"/><circle cx="1247.8" cy="1087.4" r="5.2"/><circle cx="1249.1" cy="1051.4" r="5.2"/><circle cx="1290.1" cy="1015.4" r="5.2"/><circle cx="1266.7" cy="1016.5" r="5.2"/><circle cx="1270.6" cy="1015" r="5.2"/><circle cx="1248.9" cy="1054.4" r="5.2"/><circle cx="1294.1" cy="1012" r="5.2"/><circle cx="1249.5" cy="1035.4" r="5.2"/><circle cx="1265.3" cy="1019.6" r="5.2"/><circle cx="1262.5" cy="1022.4" r="5.2"/><circle cx="1248.1" cy="1047.3" r="5.2"/><circle cx="1249.6" cy="1088.1" r="5.2"/><circle cx="1287.9" cy="1013.6" r="5.2"/><circle cx="1280.2" cy="1011.9" r="5.2"/><circle cx="1250" cy="1034.7" r="5.2"/><circle cx="1267.8" cy="1020.7" r="5.2"/><circle cx="1247.7" cy="1031.7" r="5.2"/><circle cx="1261" cy="1024.2" r="5.2"/><circle cx="1251" cy="1090" r="5.2"/><circle cx="1258.8" cy="1027.3" r="5.2"/><circle cx="1252.2" cy="1053.9" r="5.2"/><circle cx="1249.4" cy="1039.7" r="5.2"/><circle cx="1246.5" cy="1071.4" r="5.2"/><circle cx="1266.9" cy="1018.6" r="5.2"/><circle cx="1271.1" cy="1014.4" r="5.2"/><circle cx="1284.6" cy="1014.8" r="5.2"/><circle cx="1248.1" cy="1085.4" r="5.2"/><circle cx="1249.3" cy="1087.5" r="5.2"/><circle cx="1262.4" cy="1019.5" r="5.2"/><circle cx="1245.1" cy="1079.9" r="5.2"/><circle cx="1294.3" cy="1013.7" r="5.2"/><circle cx="1248.3" cy="1039.6" r="5.2"/><circle cx="1277.8" cy="1015.7" r="5.2"/><circle cx="1249.1" cy="1076.6" r="5.2"/><circle cx="1252.4" cy="1033.5" r="5.2"/><circle cx="1271.4" cy="1017.4" r="5.2"/><circle cx="1294.5" cy="1011.4" r="5.2"/><circle cx="1250.9" cy="1068.6" r="5.2"/><circle cx="1247.3" cy="1064.1" r="5.2"/><circle cx="1246.9" cy="1093" r="5.2"/><circle cx="1248.6" cy="1090.7" r="5.2"/></g>
<path d="M1863.4 987.3V999M1735.8 1064.3V1078.4M1733.9 1113.7V1116M1767 1114.2V1121.2M1776.9 1066V1094.2M1803.5 1078.9V1105.9M1823.9 1066.5V1071.2M1833.3 1024.9V1046M1801.6 1042.5V1051.9M1800.4 1049.5V1056.6M1766.3 1055.4V1062.5M1778.1 1024.9V1043.7M1781.6 1024.9V1039M1786.3 1022.5V1031.9M1776.9 1035.4V1044.8M1772.2 1046V1055.4M1760.5 1046V1064.8M1754.1 1054.2V1075.4M1793.4 1014.3V1021.3M1838 1011.9V1016.6M1870.9 1006.1V1010.8M1902.6 993.1V997.8M1894.4 997.8V1002.5M1875.6 994.3V999M1784 1001.4V1006.1M1819.2 1000.2V1004.9M1754.3 1037.8V1054M1759.9 993.1V1013.4M1750.2 1036.9V1053.3M1755 1046.1V1069M1752.5 1023.1V1041.7M1753.1 990.6V1003.7M1753.8 1041.6V1064M1756.4 1054.9V1065.3M1752.4 991.6V1005.5M1752.5 1008.9V1029M1752.6 1013.8V1031.7M1756.8 1004.5V1019M1755.6 999.2V1015.2M1752 1022.5V1045.6M1754.9 1005V1022.6M1752.7 1045V1063.6M1749.9 1040.8V1063.1M1758.2 1042.4V1065.5" stroke="#b0b3b6" stroke-width="1.5" fill="none"/><path d="M1764 985.3l7.8 7.8l-7.8 7.8l-7.8 -7.8zM1773.4 987.2l7.8 7.8l-7.8 7.8l-7.8 -7.8zM1791 985.3l7.8 7.8l-7.8 7.8l-7.8 -7.8zM1812.2 987.2l7.8 7.8l-7.8 7.8l-7.8 -7.8zM1832.1 988.9l7.8 7.8l-7.8 7.8l-7.8 -7.8zM1863.4 985.3l7.8 7.8l-7.8 7.8l-7.8 -7.8zM1927.3 979l7.8 7.8l-7.8 7.8l-7.8 -7.8zM1916.3 989.6l7.8 7.8l-7.8 7.8l-7.8 -7.8zM1735.8 1063.6l7.8 7.8l-7.8 7.8l-7.8 -7.8zM1733.9 1107.1l7.8 7.8l-7.8 7.8l-7.8 -7.8zM1767 1109.9l7.8 7.8l-7.8 7.8l-7.8 -7.8zM1787.5 1112.9l7.8 7.8l-7.8 7.8l-7.8 -7.8zM1760 1084l7.8 7.8l-7.8 7.8l-7.8 -7.8zM1778.8 1083.3l7.8 7.8l-7.8 7.8l-7.8 -7.8zM1776.9 1072.3l7.8 7.8l-7.8 7.8l-7.8 -7.8zM1792.2 1089.9l7.8 7.8l-7.8 7.8l-7.8 -7.8zM1801.6 1094.6l7.8 7.8l-7.8 7.8l-7.8 -7.8zM1803.5 1080.5l7.8 7.8l-7.8 7.8l-7.8 -7.8zM1802.8 1082.9l7.8 7.8l-7.8 7.8l-7.8 -7.8zM1823.9 1061l7.8 7.8l-7.8 7.8l-7.8 -7.8zM1836.4 1059.4l7.8 7.8l-7.8 7.8l-7.8 -7.8zM1831.7 1039.9l7.8 7.8l-7.8 7.8l-7.8 -7.8zM1833.3 1027.6l7.8 7.8l-7.8 7.8l-7.8 -7.8zM1801.6 1039.4l7.8 7.8l-7.8 7.8l-7.8 -7.8zM1800.4 1045.3l7.8 7.8l-7.8 7.8l-7.8 -7.8zM1786.3 1052.3l7.8 7.8l-7.8 7.8l-7.8 -7.8zM1780.4 1058.2l7.8 7.8l-7.8 7.8l-7.8 -7.8zM1766.3 1051.1l7.8 7.8l-7.8 7.8l-7.8 -7.8zM1778.1 1026.5l7.8 7.8l-7.8 7.8l-7.8 -7.8zM1781.6 1024.1l7.8 7.8l-7.8 7.8l-7.8 -7.8zM1786.3 1019.4l7.8 7.8l-7.8 7.8l-7.8 -7.8zM1776.9 1032.3l7.8 7.8l-7.8 7.8l-7.8 -7.8zM1772.2 1042.9l7.8 7.8l-7.8 7.8l-7.8 -7.8zM1760.5 1047.6l7.8 7.8l-7.8 7.8l-7.8 -7.8zM1754.1 1057l7.8 7.8l-7.8 7.8l-7.8 -7.8zM1793.4 1010l7.8 7.8l-7.8 7.8l-7.8 -7.8zM1838 1006.5l7.8 7.8l-7.8 7.8l-7.8 -7.8zM1870.9 1000.6l7.8 7.8l-7.8 7.8l-7.8 -7.8zM1902.6 987.7l7.8 7.8l-7.8 7.8l-7.8 -7.8zM1894.4 992.4l7.8 7.8l-7.8 7.8l-7.8 -7.8zM1875.6 988.9l7.8 7.8l-7.8 7.8l-7.8 -7.8zM1784 995.9l7.8 7.8l-7.8 7.8l-7.8 -7.8zM1819.2 994.7l7.8 7.8l-7.8 7.8l-7.8 -7.8zM1754.3 1038.1l7.8 7.8l-7.8 7.8l-7.8 -7.8zM1749.1 1042.8l7.8 7.8l-7.8 7.8l-7.8 -7.8zM1754.8 1016.6l7.8 7.8l-7.8 7.8l-7.8 -7.8zM1756 1056.2l7.8 7.8l-7.8 7.8l-7.8 -7.8zM1758 993.2l7.8 7.8l-7.8 7.8l-7.8 -7.8zM1753.5 1022.1l7.8 7.8l-7.8 7.8l-7.8 -7.8zM1759.9 995.5l7.8 7.8l-7.8 7.8l-7.8 -7.8zM1749.3 1017.4l7.8 7.8l-7.8 7.8l-7.8 -7.8zM1750.2 1037.3l7.8 7.8l-7.8 7.8l-7.8 -7.8zM1754.6 1012.4l7.8 7.8l-7.8 7.8l-7.8 -7.8zM1756.7 1025.9l7.8 7.8l-7.8 7.8l-7.8 -7.8zM1755 1049.8l7.8 7.8l-7.8 7.8l-7.8 -7.8zM1752.5 1024.6l7.8 7.8l-7.8 7.8l-7.8 -7.8zM1750.3 984.8l7.8 7.8l-7.8 7.8l-7.8 -7.8zM1753.1 989.4l7.8 7.8l-7.8 7.8l-7.8 -7.8zM1753.8 1045l7.8 7.8l-7.8 7.8l-7.8 -7.8zM1752.9 1053.4l7.8 7.8l-7.8 7.8l-7.8 -7.8zM1756.4 1052.3l7.8 7.8l-7.8 7.8l-7.8 -7.8zM1752.4 990.7l7.8 7.8l-7.8 7.8l-7.8 -7.8zM1750.6 1006l7.8 7.8l-7.8 7.8l-7.8 -7.8zM1755.4 1041.7l7.8 7.8l-7.8 7.8l-7.8 -7.8zM1753.3 1047.1l7.8 7.8l-7.8 7.8l-7.8 -7.8zM1754.9 1037.7l7.8 7.8l-7.8 7.8l-7.8 -7.8zM1752.5 1011.2l7.8 7.8l-7.8 7.8l-7.8 -7.8zM1749.5 1038.9l7.8 7.8l-7.8 7.8l-7.8 -7.8zM1749.4 986.2l7.8 7.8l-7.8 7.8l-7.8 -7.8zM1756.4 1041.1l7.8 7.8l-7.8 7.8l-7.8 -7.8zM1752.6 1014.9l7.8 7.8l-7.8 7.8l-7.8 -7.8zM1754.1 1034.7l7.8 7.8l-7.8 7.8l-7.8 -7.8zM1750.1 1010.7l7.8 7.8l-7.8 7.8l-7.8 -7.8zM1756.2 1044.7l7.8 7.8l-7.8 7.8l-7.8 -7.8zM1756.8 1004l7.8 7.8l-7.8 7.8l-7.8 -7.8zM1750.8 1001.1l7.8 7.8l-7.8 7.8l-7.8 -7.8zM1755.6 999.4l7.8 7.8l-7.8 7.8l-7.8 -7.8zM1755.6 996.4l7.8 7.8l-7.8 7.8l-7.8 -7.8zM1752 1026.2l7.8 7.8l-7.8 7.8l-7.8 -7.8zM1754.8 1000.6l7.8 7.8l-7.8 7.8l-7.8 -7.8zM1757.8 1010.4l7.8 7.8l-7.8 7.8l-7.8 -7.8zM1754.9 1006l7.8 7.8l-7.8 7.8l-7.8 -7.8zM1748.5 1021.9l7.8 7.8l-7.8 7.8l-7.8 -7.8zM1754.5 983.2l7.8 7.8l-7.8 7.8l-7.8 -7.8zM1753.9 995.9l7.8 7.8l-7.8 7.8l-7.8 -7.8zM1745.5 1030.1l7.8 7.8l-7.8 7.8l-7.8 -7.8zM1755.6 990.4l7.8 7.8l-7.8 7.8l-7.8 -7.8zM1752.7 1046.5l7.8 7.8l-7.8 7.8l-7.8 -7.8zM1754.1 984.2l7.8 7.8l-7.8 7.8l-7.8 -7.8zM1749.9 1044.2l7.8 7.8l-7.8 7.8l-7.8 -7.8zM1754.2 994.8l7.8 7.8l-7.8 7.8l-7.8 -7.8zM1752.3 1051.9l7.8 7.8l-7.8 7.8l-7.8 -7.8zM1758.2 1046.1l7.8 7.8l-7.8 7.8l-7.8 -7.8zM1758.2 1044l7.8 7.8l-7.8 7.8l-7.8 -7.8zM1754.7 1036.8l7.8 7.8l-7.8 7.8l-7.8 -7.8zM1755.7 1050.4l7.8 7.8l-7.8 7.8l-7.8 -7.8zM1753.2 997.2l7.8 7.8l-7.8 7.8l-7.8 -7.8zM1751.7 1046.1l7.8 7.8l-7.8 7.8l-7.8 -7.8z" stroke="#a3a6aa" stroke-width="1.1" fill="none"/><path d="M1755.8 1044.7V1059.6M1874 1037.2V1043.6M1921.9 979.4V985.8M1911.3 989.9V996.3M1812.2 995.8V1002.2M1797.6 1000V1006.4M1843.4 1000.5V1006.9M1842.8 1002.3V1008.7M1793.4 999.2V1005.6M1900 991.5V997.9M1847.9 1005.5V1011.9M1833.5 1006.9V1013.3M1856 1007.6V1014M1835.6 1006.1V1012.5M1868.2 1002V1008.4M1898.6 985.8V992.2M1777.5 1016.1V1022.5M1798.2 1006.9V1013.3M1875.3 1000.4V1006.8M1790.2 1004.2V1010.6M1837 1007.2V1013.6M1781.8 1007.7V1014.1M1893.4 988.8V995.2M1773.6 1014.3V1020.7M1804.2 1002.8V1009.2M1784.8 1008.3V1014.7M1824.4 1004.6V1011M1840.5 1003.4V1009.8M1767.3 1021.6V1028M1882.2 1000.2V1006.6M1761.4 1027.7V1034.1M1805 1000.1V1006.5M1775.6 1009.9V1016.3M1768.5 1027.7V1034.1M1868.8 1001.3V1007.7M1834.4 1009.5V1015.9M1906 983.9V990.3M1816.9 1000.3V1006.7M1772.1 1018.5V1024.9M1853.6 1008.5V1014.9M1879.6 997.7V1004.1M1824.2 998.9V1005.3M1892.8 988.9V995.3M1837.2 1002.8V1009.2M1869.8 1002.4V1008.8M1792.5 1001.6V1008M1785.1 1010.7V1017.1M1772.7 1019.5V1025.9M1849.2 1005.1V1011.5M1764.5 1028.3V1034.7M1900.4 986.9V993.3M1770.5 1026V1032.4M1880.8 997.8V1004.2M1812.2 998.5V1004.9M1896 991.2V997.6M1887.9 994.1V1000.5M1890.4 990.9V997.3M1772.6 1014.8V1021.2M1831.4 1005.6V1012M1770.2 1020.4V1026.8M1769.6 1016.9V1023.3M1879.8 995.7V1002.1M1857.2 1006.4V1012.8M1768.7 1021.6V1028M1790.5 1007.4V1013.8M1760.8 1029.6V1036M1796.6 1001.1V1007.5M1770.3 1030.2V1036.6M1811.8 1005.8V1012.2M1859.9 1005.5V1011.9M1885.1 996.2V1002.6M1877.5 996.3V1002.7M1815 1001.1V1007.5M1855 1007V1013.4M1891.5 992.4V998.8M1796.6 998V1004.4M1855.4 1008.9V1015.3M1905.6 982.7V989.1M1819.6 1004.2V1010.6M1778 1010.8V1017.2M1776.8 1011.3V1017.7M1776.9 1010.1V1016.5M1772.2 1018.8V1025.2M1900.5 987.7V994.1M1774.9 1013.1V1019.5M1895.4 989.1V995.5M1850 998.6V1005M1830.6 1005.1V1011.5M1838.7 1004.7V1011.1M1827.8 1003.5V1009.9M1790.7 1007.5V1013.9M1802.7 998V1004.4M1894.3 990V996.4M1825.9 1002.5V1008.9M1854.2 1001.7V1008.1M1808.8 1002.3V1008.7M1801 1001.7V1008.1M1884.1 992.6V999M1884.9 997.4V1003.8M1808.2 1003V1009.4M1880.6 996.7V1003.1M1871.1 1002.7V1009.1M1804.5 1000.9V1007.3M1834.3 1006.5V1012.9M1790.7 1004.1V1010.5M1841.8 1002.1V1008.5M1793.9 1003.3V1009.7M1821.4 1004.4V1010.8M1906.1 982.8V989.2M1781 1006.4V1012.8M1799.5 1004.1V1010.5M1847.5 1007.8V1014.2M1766.3 1021.8V1028.2M1806.5 998.6V1005M1859.1 1006.9V1013.3M1854.5 1006.9V1013.3M1839.9 1008.1V1014.5M1878.5 998.8V1005.2M1780.4 1009.6V1016M1905.6 986.8V993.2M1809 1001.5V1007.9M1863.8 1007.7V1014.1M1876 997.7V1004.1M1839.5 1007V1013.4M1856.1 1003.9V1010.3M1875.9 998.2V1004.6M1893.8 989.2V995.6M1879.8 999.2V1005.6M1898.1 988.2V994.6M1863.8 1004V1010.4M1858.7 1004.7V1011.1M1785.1 1000.4V1006.8M1784.8 1006V1012.4M1843.1 1003.8V1010.2M1882 997.3V1003.7M1841.6 1002.7V1009.1M1863.5 1006V1012.4M1838.4 1005.2V1011.6M1807.7 1000.8V1007.2M1793.4 1003.7V1010.1M1819.3 999.3V1005.7M1882 994.4V1000.8M1768.6 1017.8V1024.2M1789.5 1006.8V1013.2M1788.3 1005.9V1012.3M1783.9 1009.8V1016.2M1844.2 1005.6V1012M1774.9 1009.1V1015.5M1905.9 984.7V991.1M1834.1 1006.2V1012.6M1884.3 992.5V998.9M1907.9 983.8V990.2M1888.8 993.4V999.8M1892.3 993.2V999.6M1855 1006.8V1013.2M1812.3 1003.1V1009.5M1859.1 1006.8V1013.2M1883.1 996V1002.4M1865.7 1005.4V1011.8M1776.9 1007.5V1013.9M1883.6 992.1V998.5M1892.4 990.6V997M1780.8 1006.8V1013.2M1861.9 1004.9V1011.3M1818.1 1004.3V1010.7M1900.2 987.7V994.1M1758.2 1030.6V1037M1894.7 990.4V996.8M1784.5 1002.9V1009.3M1803.5 1002.1V1008.5M1833.6 1003V1009.4M1895.4 993.1V999.5M1910.5 984V990.4M1912.7 984.4V990.8M1873.5 1005.5V1011.9M1883.2 1002.1V1008.5M1894.4 990.8V997.2" stroke="#333335" stroke-width="1.6" fill="none"/><g fill="#111113" fill-opacity="0.75" stroke="#fff" stroke-width="1"><circle cx="1755.8" cy="1047.9" r="5.2"/><circle cx="1874" cy="1040.4" r="5.2"/><circle cx="1921.9" cy="982.6" r="5.2"/><circle cx="1911.3" cy="993.1" r="5.2"/><circle cx="1812.2" cy="999" r="5.2"/><circle cx="1797.6" cy="1003.2" r="5.2"/><circle cx="1843.4" cy="1003.7" r="5.2"/><circle cx="1842.8" cy="1005.5" r="5.2"/><circle cx="1793.4" cy="1002.4" r="5.2"/><circle cx="1900" cy="994.7" r="5.2"/><circle cx="1847.9" cy="1008.7" r="5.2"/><circle cx="1833.5" cy="1010.1" r="5.2"/><circle cx="1856" cy="1010.8" r="5.2"/><circle cx="1835.6" cy="1009.3" r="5.2"/><circle cx="1868.2" cy="1005.2" r="5.2"/><circle cx="1898.6" cy="989" r="5.2"/><circle cx="1777.5" cy="1019.3" r="5.2"/><circle cx="1798.2" cy="1010.1" r="5.2"/><circle cx="1875.3" cy="1003.6" r="5.2"/><circle cx="1790.2" cy="1007.4" r="5.2"/><circle cx="1837" cy="1010.4" r="5.2"/><circle cx="1781.8" cy="1010.9" r="5.2"/><circle cx="1893.4" cy="992" r="5.2"/><circle cx="1773.6" cy="1017.5" r="5.2"/><circle cx="1804.2" cy="1006" r="5.2"/><circle cx="1784.8" cy="1011.5" r="5.2"/><circle cx="1824.4" cy="1007.8" r="5.2"/><circle cx="1840.5" cy="1006.6" r="5.2"/><circle cx="1767.3" cy="1024.8" r="5.2"/><circle cx="1882.2" cy="1003.4" r="5.2"/><circle cx="1761.4" cy="1030.9" r="5.2"/><circle cx="1805" cy="1003.3" r="5.2"/><circle cx="1775.6" cy="1013.1" r="5.2"/><circle cx="1768.5" cy="1030.9" r="5.2"/><circle cx="1868.8" cy="1004.5" r="5.2"/><circle cx="1834.4" cy="1012.7" r="5.2"/><circle cx="1906" cy="987.1" r="5.2"/><circle cx="1816.9" cy="1003.5" r="5.2"/><circle cx="1772.1" cy="1021.7" r="5.2"/><circle cx="1853.6" cy="1011.7" r="5.2"/><circle cx="1879.6" cy="1000.9" r="5.2"/><circle cx="1824.2" cy="1002.1" r="5.2"/><circle cx="1892.8" cy="992.1" r="5.2"/><circle cx="1837.2" cy="1006" r="5.2"/><circle cx="1869.8" cy="1005.6" r="5.2"/><circle cx="1792.5" cy="1004.8" r="5.2"/><circle cx="1785.1" cy="1013.9" r="5.2"/><circle cx="1772.7" cy="1022.7" r="5.2"/><circle cx="1849.2" cy="1008.3" r="5.2"/><circle cx="1764.5" cy="1031.5" r="5.2"/><circle cx="1900.4" cy="990.1" r="5.2"/><circle cx="1770.5" cy="1029.2" r="5.2"/><circle cx="1880.8" cy="1001" r="5.2"/><circle cx="1812.2" cy="1001.7" r="5.2"/><circle cx="1896" cy="994.4" r="5.2"/><circle cx="1887.9" cy="997.3" r="5.2"/><circle cx="1890.4" cy="994.1" r="5.2"/><circle cx="1772.6" cy="1018" r="5.2"/><circle cx="1831.4" cy="1008.8" r="5.2"/><circle cx="1770.2" cy="1023.6" r="5.2"/><circle cx="1769.6" cy="1020.1" r="5.2"/><circle cx="1879.8" cy="998.9" r="5.2"/><circle cx="1857.2" cy="1009.6" r="5.2"/><circle cx="1768.7" cy="1024.8" r="5.2"/><circle cx="1790.5" cy="1010.6" r="5.2"/><circle cx="1760.8" cy="1032.8" r="5.2"/><circle cx="1796.6" cy="1004.3" r="5.2"/><circle cx="1770.3" cy="1033.4" r="5.2"/><circle cx="1811.8" cy="1009" r="5.2"/><circle cx="1859.9" cy="1008.7" r="5.2"/><circle cx="1885.1" cy="999.4" r="5.2"/><circle cx="1877.5" cy="999.5" r="5.2"/><circle cx="1815" cy="1004.3" r="5.2"/><circle cx="1855" cy="1010.2" r="5.2"/><circle cx="1891.5" cy="995.6" r="5.2"/><circle cx="1796.6" cy="1001.2" r="5.2"/><circle cx="1855.4" cy="1012.1" r="5.2"/><circle cx="1905.6" cy="985.9" r="5.2"/><circle cx="1819.6" cy="1007.4" r="5.2"/><circle cx="1778" cy="1014" r="5.2"/><circle cx="1776.8" cy="1014.5" r="5.2"/><circle cx="1776.9" cy="1013.3" r="5.2"/><circle cx="1772.2" cy="1022" r="5.2"/><circle cx="1900.5" cy="990.9" r="5.2"/><circle cx="1774.9" cy="1016.3" r="5.2"/><circle cx="1895.4" cy="992.3" r="5.2"/><circle cx="1850" cy="1001.8" r="5.2"/><circle cx="1830.6" cy="1008.3" r="5.2"/><circle cx="1838.7" cy="1007.9" r="5.2"/><circle cx="1827.8" cy="1006.7" r="5.2"/><circle cx="1790.7" cy="1010.7" r="5.2"/><circle cx="1802.7" cy="1001.2" r="5.2"/><circle cx="1894.3" cy="993.2" r="5.2"/><circle cx="1825.9" cy="1005.7" r="5.2"/><circle cx="1854.2" cy="1004.9" r="5.2"/><circle cx="1808.8" cy="1005.5" r="5.2"/><circle cx="1801" cy="1004.9" r="5.2"/><circle cx="1884.1" cy="995.8" r="5.2"/><circle cx="1884.9" cy="1000.6" r="5.2"/><circle cx="1808.2" cy="1006.2" r="5.2"/><circle cx="1880.6" cy="999.9" r="5.2"/><circle cx="1871.1" cy="1005.9" r="5.2"/><circle cx="1804.5" cy="1004.1" r="5.2"/><circle cx="1834.3" cy="1009.7" r="5.2"/><circle cx="1790.7" cy="1007.3" r="5.2"/><circle cx="1841.8" cy="1005.3" r="5.2"/><circle cx="1793.9" cy="1006.5" r="5.2"/><circle cx="1821.4" cy="1007.6" r="5.2"/><circle cx="1906.1" cy="986" r="5.2"/><circle cx="1781" cy="1009.6" r="5.2"/><circle cx="1799.5" cy="1007.3" r="5.2"/><circle cx="1847.5" cy="1011" r="5.2"/><circle cx="1766.3" cy="1025" r="5.2"/><circle cx="1806.5" cy="1001.8" r="5.2"/><circle cx="1859.1" cy="1010.1" r="5.2"/><circle cx="1854.5" cy="1010.1" r="5.2"/><circle cx="1839.9" cy="1011.3" r="5.2"/><circle cx="1878.5" cy="1002" r="5.2"/><circle cx="1780.4" cy="1012.8" r="5.2"/><circle cx="1905.6" cy="990" r="5.2"/><circle cx="1809" cy="1004.7" r="5.2"/><circle cx="1863.8" cy="1010.9" r="5.2"/><circle cx="1876" cy="1000.9" r="5.2"/><circle cx="1839.5" cy="1010.2" r="5.2"/><circle cx="1856.1" cy="1007.1" r="5.2"/><circle cx="1875.9" cy="1001.4" r="5.2"/><circle cx="1893.8" cy="992.4" r="5.2"/><circle cx="1879.8" cy="1002.4" r="5.2"/><circle cx="1898.1" cy="991.4" r="5.2"/><circle cx="1863.8" cy="1007.2" r="5.2"/><circle cx="1858.7" cy="1007.9" r="5.2"/><circle cx="1785.1" cy="1003.6" r="5.2"/><circle cx="1784.8" cy="1009.2" r="5.2"/><circle cx="1843.1" cy="1007" r="5.2"/><circle cx="1882" cy="1000.5" r="5.2"/><circle cx="1841.6" cy="1005.9" r="5.2"/><circle cx="1863.5" cy="1009.2" r="5.2"/><circle cx="1838.4" cy="1008.4" r="5.2"/><circle cx="1807.7" cy="1004" r="5.2"/><circle cx="1793.4" cy="1006.9" r="5.2"/><circle cx="1819.3" cy="1002.5" r="5.2"/><circle cx="1882" cy="997.6" r="5.2"/><circle cx="1768.6" cy="1021" r="5.2"/><circle cx="1789.5" cy="1010" r="5.2"/><circle cx="1788.3" cy="1009.1" r="5.2"/><circle cx="1783.9" cy="1013" r="5.2"/><circle cx="1844.2" cy="1008.8" r="5.2"/><circle cx="1774.9" cy="1012.3" r="5.2"/><circle cx="1905.9" cy="987.9" r="5.2"/><circle cx="1834.1" cy="1009.4" r="5.2"/><circle cx="1884.3" cy="995.7" r="5.2"/><circle cx="1907.9" cy="987" r="5.2"/><circle cx="1888.8" cy="996.6" r="5.2"/><circle cx="1892.3" cy="996.4" r="5.2"/><circle cx="1855" cy="1010" r="5.2"/><circle cx="1812.3" cy="1006.3" r="5.2"/><circle cx="1859.1" cy="1010" r="5.2"/><circle cx="1883.1" cy="999.2" r="5.2"/><circle cx="1865.7" cy="1008.6" r="5.2"/><circle cx="1776.9" cy="1010.7" r="5.2"/><circle cx="1883.6" cy="995.3" r="5.2"/><circle cx="1892.4" cy="993.8" r="5.2"/><circle cx="1780.8" cy="1010" r="5.2"/><circle cx="1861.9" cy="1008.1" r="5.2"/><circle cx="1818.1" cy="1007.5" r="5.2"/><circle cx="1900.2" cy="990.9" r="5.2"/><circle cx="1758.2" cy="1033.8" r="5.2"/><circle cx="1894.7" cy="993.6" r="5.2"/><circle cx="1784.5" cy="1006.1" r="5.2"/><circle cx="1803.5" cy="1005.3" r="5.2"/><circle cx="1833.6" cy="1006.2" r="5.2"/><circle cx="1895.4" cy="996.3" r="5.2"/><circle cx="1910.5" cy="987.2" r="5.2"/><circle cx="1912.7" cy="987.6" r="5.2"/><circle cx="1873.5" cy="1008.7" r="5.2"/><circle cx="1883.2" cy="1005.3" r="5.2"/><circle cx="1894.4" cy="994" r="5.2"/></g>
<path d="M166.8 362.1v-3.3M259.7 362.1v-3.3M352.5 362.1v-3.3M445.3 362.1v-3.3M538.2 362.1v-3.3M631.0 362.1v-3.3M198.0 77.6v3.3M239.2 77.6v3.3M279.2 77.6v3.3M336.7 77.6v3.3M398.0 77.6v3.3M476.9 77.6v3.3M609.6 77.6v3.3M120.4 362.1h3.9M120.4 301.8h3.9M120.4 275.9h3.9M120.4 189.7h3.9M120.4 103.5h3.9M677.4 362.1v-3.3M770.3 362.1v-3.3M863.1 362.1v-3.3M955.9 362.1v-3.3M1048.8 362.1v-3.3M1141.6 362.1v-3.3M708.6 77.6v3.3M749.8 77.6v3.3M789.8 77.6v3.3M847.3 77.6v3.3M908.6 77.6v3.3M987.5 77.6v3.3M1120.2 77.6v3.3M631.0 362.1h3.9M631.0 301.8h3.9M631.0 275.9h3.9M631.0 189.7h3.9M631.0 103.5h3.9M1188.0 362.1v-3.3M1280.9 362.1v-3.3M1373.7 362.1v-3.3M1466.5 362.1v-3.3M1559.4 362.1v-3.3M1652.2 362.1v-3.3M1219.2 77.6v3.3M1260.4 77.6v3.3M1300.4 77.6v3.3M1357.9 77.6v3.3M1419.2 77.6v3.3M1498.1 77.6v3.3M1630.8 77.6v3.3M1141.6 362.1h3.9M1141.6 301.8h3.9M1141.6 275.9h3.9M1141.6 189.7h3.9M1141.6 103.5h3.9M1698.6 362.1v-3.3M1791.5 362.1v-3.3M1884.3 362.1v-3.3M1977.1 362.1v-3.3M2070.0 362.1v-3.3M2162.8 362.1v-3.3M1729.8 77.6v3.3M1771.0 77.6v3.3M1811.0 77.6v3.3M1868.5 77.6v3.3M1929.8 77.6v3.3M2008.7 77.6v3.3M2141.4 77.6v3.3M1652.2 362.1h3.9M1652.2 301.8h3.9M1652.2 275.9h3.9M1652.2 189.7h3.9M1652.2 103.5h3.9M166.8 646.5v-3.3M259.7 646.5v-3.3M352.5 646.5v-3.3M445.3 646.5v-3.3M538.2 646.5v-3.3M631.0 646.5v-3.3M120.4 646.5h3.9M120.4 586.3h3.9M120.4 560.3h3.9M120.4 474.2h3.9M120.4 388.0h3.9M677.4 646.5v-3.3M770.3 646.5v-3.3M863.1 646.5v-3.3M955.9 646.5v-3.3M1048.8 646.5v-3.3M1141.6 646.5v-3.3M631.0 646.5h3.9M631.0 586.3h3.9M631.0 560.3h3.9M631.0 474.2h3.9M631.0 388.0h3.9M1188.0 646.5v-3.3M1280.9 646.5v-3.3M1373.7 646.5v-3.3M1466.5 646.5v-3.3M1559.4 646.5v-3.3M1652.2 646.5v-3.3M1141.6 646.5h3.9M1141.6 586.3h3.9M1141.6 560.3h3.9M1141.6 474.2h3.9M1141.6 388.0h3.9M1698.6 646.5v-3.3M1791.5 646.5v-3.3M1884.3 646.5v-3.3M1977.1 646.5v-3.3M2070.0 646.5v-3.3M2162.8 646.5v-3.3M1652.2 646.5h3.9M1652.2 586.3h3.9M1652.2 560.3h3.9M1652.2 474.2h3.9M1652.2 388.0h3.9M166.8 931.0v-3.3M259.7 931.0v-3.3M352.5 931.0v-3.3M445.3 931.0v-3.3M538.2 931.0v-3.3M631.0 931.0v-3.3M120.4 931.0h3.9M120.4 870.7h3.9M120.4 844.8h3.9M120.4 758.6h3.9M120.4 672.4h3.9M677.4 931.0v-3.3M770.3 931.0v-3.3M863.1 931.0v-3.3M955.9 931.0v-3.3M1048.8 931.0v-3.3M1141.6 931.0v-3.3M631.0 931.0h3.9M631.0 870.7h3.9M631.0 844.8h3.9M631.0 758.6h3.9M631.0 672.4h3.9M1188.0 931.0v-3.3M1280.9 931.0v-3.3M1373.7 931.0v-3.3M1466.5 931.0v-3.3M1559.4 931.0v-3.3M1652.2 931.0v-3.3M1141.6 931.0h3.9M1141.6 870.7h3.9M1141.6 844.8h3.9M1141.6 758.6h3.9M1141.6 672.4h3.9M1698.6 931.0v-3.3M1791.5 931.0v-3.3M1884.3 931.0v-3.3M1977.1 931.0v-3.3M2070.0 931.0v-3.3M2162.8 931.0v-3.3M1652.2 931.0h3.9M1652.2 870.7h3.9M1652.2 844.8h3.9M1652.2 758.6h3.9M1652.2 672.4h3.9M166.8 1215.4v-3.3M259.7 1215.4v-3.3M352.5 1215.4v-3.3M445.3 1215.4v-3.3M538.2 1215.4v-3.3M631.0 1215.4v-3.3M120.4 1215.4h3.9M120.4 1155.2h3.9M120.4 1129.2h3.9M120.4 1043.1h3.9M120.4 956.9h3.9M677.4 1215.4v-3.3M770.3 1215.4v-3.3M863.1 1215.4v-3.3M955.9 1215.4v-3.3M1048.8 1215.4v-3.3M1141.6 1215.4v-3.3M631.0 1215.4h3.9M631.0 1155.2h3.9M631.0 1129.2h3.9M631.0 1043.1h3.9M631.0 956.9h3.9M1188.0 1215.4v-3.3M1280.9 1215.4v-3.3M1373.7 1215.4v-3.3M1466.5 1215.4v-3.3M1559.4 1215.4v-3.3M1652.2 1215.4v-3.3M1141.6 1215.4h3.9M1141.6 1155.2h3.9M1141.6 1129.2h3.9M1141.6 1043.1h3.9M1141.6 956.9h3.9M1698.6 1215.4v-3.3M1791.5 1215.4v-3.3M1884.3 1215.4v-3.3M1977.1 1215.4v-3.3M2070.0 1215.4v-3.3M2162.8 1215.4v-3.3M1652.2 1215.4h3.9M1652.2 1155.2h3.9M1652.2 1129.2h3.9M1652.2 1043.1h3.9M1652.2 956.9h3.9" stroke="#262324" stroke-width="1" fill="none"/>
<path d="M117.8 336.1h1.6M117.8 320.9h1.6M117.8 310.2h1.6M117.8 295.0h1.6M117.8 289.2h1.6M117.8 284.2h1.6M117.8 279.8h1.6M117.8 249.9h1.6M117.8 234.8h1.6M117.8 224.0h1.6M117.8 215.6h1.6M117.8 208.8h1.6M117.8 203.1h1.6M117.8 198.1h1.6M117.8 193.7h1.6M117.8 163.8h1.6M117.8 148.6h1.6M117.8 137.8h1.6M117.8 129.5h1.6M117.8 122.7h1.6M117.8 116.9h1.6M117.8 111.9h1.6M117.8 107.5h1.6M117.8 77.6h1.6M628.4 336.1h1.6M628.4 320.9h1.6M628.4 310.2h1.6M628.4 295.0h1.6M628.4 289.2h1.6M628.4 284.2h1.6M628.4 279.8h1.6M628.4 249.9h1.6M628.4 234.8h1.6M628.4 224.0h1.6M628.4 215.6h1.6M628.4 208.8h1.6M628.4 203.1h1.6M628.4 198.1h1.6M628.4 193.7h1.6M628.4 163.8h1.6M628.4 148.6h1.6M628.4 137.8h1.6M628.4 129.5h1.6M628.4 122.7h1.6M628.4 116.9h1.6M628.4 111.9h1.6M628.4 107.5h1.6M628.4 77.6h1.6M1139.0 336.1h1.6M1139.0 320.9h1.6M1139.0 310.2h1.6M1139.0 295.0h1.6M1139.0 289.2h1.6M1139.0 284.2h1.6M1139.0 279.8h1.6M1139.0 249.9h1.6M1139.0 234.8h1.6M1139.0 224.0h1.6M1139.0 215.6h1.6M1139.0 208.8h1.6M1139.0 203.1h1.6M1139.0 198.1h1.6M1139.0 193.7h1.6M1139.0 163.8h1.6M1139.0 148.6h1.6M1139.0 137.8h1.6M1139.0 129.5h1.6M1139.0 122.7h1.6M1139.0 116.9h1.6M1139.0 111.9h1.6M1139.0 107.5h1.6M1139.0 77.6h1.6M1649.6 336.1h1.6M1649.6 320.9h1.6M1649.6 310.2h1.6M1649.6 295.0h1.6M1649.6 289.2h1.6M1649.6 284.2h1.6M1649.6 279.8h1.6M1649.6 249.9h1.6M1649.6 234.8h1.6M1649.6 224.0h1.6M1649.6 215.6h1.6M1649.6 208.8h1.6M1649.6 203.1h1.6M1649.6 198.1h1.6M1649.6 193.7h1.6M1649.6 163.8h1.6M1649.6 148.6h1.6M1649.6 137.8h1.6M1649.6 129.5h1.6M1649.6 122.7h1.6M1649.6 116.9h1.6M1649.6 111.9h1.6M1649.6 107.5h1.6M1649.6 77.6h1.6M117.8 620.6h1.6M117.8 605.4h1.6M117.8 594.6h1.6M117.8 579.4h1.6M117.8 573.7h1.6M117.8 568.7h1.6M117.8 564.3h1.6M117.8 534.4h1.6M117.8 519.2h1.6M117.8 508.5h1.6M117.8 500.1h1.6M117.8 493.3h1.6M117.8 487.5h1.6M117.8 482.5h1.6M117.8 478.1h1.6M117.8 448.2h1.6M117.8 433.0h1.6M117.8 422.3h1.6M117.8 413.9h1.6M117.8 407.1h1.6M117.8 401.3h1.6M117.8 396.3h1.6M117.8 391.9h1.6M117.8 362.1h1.6M628.4 620.6h1.6M628.4 605.4h1.6M628.4 594.6h1.6M628.4 579.4h1.6M628.4 573.7h1.6M628.4 568.7h1.6M628.4 564.3h1.6M628.4 534.4h1.6M628.4 519.2h1.6M628.4 508.5h1.6M628.4 500.1h1.6M628.4 493.3h1.6M628.4 487.5h1.6M628.4 482.5h1.6M628.4 478.1h1.6M628.4 448.2h1.6M628.4 433.0h1.6M628.4 422.3h1.6M628.4 413.9h1.6M628.4 407.1h1.6M628.4 401.3h1.6M628.4 396.3h1.6M628.4 391.9h1.6M628.4 362.1h1.6M1139.0 620.6h1.6M1139.0 605.4h1.6M1139.0 594.6h1.6M1139.0 579.4h1.6M1139.0 573.7h1.6M1139.0 568.7h1.6M1139.0 564.3h1.6M1139.0 534.4h1.6M1139.0 519.2h1.6M1139.0 508.5h1.6M1139.0 500.1h1.6M1139.0 493.3h1.6M1139.0 487.5h1.6M1139.0 482.5h1.6M1139.0 478.1h1.6M1139.0 448.2h1.6M1139.0 433.0h1.6M1139.0 422.3h1.6M1139.0 413.9h1.6M1139.0 407.1h1.6M1139.0 401.3h1.6M1139.0 396.3h1.6M1139.0 391.9h1.6M1139.0 362.1h1.6M1649.6 620.6h1.6M1649.6 605.4h1.6M1649.6 594.6h1.6M1649.6 579.4h1.6M1649.6 573.7h1.6M1649.6 568.7h1.6M1649.6 564.3h1.6M1649.6 534.4h1.6M1649.6 519.2h1.6M1649.6 508.5h1.6M1649.6 500.1h1.6M1649.6 493.3h1.6M1649.6 487.5h1.6M1649.6 482.5h1.6M1649.6 478.1h1.6M1649.6 448.2h1.6M1649.6 433.0h1.6M1649.6 422.3h1.6M1649.6 413.9h1.6M1649.6 407.1h1.6M1649.6 401.3h1.6M1649.6 396.3h1.6M1649.6 391.9h1.6M1649.6 362.1h1.6M117.8 905.0h1.6M117.8 889.8h1.6M117.8 879.1h1.6M117.8 863.9h1.6M117.8 858.1h1.6M117.8 853.1h1.6M117.8 848.7h1.6M117.8 818.8h1.6M117.8 803.7h1.6M117.8 792.9h1.6M117.8 784.5h1.6M117.8 777.7h1.6M117.8 772.0h1.6M117.8 767.0h1.6M117.8 762.6h1.6M117.8 732.7h1.6M117.8 717.5h1.6M117.8 706.7h1.6M117.8 698.4h1.6M117.8 691.6h1.6M117.8 685.8h1.6M117.8 680.8h1.6M117.8 676.4h1.6M117.8 646.5h1.6M628.4 905.0h1.6M628.4 889.8h1.6M628.4 879.1h1.6M628.4 863.9h1.6M628.4 858.1h1.6M628.4 853.1h1.6M628.4 848.7h1.6M628.4 818.8h1.6M628.4 803.7h1.6M628.4 792.9h1.6M628.4 784.5h1.6M628.4 777.7h1.6M628.4 772.0h1.6M628.4 767.0h1.6M628.4 762.6h1.6M628.4 732.7h1.6M628.4 717.5h1.6M628.4 706.7h1.6M628.4 698.4h1.6M628.4 691.6h1.6M628.4 685.8h1.6M628.4 680.8h1.6M628.4 676.4h1.6M628.4 646.5h1.6M1139.0 905.0h1.6M1139.0 889.8h1.6M1139.0 879.1h1.6M1139.0 863.9h1.6M1139.0 858.1h1.6M1139.0 853.1h1.6M1139.0 848.7h1.6M1139.0 818.8h1.6M1139.0 803.7h1.6M1139.0 792.9h1.6M1139.0 784.5h1.6M1139.0 777.7h1.6M1139.0 772.0h1.6M1139.0 767.0h1.6M1139.0 762.6h1.6M1139.0 732.7h1.6M1139.0 717.5h1.6M1139.0 706.7h1.6M1139.0 698.4h1.6M1139.0 691.6h1.6M1139.0 685.8h1.6M1139.0 680.8h1.6M1139.0 676.4h1.6M1139.0 646.5h1.6M1649.6 905.0h1.6M1649.6 889.8h1.6M1649.6 879.1h1.6M1649.6 863.9h1.6M1649.6 858.1h1.6M1649.6 853.1h1.6M1649.6 848.7h1.6M1649.6 818.8h1.6M1649.6 803.7h1.6M1649.6 792.9h1.6M1649.6 784.5h1.6M1649.6 777.7h1.6M1649.6 772.0h1.6M1649.6 767.0h1.6M1649.6 762.6h1.6M1649.6 732.7h1.6M1649.6 717.5h1.6M1649.6 706.7h1.6M1649.6 698.4h1.6M1649.6 691.6h1.6M1649.6 685.8h1.6M1649.6 680.8h1.6M1649.6 676.4h1.6M1649.6 646.5h1.6M117.8 1189.5h1.6M117.8 1174.3h1.6M117.8 1163.5h1.6M117.8 1148.3h1.6M117.8 1142.6h1.6M117.8 1137.6h1.6M117.8 1133.2h1.6M117.8 1103.3h1.6M117.8 1088.1h1.6M117.8 1077.4h1.6M117.8 1069.0h1.6M117.8 1062.2h1.6M117.8 1056.4h1.6M117.8 1051.4h1.6M117.8 1047.0h1.6M117.8 1017.1h1.6M117.8 1001.9h1.6M117.8 991.2h1.6M117.8 982.8h1.6M117.8 976.0h1.6M117.8 970.2h1.6M117.8 965.2h1.6M117.8 960.8h1.6M117.8 931.0h1.6M628.4 1189.5h1.6M628.4 1174.3h1.6M628.4 1163.5h1.6M628.4 1148.3h1.6M628.4 1142.6h1.6M628.4 1137.6h1.6M628.4 1133.2h1.6M628.4 1103.3h1.6M628.4 1088.1h1.6M628.4 1077.4h1.6M628.4 1069.0h1.6M628.4 1062.2h1.6M628.4 1056.4h1.6M628.4 1051.4h1.6M628.4 1047.0h1.6M628.4 1017.1h1.6M628.4 1001.9h1.6M628.4 991.2h1.6M628.4 982.8h1.6M628.4 976.0h1.6M628.4 970.2h1.6M628.4 965.2h1.6M628.4 960.8h1.6M628.4 931.0h1.6M1139.0 1189.5h1.6M1139.0 1174.3h1.6M1139.0 1163.5h1.6M1139.0 1148.3h1.6M1139.0 1142.6h1.6M1139.0 1137.6h1.6M1139.0 1133.2h1.6M1139.0 1103.3h1.6M1139.0 1088.1h1.6M1139.0 1077.4h1.6M1139.0 1069.0h1.6M1139.0 1062.2h1.6M1139.0 1056.4h1.6M1139.0 1051.4h1.6M1139.0 1047.0h1.6M1139.0 1017.1h1.6M1139.0 1001.9h1.6M1139.0 991.2h1.6M1139.0 982.8h1.6M1139.0 976.0h1.6M1139.0 970.2h1.6M1139.0 965.2h1.6M1139.0 960.8h1.6M1139.0 931.0h1.6M1649.6 1189.5h1.6M1649.6 1174.3h1.6M1649.6 1163.5h1.6M1649.6 1148.3h1.6M1649.6 1142.6h1.6M1649.6 1137.6h1.6M1649.6 1133.2h1.6M1649.6 1103.3h1.6M1649.6 1088.1h1.6M1649.6 1077.4h1.6M1649.6 1069.0h1.6M1649.6 1062.2h1.6M1649.6 1056.4h1.6M1649.6 1051.4h1.6M1649.6 1047.0h1.6M1649.6 1017.1h1.6M1649.6 1001.9h1.6M1649.6 991.2h1.6M1649.6 982.8h1.6M1649.6 976.0h1.6M1649.6 970.2h1.6M1649.6 965.2h1.6M1649.6 960.8h1.6M1649.6 931.0h1.6" stroke="#262324" stroke-width="0.7" stroke-opacity="0.6" fill="none"/>
<path d="M120.40 76.40V1216.60M119.20 77.60H2164.00M631.00 76.40V1216.60M119.20 362.05H2164.00M1141.60 76.40V1216.60M119.20 646.50H2164.00M1652.20 76.40V1216.60M119.20 930.95H2164.00M2162.80 76.40V1216.60M119.20 1215.40H2164.00" stroke="#262324" stroke-width="2.4" fill="none"/>
<text x="117.0" y="113.7" font-size="25" text-anchor="end">100</text>
<text x="117.0" y="199.9" font-size="25" text-anchor="end">10</text>
<text x="117.0" y="286.1" font-size="25" text-anchor="end">1</text>
<text x="117.0" y="312.0" font-size="25" text-anchor="end">0.5</text>
<text x="117.0" y="398.2" font-size="25" text-anchor="end">100</text>
<text x="117.0" y="484.4" font-size="25" text-anchor="end">10</text>
<text x="117.0" y="570.5" font-size="25" text-anchor="end">1</text>
<text x="117.0" y="596.5" font-size="25" text-anchor="end">0.5</text>
<text x="117.0" y="682.6" font-size="25" text-anchor="end">100</text>
<text x="117.0" y="768.8" font-size="25" text-anchor="end">10</text>
<text x="117.0" y="855.0" font-size="25" text-anchor="end">1</text>
<text x="117.0" y="880.9" font-size="25" text-anchor="end">0.5</text>
<text x="117.0" y="967.1" font-size="25" text-anchor="end">100</text>
<text x="117.0" y="1053.3" font-size="25" text-anchor="end">10</text>
<text x="117.0" y="1139.4" font-size="25" text-anchor="end">1</text>
<text x="117.0" y="1165.4" font-size="25" text-anchor="end">0.5</text>
<text x="166.8" y="1239.7" font-size="25" text-anchor="middle">0</text>
<text x="259.7" y="1239.7" font-size="25" text-anchor="middle">1</text>
<text x="352.5" y="1239.7" font-size="25" text-anchor="middle">2</text>
<text x="445.3" y="1239.7" font-size="25" text-anchor="middle">3</text>
<text x="538.2" y="1239.7" font-size="25" text-anchor="middle">4</text>
<text x="631.0" y="1239.7" font-size="25" text-anchor="middle">5</text>
<text x="198.0" y="70.4" font-size="20.2" text-anchor="middle">F0</text>
<text x="239.2" y="70.4" font-size="20.2" text-anchor="middle">G0</text>
<text x="279.2" y="70.4" font-size="20.2" text-anchor="middle">K3</text>
<text x="336.7" y="70.4" font-size="20.2" text-anchor="middle">M0</text>
<text x="398.0" y="70.4" font-size="20.2" text-anchor="middle">M3</text>
<text x="476.9" y="70.4" font-size="20.2" text-anchor="middle">M5</text>
<text x="609.6" y="70.4" font-size="20.2" text-anchor="middle">M9</text>
<text x="677.4" y="1239.7" font-size="25" text-anchor="middle">0</text>
<text x="770.3" y="1239.7" font-size="25" text-anchor="middle">1</text>
<text x="863.1" y="1239.7" font-size="25" text-anchor="middle">2</text>
<text x="955.9" y="1239.7" font-size="25" text-anchor="middle">3</text>
<text x="1048.8" y="1239.7" font-size="25" text-anchor="middle">4</text>
<text x="1141.6" y="1239.7" font-size="25" text-anchor="middle">5</text>
<text x="708.6" y="70.4" font-size="20.2" text-anchor="middle">F0</text>
<text x="749.8" y="70.4" font-size="20.2" text-anchor="middle">G0</text>
<text x="789.8" y="70.4" font-size="20.2" text-anchor="middle">K3</text>
<text x="847.3" y="70.4" font-size="20.2" text-anchor="middle">M0</text>
<text x="908.6" y="70.4" font-size="20.2" text-anchor="middle">M3</text>
<text x="987.5" y="70.4" font-size="20.2" text-anchor="middle">M5</text>
<text x="1120.2" y="70.4" font-size="20.2" text-anchor="middle">M9</text>
<text x="1188.0" y="1239.7" font-size="25" text-anchor="middle">0</text>
<text x="1280.9" y="1239.7" font-size="25" text-anchor="middle">1</text>
<text x="1373.7" y="1239.7" font-size="25" text-anchor="middle">2</text>
<text x="1466.5" y="1239.7" font-size="25" text-anchor="middle">3</text>
<text x="1559.4" y="1239.7" font-size="25" text-anchor="middle">4</text>
<text x="1652.2" y="1239.7" font-size="25" text-anchor="middle">5</text>
<text x="1219.2" y="70.4" font-size="20.2" text-anchor="middle">F0</text>
<text x="1260.4" y="70.4" font-size="20.2" text-anchor="middle">G0</text>
<text x="1300.4" y="70.4" font-size="20.2" text-anchor="middle">K3</text>
<text x="1357.9" y="70.4" font-size="20.2" text-anchor="middle">M0</text>
<text x="1419.2" y="70.4" font-size="20.2" text-anchor="middle">M3</text>
<text x="1498.1" y="70.4" font-size="20.2" text-anchor="middle">M5</text>
<text x="1630.8" y="70.4" font-size="20.2" text-anchor="middle">M9</text>
<text x="1698.6" y="1239.7" font-size="25" text-anchor="middle">0</text>
<text x="1791.5" y="1239.7" font-size="25" text-anchor="middle">1</text>
<text x="1884.3" y="1239.7" font-size="25" text-anchor="middle">2</text>
<text x="1977.1" y="1239.7" font-size="25" text-anchor="middle">3</text>
<text x="2070.0" y="1239.7" font-size="25" text-anchor="middle">4</text>
<text x="2162.8" y="1239.7" font-size="25" text-anchor="middle">5</text>
<text x="1729.8" y="70.4" font-size="20.2" text-anchor="middle">F0</text>
<text x="1771.0" y="70.4" font-size="20.2" text-anchor="middle">G0</text>
<text x="1811.0" y="70.4" font-size="20.2" text-anchor="middle">K3</text>
<text x="1868.5" y="70.4" font-size="20.2" text-anchor="middle">M0</text>
<text x="1929.8" y="70.4" font-size="20.2" text-anchor="middle">M3</text>
<text x="2008.7" y="70.4" font-size="20.2" text-anchor="middle">M5</text>
<text x="2141.4" y="70.4" font-size="20.2" text-anchor="middle">M9</text>
<text x="260.4" y="111.9" font-size="25">Taurus (4 Myr)</text>
<text x="771.0" y="111.9" font-size="25"><tspan class="i">ρ</tspan> Ophiuchus (9 Myr)</text>
<text x="1281.6" y="111.9" font-size="25">Upper Scorpius (19 Myr)</text>
<text x="1792.2" y="111.9" font-size="25">M35 (112 Myr)</text>
<text x="260.4" y="396.8" font-size="25">Pleiades (123 Myr)</text>
<text x="771.0" y="396.8" font-size="25">NGC 1647 (263 Myr)</text>
<text x="1281.6" y="396.8" font-size="25">NGC 1750 (316 Myr)</text>
<text x="1792.2" y="396.8" font-size="25">NGC 1758 (549 Myr)</text>
<text x="260.4" y="681.7" font-size="25">Praesepe (741 Myr)</text>
<text x="771.0" y="681.7" font-size="25">Hyades (758 Myr)</text>
<text x="1281.6" y="681.7" font-size="25">NGC 6866 (794 Myr)</text>
<text x="1792.2" y="681.7" font-size="25">NGC 6811 (1096 Myr)</text>
<text x="260.4" y="975.9" font-size="25">NGC 1817 (1445 Myr)</text>
<text x="771.0" y="975.9" font-size="25">NGC 6774 (2754 Myr)</text>
<text x="1281.6" y="975.9" font-size="25">NGC 6819 (2884 Myr)</text>
<text x="1792.2" y="975.9" font-size="25">M67 (4168 Myr)</text>
<text class="s" font-size="29.2" text-anchor="middle" transform="translate(24.1,651) rotate(-90)">Prot (day)</text>
<text font-size="29.6" y="1299.4"><tspan x="976.3">(</tspan><tspan x="986.5" font-size="30.5" style="font-style:italic">G</tspan><tspan x="1009" dy="4.2" font-size="20.4" style="font-style:italic">BP</tspan><tspan x="1041.5" dy="-4.2">−</tspan><tspan x="1072.3" font-size="30.5" style="font-style:italic">G</tspan><tspan x="1095" dy="4.2" font-size="20.4" style="font-style:italic">RP</tspan><tspan x="1123" dy="-4.2">)</tspan><tspan x="1133.6" dy="4.2" font-size="20.4">0</tspan></text>
<text class="s" font-size="29.2" x="1157.5" y="1299.6">(mag)</text>
<path d="M921.9 0.0V24.8" stroke="#b0b3b6" stroke-width="1.5"/><path d="M921.9 4.6l7.8 7.8l-7.8 7.8l-7.8 -7.8z" fill="none" stroke="#a3a6aa" stroke-width="1.1"/>
<text x="966.6" y="22" font-size="24.9">Binary</text>
<path d="M1122.6 0.0V24.8" stroke="#333335" stroke-width="1.6"/><circle cx="1122.6" cy="12.4" r="5.2" fill="#111113" fill-opacity="0.75" stroke="#fff" stroke-width="1"/>
<text x="1167.8" y="22" font-size="24.9">MS Single</text>
</svg></body></html>
